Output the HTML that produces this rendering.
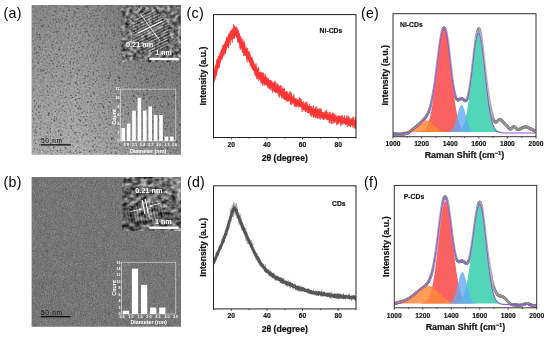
<!DOCTYPE html>
<html lang="en"><head><meta charset="utf-8"><title>Figure: TEM, XRD and Raman of Ni-CDs and CDs</title>
<style>
html,body{margin:0;padding:0;background:#fff;}
body{width:550px;height:338px;overflow:hidden;}
svg{display:block;font-family:"Liberation Sans", Arial, sans-serif;}
.pl{font-size:14.2px;fill:#000;letter-spacing:0.25px;}
.ax{font-size:8.7px;font-weight:bold;fill:#111;text-anchor:middle;stroke:#111;stroke-width:0.2px;}
.tk{font-size:6.7px;font-weight:bold;fill:#111;text-anchor:middle;stroke:#111;stroke-width:0.15px;}
.lb{font-size:6.8px;font-weight:bold;fill:#111;stroke:#111;stroke-width:0.15px;}
.w{fill:#fff;font-weight:bold;}
</style></head><body>
<svg width="550" height="338" viewBox="0 0 550 338">
<defs>
<filter id="na" x="0" y="0" width="100%" height="100%" color-interpolation-filters="sRGB"><feTurbulence type="fractalNoise" baseFrequency="0.6" numOctaves="2" seed="3" result="t"/><feColorMatrix in="t" type="matrix" values="0.3 0 0 0 0.525  0.3 0 0 0 0.525  0.3 0 0 0 0.525  0 0 0 0 1"/></filter>
<filter id="nb" x="0" y="0" width="100%" height="100%" color-interpolation-filters="sRGB"><feTurbulence type="fractalNoise" baseFrequency="1.9" numOctaves="1" seed="11" result="t"/><feColorMatrix in="t" type="matrix" values="0.3 0 0 0 0.31  0.3 0 0 0 0.31  0.3 0 0 0 0.31  0 0 0 0 1"/></filter>
<filter id="ha" x="0" y="0" width="100%" height="100%" color-interpolation-filters="sRGB"><feTurbulence type="fractalNoise" baseFrequency="0.27" numOctaves="2" seed="5" result="t"/><feColorMatrix in="t" type="matrix" values="1.05 0 0 0 -0.08  1.05 0 0 0 -0.08  1.05 0 0 0 -0.08  0 0 0 0 1"/><feGaussianBlur stdDeviation="0.6"/></filter>
<filter id="hb" x="0" y="0" width="100%" height="100%" color-interpolation-filters="sRGB"><feTurbulence type="fractalNoise" baseFrequency="0.17 0.24" numOctaves="2" seed="4" result="t"/><feColorMatrix in="t" type="matrix" values="1.35 0 0 0 -0.24  1.35 0 0 0 -0.24  1.35 0 0 0 -0.24  0 0 0 0 1"/><feGaussianBlur stdDeviation="0.6"/></filter>
<filter id="soft" x="-10%" y="-10%" width="120%" height="120%"><feGaussianBlur stdDeviation="0.4"/></filter>
<filter id="soft2" x="-10%" y="-10%" width="120%" height="120%"><feGaussianBlur stdDeviation="1.2"/></filter>
<linearGradient id="ga" x1="0" y1="1" x2="0" y2="0"><stop offset="0" stop-color="#000" stop-opacity="0"/><stop offset="1" stop-color="#000" stop-opacity="0.2"/></linearGradient>
<linearGradient id="ga2" x1="0" y1="0" x2="1" y2="0"><stop offset="0" stop-color="#000" stop-opacity="0.03"/><stop offset="0.3" stop-color="#000" stop-opacity="0"/><stop offset="0.75" stop-color="#000" stop-opacity="0.15"/><stop offset="1" stop-color="#000" stop-opacity="0.21"/></linearGradient>
<clipPath id="ca"><rect x="31.6" y="5.1" width="149.4" height="149.6"/></clipPath>
<clipPath id="cb"><rect x="31.6" y="177" width="149.4" height="149.8"/></clipPath>
<clipPath id="cc"><rect x="213.5" y="14.6" width="142.5" height="122.9"/></clipPath>
<clipPath id="cd"><rect x="213.5" y="185.8" width="142.5" height="123.1"/></clipPath>
<clipPath id="ce"><rect x="393" y="13.7" width="143" height="123"/></clipPath>
<clipPath id="cf"><rect x="394.3" y="185.4" width="142.4" height="122.4"/></clipPath>
</defs>
<rect width="550" height="338" fill="#fff"/>
<text class="pl" x="3.6" y="17.6">(a)</text>
<text class="pl" x="3.6" y="186.6">(b)</text>
<text class="pl" x="186.6" y="17.6">(c)</text>
<text class="pl" x="187" y="186.6">(d)</text>
<text class="pl" x="361" y="17.6">(e)</text>
<text class="pl" x="364" y="186.6">(f)</text>
<g clip-path="url(#ca)">
<rect x="31" y="5" width="150" height="150" filter="url(#na)"/>
<rect x="31" y="5" width="150" height="150" fill="url(#ga)"/>
<rect x="31" y="5" width="150" height="150" fill="url(#ga2)"/>
<g fill="#2c2c2c" filter="url(#soft)">
<circle cx="32.51" cy="7.22" r="0.5" opacity="0.55"/>
<circle cx="41.85" cy="5.73" r="0.5" opacity="0.45"/>
<circle cx="42.97" cy="6.88" r="0.5" opacity="0.55"/>
<circle cx="46.3" cy="7.14" r="0.5" opacity="0.55"/>
<circle cx="49.1" cy="5.75" r="0.7" opacity="0.3"/>
<circle cx="52.81" cy="5.4" r="0.6" opacity="0.55"/>
<circle cx="56.32" cy="6.98" r="0.75" opacity="0.3"/>
<circle cx="60.95" cy="5.21" r="0.5" opacity="0.55"/>
<circle cx="64.78" cy="6.46" r="0.6" opacity="0.45"/>
<circle cx="67.4" cy="6.02" r="0.85" opacity="0.3"/>
<circle cx="70.08" cy="6.96" r="0.7" opacity="0.45"/>
<circle cx="75.11" cy="5.98" r="0.5" opacity="0.25"/>
<circle cx="76.58" cy="6.17" r="0.65" opacity="0.45"/>
<circle cx="85.38" cy="6.95" r="0.85" opacity="0.4"/>
<circle cx="87.37" cy="6.69" r="0.85" opacity="0.45"/>
<circle cx="98.7" cy="5.22" r="0.75" opacity="0.7"/>
<circle cx="101.68" cy="7.32" r="0.65" opacity="0.4"/>
<circle cx="106.12" cy="6.18" r="0.65" opacity="0.4"/>
<circle cx="106.9" cy="5.2" r="0.85" opacity="0.4"/>
<circle cx="110.72" cy="6.33" r="0.85" opacity="0.45"/>
<circle cx="118.52" cy="8.01" r="0.85" opacity="0.45"/>
<circle cx="120.99" cy="6.42" r="0.6" opacity="0.7"/>
<circle cx="126.68" cy="5.51" r="0.55" opacity="0.3"/>
<circle cx="127.61" cy="6.65" r="0.7" opacity="0.3"/>
<circle cx="130.22" cy="6.43" r="0.6" opacity="0.55"/>
<circle cx="136.82" cy="7.35" r="0.7" opacity="0.55"/>
<circle cx="139.48" cy="6.56" r="0.85" opacity="0.7"/>
<circle cx="141.69" cy="6.36" r="0.5" opacity="0.45"/>
<circle cx="143.96" cy="5.23" r="0.55" opacity="0.45"/>
<circle cx="148.29" cy="5.18" r="0.5" opacity="0.55"/>
<circle cx="150.87" cy="6.24" r="0.5" opacity="0.25"/>
<circle cx="155.99" cy="5.51" r="0.6" opacity="0.4"/>
<circle cx="158.9" cy="5.39" r="0.65" opacity="0.45"/>
<circle cx="161.74" cy="5.49" r="0.75" opacity="0.4"/>
<circle cx="165.69" cy="7.36" r="0.7" opacity="0.25"/>
<circle cx="170.68" cy="6.23" r="0.75" opacity="0.55"/>
<circle cx="173.41" cy="6.02" r="0.75" opacity="0.25"/>
<circle cx="175.11" cy="6.25" r="0.55" opacity="0.4"/>
<circle cx="179.42" cy="7.66" r="0.6" opacity="0.7"/>
<circle cx="34.75" cy="11.77" r="0.85" opacity="0.3"/>
<circle cx="38.16" cy="10.93" r="0.55" opacity="0.3"/>
<circle cx="39.98" cy="8.51" r="0.5" opacity="0.4"/>
<circle cx="42.81" cy="10.47" r="0.6" opacity="0.45"/>
<circle cx="47.99" cy="9.6" r="0.6" opacity="0.25"/>
<circle cx="49.7" cy="9.08" r="0.55" opacity="0.45"/>
<circle cx="55.37" cy="11.27" r="0.65" opacity="0.7"/>
<circle cx="57.88" cy="11.25" r="0.5" opacity="0.45"/>
<circle cx="61.63" cy="10.04" r="0.55" opacity="0.45"/>
<circle cx="63.6" cy="11.14" r="0.75" opacity="0.45"/>
<circle cx="68.38" cy="8.7" r="0.55" opacity="0.3"/>
<circle cx="69.34" cy="10.42" r="0.65" opacity="0.7"/>
<circle cx="75.44" cy="11.75" r="0.75" opacity="0.4"/>
<circle cx="77.88" cy="8.48" r="0.85" opacity="0.7"/>
<circle cx="81.19" cy="11.59" r="0.65" opacity="0.3"/>
<circle cx="83.51" cy="9.27" r="0.6" opacity="0.55"/>
<circle cx="88.17" cy="9.29" r="0.65" opacity="0.3"/>
<circle cx="95.99" cy="10.67" r="0.85" opacity="0.55"/>
<circle cx="99.45" cy="10.12" r="0.7" opacity="0.3"/>
<circle cx="99.79" cy="9.91" r="0.55" opacity="0.55"/>
<circle cx="107.08" cy="10.02" r="0.75" opacity="0.25"/>
<circle cx="110.99" cy="10.18" r="0.7" opacity="0.45"/>
<circle cx="113.63" cy="10.32" r="0.55" opacity="0.3"/>
<circle cx="119.27" cy="10.14" r="0.7" opacity="0.25"/>
<circle cx="123.14" cy="9.92" r="0.7" opacity="0.55"/>
<circle cx="124.11" cy="9.35" r="0.7" opacity="0.55"/>
<circle cx="128.54" cy="9.25" r="0.7" opacity="0.4"/>
<circle cx="133.23" cy="9.1" r="0.65" opacity="0.3"/>
<circle cx="134.92" cy="9.49" r="0.75" opacity="0.3"/>
<circle cx="137.7" cy="9.44" r="0.5" opacity="0.3"/>
<circle cx="142.54" cy="9.66" r="0.6" opacity="0.3"/>
<circle cx="144.49" cy="11.66" r="0.65" opacity="0.45"/>
<circle cx="149.4" cy="9.17" r="0.75" opacity="0.45"/>
<circle cx="151.89" cy="9.85" r="0.6" opacity="0.4"/>
<circle cx="158.44" cy="9.97" r="0.75" opacity="0.25"/>
<circle cx="162.43" cy="9.42" r="0.5" opacity="0.25"/>
<circle cx="166.74" cy="11.72" r="0.5" opacity="0.25"/>
<circle cx="167.59" cy="11.06" r="0.6" opacity="0.3"/>
<circle cx="173.72" cy="10.71" r="0.6" opacity="0.45"/>
<circle cx="177.34" cy="10.35" r="0.75" opacity="0.4"/>
<circle cx="36.83" cy="12.07" r="0.5" opacity="0.7"/>
<circle cx="44.22" cy="12.58" r="0.6" opacity="0.25"/>
<circle cx="46.69" cy="13.7" r="0.6" opacity="0.55"/>
<circle cx="50.72" cy="12.63" r="0.5" opacity="0.3"/>
<circle cx="52.93" cy="15" r="0.75" opacity="0.4"/>
<circle cx="56.4" cy="13.34" r="0.75" opacity="0.3"/>
<circle cx="61.81" cy="15.21" r="0.5" opacity="0.25"/>
<circle cx="69.18" cy="13.57" r="0.55" opacity="0.45"/>
<circle cx="74.1" cy="13.51" r="0.85" opacity="0.45"/>
<circle cx="77.06" cy="12.55" r="0.55" opacity="0.4"/>
<circle cx="82.4" cy="14.3" r="0.55" opacity="0.45"/>
<circle cx="86.12" cy="14.67" r="0.5" opacity="0.25"/>
<circle cx="89.16" cy="13.29" r="0.5" opacity="0.25"/>
<circle cx="90.86" cy="13.54" r="0.6" opacity="0.55"/>
<circle cx="93.95" cy="13.38" r="0.55" opacity="0.4"/>
<circle cx="97.23" cy="15.1" r="0.7" opacity="0.4"/>
<circle cx="103" cy="12.87" r="0.6" opacity="0.3"/>
<circle cx="108.11" cy="13.53" r="0.55" opacity="0.3"/>
<circle cx="109.9" cy="12.72" r="0.5" opacity="0.3"/>
<circle cx="113.41" cy="11.89" r="0.6" opacity="0.7"/>
<circle cx="118.64" cy="13.62" r="0.85" opacity="0.3"/>
<circle cx="122.47" cy="14.82" r="0.65" opacity="0.4"/>
<circle cx="125.11" cy="12.79" r="0.7" opacity="0.7"/>
<circle cx="129.61" cy="14.26" r="0.7" opacity="0.7"/>
<circle cx="132.58" cy="13.54" r="0.7" opacity="0.55"/>
<circle cx="136.34" cy="11.87" r="0.75" opacity="0.55"/>
<circle cx="139.39" cy="15.08" r="0.75" opacity="0.3"/>
<circle cx="150.39" cy="13.1" r="0.65" opacity="0.55"/>
<circle cx="158.12" cy="12.72" r="0.65" opacity="0.25"/>
<circle cx="162.39" cy="13.64" r="0.75" opacity="0.55"/>
<circle cx="168.31" cy="12.07" r="0.6" opacity="0.3"/>
<circle cx="171.54" cy="14.34" r="0.65" opacity="0.45"/>
<circle cx="174.49" cy="14.92" r="0.6" opacity="0.25"/>
<circle cx="179.79" cy="12.08" r="0.55" opacity="0.4"/>
<circle cx="34.52" cy="16.27" r="0.7" opacity="0.3"/>
<circle cx="44.43" cy="17.59" r="0.75" opacity="0.45"/>
<circle cx="47.29" cy="16.81" r="0.65" opacity="0.25"/>
<circle cx="50.79" cy="16.29" r="0.5" opacity="0.45"/>
<circle cx="58.48" cy="18.53" r="0.65" opacity="0.4"/>
<circle cx="62.19" cy="18.4" r="0.5" opacity="0.55"/>
<circle cx="66.75" cy="16.45" r="0.7" opacity="0.7"/>
<circle cx="72.25" cy="17.63" r="0.55" opacity="0.45"/>
<circle cx="74.28" cy="15.31" r="0.5" opacity="0.45"/>
<circle cx="77.4" cy="17.71" r="0.65" opacity="0.4"/>
<circle cx="79.82" cy="16.36" r="0.6" opacity="0.4"/>
<circle cx="83.2" cy="18.39" r="0.75" opacity="0.25"/>
<circle cx="87.16" cy="16.5" r="0.65" opacity="0.45"/>
<circle cx="91.56" cy="16.46" r="0.65" opacity="0.4"/>
<circle cx="93.9" cy="15.4" r="0.75" opacity="0.4"/>
<circle cx="96.85" cy="18.54" r="0.65" opacity="0.55"/>
<circle cx="102.35" cy="17.9" r="0.65" opacity="0.25"/>
<circle cx="105.25" cy="18.34" r="0.7" opacity="0.55"/>
<circle cx="106.77" cy="18.41" r="0.65" opacity="0.45"/>
<circle cx="110.36" cy="18.19" r="0.65" opacity="0.25"/>
<circle cx="115.14" cy="15.81" r="0.65" opacity="0.4"/>
<circle cx="117.53" cy="17.75" r="0.75" opacity="0.4"/>
<circle cx="120.85" cy="16.87" r="0.75" opacity="0.45"/>
<circle cx="127.07" cy="16.93" r="0.85" opacity="0.45"/>
<circle cx="131.74" cy="16.36" r="0.85" opacity="0.45"/>
<circle cx="135.45" cy="16.06" r="0.55" opacity="0.4"/>
<circle cx="138.06" cy="16.48" r="0.85" opacity="0.55"/>
<circle cx="140.43" cy="18.2" r="0.65" opacity="0.45"/>
<circle cx="144.46" cy="16.15" r="0.85" opacity="0.25"/>
<circle cx="149.08" cy="16.46" r="0.75" opacity="0.55"/>
<circle cx="153.2" cy="18.12" r="0.5" opacity="0.4"/>
<circle cx="155.21" cy="17.43" r="0.65" opacity="0.4"/>
<circle cx="160.25" cy="15.3" r="0.5" opacity="0.45"/>
<circle cx="163.71" cy="16.84" r="0.7" opacity="0.45"/>
<circle cx="170.59" cy="18.04" r="0.85" opacity="0.45"/>
<circle cx="171.68" cy="15.6" r="0.55" opacity="0.3"/>
<circle cx="176.54" cy="18.44" r="0.75" opacity="0.7"/>
<circle cx="180.2" cy="16.79" r="0.7" opacity="0.25"/>
<circle cx="37.31" cy="18.76" r="0.75" opacity="0.4"/>
<circle cx="40.89" cy="20.44" r="0.65" opacity="0.7"/>
<circle cx="42.5" cy="19.66" r="0.7" opacity="0.3"/>
<circle cx="46.3" cy="20.69" r="0.5" opacity="0.55"/>
<circle cx="50.49" cy="21.91" r="0.75" opacity="0.3"/>
<circle cx="53.11" cy="19.48" r="0.65" opacity="0.7"/>
<circle cx="55.89" cy="19.3" r="0.75" opacity="0.7"/>
<circle cx="59.96" cy="20.91" r="0.6" opacity="0.3"/>
<circle cx="64.83" cy="21.09" r="0.6" opacity="0.7"/>
<circle cx="65.89" cy="19.63" r="0.85" opacity="0.55"/>
<circle cx="73.32" cy="21.25" r="0.55" opacity="0.3"/>
<circle cx="76.92" cy="21.67" r="0.5" opacity="0.55"/>
<circle cx="80.04" cy="19.4" r="0.65" opacity="0.7"/>
<circle cx="89.3" cy="18.82" r="0.5" opacity="0.55"/>
<circle cx="89.74" cy="18.84" r="0.65" opacity="0.45"/>
<circle cx="95.95" cy="21.13" r="0.5" opacity="0.3"/>
<circle cx="96.97" cy="21.83" r="0.75" opacity="0.45"/>
<circle cx="104.4" cy="19.91" r="0.6" opacity="0.45"/>
<circle cx="106.51" cy="19.59" r="0.6" opacity="0.45"/>
<circle cx="110.31" cy="21.92" r="0.55" opacity="0.45"/>
<circle cx="116.05" cy="21.44" r="0.65" opacity="0.25"/>
<circle cx="121.31" cy="21.77" r="0.55" opacity="0.4"/>
<circle cx="126.47" cy="18.74" r="0.65" opacity="0.3"/>
<circle cx="129.41" cy="18.77" r="0.5" opacity="0.45"/>
<circle cx="134.46" cy="21.18" r="0.7" opacity="0.4"/>
<circle cx="138.11" cy="21.89" r="0.5" opacity="0.4"/>
<circle cx="142.7" cy="21.79" r="0.6" opacity="0.25"/>
<circle cx="145.77" cy="21.38" r="0.5" opacity="0.25"/>
<circle cx="147.5" cy="21.08" r="0.65" opacity="0.45"/>
<circle cx="153.62" cy="21.41" r="0.55" opacity="0.45"/>
<circle cx="156.63" cy="21.15" r="0.85" opacity="0.7"/>
<circle cx="159.35" cy="19.75" r="0.6" opacity="0.45"/>
<circle cx="163.33" cy="18.91" r="0.55" opacity="0.45"/>
<circle cx="164.91" cy="18.86" r="0.5" opacity="0.45"/>
<circle cx="168.56" cy="21.98" r="0.5" opacity="0.25"/>
<circle cx="171.13" cy="18.97" r="0.65" opacity="0.7"/>
<circle cx="174.81" cy="19.09" r="0.65" opacity="0.55"/>
<circle cx="178.41" cy="20.47" r="0.85" opacity="0.7"/>
<circle cx="34.64" cy="23.05" r="0.6" opacity="0.55"/>
<circle cx="36.25" cy="22.93" r="0.65" opacity="0.3"/>
<circle cx="39.57" cy="23" r="0.7" opacity="0.3"/>
<circle cx="43.5" cy="25.43" r="0.7" opacity="0.55"/>
<circle cx="48.28" cy="24.27" r="0.5" opacity="0.25"/>
<circle cx="53.1" cy="23.57" r="0.6" opacity="0.25"/>
<circle cx="56.49" cy="22.22" r="0.7" opacity="0.55"/>
<circle cx="59.35" cy="23.79" r="0.55" opacity="0.45"/>
<circle cx="65.1" cy="24.31" r="0.5" opacity="0.25"/>
<circle cx="68.27" cy="23.24" r="0.5" opacity="0.4"/>
<circle cx="69.4" cy="25.45" r="0.5" opacity="0.55"/>
<circle cx="75.73" cy="24.82" r="0.85" opacity="0.4"/>
<circle cx="77.28" cy="24.16" r="0.5" opacity="0.3"/>
<circle cx="84.43" cy="23.44" r="0.85" opacity="0.45"/>
<circle cx="86.71" cy="23.87" r="0.75" opacity="0.3"/>
<circle cx="90.49" cy="25.41" r="0.75" opacity="0.4"/>
<circle cx="93.13" cy="24.59" r="0.6" opacity="0.45"/>
<circle cx="99.27" cy="25.44" r="0.6" opacity="0.7"/>
<circle cx="102.19" cy="22.74" r="0.5" opacity="0.45"/>
<circle cx="104.55" cy="24.84" r="0.65" opacity="0.55"/>
<circle cx="108.06" cy="22.6" r="0.5" opacity="0.25"/>
<circle cx="112.06" cy="25.15" r="0.5" opacity="0.55"/>
<circle cx="114.53" cy="23.77" r="0.55" opacity="0.4"/>
<circle cx="118.42" cy="25.2" r="0.5" opacity="0.45"/>
<circle cx="122.77" cy="25.34" r="0.55" opacity="0.4"/>
<circle cx="126.63" cy="25.37" r="0.65" opacity="0.4"/>
<circle cx="131.52" cy="25.13" r="0.7" opacity="0.7"/>
<circle cx="134.13" cy="24.72" r="0.55" opacity="0.55"/>
<circle cx="139.84" cy="24.87" r="0.55" opacity="0.55"/>
<circle cx="141.72" cy="23.81" r="0.65" opacity="0.4"/>
<circle cx="144.59" cy="24.52" r="0.55" opacity="0.25"/>
<circle cx="149.99" cy="24.34" r="0.75" opacity="0.4"/>
<circle cx="155.77" cy="24.18" r="0.6" opacity="0.7"/>
<circle cx="159.27" cy="23.5" r="0.75" opacity="0.4"/>
<circle cx="162.17" cy="22.13" r="0.7" opacity="0.45"/>
<circle cx="165.58" cy="24.15" r="0.85" opacity="0.45"/>
<circle cx="170.2" cy="23.41" r="0.5" opacity="0.3"/>
<circle cx="172.08" cy="24.78" r="0.7" opacity="0.55"/>
<circle cx="174.36" cy="22.49" r="0.75" opacity="0.4"/>
<circle cx="179.35" cy="22.23" r="0.7" opacity="0.45"/>
<circle cx="34.66" cy="25.54" r="0.5" opacity="0.55"/>
<circle cx="38.15" cy="26.11" r="0.65" opacity="0.4"/>
<circle cx="41.87" cy="26.02" r="0.85" opacity="0.7"/>
<circle cx="42.38" cy="26.65" r="0.85" opacity="0.4"/>
<circle cx="48.58" cy="26.39" r="0.85" opacity="0.45"/>
<circle cx="50.63" cy="28.59" r="0.55" opacity="0.55"/>
<circle cx="54.03" cy="26.54" r="0.5" opacity="0.3"/>
<circle cx="56.25" cy="28.65" r="0.75" opacity="0.4"/>
<circle cx="59.66" cy="28.13" r="0.5" opacity="0.55"/>
<circle cx="69.14" cy="27" r="0.7" opacity="0.55"/>
<circle cx="72.28" cy="26.31" r="0.7" opacity="0.7"/>
<circle cx="75.14" cy="26.72" r="0.65" opacity="0.4"/>
<circle cx="77.24" cy="28.06" r="0.65" opacity="0.3"/>
<circle cx="81.93" cy="25.62" r="0.85" opacity="0.55"/>
<circle cx="84.96" cy="28.81" r="0.7" opacity="0.7"/>
<circle cx="88.66" cy="28" r="0.55" opacity="0.3"/>
<circle cx="91.69" cy="26.88" r="0.6" opacity="0.25"/>
<circle cx="93.72" cy="27.68" r="0.5" opacity="0.25"/>
<circle cx="100.09" cy="26.67" r="0.55" opacity="0.45"/>
<circle cx="105.11" cy="26.15" r="0.7" opacity="0.45"/>
<circle cx="106.55" cy="28.19" r="0.75" opacity="0.3"/>
<circle cx="110.1" cy="25.95" r="0.75" opacity="0.4"/>
<circle cx="114.17" cy="25.49" r="0.75" opacity="0.55"/>
<circle cx="118.67" cy="27.43" r="0.7" opacity="0.55"/>
<circle cx="120.89" cy="28.53" r="0.5" opacity="0.25"/>
<circle cx="124.81" cy="26.26" r="0.5" opacity="0.25"/>
<circle cx="133.39" cy="25.94" r="0.55" opacity="0.55"/>
<circle cx="135.31" cy="27.64" r="0.85" opacity="0.55"/>
<circle cx="138.02" cy="26.48" r="0.5" opacity="0.7"/>
<circle cx="142.79" cy="25.48" r="0.85" opacity="0.45"/>
<circle cx="145.33" cy="27.98" r="0.65" opacity="0.3"/>
<circle cx="147.49" cy="26.25" r="0.5" opacity="0.25"/>
<circle cx="153.06" cy="27.82" r="0.85" opacity="0.4"/>
<circle cx="154.81" cy="27.34" r="0.65" opacity="0.7"/>
<circle cx="159.07" cy="26.36" r="0.75" opacity="0.3"/>
<circle cx="164.64" cy="28.54" r="0.85" opacity="0.7"/>
<circle cx="167.99" cy="28.57" r="0.55" opacity="0.45"/>
<circle cx="171.65" cy="28.55" r="0.75" opacity="0.7"/>
<circle cx="177.08" cy="27.28" r="0.65" opacity="0.55"/>
<circle cx="180.52" cy="26.95" r="0.75" opacity="0.3"/>
<circle cx="33.04" cy="29.59" r="0.7" opacity="0.55"/>
<circle cx="39.26" cy="28.96" r="0.5" opacity="0.55"/>
<circle cx="43.33" cy="29.35" r="0.5" opacity="0.25"/>
<circle cx="51.08" cy="31.24" r="0.75" opacity="0.25"/>
<circle cx="56.94" cy="31.65" r="0.85" opacity="0.55"/>
<circle cx="59.31" cy="31.82" r="0.75" opacity="0.45"/>
<circle cx="66.24" cy="28.98" r="0.85" opacity="0.7"/>
<circle cx="74.78" cy="30.49" r="0.55" opacity="0.25"/>
<circle cx="78.21" cy="29.87" r="0.6" opacity="0.45"/>
<circle cx="80.6" cy="32.03" r="0.5" opacity="0.7"/>
<circle cx="85.88" cy="31.49" r="0.7" opacity="0.55"/>
<circle cx="87.16" cy="31.41" r="0.85" opacity="0.45"/>
<circle cx="93.29" cy="30.46" r="0.5" opacity="0.55"/>
<circle cx="98.76" cy="31.69" r="0.7" opacity="0.4"/>
<circle cx="99.73" cy="29.55" r="0.85" opacity="0.25"/>
<circle cx="108.16" cy="31.58" r="0.55" opacity="0.45"/>
<circle cx="113.13" cy="30.62" r="0.7" opacity="0.3"/>
<circle cx="114" cy="31.25" r="0.65" opacity="0.3"/>
<circle cx="120.32" cy="31.55" r="0.75" opacity="0.55"/>
<circle cx="125.56" cy="30.08" r="0.65" opacity="0.45"/>
<circle cx="129.34" cy="30.3" r="0.75" opacity="0.25"/>
<circle cx="131.23" cy="30.32" r="0.7" opacity="0.55"/>
<circle cx="136.92" cy="31.01" r="0.65" opacity="0.3"/>
<circle cx="139.53" cy="31.43" r="0.75" opacity="0.25"/>
<circle cx="141.47" cy="29.39" r="0.85" opacity="0.45"/>
<circle cx="146.26" cy="29.44" r="0.65" opacity="0.7"/>
<circle cx="149.1" cy="29.29" r="0.65" opacity="0.7"/>
<circle cx="151.33" cy="29.52" r="0.6" opacity="0.7"/>
<circle cx="156" cy="31.33" r="0.55" opacity="0.7"/>
<circle cx="159.06" cy="29.41" r="0.6" opacity="0.3"/>
<circle cx="163.92" cy="32.26" r="0.55" opacity="0.7"/>
<circle cx="170.79" cy="31.57" r="0.75" opacity="0.4"/>
<circle cx="171.51" cy="31.04" r="0.5" opacity="0.4"/>
<circle cx="175.54" cy="28.98" r="0.65" opacity="0.45"/>
<circle cx="179.31" cy="31.02" r="0.65" opacity="0.25"/>
<circle cx="34.04" cy="33.65" r="0.75" opacity="0.3"/>
<circle cx="36.84" cy="34.23" r="0.75" opacity="0.7"/>
<circle cx="39.55" cy="34.73" r="0.85" opacity="0.7"/>
<circle cx="45.05" cy="34.59" r="0.75" opacity="0.25"/>
<circle cx="46.61" cy="34.41" r="0.5" opacity="0.45"/>
<circle cx="50.29" cy="34.7" r="0.55" opacity="0.4"/>
<circle cx="53.95" cy="32.34" r="0.85" opacity="0.45"/>
<circle cx="57.94" cy="35.25" r="0.75" opacity="0.4"/>
<circle cx="60.41" cy="33.94" r="0.5" opacity="0.25"/>
<circle cx="63.22" cy="34.71" r="0.55" opacity="0.55"/>
<circle cx="68.73" cy="33.83" r="0.55" opacity="0.7"/>
<circle cx="69.3" cy="34.97" r="0.6" opacity="0.55"/>
<circle cx="75.15" cy="33.83" r="0.75" opacity="0.3"/>
<circle cx="78.61" cy="32.69" r="0.7" opacity="0.4"/>
<circle cx="80.26" cy="33.57" r="0.5" opacity="0.25"/>
<circle cx="88.31" cy="34.57" r="0.7" opacity="0.4"/>
<circle cx="94.31" cy="35.52" r="0.55" opacity="0.45"/>
<circle cx="96.9" cy="35.44" r="0.5" opacity="0.7"/>
<circle cx="101.9" cy="34.73" r="0.85" opacity="0.3"/>
<circle cx="105.28" cy="35.06" r="0.85" opacity="0.45"/>
<circle cx="107.5" cy="34.14" r="0.55" opacity="0.45"/>
<circle cx="112.77" cy="33.18" r="0.65" opacity="0.7"/>
<circle cx="114.72" cy="32.91" r="0.5" opacity="0.7"/>
<circle cx="117.87" cy="34.5" r="0.6" opacity="0.45"/>
<circle cx="122.16" cy="32.56" r="0.6" opacity="0.3"/>
<circle cx="126.33" cy="32.47" r="0.85" opacity="0.55"/>
<circle cx="129.47" cy="32.75" r="0.85" opacity="0.4"/>
<circle cx="130.26" cy="32.31" r="0.5" opacity="0.7"/>
<circle cx="135.65" cy="34.24" r="0.85" opacity="0.3"/>
<circle cx="138.51" cy="34.95" r="0.55" opacity="0.45"/>
<circle cx="140.93" cy="35.31" r="0.7" opacity="0.25"/>
<circle cx="146.78" cy="34.96" r="0.85" opacity="0.4"/>
<circle cx="149.48" cy="34.08" r="0.75" opacity="0.45"/>
<circle cx="150.92" cy="32.68" r="0.65" opacity="0.3"/>
<circle cx="155.51" cy="34.17" r="0.65" opacity="0.45"/>
<circle cx="159.67" cy="33.11" r="0.55" opacity="0.55"/>
<circle cx="163.17" cy="32.82" r="0.6" opacity="0.45"/>
<circle cx="165.75" cy="33.28" r="0.65" opacity="0.4"/>
<circle cx="170.84" cy="34.58" r="0.55" opacity="0.7"/>
<circle cx="173.03" cy="32.34" r="0.5" opacity="0.7"/>
<circle cx="177.61" cy="35.03" r="0.5" opacity="0.55"/>
<circle cx="180.18" cy="32.77" r="0.55" opacity="0.7"/>
<circle cx="32.43" cy="36" r="0.75" opacity="0.4"/>
<circle cx="38.02" cy="37.57" r="0.55" opacity="0.4"/>
<circle cx="40.2" cy="37.57" r="0.85" opacity="0.4"/>
<circle cx="44.96" cy="37.06" r="0.7" opacity="0.4"/>
<circle cx="46.71" cy="36.38" r="0.65" opacity="0.25"/>
<circle cx="50.01" cy="36.7" r="0.7" opacity="0.7"/>
<circle cx="57.06" cy="37.57" r="0.65" opacity="0.55"/>
<circle cx="60.44" cy="36.05" r="0.5" opacity="0.3"/>
<circle cx="64.09" cy="38.29" r="0.5" opacity="0.55"/>
<circle cx="67.94" cy="37.78" r="0.75" opacity="0.7"/>
<circle cx="71.27" cy="38" r="0.55" opacity="0.25"/>
<circle cx="74.19" cy="38.28" r="0.5" opacity="0.7"/>
<circle cx="76.15" cy="38.32" r="0.75" opacity="0.25"/>
<circle cx="82.19" cy="38.36" r="0.7" opacity="0.7"/>
<circle cx="83.82" cy="37.12" r="0.6" opacity="0.25"/>
<circle cx="88.36" cy="38.87" r="0.5" opacity="0.45"/>
<circle cx="89.7" cy="36.09" r="0.85" opacity="0.45"/>
<circle cx="96.07" cy="37.2" r="0.5" opacity="0.7"/>
<circle cx="98.35" cy="38.88" r="0.55" opacity="0.45"/>
<circle cx="101.59" cy="35.96" r="0.65" opacity="0.3"/>
<circle cx="105.24" cy="37.14" r="0.5" opacity="0.7"/>
<circle cx="109.84" cy="38.61" r="0.55" opacity="0.25"/>
<circle cx="109.95" cy="38.13" r="0.55" opacity="0.45"/>
<circle cx="113.91" cy="35.85" r="0.85" opacity="0.7"/>
<circle cx="119.56" cy="38.17" r="0.5" opacity="0.4"/>
<circle cx="122.45" cy="37.25" r="0.6" opacity="0.25"/>
<circle cx="123.47" cy="35.73" r="0.75" opacity="0.7"/>
<circle cx="127.09" cy="36.74" r="0.75" opacity="0.55"/>
<circle cx="133.12" cy="37.34" r="0.5" opacity="0.4"/>
<circle cx="135.54" cy="37.18" r="0.75" opacity="0.3"/>
<circle cx="139.68" cy="36.92" r="0.75" opacity="0.3"/>
<circle cx="141.78" cy="37" r="0.85" opacity="0.45"/>
<circle cx="146.41" cy="37.61" r="0.6" opacity="0.4"/>
<circle cx="152.9" cy="38.5" r="0.6" opacity="0.55"/>
<circle cx="153.96" cy="36.2" r="0.85" opacity="0.4"/>
<circle cx="160.6" cy="36.52" r="0.65" opacity="0.7"/>
<circle cx="163.29" cy="36.48" r="0.65" opacity="0.4"/>
<circle cx="165.16" cy="36.6" r="0.55" opacity="0.55"/>
<circle cx="170.04" cy="38.35" r="0.6" opacity="0.3"/>
<circle cx="173.78" cy="37.63" r="0.6" opacity="0.55"/>
<circle cx="177.32" cy="36.86" r="0.5" opacity="0.55"/>
<circle cx="180.31" cy="36.37" r="0.85" opacity="0.7"/>
<circle cx="32.79" cy="41.16" r="0.75" opacity="0.45"/>
<circle cx="36.09" cy="39.96" r="0.85" opacity="0.25"/>
<circle cx="40.33" cy="39.39" r="0.85" opacity="0.4"/>
<circle cx="42.95" cy="41.07" r="0.6" opacity="0.55"/>
<circle cx="47.26" cy="39.78" r="0.55" opacity="0.3"/>
<circle cx="53.3" cy="41.06" r="0.6" opacity="0.45"/>
<circle cx="58.61" cy="39.93" r="0.65" opacity="0.4"/>
<circle cx="60.35" cy="40.67" r="0.5" opacity="0.3"/>
<circle cx="62.58" cy="40.05" r="0.7" opacity="0.25"/>
<circle cx="72.2" cy="41.02" r="0.7" opacity="0.55"/>
<circle cx="75.77" cy="40.04" r="0.5" opacity="0.45"/>
<circle cx="78.8" cy="42.38" r="0.6" opacity="0.25"/>
<circle cx="82.78" cy="40.38" r="0.5" opacity="0.25"/>
<circle cx="88.57" cy="40.75" r="0.85" opacity="0.25"/>
<circle cx="91.73" cy="42.23" r="0.75" opacity="0.25"/>
<circle cx="94.87" cy="41.27" r="0.75" opacity="0.55"/>
<circle cx="97.86" cy="39.64" r="0.55" opacity="0.7"/>
<circle cx="99.86" cy="39.96" r="0.6" opacity="0.25"/>
<circle cx="106.18" cy="41.95" r="0.5" opacity="0.4"/>
<circle cx="108.9" cy="41.3" r="0.65" opacity="0.25"/>
<circle cx="113.29" cy="39.77" r="0.75" opacity="0.4"/>
<circle cx="118.15" cy="41.32" r="0.65" opacity="0.4"/>
<circle cx="121.37" cy="40.37" r="0.65" opacity="0.3"/>
<circle cx="126.17" cy="42.21" r="0.5" opacity="0.45"/>
<circle cx="127.48" cy="39.21" r="0.85" opacity="0.3"/>
<circle cx="134.85" cy="41.64" r="0.85" opacity="0.45"/>
<circle cx="140.11" cy="40.4" r="0.5" opacity="0.7"/>
<circle cx="144.84" cy="39.89" r="0.5" opacity="0.7"/>
<circle cx="148.26" cy="41.6" r="0.55" opacity="0.7"/>
<circle cx="153.53" cy="40.59" r="0.55" opacity="0.4"/>
<circle cx="154.74" cy="39.18" r="0.7" opacity="0.4"/>
<circle cx="157.86" cy="40.76" r="0.6" opacity="0.45"/>
<circle cx="161.07" cy="42.43" r="0.5" opacity="0.7"/>
<circle cx="166.33" cy="39.81" r="0.65" opacity="0.4"/>
<circle cx="174.13" cy="40.56" r="0.6" opacity="0.3"/>
<circle cx="174.56" cy="40.08" r="0.55" opacity="0.25"/>
<circle cx="180.93" cy="39.58" r="0.75" opacity="0.25"/>
<circle cx="33.72" cy="44.24" r="0.65" opacity="0.25"/>
<circle cx="38.58" cy="43.48" r="0.6" opacity="0.45"/>
<circle cx="43.1" cy="43.12" r="0.85" opacity="0.3"/>
<circle cx="46.33" cy="43.1" r="0.7" opacity="0.25"/>
<circle cx="51.94" cy="44.99" r="0.85" opacity="0.4"/>
<circle cx="52.78" cy="44.78" r="0.75" opacity="0.3"/>
<circle cx="56.39" cy="42.72" r="0.75" opacity="0.55"/>
<circle cx="61.53" cy="42.69" r="0.85" opacity="0.4"/>
<circle cx="65.33" cy="45.45" r="0.65" opacity="0.25"/>
<circle cx="70.86" cy="45.47" r="0.6" opacity="0.3"/>
<circle cx="75.45" cy="43.75" r="0.55" opacity="0.7"/>
<circle cx="78.04" cy="42.52" r="0.7" opacity="0.45"/>
<circle cx="79.65" cy="43.72" r="0.55" opacity="0.4"/>
<circle cx="85.74" cy="44.46" r="0.5" opacity="0.4"/>
<circle cx="89.41" cy="44.19" r="0.7" opacity="0.25"/>
<circle cx="91.39" cy="42.57" r="0.5" opacity="0.3"/>
<circle cx="93.52" cy="43.56" r="0.7" opacity="0.25"/>
<circle cx="102.23" cy="43.39" r="0.85" opacity="0.55"/>
<circle cx="104.68" cy="43.31" r="0.65" opacity="0.25"/>
<circle cx="106.82" cy="43.11" r="0.6" opacity="0.25"/>
<circle cx="111.87" cy="45.1" r="0.5" opacity="0.25"/>
<circle cx="116.27" cy="44.35" r="0.55" opacity="0.3"/>
<circle cx="118.6" cy="45.05" r="0.55" opacity="0.25"/>
<circle cx="121.36" cy="43.93" r="0.85" opacity="0.55"/>
<circle cx="124.77" cy="45.71" r="0.85" opacity="0.4"/>
<circle cx="127.63" cy="43.64" r="0.65" opacity="0.55"/>
<circle cx="133.3" cy="45.28" r="0.85" opacity="0.55"/>
<circle cx="140.22" cy="45.69" r="0.55" opacity="0.45"/>
<circle cx="140.4" cy="42.87" r="0.55" opacity="0.25"/>
<circle cx="144.43" cy="44.78" r="0.55" opacity="0.3"/>
<circle cx="148.48" cy="45.9" r="0.65" opacity="0.7"/>
<circle cx="157.21" cy="42.64" r="0.85" opacity="0.7"/>
<circle cx="160.4" cy="44.63" r="0.75" opacity="0.55"/>
<circle cx="160.8" cy="42.84" r="0.5" opacity="0.55"/>
<circle cx="167.59" cy="42.89" r="0.6" opacity="0.7"/>
<circle cx="171.05" cy="45.77" r="0.7" opacity="0.4"/>
<circle cx="180.77" cy="44" r="0.7" opacity="0.3"/>
<circle cx="35.1" cy="47.88" r="0.6" opacity="0.3"/>
<circle cx="37.89" cy="46.89" r="0.65" opacity="0.55"/>
<circle cx="39.52" cy="47.23" r="0.7" opacity="0.7"/>
<circle cx="45.18" cy="46.94" r="0.65" opacity="0.45"/>
<circle cx="45.65" cy="47.05" r="0.55" opacity="0.55"/>
<circle cx="52.22" cy="47.26" r="0.6" opacity="0.3"/>
<circle cx="53.13" cy="47.81" r="0.65" opacity="0.4"/>
<circle cx="59.05" cy="46.92" r="0.85" opacity="0.25"/>
<circle cx="59.32" cy="48.88" r="0.65" opacity="0.7"/>
<circle cx="67.35" cy="48.42" r="0.5" opacity="0.55"/>
<circle cx="72.5" cy="48.43" r="0.55" opacity="0.45"/>
<circle cx="73.83" cy="48.21" r="0.7" opacity="0.55"/>
<circle cx="78.8" cy="47.67" r="0.75" opacity="0.7"/>
<circle cx="82.78" cy="46.83" r="0.75" opacity="0.7"/>
<circle cx="85.18" cy="47.32" r="0.5" opacity="0.25"/>
<circle cx="88.04" cy="46.31" r="0.65" opacity="0.55"/>
<circle cx="92.45" cy="46.86" r="0.7" opacity="0.55"/>
<circle cx="98.69" cy="46.89" r="0.6" opacity="0.4"/>
<circle cx="101.51" cy="47.94" r="0.75" opacity="0.4"/>
<circle cx="109.85" cy="47.21" r="0.6" opacity="0.3"/>
<circle cx="112.61" cy="47.39" r="0.65" opacity="0.55"/>
<circle cx="116.06" cy="47.03" r="0.85" opacity="0.55"/>
<circle cx="119.91" cy="46.61" r="0.65" opacity="0.25"/>
<circle cx="126.47" cy="46.93" r="0.7" opacity="0.4"/>
<circle cx="130.2" cy="47.67" r="0.7" opacity="0.7"/>
<circle cx="131.52" cy="47.13" r="0.7" opacity="0.7"/>
<circle cx="136.8" cy="48.22" r="0.7" opacity="0.3"/>
<circle cx="141.72" cy="47.82" r="0.7" opacity="0.3"/>
<circle cx="147.02" cy="47.57" r="0.65" opacity="0.55"/>
<circle cx="149.13" cy="48.27" r="0.75" opacity="0.25"/>
<circle cx="151.6" cy="49.24" r="0.85" opacity="0.4"/>
<circle cx="154.28" cy="48.96" r="0.75" opacity="0.4"/>
<circle cx="160.65" cy="48.94" r="0.65" opacity="0.7"/>
<circle cx="161.66" cy="47.65" r="0.7" opacity="0.3"/>
<circle cx="164.27" cy="47.84" r="0.5" opacity="0.4"/>
<circle cx="169.59" cy="48.37" r="0.75" opacity="0.45"/>
<circle cx="179.49" cy="49.04" r="0.65" opacity="0.25"/>
<circle cx="34.26" cy="49.99" r="0.65" opacity="0.55"/>
<circle cx="38.34" cy="52.37" r="0.7" opacity="0.3"/>
<circle cx="40.16" cy="49.73" r="0.55" opacity="0.55"/>
<circle cx="42.52" cy="49.66" r="0.55" opacity="0.55"/>
<circle cx="47.13" cy="50.79" r="0.85" opacity="0.25"/>
<circle cx="51.25" cy="51.29" r="0.55" opacity="0.7"/>
<circle cx="53.25" cy="49.43" r="0.75" opacity="0.25"/>
<circle cx="58.91" cy="49.53" r="0.55" opacity="0.45"/>
<circle cx="59.16" cy="50.07" r="0.65" opacity="0.55"/>
<circle cx="62.63" cy="49.5" r="0.55" opacity="0.3"/>
<circle cx="66.4" cy="51.32" r="0.55" opacity="0.4"/>
<circle cx="74.18" cy="50.74" r="0.6" opacity="0.45"/>
<circle cx="76.25" cy="51.63" r="0.75" opacity="0.7"/>
<circle cx="80.81" cy="50.68" r="0.75" opacity="0.45"/>
<circle cx="86.48" cy="49.9" r="0.65" opacity="0.3"/>
<circle cx="94.3" cy="50.56" r="0.6" opacity="0.55"/>
<circle cx="97.48" cy="51.54" r="0.5" opacity="0.45"/>
<circle cx="100.92" cy="50.15" r="0.55" opacity="0.45"/>
<circle cx="103.92" cy="49.44" r="0.75" opacity="0.25"/>
<circle cx="107.03" cy="51.72" r="0.5" opacity="0.3"/>
<circle cx="112.71" cy="49.75" r="0.65" opacity="0.45"/>
<circle cx="116" cy="49.86" r="0.6" opacity="0.3"/>
<circle cx="117.94" cy="52.59" r="0.55" opacity="0.4"/>
<circle cx="121.75" cy="50.09" r="0.65" opacity="0.7"/>
<circle cx="125.82" cy="50.21" r="0.65" opacity="0.55"/>
<circle cx="128.63" cy="50.7" r="0.7" opacity="0.3"/>
<circle cx="132.75" cy="51.63" r="0.5" opacity="0.55"/>
<circle cx="136.08" cy="51.93" r="0.5" opacity="0.7"/>
<circle cx="137.47" cy="49.37" r="0.75" opacity="0.25"/>
<circle cx="142.99" cy="50.11" r="0.55" opacity="0.7"/>
<circle cx="143.98" cy="52.43" r="0.85" opacity="0.55"/>
<circle cx="147.79" cy="51.77" r="0.5" opacity="0.3"/>
<circle cx="153.29" cy="50.68" r="0.6" opacity="0.45"/>
<circle cx="155.48" cy="51.46" r="0.75" opacity="0.3"/>
<circle cx="157.89" cy="50.57" r="0.85" opacity="0.7"/>
<circle cx="163.72" cy="49.4" r="0.75" opacity="0.7"/>
<circle cx="167.45" cy="50.68" r="0.75" opacity="0.25"/>
<circle cx="167.84" cy="52.43" r="0.75" opacity="0.3"/>
<circle cx="170.98" cy="49.45" r="0.55" opacity="0.45"/>
<circle cx="175.25" cy="50.62" r="0.5" opacity="0.55"/>
<circle cx="179.78" cy="49.93" r="0.85" opacity="0.3"/>
<circle cx="34.43" cy="53.6" r="0.65" opacity="0.7"/>
<circle cx="36.57" cy="52.73" r="0.85" opacity="0.7"/>
<circle cx="38.92" cy="55.64" r="0.7" opacity="0.7"/>
<circle cx="45.92" cy="55.43" r="0.55" opacity="0.4"/>
<circle cx="49.22" cy="55.1" r="0.65" opacity="0.7"/>
<circle cx="53.07" cy="54.52" r="0.6" opacity="0.45"/>
<circle cx="56.86" cy="54.44" r="0.75" opacity="0.7"/>
<circle cx="60.81" cy="55.03" r="0.55" opacity="0.45"/>
<circle cx="65.34" cy="55.38" r="0.65" opacity="0.3"/>
<circle cx="71.98" cy="53.62" r="0.7" opacity="0.3"/>
<circle cx="74.8" cy="54.58" r="0.55" opacity="0.25"/>
<circle cx="77.2" cy="53.04" r="0.75" opacity="0.4"/>
<circle cx="81.73" cy="54.39" r="0.65" opacity="0.3"/>
<circle cx="82.82" cy="55.08" r="0.55" opacity="0.7"/>
<circle cx="87.2" cy="55.74" r="0.55" opacity="0.55"/>
<circle cx="90.7" cy="55.51" r="0.7" opacity="0.45"/>
<circle cx="93.53" cy="55" r="0.7" opacity="0.45"/>
<circle cx="97.72" cy="53.43" r="0.75" opacity="0.4"/>
<circle cx="103.26" cy="55.78" r="0.6" opacity="0.3"/>
<circle cx="113.15" cy="53.28" r="0.65" opacity="0.45"/>
<circle cx="114.25" cy="54.63" r="0.5" opacity="0.25"/>
<circle cx="119.98" cy="54.38" r="0.75" opacity="0.7"/>
<circle cx="122.55" cy="53.63" r="0.75" opacity="0.45"/>
<circle cx="125.09" cy="55.4" r="0.6" opacity="0.25"/>
<circle cx="127.13" cy="53.7" r="0.7" opacity="0.7"/>
<circle cx="131.06" cy="53.57" r="0.55" opacity="0.7"/>
<circle cx="139.82" cy="53.74" r="0.55" opacity="0.7"/>
<circle cx="143.4" cy="55.05" r="0.5" opacity="0.7"/>
<circle cx="146.26" cy="53.84" r="0.55" opacity="0.7"/>
<circle cx="148.22" cy="53.98" r="0.7" opacity="0.4"/>
<circle cx="151.38" cy="52.92" r="0.5" opacity="0.55"/>
<circle cx="157.03" cy="56.14" r="0.65" opacity="0.25"/>
<circle cx="158.97" cy="54.43" r="0.55" opacity="0.4"/>
<circle cx="162.8" cy="53.21" r="0.55" opacity="0.3"/>
<circle cx="166.22" cy="54.1" r="0.5" opacity="0.45"/>
<circle cx="168.19" cy="54" r="0.5" opacity="0.55"/>
<circle cx="173.51" cy="54.18" r="0.6" opacity="0.25"/>
<circle cx="175.97" cy="54.16" r="0.6" opacity="0.25"/>
<circle cx="179.87" cy="55.54" r="0.75" opacity="0.3"/>
<circle cx="32.01" cy="58.88" r="0.75" opacity="0.4"/>
<circle cx="36.97" cy="57.99" r="0.7" opacity="0.45"/>
<circle cx="40.58" cy="58.27" r="0.55" opacity="0.45"/>
<circle cx="44.26" cy="58.9" r="0.5" opacity="0.7"/>
<circle cx="47.61" cy="57.15" r="0.7" opacity="0.45"/>
<circle cx="50.56" cy="58.34" r="0.6" opacity="0.4"/>
<circle cx="54.46" cy="59.03" r="0.55" opacity="0.7"/>
<circle cx="58.05" cy="56.64" r="0.7" opacity="0.4"/>
<circle cx="62.28" cy="57.36" r="0.55" opacity="0.55"/>
<circle cx="63.36" cy="56.91" r="0.55" opacity="0.55"/>
<circle cx="66.61" cy="58.99" r="0.75" opacity="0.25"/>
<circle cx="71.52" cy="58.55" r="0.55" opacity="0.55"/>
<circle cx="74.47" cy="58.51" r="0.75" opacity="0.55"/>
<circle cx="77.94" cy="59.04" r="0.75" opacity="0.25"/>
<circle cx="79.86" cy="57.85" r="0.7" opacity="0.7"/>
<circle cx="86.01" cy="58.27" r="0.75" opacity="0.55"/>
<circle cx="90.9" cy="56.72" r="0.55" opacity="0.55"/>
<circle cx="93.27" cy="57.41" r="0.7" opacity="0.25"/>
<circle cx="96.5" cy="56.28" r="0.75" opacity="0.55"/>
<circle cx="101.28" cy="56.55" r="0.55" opacity="0.45"/>
<circle cx="103.41" cy="59.51" r="0.55" opacity="0.55"/>
<circle cx="111.09" cy="57.39" r="0.85" opacity="0.4"/>
<circle cx="115.77" cy="56.18" r="0.6" opacity="0.25"/>
<circle cx="118.4" cy="57.93" r="0.6" opacity="0.7"/>
<circle cx="122.81" cy="57.34" r="0.6" opacity="0.55"/>
<circle cx="125.47" cy="56.25" r="0.75" opacity="0.3"/>
<circle cx="127.47" cy="57.66" r="0.85" opacity="0.55"/>
<circle cx="132.88" cy="57.8" r="0.5" opacity="0.4"/>
<circle cx="135.47" cy="57.13" r="0.75" opacity="0.7"/>
<circle cx="137.47" cy="59.12" r="0.7" opacity="0.7"/>
<circle cx="141.27" cy="57.65" r="0.5" opacity="0.4"/>
<circle cx="145.4" cy="57.79" r="0.5" opacity="0.25"/>
<circle cx="152.71" cy="58.18" r="0.85" opacity="0.45"/>
<circle cx="156.26" cy="57.67" r="0.55" opacity="0.55"/>
<circle cx="158.52" cy="57.94" r="0.6" opacity="0.3"/>
<circle cx="160.83" cy="56.71" r="0.6" opacity="0.7"/>
<circle cx="166.02" cy="57.46" r="0.6" opacity="0.4"/>
<circle cx="171.97" cy="56.21" r="0.65" opacity="0.55"/>
<circle cx="179.89" cy="57.07" r="0.6" opacity="0.25"/>
<circle cx="32.89" cy="61.49" r="0.7" opacity="0.55"/>
<circle cx="38.75" cy="59.66" r="0.7" opacity="0.25"/>
<circle cx="41.39" cy="61.7" r="0.75" opacity="0.25"/>
<circle cx="43.11" cy="62.26" r="0.85" opacity="0.3"/>
<circle cx="46.57" cy="62.15" r="0.75" opacity="0.4"/>
<circle cx="51.08" cy="60.74" r="0.7" opacity="0.7"/>
<circle cx="52.52" cy="60.7" r="0.6" opacity="0.45"/>
<circle cx="58.73" cy="62.3" r="0.6" opacity="0.3"/>
<circle cx="59.12" cy="62.51" r="0.65" opacity="0.45"/>
<circle cx="64.4" cy="60.58" r="0.55" opacity="0.55"/>
<circle cx="70.29" cy="62.02" r="0.7" opacity="0.7"/>
<circle cx="73.79" cy="62.69" r="0.7" opacity="0.25"/>
<circle cx="77.05" cy="60.75" r="0.65" opacity="0.4"/>
<circle cx="81.75" cy="62" r="0.5" opacity="0.45"/>
<circle cx="83.39" cy="62.61" r="0.7" opacity="0.25"/>
<circle cx="88.3" cy="60.35" r="0.5" opacity="0.3"/>
<circle cx="95.98" cy="60.51" r="0.7" opacity="0.7"/>
<circle cx="99.92" cy="59.99" r="0.5" opacity="0.25"/>
<circle cx="108.45" cy="62" r="0.5" opacity="0.3"/>
<circle cx="112.06" cy="59.6" r="0.6" opacity="0.25"/>
<circle cx="114.38" cy="62.1" r="0.75" opacity="0.45"/>
<circle cx="118.96" cy="60.7" r="0.5" opacity="0.45"/>
<circle cx="120.34" cy="61.63" r="0.85" opacity="0.45"/>
<circle cx="124.78" cy="62.75" r="0.85" opacity="0.25"/>
<circle cx="132.42" cy="60.61" r="0.65" opacity="0.55"/>
<circle cx="136.42" cy="60.08" r="0.5" opacity="0.3"/>
<circle cx="138.77" cy="62.41" r="0.6" opacity="0.4"/>
<circle cx="142.19" cy="61.55" r="0.7" opacity="0.3"/>
<circle cx="145.79" cy="60.67" r="0.75" opacity="0.55"/>
<circle cx="149.55" cy="62.15" r="0.85" opacity="0.7"/>
<circle cx="153.14" cy="62.88" r="0.65" opacity="0.55"/>
<circle cx="155.68" cy="62.75" r="0.55" opacity="0.4"/>
<circle cx="162.9" cy="62.18" r="0.6" opacity="0.3"/>
<circle cx="164.84" cy="62.12" r="0.5" opacity="0.25"/>
<circle cx="167.87" cy="61.4" r="0.55" opacity="0.55"/>
<circle cx="171.72" cy="61.61" r="0.75" opacity="0.3"/>
<circle cx="177.18" cy="62.46" r="0.85" opacity="0.3"/>
<circle cx="178.8" cy="61.96" r="0.65" opacity="0.45"/>
<circle cx="35.09" cy="66.03" r="0.65" opacity="0.45"/>
<circle cx="38.06" cy="63.04" r="0.75" opacity="0.7"/>
<circle cx="45.25" cy="65.25" r="0.6" opacity="0.25"/>
<circle cx="46.82" cy="66.05" r="0.65" opacity="0.7"/>
<circle cx="49.69" cy="63.81" r="0.6" opacity="0.7"/>
<circle cx="53.1" cy="63.65" r="0.85" opacity="0.45"/>
<circle cx="56.72" cy="66.34" r="0.55" opacity="0.55"/>
<circle cx="60.71" cy="66.14" r="0.85" opacity="0.4"/>
<circle cx="62.94" cy="63.98" r="0.5" opacity="0.4"/>
<circle cx="70.1" cy="64.04" r="0.7" opacity="0.55"/>
<circle cx="73.35" cy="63.13" r="0.85" opacity="0.3"/>
<circle cx="78.51" cy="63.11" r="0.85" opacity="0.45"/>
<circle cx="82.33" cy="66.35" r="0.6" opacity="0.7"/>
<circle cx="89.6" cy="66.06" r="0.55" opacity="0.55"/>
<circle cx="93.28" cy="63.53" r="0.75" opacity="0.45"/>
<circle cx="102.84" cy="65.4" r="0.6" opacity="0.25"/>
<circle cx="103.8" cy="65.09" r="0.5" opacity="0.25"/>
<circle cx="108.52" cy="64.91" r="0.75" opacity="0.25"/>
<circle cx="110.05" cy="66" r="0.5" opacity="0.25"/>
<circle cx="114.92" cy="63.42" r="0.65" opacity="0.25"/>
<circle cx="118.98" cy="63.46" r="0.75" opacity="0.55"/>
<circle cx="120.43" cy="64.16" r="0.65" opacity="0.25"/>
<circle cx="124.16" cy="66.25" r="0.55" opacity="0.7"/>
<circle cx="130.26" cy="63.87" r="0.5" opacity="0.3"/>
<circle cx="134.97" cy="64.85" r="0.6" opacity="0.4"/>
<circle cx="142.58" cy="64.81" r="0.7" opacity="0.4"/>
<circle cx="147.08" cy="65.93" r="0.75" opacity="0.4"/>
<circle cx="148.21" cy="64.38" r="0.55" opacity="0.45"/>
<circle cx="153.51" cy="65.69" r="0.75" opacity="0.25"/>
<circle cx="155.61" cy="66.32" r="0.75" opacity="0.55"/>
<circle cx="160.65" cy="65.77" r="0.75" opacity="0.25"/>
<circle cx="164.18" cy="65.4" r="0.65" opacity="0.7"/>
<circle cx="169.77" cy="64.46" r="0.75" opacity="0.4"/>
<circle cx="172.8" cy="64.57" r="0.75" opacity="0.45"/>
<circle cx="176.23" cy="66.35" r="0.55" opacity="0.7"/>
<circle cx="180.56" cy="64.17" r="0.5" opacity="0.45"/>
<circle cx="32.9" cy="68.61" r="0.85" opacity="0.4"/>
<circle cx="41.02" cy="69.51" r="0.85" opacity="0.4"/>
<circle cx="45.01" cy="69.29" r="0.6" opacity="0.55"/>
<circle cx="47.48" cy="69.77" r="0.5" opacity="0.55"/>
<circle cx="49.63" cy="66.94" r="0.6" opacity="0.3"/>
<circle cx="52.83" cy="68.62" r="0.55" opacity="0.7"/>
<circle cx="58.6" cy="68.59" r="0.5" opacity="0.4"/>
<circle cx="61.91" cy="69.15" r="0.5" opacity="0.45"/>
<circle cx="63.33" cy="66.71" r="0.6" opacity="0.7"/>
<circle cx="67.63" cy="67.91" r="0.5" opacity="0.4"/>
<circle cx="72.63" cy="68.73" r="0.65" opacity="0.7"/>
<circle cx="75.34" cy="68.95" r="0.55" opacity="0.25"/>
<circle cx="77.27" cy="68.14" r="0.55" opacity="0.55"/>
<circle cx="80.56" cy="67.66" r="0.5" opacity="0.55"/>
<circle cx="84.73" cy="66.56" r="0.55" opacity="0.4"/>
<circle cx="87.11" cy="67.47" r="0.55" opacity="0.4"/>
<circle cx="89.88" cy="68.53" r="0.85" opacity="0.25"/>
<circle cx="94.39" cy="69.06" r="0.7" opacity="0.4"/>
<circle cx="98.77" cy="67.64" r="0.5" opacity="0.7"/>
<circle cx="103.01" cy="67.83" r="0.7" opacity="0.4"/>
<circle cx="104.42" cy="68.34" r="0.7" opacity="0.3"/>
<circle cx="109.38" cy="68.34" r="0.5" opacity="0.7"/>
<circle cx="112.8" cy="66.64" r="0.65" opacity="0.45"/>
<circle cx="114.68" cy="69.55" r="0.75" opacity="0.25"/>
<circle cx="123.21" cy="68.75" r="0.65" opacity="0.45"/>
<circle cx="124.03" cy="66.59" r="0.65" opacity="0.45"/>
<circle cx="129.37" cy="66.4" r="0.55" opacity="0.7"/>
<circle cx="132.04" cy="69.52" r="0.6" opacity="0.55"/>
<circle cx="134.9" cy="67.93" r="0.5" opacity="0.3"/>
<circle cx="138.91" cy="66.42" r="0.65" opacity="0.25"/>
<circle cx="141.09" cy="67.91" r="0.85" opacity="0.7"/>
<circle cx="144.89" cy="69.31" r="0.7" opacity="0.7"/>
<circle cx="149.99" cy="66.84" r="0.65" opacity="0.25"/>
<circle cx="151.02" cy="67.5" r="0.7" opacity="0.25"/>
<circle cx="155.73" cy="68.14" r="0.5" opacity="0.4"/>
<circle cx="159.54" cy="67.38" r="0.65" opacity="0.55"/>
<circle cx="162.99" cy="67.41" r="0.55" opacity="0.45"/>
<circle cx="166.97" cy="67.24" r="0.55" opacity="0.3"/>
<circle cx="172.11" cy="67.95" r="0.65" opacity="0.7"/>
<circle cx="175.47" cy="69.1" r="0.55" opacity="0.45"/>
<circle cx="179.5" cy="66.54" r="0.6" opacity="0.25"/>
<circle cx="33.38" cy="71.7" r="0.6" opacity="0.25"/>
<circle cx="38.08" cy="70.77" r="0.75" opacity="0.3"/>
<circle cx="40.78" cy="71.32" r="0.75" opacity="0.45"/>
<circle cx="42.85" cy="70.39" r="0.85" opacity="0.7"/>
<circle cx="46.01" cy="72.77" r="0.85" opacity="0.55"/>
<circle cx="48.98" cy="72.23" r="0.75" opacity="0.3"/>
<circle cx="54.6" cy="72.07" r="0.6" opacity="0.3"/>
<circle cx="56.24" cy="72.42" r="0.75" opacity="0.3"/>
<circle cx="60.67" cy="70.46" r="0.5" opacity="0.25"/>
<circle cx="64.71" cy="70.65" r="0.65" opacity="0.7"/>
<circle cx="68.8" cy="72.92" r="0.55" opacity="0.25"/>
<circle cx="70.76" cy="72.36" r="0.85" opacity="0.55"/>
<circle cx="75.03" cy="72.23" r="0.6" opacity="0.4"/>
<circle cx="78.87" cy="70.29" r="0.85" opacity="0.7"/>
<circle cx="80.73" cy="69.89" r="0.65" opacity="0.3"/>
<circle cx="83.55" cy="71.63" r="0.5" opacity="0.3"/>
<circle cx="88.65" cy="71.24" r="0.75" opacity="0.45"/>
<circle cx="93.37" cy="72.92" r="0.75" opacity="0.55"/>
<circle cx="97.33" cy="70.96" r="0.85" opacity="0.45"/>
<circle cx="102.82" cy="70.46" r="0.6" opacity="0.4"/>
<circle cx="104.94" cy="70.07" r="0.55" opacity="0.45"/>
<circle cx="109.52" cy="72.65" r="0.55" opacity="0.55"/>
<circle cx="110" cy="71.81" r="0.5" opacity="0.4"/>
<circle cx="113.79" cy="70.8" r="0.55" opacity="0.4"/>
<circle cx="118.29" cy="70.9" r="0.6" opacity="0.3"/>
<circle cx="126.17" cy="72.24" r="0.65" opacity="0.25"/>
<circle cx="127.2" cy="70.32" r="0.65" opacity="0.45"/>
<circle cx="138.38" cy="72.15" r="0.65" opacity="0.55"/>
<circle cx="140.62" cy="72.25" r="0.75" opacity="0.3"/>
<circle cx="145.99" cy="70.08" r="0.5" opacity="0.7"/>
<circle cx="148.76" cy="70.28" r="0.5" opacity="0.25"/>
<circle cx="150.92" cy="71.46" r="0.7" opacity="0.55"/>
<circle cx="157.85" cy="71.6" r="0.7" opacity="0.4"/>
<circle cx="161.35" cy="71.15" r="0.55" opacity="0.3"/>
<circle cx="166.53" cy="71.6" r="0.55" opacity="0.25"/>
<circle cx="172.49" cy="72.47" r="0.7" opacity="0.3"/>
<circle cx="175" cy="72.33" r="0.55" opacity="0.4"/>
<circle cx="179.05" cy="71.9" r="0.5" opacity="0.4"/>
<circle cx="32.41" cy="75.45" r="0.55" opacity="0.3"/>
<circle cx="38.01" cy="74.93" r="0.85" opacity="0.25"/>
<circle cx="39.02" cy="74.33" r="0.5" opacity="0.25"/>
<circle cx="44.78" cy="73.78" r="0.6" opacity="0.4"/>
<circle cx="50.94" cy="73.81" r="0.6" opacity="0.45"/>
<circle cx="52.43" cy="75.87" r="0.55" opacity="0.7"/>
<circle cx="56.27" cy="75.9" r="0.85" opacity="0.3"/>
<circle cx="62.22" cy="75.52" r="0.75" opacity="0.25"/>
<circle cx="65.16" cy="74.82" r="0.65" opacity="0.55"/>
<circle cx="68.94" cy="75.74" r="0.75" opacity="0.25"/>
<circle cx="71.37" cy="76.06" r="0.85" opacity="0.45"/>
<circle cx="77.21" cy="73.73" r="0.65" opacity="0.7"/>
<circle cx="81.09" cy="74.07" r="0.75" opacity="0.4"/>
<circle cx="85.32" cy="76.02" r="0.85" opacity="0.7"/>
<circle cx="87.66" cy="75.99" r="0.85" opacity="0.55"/>
<circle cx="92.82" cy="74.99" r="0.75" opacity="0.25"/>
<circle cx="99.06" cy="75.74" r="0.85" opacity="0.3"/>
<circle cx="101.72" cy="75.1" r="0.65" opacity="0.55"/>
<circle cx="105.43" cy="75.6" r="0.65" opacity="0.7"/>
<circle cx="109.19" cy="75.51" r="0.6" opacity="0.45"/>
<circle cx="110.18" cy="75.41" r="0.85" opacity="0.4"/>
<circle cx="116.33" cy="74.64" r="0.6" opacity="0.25"/>
<circle cx="118.7" cy="76.42" r="0.85" opacity="0.45"/>
<circle cx="122.09" cy="74.74" r="0.6" opacity="0.55"/>
<circle cx="124.63" cy="76.06" r="0.7" opacity="0.25"/>
<circle cx="127.12" cy="74.11" r="0.75" opacity="0.45"/>
<circle cx="132.03" cy="74.01" r="0.55" opacity="0.7"/>
<circle cx="134.86" cy="76.24" r="0.65" opacity="0.4"/>
<circle cx="137.49" cy="73.75" r="0.6" opacity="0.55"/>
<circle cx="143.62" cy="74.23" r="0.6" opacity="0.55"/>
<circle cx="145.8" cy="76.1" r="0.55" opacity="0.45"/>
<circle cx="147.14" cy="73.78" r="0.55" opacity="0.45"/>
<circle cx="152.75" cy="75.69" r="0.75" opacity="0.25"/>
<circle cx="156.4" cy="75.75" r="0.75" opacity="0.45"/>
<circle cx="159.85" cy="74.05" r="0.65" opacity="0.25"/>
<circle cx="161.8" cy="74.09" r="0.6" opacity="0.4"/>
<circle cx="166.47" cy="75.52" r="0.7" opacity="0.7"/>
<circle cx="172.51" cy="75.54" r="0.5" opacity="0.25"/>
<circle cx="177.23" cy="73.59" r="0.65" opacity="0.45"/>
<circle cx="179.35" cy="73.7" r="0.7" opacity="0.7"/>
<circle cx="35.21" cy="78.24" r="0.5" opacity="0.4"/>
<circle cx="37.38" cy="78.56" r="0.5" opacity="0.45"/>
<circle cx="40.77" cy="79.94" r="0.75" opacity="0.3"/>
<circle cx="44" cy="78.03" r="0.65" opacity="0.7"/>
<circle cx="51.1" cy="78.27" r="0.75" opacity="0.4"/>
<circle cx="53.26" cy="77.14" r="0.7" opacity="0.45"/>
<circle cx="58.39" cy="77.77" r="0.55" opacity="0.3"/>
<circle cx="62.06" cy="77.14" r="0.75" opacity="0.55"/>
<circle cx="63.53" cy="76.77" r="0.6" opacity="0.45"/>
<circle cx="67.08" cy="78.96" r="0.6" opacity="0.4"/>
<circle cx="70.86" cy="78.71" r="0.65" opacity="0.45"/>
<circle cx="77.36" cy="77.91" r="0.65" opacity="0.4"/>
<circle cx="84.9" cy="78.3" r="0.65" opacity="0.7"/>
<circle cx="89.2" cy="76.74" r="0.6" opacity="0.55"/>
<circle cx="91.46" cy="78.88" r="0.85" opacity="0.25"/>
<circle cx="94.18" cy="79.72" r="0.7" opacity="0.4"/>
<circle cx="96.75" cy="78.12" r="0.5" opacity="0.25"/>
<circle cx="102.09" cy="77.63" r="0.7" opacity="0.4"/>
<circle cx="103.94" cy="76.83" r="0.7" opacity="0.25"/>
<circle cx="108.8" cy="78" r="0.85" opacity="0.7"/>
<circle cx="115.46" cy="79.89" r="0.75" opacity="0.7"/>
<circle cx="119.28" cy="77.94" r="0.85" opacity="0.7"/>
<circle cx="121.4" cy="78.29" r="0.6" opacity="0.4"/>
<circle cx="125.84" cy="77.08" r="0.75" opacity="0.55"/>
<circle cx="129.96" cy="77.58" r="0.55" opacity="0.4"/>
<circle cx="133.34" cy="76.82" r="0.5" opacity="0.55"/>
<circle cx="135.55" cy="77.97" r="0.7" opacity="0.7"/>
<circle cx="139.84" cy="79.28" r="0.85" opacity="0.3"/>
<circle cx="142.64" cy="79.16" r="0.7" opacity="0.25"/>
<circle cx="146.79" cy="79.12" r="0.85" opacity="0.7"/>
<circle cx="148.11" cy="78.8" r="0.75" opacity="0.45"/>
<circle cx="151.45" cy="76.82" r="0.7" opacity="0.55"/>
<circle cx="154.83" cy="77.32" r="0.55" opacity="0.4"/>
<circle cx="163.98" cy="79.33" r="0.6" opacity="0.25"/>
<circle cx="164.31" cy="79.45" r="0.6" opacity="0.3"/>
<circle cx="171.31" cy="77.53" r="0.5" opacity="0.45"/>
<circle cx="176.24" cy="76.7" r="0.7" opacity="0.45"/>
<circle cx="34.13" cy="81.16" r="0.6" opacity="0.55"/>
<circle cx="36.12" cy="82.71" r="0.55" opacity="0.4"/>
<circle cx="41.51" cy="81.83" r="0.5" opacity="0.3"/>
<circle cx="42.26" cy="81.72" r="0.65" opacity="0.4"/>
<circle cx="51.39" cy="81.99" r="0.65" opacity="0.45"/>
<circle cx="54.31" cy="80.77" r="0.85" opacity="0.25"/>
<circle cx="58.96" cy="81.12" r="0.6" opacity="0.25"/>
<circle cx="61.04" cy="81.47" r="0.75" opacity="0.7"/>
<circle cx="63.12" cy="82.1" r="0.5" opacity="0.45"/>
<circle cx="68.44" cy="80.26" r="0.7" opacity="0.25"/>
<circle cx="69.92" cy="82.4" r="0.55" opacity="0.4"/>
<circle cx="75.19" cy="82.86" r="0.6" opacity="0.7"/>
<circle cx="76.1" cy="82.52" r="0.7" opacity="0.7"/>
<circle cx="84.21" cy="82.85" r="0.75" opacity="0.7"/>
<circle cx="88" cy="81.9" r="0.75" opacity="0.3"/>
<circle cx="90.64" cy="81.21" r="0.5" opacity="0.25"/>
<circle cx="95.3" cy="81.44" r="0.5" opacity="0.7"/>
<circle cx="96.69" cy="80.36" r="0.55" opacity="0.4"/>
<circle cx="101.32" cy="83.38" r="0.6" opacity="0.4"/>
<circle cx="105.9" cy="80.44" r="0.5" opacity="0.55"/>
<circle cx="108.22" cy="80.71" r="0.6" opacity="0.7"/>
<circle cx="115.68" cy="83.22" r="0.7" opacity="0.45"/>
<circle cx="119.12" cy="80.55" r="0.85" opacity="0.45"/>
<circle cx="120.09" cy="80.73" r="0.7" opacity="0.55"/>
<circle cx="123.46" cy="82.83" r="0.85" opacity="0.25"/>
<circle cx="126.96" cy="83.03" r="0.7" opacity="0.25"/>
<circle cx="131.35" cy="81.91" r="0.65" opacity="0.45"/>
<circle cx="136.65" cy="80.03" r="0.55" opacity="0.4"/>
<circle cx="137.33" cy="82.02" r="0.55" opacity="0.3"/>
<circle cx="142.3" cy="83.14" r="0.75" opacity="0.7"/>
<circle cx="146.33" cy="81.94" r="0.75" opacity="0.25"/>
<circle cx="147.71" cy="82.22" r="0.85" opacity="0.7"/>
<circle cx="152.95" cy="81.6" r="0.65" opacity="0.55"/>
<circle cx="156.99" cy="82.04" r="0.5" opacity="0.7"/>
<circle cx="160.64" cy="80.78" r="0.65" opacity="0.55"/>
<circle cx="163.47" cy="82.16" r="0.75" opacity="0.7"/>
<circle cx="173.56" cy="80.13" r="0.5" opacity="0.45"/>
<circle cx="177.38" cy="80.75" r="0.75" opacity="0.25"/>
<circle cx="179.78" cy="83.13" r="0.6" opacity="0.25"/>
<circle cx="32.06" cy="85.99" r="0.5" opacity="0.7"/>
<circle cx="40.56" cy="85.51" r="0.6" opacity="0.25"/>
<circle cx="45.4" cy="84.71" r="0.5" opacity="0.25"/>
<circle cx="47.43" cy="86.21" r="0.7" opacity="0.55"/>
<circle cx="50.95" cy="86.13" r="0.5" opacity="0.7"/>
<circle cx="56.69" cy="84.76" r="0.5" opacity="0.55"/>
<circle cx="59.17" cy="86.24" r="0.85" opacity="0.45"/>
<circle cx="64.88" cy="85.92" r="0.75" opacity="0.45"/>
<circle cx="67.94" cy="83.7" r="0.7" opacity="0.4"/>
<circle cx="69.55" cy="84.22" r="0.85" opacity="0.25"/>
<circle cx="77.07" cy="84.42" r="0.65" opacity="0.55"/>
<circle cx="80.54" cy="84.06" r="0.5" opacity="0.25"/>
<circle cx="88.78" cy="84.14" r="0.65" opacity="0.45"/>
<circle cx="92.7" cy="85.37" r="0.55" opacity="0.7"/>
<circle cx="93.22" cy="83.48" r="0.5" opacity="0.7"/>
<circle cx="98.61" cy="83.87" r="0.65" opacity="0.25"/>
<circle cx="102.92" cy="84.92" r="0.75" opacity="0.3"/>
<circle cx="104.13" cy="84.6" r="0.6" opacity="0.45"/>
<circle cx="113.21" cy="85.64" r="0.65" opacity="0.55"/>
<circle cx="116.64" cy="85.98" r="0.6" opacity="0.3"/>
<circle cx="121.2" cy="85.26" r="0.6" opacity="0.4"/>
<circle cx="127.63" cy="84.58" r="0.5" opacity="0.55"/>
<circle cx="130.32" cy="86.31" r="0.65" opacity="0.7"/>
<circle cx="133.81" cy="83.82" r="0.65" opacity="0.3"/>
<circle cx="137.16" cy="85.67" r="0.55" opacity="0.45"/>
<circle cx="142.12" cy="86.06" r="0.75" opacity="0.25"/>
<circle cx="144.49" cy="85.98" r="0.5" opacity="0.7"/>
<circle cx="149.56" cy="86.78" r="0.55" opacity="0.55"/>
<circle cx="152.85" cy="85.76" r="0.75" opacity="0.4"/>
<circle cx="154.75" cy="84.29" r="0.5" opacity="0.25"/>
<circle cx="158" cy="84.29" r="0.75" opacity="0.7"/>
<circle cx="161.16" cy="83.65" r="0.5" opacity="0.7"/>
<circle cx="164.33" cy="85.9" r="0.7" opacity="0.25"/>
<circle cx="176.67" cy="85.62" r="0.7" opacity="0.7"/>
<circle cx="180.73" cy="84.94" r="0.5" opacity="0.4"/>
<circle cx="33.38" cy="89.17" r="0.65" opacity="0.7"/>
<circle cx="38.3" cy="88.39" r="0.6" opacity="0.3"/>
<circle cx="42.93" cy="89.73" r="0.85" opacity="0.4"/>
<circle cx="46.49" cy="86.85" r="0.55" opacity="0.25"/>
<circle cx="49.47" cy="89.07" r="0.7" opacity="0.4"/>
<circle cx="52.93" cy="87.31" r="0.5" opacity="0.25"/>
<circle cx="57.91" cy="88.76" r="0.55" opacity="0.25"/>
<circle cx="66.3" cy="90.1" r="0.6" opacity="0.55"/>
<circle cx="69.72" cy="89.5" r="0.6" opacity="0.4"/>
<circle cx="74.41" cy="87.2" r="0.55" opacity="0.3"/>
<circle cx="77.31" cy="89.43" r="0.55" opacity="0.7"/>
<circle cx="80.15" cy="88.13" r="0.6" opacity="0.3"/>
<circle cx="84.39" cy="89.78" r="0.5" opacity="0.25"/>
<circle cx="89.01" cy="87.62" r="0.5" opacity="0.45"/>
<circle cx="89.96" cy="88.39" r="0.75" opacity="0.45"/>
<circle cx="100.32" cy="87.6" r="0.65" opacity="0.25"/>
<circle cx="111.48" cy="90.01" r="0.7" opacity="0.25"/>
<circle cx="119.18" cy="88.74" r="0.85" opacity="0.45"/>
<circle cx="125.21" cy="87.64" r="0.55" opacity="0.55"/>
<circle cx="127.54" cy="87.1" r="0.6" opacity="0.45"/>
<circle cx="131.77" cy="89.31" r="0.5" opacity="0.45"/>
<circle cx="133.92" cy="87.77" r="0.85" opacity="0.4"/>
<circle cx="141.97" cy="87.7" r="0.7" opacity="0.25"/>
<circle cx="146.5" cy="89.9" r="0.75" opacity="0.45"/>
<circle cx="147.25" cy="89.03" r="0.85" opacity="0.45"/>
<circle cx="150.99" cy="88.06" r="0.65" opacity="0.4"/>
<circle cx="156.81" cy="88.07" r="0.75" opacity="0.3"/>
<circle cx="157.35" cy="88.38" r="0.75" opacity="0.25"/>
<circle cx="163.56" cy="87.79" r="0.55" opacity="0.3"/>
<circle cx="165.13" cy="87.5" r="0.5" opacity="0.45"/>
<circle cx="172.06" cy="88.47" r="0.5" opacity="0.45"/>
<circle cx="177.12" cy="89.35" r="0.75" opacity="0.3"/>
<circle cx="178.35" cy="89.66" r="0.55" opacity="0.4"/>
<circle cx="33.55" cy="91" r="0.85" opacity="0.4"/>
<circle cx="40.17" cy="92.64" r="0.7" opacity="0.4"/>
<circle cx="42.97" cy="93.08" r="0.55" opacity="0.55"/>
<circle cx="47.6" cy="91.85" r="0.7" opacity="0.7"/>
<circle cx="49.82" cy="92.14" r="0.6" opacity="0.45"/>
<circle cx="52.78" cy="92.01" r="0.7" opacity="0.4"/>
<circle cx="55.9" cy="91.03" r="0.55" opacity="0.25"/>
<circle cx="60.62" cy="91.62" r="0.7" opacity="0.7"/>
<circle cx="62.99" cy="92.77" r="0.75" opacity="0.45"/>
<circle cx="72.03" cy="93.53" r="0.6" opacity="0.25"/>
<circle cx="75.91" cy="93.19" r="0.65" opacity="0.25"/>
<circle cx="78.9" cy="92.98" r="0.75" opacity="0.7"/>
<circle cx="79.8" cy="91.06" r="0.75" opacity="0.55"/>
<circle cx="85.51" cy="93.29" r="0.7" opacity="0.3"/>
<circle cx="88.19" cy="91.09" r="0.65" opacity="0.3"/>
<circle cx="92.81" cy="92.42" r="0.65" opacity="0.4"/>
<circle cx="93.83" cy="93.03" r="0.75" opacity="0.7"/>
<circle cx="100.45" cy="91.35" r="0.5" opacity="0.45"/>
<circle cx="105.41" cy="92.64" r="0.75" opacity="0.3"/>
<circle cx="107.6" cy="93.54" r="0.65" opacity="0.25"/>
<circle cx="110.59" cy="91.62" r="0.55" opacity="0.7"/>
<circle cx="115.76" cy="91.45" r="0.75" opacity="0.45"/>
<circle cx="117.09" cy="90.99" r="0.55" opacity="0.4"/>
<circle cx="126.43" cy="92.33" r="0.75" opacity="0.25"/>
<circle cx="128.36" cy="91.36" r="0.7" opacity="0.4"/>
<circle cx="132.77" cy="91.3" r="0.85" opacity="0.45"/>
<circle cx="135.88" cy="92.89" r="0.65" opacity="0.4"/>
<circle cx="141.35" cy="92.1" r="0.55" opacity="0.7"/>
<circle cx="145.76" cy="92.85" r="0.6" opacity="0.4"/>
<circle cx="147.69" cy="90.45" r="0.65" opacity="0.7"/>
<circle cx="152.52" cy="90.9" r="0.5" opacity="0.55"/>
<circle cx="156.37" cy="91.16" r="0.5" opacity="0.25"/>
<circle cx="157.59" cy="91.08" r="0.55" opacity="0.3"/>
<circle cx="163.73" cy="92.9" r="0.55" opacity="0.25"/>
<circle cx="175.82" cy="90.48" r="0.6" opacity="0.4"/>
<circle cx="180.15" cy="93.21" r="0.6" opacity="0.25"/>
<circle cx="32.89" cy="94.54" r="0.5" opacity="0.55"/>
<circle cx="39.22" cy="96.6" r="0.6" opacity="0.4"/>
<circle cx="42.64" cy="95.7" r="0.7" opacity="0.25"/>
<circle cx="48.39" cy="95.08" r="0.6" opacity="0.7"/>
<circle cx="52.56" cy="95.25" r="0.5" opacity="0.55"/>
<circle cx="58.39" cy="95.18" r="0.65" opacity="0.3"/>
<circle cx="61.88" cy="95.25" r="0.65" opacity="0.3"/>
<circle cx="66.59" cy="96.5" r="0.65" opacity="0.3"/>
<circle cx="70.95" cy="95.42" r="0.6" opacity="0.7"/>
<circle cx="76.1" cy="95.38" r="0.55" opacity="0.7"/>
<circle cx="80.95" cy="94.29" r="0.55" opacity="0.3"/>
<circle cx="86.17" cy="96.7" r="0.55" opacity="0.3"/>
<circle cx="90.72" cy="96.04" r="0.75" opacity="0.7"/>
<circle cx="94" cy="94.71" r="0.75" opacity="0.4"/>
<circle cx="100.03" cy="93.8" r="0.7" opacity="0.3"/>
<circle cx="106.27" cy="96.63" r="0.65" opacity="0.25"/>
<circle cx="106.9" cy="95.36" r="0.7" opacity="0.4"/>
<circle cx="111.5" cy="94.7" r="0.5" opacity="0.25"/>
<circle cx="115.38" cy="95.13" r="0.5" opacity="0.4"/>
<circle cx="118.4" cy="95.17" r="0.85" opacity="0.45"/>
<circle cx="121.46" cy="96.04" r="0.7" opacity="0.45"/>
<circle cx="125.89" cy="94.71" r="0.5" opacity="0.25"/>
<circle cx="127.12" cy="96.78" r="0.55" opacity="0.25"/>
<circle cx="133.4" cy="95.54" r="0.5" opacity="0.45"/>
<circle cx="133.71" cy="95.88" r="0.85" opacity="0.7"/>
<circle cx="138.46" cy="93.93" r="0.65" opacity="0.7"/>
<circle cx="143.92" cy="94.62" r="0.85" opacity="0.7"/>
<circle cx="147.5" cy="93.88" r="0.55" opacity="0.55"/>
<circle cx="151.9" cy="94.45" r="0.65" opacity="0.45"/>
<circle cx="155.14" cy="96.67" r="0.65" opacity="0.55"/>
<circle cx="163.19" cy="96.68" r="0.65" opacity="0.45"/>
<circle cx="164.69" cy="96.4" r="0.85" opacity="0.45"/>
<circle cx="168.14" cy="96.32" r="0.75" opacity="0.3"/>
<circle cx="172.5" cy="96.59" r="0.7" opacity="0.4"/>
<circle cx="174.32" cy="95.38" r="0.85" opacity="0.7"/>
<circle cx="180.51" cy="94.73" r="0.55" opacity="0.7"/>
<circle cx="33.16" cy="97.68" r="0.65" opacity="0.25"/>
<circle cx="38.31" cy="99.01" r="0.5" opacity="0.4"/>
<circle cx="41.82" cy="100.29" r="0.6" opacity="0.3"/>
<circle cx="44.93" cy="97.95" r="0.6" opacity="0.4"/>
<circle cx="46.74" cy="98.33" r="0.5" opacity="0.3"/>
<circle cx="54.88" cy="99.67" r="0.7" opacity="0.3"/>
<circle cx="57.89" cy="97.22" r="0.75" opacity="0.3"/>
<circle cx="61.84" cy="97.91" r="0.75" opacity="0.4"/>
<circle cx="65.32" cy="97.5" r="0.7" opacity="0.7"/>
<circle cx="68.64" cy="98.22" r="0.85" opacity="0.3"/>
<circle cx="72.23" cy="97.52" r="0.75" opacity="0.7"/>
<circle cx="75.72" cy="99.75" r="0.85" opacity="0.55"/>
<circle cx="79.23" cy="98.65" r="0.65" opacity="0.7"/>
<circle cx="80.13" cy="98.21" r="0.55" opacity="0.25"/>
<circle cx="86.27" cy="99.76" r="0.55" opacity="0.4"/>
<circle cx="97.01" cy="98.62" r="0.65" opacity="0.4"/>
<circle cx="102.96" cy="98.1" r="0.75" opacity="0.55"/>
<circle cx="106.16" cy="99.55" r="0.6" opacity="0.7"/>
<circle cx="108.44" cy="97.41" r="0.7" opacity="0.55"/>
<circle cx="113.31" cy="100.3" r="0.55" opacity="0.3"/>
<circle cx="118.5" cy="100.21" r="0.75" opacity="0.7"/>
<circle cx="122.26" cy="98.98" r="0.65" opacity="0.55"/>
<circle cx="123.51" cy="97.49" r="0.5" opacity="0.3"/>
<circle cx="129.6" cy="99.73" r="0.6" opacity="0.25"/>
<circle cx="132.73" cy="99.78" r="0.55" opacity="0.4"/>
<circle cx="136.95" cy="98.52" r="0.65" opacity="0.7"/>
<circle cx="140.13" cy="97.73" r="0.6" opacity="0.4"/>
<circle cx="143.66" cy="98.72" r="0.85" opacity="0.55"/>
<circle cx="149.18" cy="98.33" r="0.85" opacity="0.55"/>
<circle cx="151.08" cy="97.11" r="0.75" opacity="0.55"/>
<circle cx="154.29" cy="98.99" r="0.5" opacity="0.25"/>
<circle cx="157.37" cy="98.76" r="0.75" opacity="0.7"/>
<circle cx="162.41" cy="100.22" r="0.7" opacity="0.3"/>
<circle cx="166.21" cy="99.78" r="0.65" opacity="0.3"/>
<circle cx="168.33" cy="97.99" r="0.65" opacity="0.3"/>
<circle cx="172.43" cy="97.36" r="0.5" opacity="0.4"/>
<circle cx="174.79" cy="99.71" r="0.7" opacity="0.4"/>
<circle cx="180.4" cy="97.84" r="0.55" opacity="0.3"/>
<circle cx="34.44" cy="100.83" r="0.65" opacity="0.7"/>
<circle cx="36.12" cy="103.3" r="0.65" opacity="0.55"/>
<circle cx="43.66" cy="100.75" r="0.5" opacity="0.55"/>
<circle cx="46.03" cy="102.02" r="0.75" opacity="0.3"/>
<circle cx="50.07" cy="103.07" r="0.55" opacity="0.3"/>
<circle cx="55.26" cy="101.67" r="0.65" opacity="0.4"/>
<circle cx="57.85" cy="101.97" r="0.55" opacity="0.3"/>
<circle cx="59.51" cy="101.46" r="0.65" opacity="0.45"/>
<circle cx="65.08" cy="102.47" r="0.65" opacity="0.4"/>
<circle cx="66.53" cy="102.47" r="0.55" opacity="0.55"/>
<circle cx="69.5" cy="102.85" r="0.5" opacity="0.45"/>
<circle cx="77.16" cy="102.86" r="0.85" opacity="0.45"/>
<circle cx="80.98" cy="103.3" r="0.7" opacity="0.25"/>
<circle cx="87.8" cy="102.19" r="0.75" opacity="0.7"/>
<circle cx="91.03" cy="101.47" r="0.7" opacity="0.7"/>
<circle cx="95.44" cy="103.69" r="0.55" opacity="0.7"/>
<circle cx="99.22" cy="103.15" r="0.7" opacity="0.55"/>
<circle cx="100.88" cy="103.68" r="0.7" opacity="0.55"/>
<circle cx="103.73" cy="100.85" r="0.85" opacity="0.25"/>
<circle cx="109.23" cy="101.96" r="0.6" opacity="0.4"/>
<circle cx="109.95" cy="102.33" r="0.85" opacity="0.4"/>
<circle cx="114.89" cy="101.59" r="0.65" opacity="0.55"/>
<circle cx="119.32" cy="101.34" r="0.6" opacity="0.45"/>
<circle cx="125.56" cy="100.5" r="0.6" opacity="0.4"/>
<circle cx="127.36" cy="102.81" r="0.5" opacity="0.25"/>
<circle cx="130.41" cy="103.2" r="0.55" opacity="0.4"/>
<circle cx="133.79" cy="101.35" r="0.75" opacity="0.7"/>
<circle cx="137.34" cy="100.95" r="0.7" opacity="0.25"/>
<circle cx="140.87" cy="103.31" r="0.5" opacity="0.7"/>
<circle cx="146.22" cy="101.89" r="0.75" opacity="0.7"/>
<circle cx="149.16" cy="103.78" r="0.5" opacity="0.25"/>
<circle cx="153.98" cy="102.87" r="0.75" opacity="0.3"/>
<circle cx="161.29" cy="102.53" r="0.75" opacity="0.3"/>
<circle cx="167.38" cy="101.94" r="0.65" opacity="0.45"/>
<circle cx="168.24" cy="103.78" r="0.75" opacity="0.7"/>
<circle cx="171.4" cy="103.5" r="0.85" opacity="0.4"/>
<circle cx="176.45" cy="101.97" r="0.7" opacity="0.7"/>
<circle cx="180.27" cy="102.32" r="0.7" opacity="0.25"/>
<circle cx="34.98" cy="105.91" r="0.6" opacity="0.7"/>
<circle cx="38.58" cy="106.79" r="0.85" opacity="0.55"/>
<circle cx="40.45" cy="106.21" r="0.55" opacity="0.7"/>
<circle cx="43.85" cy="107.01" r="0.75" opacity="0.55"/>
<circle cx="48.41" cy="105.1" r="0.75" opacity="0.7"/>
<circle cx="50.22" cy="106.12" r="0.6" opacity="0.45"/>
<circle cx="55.46" cy="105.96" r="0.6" opacity="0.45"/>
<circle cx="59.07" cy="104.58" r="0.75" opacity="0.55"/>
<circle cx="62.45" cy="106.21" r="0.6" opacity="0.7"/>
<circle cx="63.37" cy="105.95" r="0.55" opacity="0.55"/>
<circle cx="67.52" cy="104.8" r="0.5" opacity="0.45"/>
<circle cx="71.81" cy="104.37" r="0.85" opacity="0.25"/>
<circle cx="75.71" cy="105.86" r="0.65" opacity="0.7"/>
<circle cx="76.32" cy="106.51" r="0.5" opacity="0.45"/>
<circle cx="79.79" cy="106.83" r="0.65" opacity="0.7"/>
<circle cx="83.07" cy="105.39" r="0.6" opacity="0.25"/>
<circle cx="90.58" cy="104.09" r="0.6" opacity="0.4"/>
<circle cx="93.65" cy="105.6" r="0.7" opacity="0.55"/>
<circle cx="98.28" cy="106.62" r="0.85" opacity="0.4"/>
<circle cx="102.65" cy="105.23" r="0.75" opacity="0.45"/>
<circle cx="103.27" cy="106.71" r="0.85" opacity="0.7"/>
<circle cx="108.54" cy="106.81" r="0.75" opacity="0.7"/>
<circle cx="111.08" cy="106.77" r="0.85" opacity="0.3"/>
<circle cx="114.99" cy="105.38" r="0.5" opacity="0.25"/>
<circle cx="123.04" cy="104.6" r="0.7" opacity="0.45"/>
<circle cx="123.7" cy="104.86" r="0.85" opacity="0.55"/>
<circle cx="127.28" cy="106.64" r="0.5" opacity="0.7"/>
<circle cx="131.9" cy="105.01" r="0.55" opacity="0.3"/>
<circle cx="136.25" cy="104.72" r="0.5" opacity="0.3"/>
<circle cx="140.35" cy="104.89" r="0.85" opacity="0.25"/>
<circle cx="142.17" cy="106.78" r="0.65" opacity="0.3"/>
<circle cx="149.86" cy="106.19" r="0.75" opacity="0.45"/>
<circle cx="152.09" cy="106.67" r="0.55" opacity="0.4"/>
<circle cx="156.22" cy="105.75" r="0.65" opacity="0.3"/>
<circle cx="160.34" cy="105.46" r="0.6" opacity="0.55"/>
<circle cx="162.56" cy="106.46" r="0.7" opacity="0.4"/>
<circle cx="167.07" cy="105.12" r="0.5" opacity="0.3"/>
<circle cx="168.41" cy="104.99" r="0.7" opacity="0.55"/>
<circle cx="173.45" cy="104.95" r="0.65" opacity="0.25"/>
<circle cx="175.77" cy="105.12" r="0.85" opacity="0.7"/>
<circle cx="179.24" cy="107.03" r="0.55" opacity="0.55"/>
<circle cx="34.25" cy="107.87" r="0.55" opacity="0.55"/>
<circle cx="36.38" cy="109.69" r="0.75" opacity="0.55"/>
<circle cx="46.24" cy="109" r="0.5" opacity="0.3"/>
<circle cx="51.25" cy="110.43" r="0.55" opacity="0.7"/>
<circle cx="54.58" cy="108.18" r="0.65" opacity="0.25"/>
<circle cx="56.76" cy="109.21" r="0.5" opacity="0.55"/>
<circle cx="62.15" cy="109.28" r="0.85" opacity="0.3"/>
<circle cx="66.47" cy="110.11" r="0.5" opacity="0.3"/>
<circle cx="70.16" cy="110.27" r="0.7" opacity="0.4"/>
<circle cx="73.94" cy="110.66" r="0.5" opacity="0.25"/>
<circle cx="78.39" cy="108.72" r="0.85" opacity="0.7"/>
<circle cx="81.15" cy="108.73" r="0.85" opacity="0.7"/>
<circle cx="94.75" cy="108.59" r="0.6" opacity="0.7"/>
<circle cx="96.79" cy="110.41" r="0.6" opacity="0.4"/>
<circle cx="100.28" cy="107.79" r="0.5" opacity="0.55"/>
<circle cx="103.54" cy="108.33" r="0.7" opacity="0.55"/>
<circle cx="111.46" cy="109.83" r="0.75" opacity="0.25"/>
<circle cx="113.75" cy="110.43" r="0.5" opacity="0.3"/>
<circle cx="117.87" cy="109.91" r="0.85" opacity="0.45"/>
<circle cx="121.5" cy="108.9" r="0.5" opacity="0.3"/>
<circle cx="126.79" cy="107.44" r="0.7" opacity="0.3"/>
<circle cx="128.86" cy="107.89" r="0.5" opacity="0.4"/>
<circle cx="133.89" cy="109.48" r="0.65" opacity="0.4"/>
<circle cx="141.88" cy="109.61" r="0.55" opacity="0.4"/>
<circle cx="146.9" cy="107.63" r="0.7" opacity="0.45"/>
<circle cx="149.12" cy="108.97" r="0.85" opacity="0.7"/>
<circle cx="151.05" cy="109.4" r="0.5" opacity="0.4"/>
<circle cx="155.04" cy="107.62" r="0.75" opacity="0.7"/>
<circle cx="159.02" cy="107.85" r="0.75" opacity="0.3"/>
<circle cx="162.92" cy="107.58" r="0.65" opacity="0.25"/>
<circle cx="166.31" cy="107.62" r="0.65" opacity="0.25"/>
<circle cx="168.43" cy="108.51" r="0.55" opacity="0.4"/>
<circle cx="171.96" cy="107.4" r="0.65" opacity="0.7"/>
<circle cx="174.46" cy="107.56" r="0.5" opacity="0.55"/>
<circle cx="178.5" cy="109.42" r="0.65" opacity="0.55"/>
<circle cx="32.86" cy="111.02" r="0.65" opacity="0.55"/>
<circle cx="36.37" cy="113.87" r="0.85" opacity="0.45"/>
<circle cx="39" cy="112.17" r="0.75" opacity="0.7"/>
<circle cx="48.88" cy="113.13" r="0.85" opacity="0.7"/>
<circle cx="49.19" cy="113.42" r="0.55" opacity="0.25"/>
<circle cx="55.53" cy="111.6" r="0.55" opacity="0.7"/>
<circle cx="57.08" cy="113.5" r="0.55" opacity="0.45"/>
<circle cx="59.1" cy="110.99" r="0.75" opacity="0.45"/>
<circle cx="64.63" cy="111.21" r="0.85" opacity="0.4"/>
<circle cx="66.25" cy="111.98" r="0.75" opacity="0.3"/>
<circle cx="78.98" cy="114.08" r="0.6" opacity="0.7"/>
<circle cx="82.34" cy="112.69" r="0.75" opacity="0.55"/>
<circle cx="83.85" cy="111.38" r="0.75" opacity="0.4"/>
<circle cx="87.38" cy="112.59" r="0.55" opacity="0.55"/>
<circle cx="91.27" cy="112.4" r="0.65" opacity="0.45"/>
<circle cx="93.58" cy="112.49" r="0.6" opacity="0.25"/>
<circle cx="98.72" cy="113.34" r="0.7" opacity="0.45"/>
<circle cx="102.86" cy="112.42" r="0.65" opacity="0.55"/>
<circle cx="104.48" cy="113.1" r="0.85" opacity="0.4"/>
<circle cx="108.98" cy="111.41" r="0.65" opacity="0.4"/>
<circle cx="111.43" cy="110.98" r="0.6" opacity="0.7"/>
<circle cx="116.07" cy="114.03" r="0.65" opacity="0.7"/>
<circle cx="117.53" cy="111.93" r="0.5" opacity="0.4"/>
<circle cx="121.2" cy="112.08" r="0.65" opacity="0.55"/>
<circle cx="125.7" cy="113.98" r="0.85" opacity="0.3"/>
<circle cx="128.42" cy="113.14" r="0.75" opacity="0.7"/>
<circle cx="130.55" cy="111.35" r="0.65" opacity="0.25"/>
<circle cx="136.62" cy="113.58" r="0.85" opacity="0.45"/>
<circle cx="137.5" cy="111.21" r="0.75" opacity="0.3"/>
<circle cx="141.56" cy="110.89" r="0.75" opacity="0.3"/>
<circle cx="146.63" cy="113.72" r="0.65" opacity="0.45"/>
<circle cx="149.75" cy="111.96" r="0.5" opacity="0.25"/>
<circle cx="152.01" cy="112.04" r="0.7" opacity="0.4"/>
<circle cx="155.24" cy="111.32" r="0.85" opacity="0.25"/>
<circle cx="157.68" cy="111.78" r="0.55" opacity="0.7"/>
<circle cx="164.77" cy="112.66" r="0.7" opacity="0.55"/>
<circle cx="167.79" cy="113.1" r="0.85" opacity="0.3"/>
<circle cx="172.83" cy="112.64" r="0.6" opacity="0.25"/>
<circle cx="179.8" cy="112.73" r="0.7" opacity="0.45"/>
<circle cx="32.72" cy="115.15" r="0.65" opacity="0.4"/>
<circle cx="39.9" cy="115.45" r="0.75" opacity="0.45"/>
<circle cx="44.15" cy="115.38" r="0.5" opacity="0.55"/>
<circle cx="48.29" cy="115.01" r="0.85" opacity="0.7"/>
<circle cx="52.27" cy="114.28" r="0.65" opacity="0.45"/>
<circle cx="54.43" cy="116.74" r="0.85" opacity="0.45"/>
<circle cx="57.02" cy="116.82" r="0.5" opacity="0.4"/>
<circle cx="61.62" cy="117.29" r="0.5" opacity="0.4"/>
<circle cx="63.2" cy="114.1" r="0.5" opacity="0.25"/>
<circle cx="65.88" cy="115.49" r="0.65" opacity="0.4"/>
<circle cx="70.43" cy="115.35" r="0.75" opacity="0.3"/>
<circle cx="76.41" cy="115.08" r="0.7" opacity="0.3"/>
<circle cx="80.72" cy="116.98" r="0.7" opacity="0.55"/>
<circle cx="83.72" cy="116.69" r="0.7" opacity="0.7"/>
<circle cx="86.57" cy="116.33" r="0.7" opacity="0.7"/>
<circle cx="90.68" cy="116.97" r="0.6" opacity="0.3"/>
<circle cx="96.19" cy="115.32" r="0.65" opacity="0.25"/>
<circle cx="98.58" cy="116.36" r="0.65" opacity="0.4"/>
<circle cx="100.52" cy="116.78" r="0.65" opacity="0.3"/>
<circle cx="104.38" cy="116.59" r="0.5" opacity="0.45"/>
<circle cx="109.75" cy="116.42" r="0.75" opacity="0.25"/>
<circle cx="111.49" cy="114.76" r="0.55" opacity="0.25"/>
<circle cx="115.62" cy="114.97" r="0.75" opacity="0.55"/>
<circle cx="118.74" cy="114.68" r="0.7" opacity="0.4"/>
<circle cx="121.85" cy="116.53" r="0.75" opacity="0.55"/>
<circle cx="127.84" cy="114.78" r="0.7" opacity="0.55"/>
<circle cx="132.48" cy="116.62" r="0.6" opacity="0.55"/>
<circle cx="136.48" cy="115.77" r="0.7" opacity="0.3"/>
<circle cx="139.19" cy="114.45" r="0.7" opacity="0.55"/>
<circle cx="147.04" cy="116.57" r="0.6" opacity="0.25"/>
<circle cx="149.94" cy="115.87" r="0.5" opacity="0.55"/>
<circle cx="152.01" cy="116.92" r="0.75" opacity="0.45"/>
<circle cx="156.83" cy="114.78" r="0.75" opacity="0.4"/>
<circle cx="157.74" cy="115.36" r="0.5" opacity="0.25"/>
<circle cx="161.09" cy="114.64" r="0.6" opacity="0.7"/>
<circle cx="167.18" cy="117.18" r="0.85" opacity="0.3"/>
<circle cx="168.95" cy="116.8" r="0.6" opacity="0.55"/>
<circle cx="173.59" cy="116.59" r="0.55" opacity="0.4"/>
<circle cx="179.48" cy="116.18" r="0.85" opacity="0.3"/>
<circle cx="33.84" cy="118.78" r="0.85" opacity="0.45"/>
<circle cx="38.57" cy="118.25" r="0.6" opacity="0.7"/>
<circle cx="40.5" cy="117.95" r="0.6" opacity="0.45"/>
<circle cx="51.61" cy="119.07" r="0.6" opacity="0.55"/>
<circle cx="54.43" cy="120.11" r="0.85" opacity="0.7"/>
<circle cx="56.41" cy="118.68" r="0.75" opacity="0.7"/>
<circle cx="59.62" cy="120.11" r="0.65" opacity="0.3"/>
<circle cx="64.19" cy="120.18" r="0.55" opacity="0.7"/>
<circle cx="67.06" cy="120.27" r="0.5" opacity="0.4"/>
<circle cx="71.4" cy="119.14" r="0.65" opacity="0.55"/>
<circle cx="73.37" cy="118.99" r="0.5" opacity="0.4"/>
<circle cx="78.84" cy="119.38" r="0.7" opacity="0.55"/>
<circle cx="79.83" cy="120.15" r="0.6" opacity="0.7"/>
<circle cx="85.46" cy="119.81" r="0.85" opacity="0.45"/>
<circle cx="88.46" cy="120.75" r="0.55" opacity="0.25"/>
<circle cx="90.15" cy="120.56" r="0.6" opacity="0.3"/>
<circle cx="94.42" cy="118.45" r="0.5" opacity="0.3"/>
<circle cx="99.19" cy="118.05" r="0.7" opacity="0.55"/>
<circle cx="101.91" cy="119.16" r="0.5" opacity="0.25"/>
<circle cx="106.06" cy="119.01" r="0.85" opacity="0.7"/>
<circle cx="108.32" cy="118.24" r="0.85" opacity="0.4"/>
<circle cx="111.9" cy="120.7" r="0.55" opacity="0.7"/>
<circle cx="113.63" cy="120.25" r="0.75" opacity="0.3"/>
<circle cx="117.18" cy="119.38" r="0.75" opacity="0.25"/>
<circle cx="126.47" cy="118.17" r="0.55" opacity="0.25"/>
<circle cx="129.64" cy="118.4" r="0.55" opacity="0.4"/>
<circle cx="134.35" cy="118.33" r="0.75" opacity="0.45"/>
<circle cx="140.39" cy="118.62" r="0.5" opacity="0.45"/>
<circle cx="146.39" cy="120.89" r="0.55" opacity="0.4"/>
<circle cx="151.92" cy="120.67" r="0.65" opacity="0.3"/>
<circle cx="154.16" cy="120.73" r="0.7" opacity="0.7"/>
<circle cx="158.78" cy="120.12" r="0.85" opacity="0.45"/>
<circle cx="163.49" cy="120.59" r="0.85" opacity="0.45"/>
<circle cx="164.23" cy="118.24" r="0.7" opacity="0.3"/>
<circle cx="169.18" cy="117.9" r="0.75" opacity="0.4"/>
<circle cx="172.3" cy="117.53" r="0.6" opacity="0.7"/>
<circle cx="174.76" cy="118.16" r="0.85" opacity="0.3"/>
<circle cx="179.08" cy="119.67" r="0.55" opacity="0.3"/>
<circle cx="34.22" cy="123.15" r="0.5" opacity="0.45"/>
<circle cx="36.49" cy="122.95" r="0.6" opacity="0.25"/>
<circle cx="41.04" cy="121.89" r="0.85" opacity="0.4"/>
<circle cx="44.01" cy="123.66" r="0.5" opacity="0.25"/>
<circle cx="45.78" cy="124.1" r="0.5" opacity="0.7"/>
<circle cx="51.32" cy="123.01" r="0.75" opacity="0.55"/>
<circle cx="55.35" cy="121.31" r="0.65" opacity="0.4"/>
<circle cx="57.21" cy="121.27" r="0.55" opacity="0.45"/>
<circle cx="60.18" cy="123.11" r="0.85" opacity="0.45"/>
<circle cx="65.04" cy="121.86" r="0.5" opacity="0.55"/>
<circle cx="72.21" cy="121.6" r="0.65" opacity="0.45"/>
<circle cx="73.57" cy="121.43" r="0.7" opacity="0.3"/>
<circle cx="79.2" cy="123.97" r="0.55" opacity="0.25"/>
<circle cx="80.82" cy="121.02" r="0.65" opacity="0.7"/>
<circle cx="83.82" cy="122.91" r="0.75" opacity="0.25"/>
<circle cx="90.94" cy="122.63" r="0.85" opacity="0.25"/>
<circle cx="94.19" cy="123.63" r="0.5" opacity="0.25"/>
<circle cx="101.89" cy="123.69" r="0.7" opacity="0.3"/>
<circle cx="103.35" cy="121.9" r="0.65" opacity="0.45"/>
<circle cx="107.32" cy="123.77" r="0.5" opacity="0.55"/>
<circle cx="110.22" cy="124.13" r="0.65" opacity="0.4"/>
<circle cx="116.2" cy="121.25" r="0.5" opacity="0.55"/>
<circle cx="118.65" cy="123.37" r="0.6" opacity="0.7"/>
<circle cx="120.68" cy="122.4" r="0.6" opacity="0.45"/>
<circle cx="124.44" cy="121.85" r="0.75" opacity="0.55"/>
<circle cx="131.88" cy="121.69" r="0.5" opacity="0.4"/>
<circle cx="135.3" cy="123.36" r="0.6" opacity="0.3"/>
<circle cx="140" cy="121.84" r="0.7" opacity="0.3"/>
<circle cx="143.56" cy="121.79" r="0.85" opacity="0.55"/>
<circle cx="144.21" cy="122.78" r="0.55" opacity="0.55"/>
<circle cx="152.91" cy="122.14" r="0.75" opacity="0.55"/>
<circle cx="155.26" cy="121.5" r="0.75" opacity="0.25"/>
<circle cx="160.01" cy="121.54" r="0.75" opacity="0.7"/>
<circle cx="162.1" cy="123.96" r="0.65" opacity="0.45"/>
<circle cx="164.73" cy="123.18" r="0.7" opacity="0.7"/>
<circle cx="168.42" cy="123.15" r="0.65" opacity="0.55"/>
<circle cx="172.16" cy="121.39" r="0.7" opacity="0.4"/>
<circle cx="175.8" cy="123.77" r="0.55" opacity="0.7"/>
<circle cx="180.03" cy="124.11" r="0.85" opacity="0.4"/>
<circle cx="32.91" cy="127" r="0.65" opacity="0.4"/>
<circle cx="36.63" cy="127.04" r="0.85" opacity="0.3"/>
<circle cx="41.04" cy="124.9" r="0.55" opacity="0.55"/>
<circle cx="43.78" cy="127.27" r="0.7" opacity="0.3"/>
<circle cx="47.41" cy="127.66" r="0.85" opacity="0.4"/>
<circle cx="49.91" cy="124.6" r="0.55" opacity="0.45"/>
<circle cx="55.53" cy="125.07" r="0.65" opacity="0.25"/>
<circle cx="57.84" cy="127" r="0.5" opacity="0.3"/>
<circle cx="59.91" cy="126.34" r="0.65" opacity="0.7"/>
<circle cx="64.74" cy="124.63" r="0.65" opacity="0.4"/>
<circle cx="66.06" cy="126.27" r="0.5" opacity="0.25"/>
<circle cx="71.25" cy="126.46" r="0.7" opacity="0.7"/>
<circle cx="73.13" cy="125.68" r="0.7" opacity="0.45"/>
<circle cx="77.37" cy="124.97" r="0.75" opacity="0.55"/>
<circle cx="81.66" cy="125.46" r="0.65" opacity="0.3"/>
<circle cx="84.71" cy="125.43" r="0.7" opacity="0.4"/>
<circle cx="86.31" cy="125.18" r="0.75" opacity="0.7"/>
<circle cx="90.5" cy="125.78" r="0.7" opacity="0.45"/>
<circle cx="94.54" cy="126.25" r="0.5" opacity="0.7"/>
<circle cx="99.08" cy="125.16" r="0.75" opacity="0.7"/>
<circle cx="100.16" cy="124.78" r="0.65" opacity="0.7"/>
<circle cx="106.33" cy="127.72" r="0.65" opacity="0.45"/>
<circle cx="108.64" cy="124.91" r="0.5" opacity="0.3"/>
<circle cx="110.11" cy="124.42" r="0.65" opacity="0.7"/>
<circle cx="116.5" cy="125.73" r="0.85" opacity="0.3"/>
<circle cx="118.64" cy="125.13" r="0.6" opacity="0.7"/>
<circle cx="121.38" cy="126.52" r="0.7" opacity="0.25"/>
<circle cx="125.49" cy="127.72" r="0.55" opacity="0.3"/>
<circle cx="126.86" cy="124.64" r="0.5" opacity="0.45"/>
<circle cx="131.86" cy="126" r="0.6" opacity="0.25"/>
<circle cx="135.56" cy="124.36" r="0.65" opacity="0.7"/>
<circle cx="139.08" cy="124.54" r="0.7" opacity="0.55"/>
<circle cx="142.03" cy="125.7" r="0.5" opacity="0.45"/>
<circle cx="146.46" cy="126.36" r="0.5" opacity="0.7"/>
<circle cx="150.09" cy="127.68" r="0.85" opacity="0.4"/>
<circle cx="156.16" cy="125.26" r="0.5" opacity="0.45"/>
<circle cx="158.13" cy="126.29" r="0.65" opacity="0.25"/>
<circle cx="163.26" cy="126.42" r="0.6" opacity="0.4"/>
<circle cx="167.21" cy="126.25" r="0.7" opacity="0.7"/>
<circle cx="172.71" cy="126.8" r="0.55" opacity="0.55"/>
<circle cx="175.26" cy="127.39" r="0.5" opacity="0.7"/>
<circle cx="179.87" cy="124.82" r="0.75" opacity="0.7"/>
<circle cx="35.49" cy="129.94" r="0.85" opacity="0.4"/>
<circle cx="40.06" cy="128.5" r="0.75" opacity="0.7"/>
<circle cx="44.21" cy="128.84" r="0.7" opacity="0.3"/>
<circle cx="48.18" cy="130.97" r="0.55" opacity="0.45"/>
<circle cx="50.24" cy="128.91" r="0.85" opacity="0.45"/>
<circle cx="54.21" cy="130.37" r="0.6" opacity="0.25"/>
<circle cx="58.4" cy="127.91" r="0.5" opacity="0.3"/>
<circle cx="59.09" cy="130.58" r="0.75" opacity="0.7"/>
<circle cx="66.39" cy="128.18" r="0.6" opacity="0.55"/>
<circle cx="71.22" cy="128.14" r="0.85" opacity="0.45"/>
<circle cx="73.12" cy="130.52" r="0.85" opacity="0.25"/>
<circle cx="79.2" cy="130.49" r="0.55" opacity="0.25"/>
<circle cx="83.67" cy="130.79" r="0.55" opacity="0.45"/>
<circle cx="89" cy="131.08" r="0.6" opacity="0.3"/>
<circle cx="90.63" cy="130.06" r="0.75" opacity="0.3"/>
<circle cx="94.87" cy="128.67" r="0.6" opacity="0.55"/>
<circle cx="96.8" cy="130.66" r="0.55" opacity="0.3"/>
<circle cx="99.8" cy="130.7" r="0.55" opacity="0.4"/>
<circle cx="104.15" cy="128.06" r="0.6" opacity="0.7"/>
<circle cx="109.26" cy="128.27" r="0.5" opacity="0.25"/>
<circle cx="112.87" cy="128.28" r="0.5" opacity="0.25"/>
<circle cx="116.94" cy="128.57" r="0.75" opacity="0.25"/>
<circle cx="121.43" cy="129.26" r="0.5" opacity="0.45"/>
<circle cx="124.25" cy="130.42" r="0.75" opacity="0.4"/>
<circle cx="128.62" cy="130.11" r="0.55" opacity="0.45"/>
<circle cx="134.58" cy="128.13" r="0.65" opacity="0.4"/>
<circle cx="137.61" cy="130.71" r="0.85" opacity="0.45"/>
<circle cx="142.47" cy="128.03" r="0.5" opacity="0.45"/>
<circle cx="148.58" cy="129.41" r="0.65" opacity="0.25"/>
<circle cx="152.9" cy="129.91" r="0.7" opacity="0.45"/>
<circle cx="153.93" cy="130.73" r="0.85" opacity="0.4"/>
<circle cx="157.71" cy="129.9" r="0.75" opacity="0.25"/>
<circle cx="162.92" cy="128.78" r="0.7" opacity="0.3"/>
<circle cx="165.58" cy="129.32" r="0.85" opacity="0.55"/>
<circle cx="170.72" cy="128.2" r="0.6" opacity="0.7"/>
<circle cx="170.89" cy="130.15" r="0.85" opacity="0.25"/>
<circle cx="176.04" cy="129.42" r="0.85" opacity="0.3"/>
<circle cx="177.68" cy="131.12" r="0.75" opacity="0.3"/>
<circle cx="34.31" cy="131.45" r="0.75" opacity="0.3"/>
<circle cx="36.07" cy="132.4" r="0.75" opacity="0.7"/>
<circle cx="40.92" cy="132.38" r="0.5" opacity="0.3"/>
<circle cx="47.52" cy="132.66" r="0.65" opacity="0.7"/>
<circle cx="50.35" cy="131.72" r="0.75" opacity="0.55"/>
<circle cx="55.67" cy="132.26" r="0.65" opacity="0.4"/>
<circle cx="58.18" cy="131.26" r="0.65" opacity="0.55"/>
<circle cx="61.33" cy="133.91" r="0.5" opacity="0.4"/>
<circle cx="62.74" cy="131.87" r="0.65" opacity="0.4"/>
<circle cx="67.68" cy="132.95" r="0.5" opacity="0.7"/>
<circle cx="74.97" cy="132.43" r="0.7" opacity="0.7"/>
<circle cx="76.25" cy="133.02" r="0.75" opacity="0.45"/>
<circle cx="79.56" cy="132.8" r="0.5" opacity="0.7"/>
<circle cx="85.26" cy="132.4" r="0.55" opacity="0.4"/>
<circle cx="86.8" cy="133.92" r="0.65" opacity="0.7"/>
<circle cx="92.14" cy="131.59" r="0.75" opacity="0.7"/>
<circle cx="95.54" cy="131.36" r="0.6" opacity="0.4"/>
<circle cx="98.14" cy="133.31" r="0.5" opacity="0.55"/>
<circle cx="100.51" cy="134.01" r="0.5" opacity="0.25"/>
<circle cx="106.05" cy="133.8" r="0.75" opacity="0.4"/>
<circle cx="107.29" cy="133.54" r="0.6" opacity="0.3"/>
<circle cx="111.07" cy="133.73" r="0.7" opacity="0.4"/>
<circle cx="116.61" cy="132.43" r="0.85" opacity="0.25"/>
<circle cx="119.21" cy="133.14" r="0.75" opacity="0.45"/>
<circle cx="122.24" cy="132.83" r="0.65" opacity="0.7"/>
<circle cx="125.99" cy="132.8" r="0.5" opacity="0.45"/>
<circle cx="127.56" cy="132.74" r="0.5" opacity="0.7"/>
<circle cx="132.46" cy="133.74" r="0.75" opacity="0.45"/>
<circle cx="135.7" cy="134.02" r="0.6" opacity="0.55"/>
<circle cx="137.6" cy="134.23" r="0.6" opacity="0.45"/>
<circle cx="140.69" cy="132.32" r="0.75" opacity="0.3"/>
<circle cx="144.34" cy="133.63" r="0.5" opacity="0.4"/>
<circle cx="147.64" cy="131.47" r="0.6" opacity="0.55"/>
<circle cx="152.7" cy="132.69" r="0.6" opacity="0.7"/>
<circle cx="157.03" cy="132.31" r="0.75" opacity="0.7"/>
<circle cx="161.77" cy="131.81" r="0.65" opacity="0.4"/>
<circle cx="164.15" cy="133.99" r="0.6" opacity="0.4"/>
<circle cx="171.76" cy="131.86" r="0.5" opacity="0.7"/>
<circle cx="174.63" cy="131.75" r="0.6" opacity="0.25"/>
<circle cx="179.12" cy="132.18" r="0.7" opacity="0.55"/>
<circle cx="34.45" cy="135.72" r="0.7" opacity="0.4"/>
<circle cx="37" cy="135.67" r="0.55" opacity="0.3"/>
<circle cx="40.83" cy="134.88" r="0.55" opacity="0.3"/>
<circle cx="46.35" cy="136.37" r="0.85" opacity="0.45"/>
<circle cx="50.62" cy="136.81" r="0.55" opacity="0.7"/>
<circle cx="53.76" cy="137.89" r="0.55" opacity="0.25"/>
<circle cx="55.84" cy="135.48" r="0.5" opacity="0.45"/>
<circle cx="60.88" cy="135.14" r="0.85" opacity="0.7"/>
<circle cx="68.78" cy="134.98" r="0.55" opacity="0.55"/>
<circle cx="70.84" cy="137.72" r="0.6" opacity="0.45"/>
<circle cx="75.26" cy="134.61" r="0.65" opacity="0.45"/>
<circle cx="77.87" cy="137.75" r="0.5" opacity="0.7"/>
<circle cx="82.03" cy="137.1" r="0.7" opacity="0.25"/>
<circle cx="83.3" cy="135.19" r="0.7" opacity="0.7"/>
<circle cx="87.41" cy="134.81" r="0.5" opacity="0.55"/>
<circle cx="94.26" cy="137.28" r="0.65" opacity="0.4"/>
<circle cx="97.36" cy="136.4" r="0.5" opacity="0.3"/>
<circle cx="100" cy="137.47" r="0.75" opacity="0.55"/>
<circle cx="106.41" cy="137.77" r="0.75" opacity="0.25"/>
<circle cx="109.36" cy="134.69" r="0.55" opacity="0.25"/>
<circle cx="111.54" cy="137.75" r="0.75" opacity="0.4"/>
<circle cx="113.37" cy="137.69" r="0.6" opacity="0.55"/>
<circle cx="123.41" cy="137.07" r="0.55" opacity="0.3"/>
<circle cx="126.47" cy="136.81" r="0.7" opacity="0.4"/>
<circle cx="128.22" cy="137.77" r="0.5" opacity="0.45"/>
<circle cx="130.4" cy="137.95" r="0.5" opacity="0.45"/>
<circle cx="136.44" cy="137.04" r="0.5" opacity="0.45"/>
<circle cx="138.65" cy="136.22" r="0.55" opacity="0.55"/>
<circle cx="143.33" cy="136.26" r="0.65" opacity="0.4"/>
<circle cx="144.56" cy="136.11" r="0.75" opacity="0.4"/>
<circle cx="150.15" cy="136.29" r="0.7" opacity="0.3"/>
<circle cx="151.25" cy="134.6" r="0.6" opacity="0.3"/>
<circle cx="154.33" cy="135.97" r="0.5" opacity="0.25"/>
<circle cx="158.94" cy="137.54" r="0.75" opacity="0.7"/>
<circle cx="162.06" cy="137.1" r="0.75" opacity="0.3"/>
<circle cx="166.38" cy="136.13" r="0.65" opacity="0.3"/>
<circle cx="171.55" cy="135.68" r="0.5" opacity="0.7"/>
<circle cx="174.59" cy="137.01" r="0.75" opacity="0.4"/>
<circle cx="180.25" cy="136.3" r="0.7" opacity="0.3"/>
<circle cx="34.2" cy="140.19" r="0.7" opacity="0.25"/>
<circle cx="37.95" cy="139.91" r="0.55" opacity="0.4"/>
<circle cx="40.2" cy="139.43" r="0.7" opacity="0.55"/>
<circle cx="43.48" cy="139.41" r="0.6" opacity="0.4"/>
<circle cx="45.85" cy="138.01" r="0.75" opacity="0.25"/>
<circle cx="50.45" cy="139.97" r="0.6" opacity="0.25"/>
<circle cx="52.37" cy="140.93" r="0.75" opacity="0.4"/>
<circle cx="57.99" cy="141.06" r="0.55" opacity="0.7"/>
<circle cx="59.95" cy="140.33" r="0.85" opacity="0.45"/>
<circle cx="62.87" cy="138.59" r="0.85" opacity="0.4"/>
<circle cx="72.59" cy="140.39" r="0.65" opacity="0.3"/>
<circle cx="74.07" cy="138.69" r="0.75" opacity="0.45"/>
<circle cx="77.63" cy="140.99" r="0.85" opacity="0.55"/>
<circle cx="81.77" cy="137.98" r="0.65" opacity="0.3"/>
<circle cx="85.23" cy="141.36" r="0.7" opacity="0.3"/>
<circle cx="86.92" cy="141" r="0.5" opacity="0.45"/>
<circle cx="92.43" cy="140.44" r="0.7" opacity="0.4"/>
<circle cx="95.42" cy="138.18" r="0.85" opacity="0.55"/>
<circle cx="102.9" cy="138.55" r="0.7" opacity="0.4"/>
<circle cx="104.63" cy="139.05" r="0.55" opacity="0.3"/>
<circle cx="108.31" cy="138.46" r="0.7" opacity="0.4"/>
<circle cx="111.87" cy="138.89" r="0.85" opacity="0.7"/>
<circle cx="114.16" cy="139.45" r="0.7" opacity="0.3"/>
<circle cx="118.16" cy="140.94" r="0.75" opacity="0.4"/>
<circle cx="122.82" cy="138.99" r="0.85" opacity="0.45"/>
<circle cx="123.96" cy="139.2" r="0.5" opacity="0.45"/>
<circle cx="129" cy="138.56" r="0.7" opacity="0.4"/>
<circle cx="131.5" cy="138.88" r="0.55" opacity="0.3"/>
<circle cx="134.81" cy="140.34" r="0.65" opacity="0.55"/>
<circle cx="137.68" cy="138.56" r="0.6" opacity="0.7"/>
<circle cx="141.26" cy="140.25" r="0.75" opacity="0.45"/>
<circle cx="147.01" cy="138.27" r="0.5" opacity="0.4"/>
<circle cx="148.24" cy="138.8" r="0.6" opacity="0.4"/>
<circle cx="152.82" cy="140.33" r="0.5" opacity="0.7"/>
<circle cx="155.83" cy="140.2" r="0.7" opacity="0.25"/>
<circle cx="163.61" cy="138.22" r="0.75" opacity="0.55"/>
<circle cx="164.72" cy="139.62" r="0.7" opacity="0.4"/>
<circle cx="170.33" cy="139" r="0.85" opacity="0.25"/>
<circle cx="173.48" cy="140.62" r="0.7" opacity="0.4"/>
<circle cx="176.76" cy="141.2" r="0.85" opacity="0.55"/>
<circle cx="179.92" cy="138.92" r="0.6" opacity="0.55"/>
<circle cx="35.53" cy="143.45" r="0.6" opacity="0.55"/>
<circle cx="40.25" cy="144.54" r="0.55" opacity="0.7"/>
<circle cx="44.29" cy="143.6" r="0.7" opacity="0.4"/>
<circle cx="48.51" cy="141.74" r="0.55" opacity="0.25"/>
<circle cx="50.67" cy="142.99" r="0.7" opacity="0.7"/>
<circle cx="54.28" cy="141.93" r="0.6" opacity="0.25"/>
<circle cx="59.58" cy="143.42" r="0.85" opacity="0.3"/>
<circle cx="63.47" cy="144.27" r="0.75" opacity="0.25"/>
<circle cx="66.4" cy="144.4" r="0.75" opacity="0.3"/>
<circle cx="70.25" cy="141.96" r="0.65" opacity="0.3"/>
<circle cx="73.25" cy="142.4" r="0.55" opacity="0.55"/>
<circle cx="76.84" cy="142.62" r="0.85" opacity="0.25"/>
<circle cx="81.46" cy="142.92" r="0.75" opacity="0.25"/>
<circle cx="84.61" cy="144.05" r="0.7" opacity="0.25"/>
<circle cx="88.25" cy="141.88" r="0.6" opacity="0.4"/>
<circle cx="89.63" cy="141.7" r="0.55" opacity="0.7"/>
<circle cx="94.38" cy="144.59" r="0.6" opacity="0.4"/>
<circle cx="100.65" cy="141.79" r="0.6" opacity="0.4"/>
<circle cx="106.24" cy="142.92" r="0.75" opacity="0.25"/>
<circle cx="107.59" cy="143.11" r="0.75" opacity="0.4"/>
<circle cx="111.08" cy="143.73" r="0.65" opacity="0.7"/>
<circle cx="115.85" cy="143.26" r="0.6" opacity="0.45"/>
<circle cx="119.66" cy="144.09" r="0.6" opacity="0.7"/>
<circle cx="126.7" cy="141.5" r="0.85" opacity="0.55"/>
<circle cx="129.92" cy="141.98" r="0.7" opacity="0.55"/>
<circle cx="133.94" cy="141.84" r="0.75" opacity="0.45"/>
<circle cx="139.71" cy="143.72" r="0.55" opacity="0.25"/>
<circle cx="142.81" cy="143.93" r="0.55" opacity="0.45"/>
<circle cx="146.36" cy="141.9" r="0.7" opacity="0.7"/>
<circle cx="150.42" cy="144.12" r="0.5" opacity="0.3"/>
<circle cx="151.55" cy="143.86" r="0.65" opacity="0.25"/>
<circle cx="156.89" cy="143.7" r="0.65" opacity="0.3"/>
<circle cx="160.02" cy="143.17" r="0.75" opacity="0.25"/>
<circle cx="163.97" cy="143.77" r="0.7" opacity="0.55"/>
<circle cx="165.21" cy="143.8" r="0.85" opacity="0.45"/>
<circle cx="170.82" cy="143.57" r="0.5" opacity="0.25"/>
<circle cx="171.14" cy="142.73" r="0.55" opacity="0.4"/>
<circle cx="176.42" cy="142.88" r="0.7" opacity="0.55"/>
<circle cx="179.58" cy="143.17" r="0.7" opacity="0.4"/>
<circle cx="34.87" cy="148.13" r="0.55" opacity="0.45"/>
<circle cx="39.94" cy="145.2" r="0.65" opacity="0.7"/>
<circle cx="45.41" cy="145.53" r="0.55" opacity="0.4"/>
<circle cx="49.12" cy="146.57" r="0.6" opacity="0.7"/>
<circle cx="53.64" cy="147.25" r="0.85" opacity="0.7"/>
<circle cx="57.84" cy="145.35" r="0.65" opacity="0.45"/>
<circle cx="60.45" cy="145.11" r="0.7" opacity="0.4"/>
<circle cx="65.39" cy="147.77" r="0.85" opacity="0.7"/>
<circle cx="67.52" cy="145.37" r="0.6" opacity="0.4"/>
<circle cx="72.58" cy="145.15" r="0.5" opacity="0.55"/>
<circle cx="73.82" cy="146.81" r="0.5" opacity="0.4"/>
<circle cx="78.45" cy="147.55" r="0.55" opacity="0.3"/>
<circle cx="79.49" cy="147.66" r="0.85" opacity="0.25"/>
<circle cx="86.12" cy="145.84" r="0.55" opacity="0.55"/>
<circle cx="92.95" cy="146.6" r="0.6" opacity="0.4"/>
<circle cx="93.21" cy="146.59" r="0.75" opacity="0.55"/>
<circle cx="96.59" cy="146.67" r="0.75" opacity="0.45"/>
<circle cx="100.6" cy="147.57" r="0.5" opacity="0.4"/>
<circle cx="106.31" cy="145.64" r="0.6" opacity="0.25"/>
<circle cx="107.3" cy="147.19" r="0.75" opacity="0.45"/>
<circle cx="113.51" cy="147.15" r="0.6" opacity="0.25"/>
<circle cx="116.92" cy="148.17" r="0.85" opacity="0.45"/>
<circle cx="120.85" cy="145.38" r="0.75" opacity="0.55"/>
<circle cx="126.6" cy="145.93" r="0.85" opacity="0.7"/>
<circle cx="129.46" cy="145.63" r="0.7" opacity="0.55"/>
<circle cx="132.98" cy="145.06" r="0.5" opacity="0.55"/>
<circle cx="135.54" cy="145.27" r="0.85" opacity="0.45"/>
<circle cx="138.36" cy="147.66" r="0.6" opacity="0.45"/>
<circle cx="142.67" cy="147.58" r="0.7" opacity="0.3"/>
<circle cx="145.25" cy="146.79" r="0.75" opacity="0.7"/>
<circle cx="147.15" cy="147.34" r="0.7" opacity="0.4"/>
<circle cx="150.73" cy="145.67" r="0.55" opacity="0.55"/>
<circle cx="160.45" cy="146.95" r="0.55" opacity="0.25"/>
<circle cx="161.02" cy="146.77" r="0.5" opacity="0.4"/>
<circle cx="167.44" cy="147.96" r="0.85" opacity="0.45"/>
<circle cx="167.99" cy="146.07" r="0.65" opacity="0.3"/>
<circle cx="173.14" cy="145.1" r="0.7" opacity="0.45"/>
<circle cx="179.88" cy="146.04" r="0.55" opacity="0.25"/>
<circle cx="34.57" cy="149.79" r="0.65" opacity="0.45"/>
<circle cx="37.45" cy="149.62" r="0.55" opacity="0.45"/>
<circle cx="39.1" cy="150.23" r="0.7" opacity="0.3"/>
<circle cx="42.91" cy="150.33" r="0.75" opacity="0.3"/>
<circle cx="47.88" cy="151.59" r="0.65" opacity="0.55"/>
<circle cx="50.41" cy="150.41" r="0.85" opacity="0.3"/>
<circle cx="53.49" cy="151.54" r="0.5" opacity="0.25"/>
<circle cx="57.32" cy="150.72" r="0.75" opacity="0.7"/>
<circle cx="60.46" cy="150.16" r="0.7" opacity="0.45"/>
<circle cx="65.81" cy="151.38" r="0.55" opacity="0.3"/>
<circle cx="67.03" cy="149.29" r="0.55" opacity="0.4"/>
<circle cx="69.9" cy="151.36" r="0.55" opacity="0.25"/>
<circle cx="75.87" cy="150.72" r="0.85" opacity="0.55"/>
<circle cx="79.46" cy="150.59" r="0.5" opacity="0.25"/>
<circle cx="84.12" cy="149.97" r="0.65" opacity="0.7"/>
<circle cx="89.54" cy="151.31" r="0.75" opacity="0.7"/>
<circle cx="91.1" cy="150.19" r="0.55" opacity="0.7"/>
<circle cx="94.53" cy="150.13" r="0.85" opacity="0.55"/>
<circle cx="97.31" cy="151.22" r="0.5" opacity="0.25"/>
<circle cx="99.97" cy="149.69" r="0.85" opacity="0.25"/>
<circle cx="106.02" cy="150.87" r="0.65" opacity="0.25"/>
<circle cx="106.91" cy="148.23" r="0.5" opacity="0.55"/>
<circle cx="111.63" cy="148.98" r="0.85" opacity="0.3"/>
<circle cx="114.37" cy="148.19" r="0.7" opacity="0.45"/>
<circle cx="119.93" cy="150.12" r="0.55" opacity="0.55"/>
<circle cx="123.18" cy="151.47" r="0.5" opacity="0.3"/>
<circle cx="124.2" cy="149.29" r="0.6" opacity="0.45"/>
<circle cx="127.02" cy="149.66" r="0.55" opacity="0.55"/>
<circle cx="131.88" cy="150.57" r="0.7" opacity="0.25"/>
<circle cx="134.73" cy="149.59" r="0.75" opacity="0.45"/>
<circle cx="139.98" cy="149.24" r="0.85" opacity="0.4"/>
<circle cx="142.3" cy="149.57" r="0.7" opacity="0.45"/>
<circle cx="150.94" cy="148.35" r="0.75" opacity="0.25"/>
<circle cx="155.99" cy="148.88" r="0.75" opacity="0.3"/>
<circle cx="159.39" cy="148.96" r="0.7" opacity="0.45"/>
<circle cx="161.59" cy="148.69" r="0.85" opacity="0.4"/>
<circle cx="167.23" cy="148.77" r="0.6" opacity="0.55"/>
<circle cx="170.35" cy="148.92" r="0.55" opacity="0.45"/>
<circle cx="173.9" cy="150.45" r="0.7" opacity="0.55"/>
<circle cx="176.1" cy="150.4" r="0.75" opacity="0.55"/>
<circle cx="178.04" cy="148.56" r="0.55" opacity="0.7"/>
<circle cx="32.44" cy="151.66" r="0.65" opacity="0.3"/>
<circle cx="40.07" cy="152.29" r="0.5" opacity="0.4"/>
<circle cx="45.06" cy="152.05" r="0.6" opacity="0.4"/>
<circle cx="46.04" cy="153.31" r="0.6" opacity="0.7"/>
<circle cx="51.18" cy="153.81" r="0.5" opacity="0.45"/>
<circle cx="53.01" cy="154.39" r="0.55" opacity="0.25"/>
<circle cx="57.24" cy="154.96" r="0.5" opacity="0.4"/>
<circle cx="60.92" cy="152.24" r="0.7" opacity="0.55"/>
<circle cx="64.27" cy="153.83" r="0.55" opacity="0.55"/>
<circle cx="68.93" cy="151.85" r="0.85" opacity="0.25"/>
<circle cx="70.42" cy="152.27" r="0.85" opacity="0.45"/>
<circle cx="73.3" cy="152.97" r="0.5" opacity="0.7"/>
<circle cx="76.88" cy="152.99" r="0.65" opacity="0.55"/>
<circle cx="79.87" cy="152.54" r="0.75" opacity="0.7"/>
<circle cx="84.57" cy="154.5" r="0.85" opacity="0.3"/>
<circle cx="89.41" cy="152.3" r="0.55" opacity="0.3"/>
<circle cx="91.16" cy="153.96" r="0.6" opacity="0.7"/>
<circle cx="96.26" cy="151.81" r="0.7" opacity="0.25"/>
<circle cx="105.15" cy="151.86" r="0.85" opacity="0.4"/>
<circle cx="108.5" cy="153.4" r="0.6" opacity="0.4"/>
<circle cx="111.23" cy="153.03" r="0.7" opacity="0.7"/>
<circle cx="115.88" cy="153.43" r="0.75" opacity="0.7"/>
<circle cx="116.81" cy="152.61" r="0.55" opacity="0.3"/>
<circle cx="121.39" cy="154.69" r="0.65" opacity="0.45"/>
<circle cx="125.84" cy="153.26" r="0.65" opacity="0.45"/>
<circle cx="129.27" cy="154.96" r="0.65" opacity="0.7"/>
<circle cx="132.47" cy="153.28" r="0.5" opacity="0.45"/>
<circle cx="135.29" cy="153.82" r="0.55" opacity="0.55"/>
<circle cx="137.99" cy="153.26" r="0.5" opacity="0.25"/>
<circle cx="141.85" cy="154.9" r="0.65" opacity="0.55"/>
<circle cx="144.9" cy="153.7" r="0.65" opacity="0.25"/>
<circle cx="147.43" cy="152.84" r="0.55" opacity="0.4"/>
<circle cx="151.61" cy="153" r="0.7" opacity="0.25"/>
<circle cx="157.18" cy="154.68" r="0.55" opacity="0.45"/>
<circle cx="157.74" cy="153.51" r="0.7" opacity="0.55"/>
<circle cx="160.82" cy="153.61" r="0.85" opacity="0.3"/>
<circle cx="164.19" cy="154.86" r="0.7" opacity="0.55"/>
<circle cx="170.5" cy="152.64" r="0.65" opacity="0.7"/>
<circle cx="172.11" cy="153.31" r="0.55" opacity="0.4"/>
<circle cx="175.01" cy="153.24" r="0.55" opacity="0.45"/>
<circle cx="179.47" cy="154.82" r="0.65" opacity="0.25"/>
</g>
</g>
<g clip-path="url(#cb)">
<rect x="31" y="177" width="150" height="150" filter="url(#nb)"/>
<g fill="#1a1a1a" filter="url(#soft)">
<circle cx="179.59" cy="252.83" r="0.6" opacity="0.7"/>
<circle cx="134.81" cy="215.36" r="0.6" opacity="0.7"/>
<circle cx="42.56" cy="291.91" r="0.6" opacity="0.7"/>
<circle cx="46.97" cy="250.83" r="0.6" opacity="0.7"/>
<circle cx="65.43" cy="188.77" r="0.6" opacity="0.7"/>
<circle cx="162.64" cy="232.27" r="0.6" opacity="0.7"/>
<circle cx="158.94" cy="313.83" r="0.6" opacity="0.7"/>
<circle cx="50.83" cy="301.55" r="0.6" opacity="0.7"/>
<circle cx="136.04" cy="207.22" r="0.6" opacity="0.7"/>
<circle cx="106.1" cy="267.32" r="0.6" opacity="0.7"/>
</g>
</g>
<g>
<rect x="121" y="6" width="60" height="56" filter="url(#ha)" opacity="0.95"/>
<g stroke-width="1.25" filter="url(#soft)">
<line x1="134.7" y1="17.45" x2="150.35" y2="9.83" stroke="#f0f0f0" opacity="0.34" stroke-dasharray="2.1 0.7"/>
<line x1="135.27" y1="18.62" x2="150.92" y2="10.99" stroke="#161616" opacity="0.42"/>
<line x1="133.95" y1="20.71" x2="153.39" y2="11.24" stroke="#f0f0f0" opacity="0.34" stroke-dasharray="2.1 0.7"/>
<line x1="134.52" y1="21.88" x2="153.96" y2="12.41" stroke="#161616" opacity="0.42"/>
<line x1="133.36" y1="23.89" x2="156.25" y2="12.74" stroke="#f0f0f0" opacity="0.34" stroke-dasharray="2.1 0.7"/>
<line x1="133.93" y1="25.06" x2="156.82" y2="13.9" stroke="#161616" opacity="0.42"/>
<line x1="132.95" y1="26.98" x2="158.94" y2="14.32" stroke="#f0f0f0" opacity="0.34" stroke-dasharray="2.1 0.7"/>
<line x1="133.52" y1="28.15" x2="159.51" y2="15.49" stroke="#161616" opacity="0.42"/>
<line x1="132.74" y1="29.98" x2="161.43" y2="16" stroke="#f0f0f0" opacity="0.34" stroke-dasharray="2.1 0.7"/>
<line x1="133.31" y1="31.15" x2="162" y2="17.17" stroke="#161616" opacity="0.42"/>
<line x1="132.74" y1="32.87" x2="163.71" y2="17.78" stroke="#f0f0f0" opacity="0.34" stroke-dasharray="2.1 0.7"/>
<line x1="133.31" y1="34.04" x2="164.28" y2="18.95" stroke="#161616" opacity="0.42"/>
<line x1="132.98" y1="35.64" x2="165.74" y2="19.68" stroke="#f0f0f0" opacity="0.34" stroke-dasharray="2.1 0.7"/>
<line x1="133.55" y1="36.81" x2="166.31" y2="20.85" stroke="#161616" opacity="0.42"/>
<line x1="133.54" y1="38.26" x2="167.46" y2="21.74" stroke="#f0f0f0" opacity="0.34" stroke-dasharray="2.1 0.7"/>
<line x1="134.11" y1="39.43" x2="168.03" y2="22.91" stroke="#161616" opacity="0.42"/>
<line x1="134.68" y1="40.6" x2="168.6" y2="24.07" stroke="#f0f0f0" opacity="0.34" stroke-dasharray="2.1 0.7"/>
<line x1="135.25" y1="41.77" x2="169.17" y2="25.24" stroke="#161616" opacity="0.42"/>
<line x1="136.4" y1="42.65" x2="169.15" y2="26.7" stroke="#f0f0f0" opacity="0.34" stroke-dasharray="2.1 0.7"/>
<line x1="136.97" y1="43.82" x2="169.72" y2="27.86" stroke="#161616" opacity="0.42"/>
<line x1="138.43" y1="44.56" x2="169.4" y2="29.47" stroke="#f0f0f0" opacity="0.34" stroke-dasharray="2.1 0.7"/>
<line x1="139" y1="45.73" x2="169.97" y2="30.64" stroke="#161616" opacity="0.42"/>
<line x1="140.71" y1="46.34" x2="169.4" y2="32.36" stroke="#f0f0f0" opacity="0.34" stroke-dasharray="2.1 0.7"/>
<line x1="141.28" y1="47.51" x2="169.97" y2="33.53" stroke="#161616" opacity="0.42"/>
<line x1="143.2" y1="48.02" x2="169.19" y2="35.36" stroke="#f0f0f0" opacity="0.34" stroke-dasharray="2.1 0.7"/>
<line x1="143.77" y1="49.19" x2="169.76" y2="36.53" stroke="#161616" opacity="0.42"/>
<line x1="145.89" y1="49.6" x2="168.78" y2="38.45" stroke="#f0f0f0" opacity="0.34" stroke-dasharray="2.1 0.7"/>
<line x1="146.46" y1="50.77" x2="169.35" y2="39.62" stroke="#161616" opacity="0.42"/>
<line x1="148.75" y1="51.1" x2="168.19" y2="41.63" stroke="#f0f0f0" opacity="0.34" stroke-dasharray="2.1 0.7"/>
<line x1="149.32" y1="52.27" x2="168.76" y2="42.79" stroke="#161616" opacity="0.42"/>
<line x1="151.78" y1="52.51" x2="167.44" y2="44.89" stroke="#f0f0f0" opacity="0.34" stroke-dasharray="2.1 0.7"/>
<line x1="152.35" y1="53.68" x2="168.01" y2="46.06" stroke="#161616" opacity="0.42"/>
</g>
<g stroke="#fff" stroke-width="0.8">
<line x1="140.8" y1="14.5" x2="159" y2="39.6"/>
<line x1="138" y1="33" x2="162.2" y2="21.2" stroke-width="1.1"/>
<line x1="141" y1="36.6" x2="163" y2="25.6" stroke-width="0.7" opacity="0.8"/>
</g>
<text class="w" x="126" y="47" font-size="7.3">0.21 nm</text>
<text class="w" x="155.3" y="55.2" font-size="7.1">1 nm</text>
<rect x="149.3" y="57.9" width="29.4" height="2.2" fill="#fff"/>
</g>
<linearGradient id="gb" x1="0" y1="1" x2="1" y2="0"><stop offset="0" stop-color="#000" stop-opacity="0.28"/><stop offset="0.5" stop-color="#000" stop-opacity="0.06"/><stop offset="1" stop-color="#fff" stop-opacity="0.14"/></linearGradient>
<g>
<rect x="122" y="177.5" width="59" height="53.5" filter="url(#hb)" opacity="0.96"/>
<rect x="122.6" y="178" width="58.4" height="52.4" fill="url(#gb)"/>
<g stroke-width="1.1" filter="url(#soft)">
<line x1="125.78" y1="210.65" x2="127.82" y2="221.35" stroke="#eee" opacity="0.17"/>
<line x1="127.13" y1="210.65" x2="129.17" y2="221.35" stroke="#111" opacity="0.2"/>
<line x1="128.22" y1="208.78" x2="130.78" y2="222.22" stroke="#eee" opacity="0.17"/>
<line x1="129.57" y1="208.78" x2="132.13" y2="222.22" stroke="#111" opacity="0.2"/>
<line x1="130.7" y1="207.12" x2="133.7" y2="222.88" stroke="#eee" opacity="0.17"/>
<line x1="132.05" y1="207.12" x2="135.05" y2="222.88" stroke="#111" opacity="0.2"/>
<line x1="133.22" y1="205.68" x2="136.58" y2="223.32" stroke="#eee" opacity="0.17"/>
<line x1="134.57" y1="205.68" x2="137.93" y2="223.32" stroke="#111" opacity="0.2"/>
<line x1="135.78" y1="204.44" x2="139.42" y2="223.56" stroke="#eee" opacity="0.17"/>
<line x1="137.13" y1="204.44" x2="140.77" y2="223.56" stroke="#111" opacity="0.2"/>
<line x1="138.38" y1="203.42" x2="142.22" y2="223.58" stroke="#eee" opacity="0.17"/>
<line x1="139.73" y1="203.42" x2="143.57" y2="223.58" stroke="#111" opacity="0.2"/>
<line x1="141.02" y1="202.6" x2="144.98" y2="223.4" stroke="#eee" opacity="0.17"/>
<line x1="142.37" y1="202.6" x2="146.33" y2="223.4" stroke="#111" opacity="0.2"/>
<line x1="143.7" y1="202" x2="147.69" y2="223" stroke="#eee" opacity="0.17"/>
<line x1="145.05" y1="202" x2="149.04" y2="223" stroke="#111" opacity="0.2"/>
<line x1="146.42" y1="201.6" x2="150.38" y2="222.4" stroke="#eee" opacity="0.17"/>
<line x1="147.77" y1="201.6" x2="151.73" y2="222.4" stroke="#111" opacity="0.2"/>
<line x1="149.18" y1="201.42" x2="153.02" y2="221.58" stroke="#eee" opacity="0.17"/>
<line x1="150.53" y1="201.42" x2="154.37" y2="221.58" stroke="#111" opacity="0.2"/>
<line x1="151.98" y1="201.44" x2="155.62" y2="220.56" stroke="#eee" opacity="0.17"/>
<line x1="153.33" y1="201.44" x2="156.97" y2="220.56" stroke="#111" opacity="0.2"/>
<line x1="154.82" y1="201.68" x2="158.18" y2="219.32" stroke="#eee" opacity="0.17"/>
<line x1="156.17" y1="201.68" x2="159.53" y2="219.32" stroke="#111" opacity="0.2"/>
<line x1="157.7" y1="202.12" x2="160.7" y2="217.88" stroke="#eee" opacity="0.17"/>
<line x1="159.05" y1="202.12" x2="162.05" y2="217.88" stroke="#111" opacity="0.2"/>
<line x1="160.62" y1="202.78" x2="163.18" y2="216.22" stroke="#eee" opacity="0.17"/>
<line x1="161.97" y1="202.78" x2="164.53" y2="216.22" stroke="#111" opacity="0.2"/>
</g>
<g stroke="#fff" stroke-width="1.15">
<line x1="142.2" y1="199.8" x2="144.8" y2="213.9"/>
<line x1="145.2" y1="199.2" x2="148.2" y2="213.3"/>
<line x1="130.1" y1="211.6" x2="140.4" y2="209.4" stroke-width="0.75"/>
<line x1="160.3" y1="203.2" x2="150.4" y2="205.9" stroke-width="0.75"/>
</g>
<path d="M142.4 208.9 L139.2 208.1 L139.8 210.8 Z M148.6 206.4 L151.7 207 L151 204.4 Z" fill="#fff"/>
<text class="w" x="135.3" y="192.9" font-size="7.3">0.21 nm</text>
<text class="w" x="155" y="224.2" font-size="7.1">1 nm</text>
<rect x="149.3" y="226.5" width="29.4" height="2.4" fill="#fff"/>
</g>
<g>
<rect x="120.4" y="89.1" width="55.4" height="51.8" fill="none" stroke="#e8e8e8" stroke-width="0.6"/>
<rect x="121.4" y="127.95" width="3.6" height="12.95" fill="#fff"/>
<rect x="126.8" y="123.63" width="3.6" height="17.27" fill="#fff"/>
<rect x="132.2" y="110.68" width="3.6" height="30.22" fill="#fff"/>
<rect x="137.6" y="97.73" width="3.6" height="43.17" fill="#fff"/>
<rect x="143" y="110.68" width="3.6" height="30.22" fill="#fff"/>
<rect x="148.4" y="106.37" width="3.6" height="34.53" fill="#fff"/>
<rect x="153.8" y="115" width="3.6" height="25.9" fill="#fff"/>
<rect x="159.2" y="115" width="3.6" height="25.9" fill="#fff"/>
<rect x="164.6" y="136.58" width="3.6" height="4.32" fill="#fff"/>
<rect x="170" y="136.58" width="3.6" height="4.32" fill="#fff"/>
<text class="w" x="119.5" y="142.2" font-size="3.6" text-anchor="end">0</text>
<text class="w" x="119.5" y="133.57" font-size="3.6" text-anchor="end">2</text>
<text class="w" x="119.5" y="124.93" font-size="3.6" text-anchor="end">4</text>
<text class="w" x="119.5" y="116.3" font-size="3.6" text-anchor="end">6</text>
<text class="w" x="119.5" y="107.67" font-size="3.6" text-anchor="end">8</text>
<text class="w" x="119.5" y="99.03" font-size="3.6" text-anchor="end">10</text>
<text class="w" x="119.5" y="90.4" font-size="3.6" text-anchor="end">12</text>
<text class="w" x="126.4" y="146" font-size="3.7" text-anchor="middle">1.8</text>
<text class="w" x="134.5" y="146" font-size="3.7" text-anchor="middle">2.1</text>
<text class="w" x="142.6" y="146" font-size="3.7" text-anchor="middle">2.4</text>
<text class="w" x="150.7" y="146" font-size="3.7" text-anchor="middle">2.7</text>
<text class="w" x="158.8" y="146" font-size="3.7" text-anchor="middle">3.0</text>
<text class="w" x="166.9" y="146" font-size="3.7" text-anchor="middle">3.3</text>
<text class="w" x="174.6" y="146" font-size="3.7" text-anchor="middle">3.6</text>
<text class="w" font-size="5.3" text-anchor="middle" transform="translate(115.6 117) rotate(-90)">Count</text>
<text class="w" font-size="5.4" text-anchor="middle" x="148.1" y="153">Diameter (nm)</text>
</g>
<g>
<rect x="121.4" y="262.2" width="54.4" height="51.8" fill="none" stroke="#e8e8e8" stroke-width="0.6"/>
<rect x="122.8" y="310.76" width="6.2" height="3.24" fill="#fff"/>
<rect x="131.9" y="268.68" width="6.2" height="45.33" fill="#fff"/>
<rect x="141" y="284.86" width="6.2" height="29.14" fill="#fff"/>
<rect x="150.1" y="307.52" width="6.2" height="6.48" fill="#fff"/>
<rect x="159.2" y="307.52" width="6.2" height="6.48" fill="#fff"/>
<text class="w" x="120.5" y="315.3" font-size="3.6" text-anchor="end">0</text>
<text class="w" x="120.5" y="308.82" font-size="3.6" text-anchor="end">2</text>
<text class="w" x="120.5" y="302.35" font-size="3.6" text-anchor="end">4</text>
<text class="w" x="120.5" y="295.88" font-size="3.6" text-anchor="end">6</text>
<text class="w" x="120.5" y="289.4" font-size="3.6" text-anchor="end">8</text>
<text class="w" x="120.5" y="282.93" font-size="3.6" text-anchor="end">10</text>
<text class="w" x="120.5" y="276.45" font-size="3.6" text-anchor="end">12</text>
<text class="w" x="120.5" y="269.98" font-size="3.6" text-anchor="end">14</text>
<text class="w" x="120.5" y="263.5" font-size="3.6" text-anchor="end">16</text>
<text class="w" x="122" y="318.3" font-size="3.7" text-anchor="middle">0.5</text>
<text class="w" x="130.9" y="318.3" font-size="3.7" text-anchor="middle">1.0</text>
<text class="w" x="139.9" y="318.3" font-size="3.7" text-anchor="middle">1.5</text>
<text class="w" x="148.9" y="318.3" font-size="3.7" text-anchor="middle">2.0</text>
<text class="w" x="157.9" y="318.3" font-size="3.7" text-anchor="middle">2.5</text>
<text class="w" x="166.9" y="318.3" font-size="3.7" text-anchor="middle">3.0</text>
<text class="w" x="175.5" y="318.3" font-size="3.7" text-anchor="middle">3.5</text>
<text class="w" font-size="5.3" text-anchor="middle" transform="translate(115.6 288) rotate(-90)">Count</text>
<text class="w" font-size="5.4" text-anchor="middle" x="148.6" y="324.2">Diameter (nm)</text>
</g>
<text x="41" y="142.5" font-size="6.6" fill="#111" textLength="21" lengthAdjust="spacing">50 nm</text>
<rect x="41" y="144.2" width="29.8" height="1.3" fill="#111"/>
<text x="41" y="314.6" font-size="6.6" fill="#111" textLength="21" lengthAdjust="spacing">50 nm</text>
<rect x="41" y="316" width="29.8" height="1.3" fill="#111"/>
<g>
<g clip-path="url(#cc)">
<path d="M213.5 78L213.62 77.6L213.76 77.13L213.92 76.6L214.1 76.01L214.29 75.36L214.49 74.67L214.71 73.95L214.94 73.18L215.17 72.39L215.42 71.58L215.67 70.74L215.93 69.9L216.19 69.06L216.45 68.21L216.71 67.37L216.98 66.55L217.24 65.74L217.5 64.96L217.75 64.21L218 63.5L218.25 62.81L218.5 62.12L218.75 61.43L219.01 60.74L219.27 60.05L219.53 59.37L219.79 58.69L220.06 58.01L220.32 57.34L220.59 56.67L220.86 56L221.13 55.34L221.41 54.69L221.68 54.04L221.95 53.4L222.22 52.77L222.49 52.14L222.76 51.52L223.03 50.9L223.3 50.3L223.57 49.7L223.84 49.1L224.12 48.5L224.4 47.9L224.68 47.31L224.96 46.72L225.25 46.13L225.53 45.55L225.81 44.98L226.09 44.42L226.37 43.87L226.65 43.32L226.92 42.79L227.19 42.27L227.46 41.77L227.72 41.28L227.98 40.81L228.22 40.35L228.47 39.92L228.7 39.5L228.93 39.1L229.15 38.72L229.37 38.35L229.58 38L229.79 37.67L229.99 37.34L230.19 37.04L230.38 36.74L230.57 36.46L230.76 36.19L230.95 35.93L231.13 35.68L231.31 35.44L231.48 35.21L231.66 34.99L231.83 34.78L232 34.57L232.17 34.38L232.33 34.19L232.5 34L232.66 33.82L232.82 33.64L232.98 33.48L233.13 33.31L233.27 33.16L233.42 33.01L233.56 32.87L233.7 32.74L233.83 32.63L233.97 32.52L234.1 32.42L234.24 32.34L234.37 32.27L234.5 32.21L234.63 32.17L234.76 32.14L234.89 32.13L235.03 32.14L235.16 32.16L235.3 32.2L235.44 32.26L235.57 32.33L235.7 32.41L235.83 32.51L235.95 32.62L236.08 32.75L236.2 32.89L236.32 33.04L236.45 33.21L236.58 33.39L236.7 33.59L236.83 33.8L236.96 34.03L237.1 34.26L237.24 34.52L237.38 34.79L237.53 35.07L237.68 35.36L237.84 35.67L238 36L238.17 36.34L238.33 36.7L238.49 37.07L238.65 37.46L238.81 37.87L238.98 38.29L239.14 38.72L239.31 39.17L239.49 39.64L239.67 40.11L239.86 40.6L240.05 41.1L240.25 41.62L240.47 42.14L240.69 42.68L240.92 43.22L241.17 43.78L241.43 44.34L241.71 44.92L242 45.5L242.31 46.1L242.65 46.74L243.01 47.39L243.39 48.08L243.78 48.78L244.19 49.5L244.61 50.23L245.04 50.97L245.48 51.72L245.92 52.47L246.36 53.22L246.8 53.97L247.24 54.72L247.67 55.45L248.1 56.18L248.51 56.88L248.91 57.57L249.29 58.24L249.66 58.88L250 59.5L250.33 60.09L250.65 60.68L250.95 61.25L251.25 61.82L251.55 62.38L251.83 62.92L252.11 63.46L252.38 63.98L252.64 64.5L252.9 65L253.15 65.49L253.4 65.98L253.65 66.45L253.89 66.92L254.13 67.38L254.37 67.82L254.6 68.26L254.83 68.68L255.07 69.09L255.3 69.5L255.53 69.89L255.75 70.27L255.97 70.64L256.19 71L256.4 71.34L256.61 71.68L256.81 72L257.01 72.32L257.21 72.62L257.4 72.92L257.59 73.21L257.78 73.49L257.97 73.76L258.16 74.02L258.35 74.28L258.54 74.54L258.73 74.78L258.92 75.03L259.11 75.27L259.3 75.5L259.49 75.72L259.67 75.94L259.85 76.13L260.03 76.32L260.2 76.49L260.37 76.66L260.54 76.82L260.71 76.97L260.87 77.12L261.04 77.26L261.22 77.4L261.39 77.54L261.57 77.69L261.75 77.83L261.94 77.97L262.14 78.13L262.34 78.28L262.55 78.45L262.77 78.62L263 78.8L263.24 78.99L263.49 79.18L263.75 79.38L264.02 79.59L264.29 79.79L264.58 80L264.86 80.21L265.16 80.42L265.45 80.64L265.75 80.86L266.05 81.07L266.35 81.29L266.65 81.51L266.96 81.73L267.26 81.94L267.55 82.16L267.85 82.37L268.14 82.58L268.42 82.79L268.7 83L268.97 83.2L269.23 83.4L269.49 83.6L269.74 83.79L269.99 83.98L270.23 84.17L270.48 84.36L270.72 84.54L270.96 84.73L271.21 84.92L271.45 85.11L271.7 85.3L271.96 85.5L272.22 85.7L272.49 85.9L272.77 86.11L273.06 86.32L273.36 86.54L273.67 86.77L274 87L274.34 87.24L274.7 87.49L275.06 87.75L275.44 88.01L275.83 88.28L276.23 88.56L276.64 88.83L277.05 89.12L277.47 89.4L277.89 89.69L278.32 89.98L278.74 90.26L279.17 90.55L279.59 90.84L280.01 91.12L280.42 91.41L280.83 91.69L281.23 91.96L281.62 92.23L282 92.5L282.37 92.76L282.74 93.02L283.09 93.28L283.45 93.53L283.8 93.79L284.14 94.04L284.48 94.29L284.82 94.54L285.16 94.78L285.5 95.03L285.84 95.28L286.18 95.52L286.52 95.77L286.86 96.02L287.2 96.26L287.55 96.51L287.91 96.75L288.26 97L288.63 97.25L289 97.5L289.37 97.75L289.72 97.98L290.07 98.22L290.41 98.44L290.75 98.67L291.08 98.89L291.42 99.11L291.76 99.33L292.1 99.56L292.46 99.78L292.82 100.01L293.2 100.25L293.59 100.49L294 100.74L294.44 101L294.89 101.28L295.37 101.56L295.88 101.86L296.43 102.17L297 102.5L297.61 102.85L298.26 103.22L298.94 103.61L299.65 104.02L300.39 104.44L301.16 104.88L301.94 105.32L302.74 105.78L303.56 106.24L304.39 106.7L305.23 107.16L306.08 107.63L306.93 108.09L307.78 108.54L308.62 108.98L309.46 109.42L310.29 109.84L311.11 110.24L311.91 110.63L312.7 111L313.47 111.35L314.25 111.7L315.01 112.03L315.78 112.36L316.55 112.68L317.31 113L318.08 113.3L318.84 113.6L319.6 113.89L320.36 114.18L321.12 114.46L321.88 114.74L322.65 115.01L323.41 115.28L324.17 115.54L324.93 115.8L325.7 116.05L326.46 116.31L327.23 116.55L328 116.8L328.77 117.04L329.56 117.28L330.34 117.51L331.14 117.74L331.93 117.97L332.73 118.19L333.53 118.4L334.33 118.62L335.13 118.82L335.93 119.03L336.72 119.22L337.51 119.42L338.29 119.6L339.06 119.79L339.83 119.97L340.59 120.14L341.34 120.31L342.07 120.48L342.79 120.64L343.5 120.8L344.21 120.95L344.93 121.1L345.66 121.25L346.39 121.39L347.13 121.53L347.86 121.66L348.59 121.79L349.32 121.92L350.03 122.04L350.72 122.15L351.39 122.26L352.04 122.36L352.67 122.46L353.26 122.56L353.82 122.65L354.35 122.73L354.83 122.81L355.27 122.88L355.66 122.94L356 123" fill="none" stroke="#fd3a3a" stroke-width="4.2" stroke-opacity="0.8" stroke-linejoin="round"/>
<path d="M213.5 78.36L213.56 80.07L213.61 80.55L213.67 77.55L213.73 76.45L213.79 72.45L213.84 77.42L213.9 82.31L213.96 76.19L214.01 77.65L214.07 74.63L214.13 81.44L214.18 75.72L214.24 79.69L214.3 78.92L214.36 72.93L214.41 70.1L214.47 70.42L214.53 76.07L214.58 73.92L214.64 76.2L214.7 74.11L214.75 74.42L214.81 70.97L214.87 71.91L214.93 79.88L214.98 75.48L215.04 73.66L215.1 70.56L215.15 72.94L215.21 72.22L215.27 73.81L215.32 73L215.38 65.76L215.44 73.2L215.5 72.79L215.55 73.18L215.61 70.6L215.67 71.99L215.72 69.25L215.78 69.35L215.84 72.63L215.89 68.63L215.95 71.13L216.01 73.89L216.07 75.57L216.12 65.03L216.18 72.03L216.24 67.8L216.29 68.83L216.35 76.05L216.41 73.28L216.47 70.81L216.52 72.17L216.58 69.55L216.64 68.97L216.69 65.48L216.75 71.2L216.81 68.18L216.86 59.32L216.92 65.36L216.98 66.36L217.04 64.55L217.09 60.87L217.15 68.58L217.21 68.41L217.26 60.69L217.32 66.32L217.38 66.02L217.43 63.99L217.49 64.37L217.55 65.96L217.61 62.4L217.66 66.1L217.72 64.68L217.78 68.24L217.83 63.09L217.89 63.49L217.95 62.23L218 65.98L218.06 59.44L218.12 59.22L218.18 66.44L218.23 55.95L218.29 62.84L218.35 66.1L218.4 63.43L218.46 66.84L218.52 63.72L218.58 61.95L218.63 62.29L218.69 56.89L218.75 62.64L218.8 60.96L218.86 62.96L218.92 64.59L218.97 62.57L219.03 67.38L219.09 62.86L219.15 61.94L219.2 60.83L219.26 67.85L219.32 60.86L219.37 58.04L219.43 60.72L219.49 62.55L219.54 58.47L219.6 59.14L219.66 60.61L219.72 60.05L219.77 63.63L219.83 60.17L219.89 57.22L219.94 63.24L220 55.87L220.06 60.2L220.11 57.07L220.17 57.84L220.23 58.59L220.29 56.8L220.34 56.26L220.4 57.48L220.46 55.48L220.51 53.7L220.57 53.59L220.63 59.5L220.68 55.53L220.74 56.79L220.8 58.42L220.86 52.5L220.91 57.68L220.97 55.89L221.03 57.28L221.08 53.66L221.14 51.69L221.2 54.41L221.26 59.69L221.31 49.68L221.37 56.09L221.43 55.5L221.48 55.03L221.54 54.94L221.6 56.34L221.65 51.77L221.71 54.88L221.77 51.65L221.83 52.87L221.88 55.08L221.94 51.91L222 57.86L222.05 51.26L222.11 55.01L222.17 49.07L222.22 50.45L222.28 59.17L222.34 53.58L222.4 50.99L222.45 56.45L222.51 51.87L222.57 54.66L222.62 50.16L222.68 53.31L222.74 54.6L222.79 53.34L222.85 51.67L222.91 49.62L222.97 44.72L223.02 50.28L223.08 49.29L223.14 55.07L223.19 46.83L223.25 50.67L223.31 49.27L223.36 46.93L223.42 53.02L223.48 50.24L223.54 50.83L223.59 49.86L223.65 52.58L223.71 48.33L223.76 45.69L223.82 56.56L223.88 49.57L223.94 49.23L223.99 45.85L224.05 47.76L224.11 48.53L224.16 50.33L224.22 45.84L224.28 50.15L224.33 46.93L224.39 48.95L224.45 47.09L224.51 47.01L224.56 44.62L224.62 50.09L224.68 49.14L224.73 47.4L224.79 44.31L224.85 51.04L224.9 51.63L224.96 49.72L225.02 48.82L225.08 52.35L225.13 53.61L225.19 46.22L225.25 54.33L225.3 43.95L225.36 44.92L225.42 53.99L225.47 41.48L225.53 48.13L225.59 47.22L225.65 49.27L225.7 44.16L225.76 46.37L225.82 50.83L225.87 42.35L225.93 45.33L225.99 41.12L226.05 48.72L226.1 42.75L226.16 41.7L226.22 49.05L226.27 50.12L226.33 40.29L226.39 42.12L226.44 36.9L226.5 44.97L226.56 41.63L226.62 44.37L226.67 44.5L226.73 44.16L226.79 38.79L226.84 40.68L226.9 45.01L226.96 45.64L227.01 42.4L227.07 47.38L227.13 39.15L227.19 45.01L227.24 37.53L227.3 44.66L227.36 45.22L227.41 41.76L227.47 44.56L227.53 42.4L227.58 45.77L227.64 43.92L227.7 39.93L227.76 39.3L227.81 40.63L227.87 40.09L227.93 43.94L227.98 36.69L228.04 44.6L228.1 39.43L228.15 40.64L228.21 43.75L228.27 36.91L228.33 41.35L228.38 40.99L228.44 46.94L228.5 48.25L228.55 34.22L228.61 48.05L228.67 42.94L228.73 38.36L228.78 40.08L228.84 37.08L228.9 38.02L228.95 38.4L229.01 34.08L229.07 39.76L229.12 38.32L229.18 40.27L229.24 41.22L229.3 32.65L229.35 36.65L229.41 38.67L229.47 42.86L229.52 36.51L229.58 36.51L229.64 34.94L229.69 37.65L229.75 41.75L229.81 40.55L229.87 38.96L229.92 34.94L229.98 37.53L230.04 35.73L230.09 37.81L230.15 42.41L230.21 45.19L230.26 35.31L230.32 34.5L230.38 39.21L230.44 30.72L230.49 37.94L230.55 34.5L230.61 39.66L230.66 36.56L230.72 30.82L230.78 34.21L230.83 33.67L230.89 34.84L230.95 32.19L231.01 37.45L231.06 34.7L231.12 36.04L231.18 37.34L231.23 36.38L231.29 40.17L231.35 37.31L231.41 38.63L231.46 30.07L231.52 35.84L231.58 35.37L231.63 31.27L231.69 31.23L231.75 32.4L231.8 38.74L231.86 35.2L231.92 36.16L231.98 33.53L232.03 38.66L232.09 37.22L232.15 37.05L232.2 34.73L232.26 42.76L232.32 38.4L232.37 28.71L232.43 33.21L232.49 29.45L232.55 34.12L232.6 39.07L232.66 32.98L232.72 31.54L232.77 36.64L232.83 33.38L232.89 29.45L232.94 37.92L233 30.6L233.06 36.62L233.12 34.78L233.17 39.12L233.23 28.01L233.29 31.21L233.34 29.6L233.4 31.07L233.46 35.04L233.52 38L233.57 24.26L233.63 32.78L233.69 37.25L233.74 33.1L233.8 33.45L233.86 35.52L233.91 28.42L233.97 32.16L234.03 37.18L234.09 37.49L234.14 27L234.2 38.12L234.26 34.45L234.31 34.72L234.37 33.74L234.43 35.82L234.48 38.52L234.54 25.67L234.6 33.29L234.66 27.9L234.71 33.03L234.77 31.18L234.83 26.49L234.88 32.8L234.94 33.35L235 35.89L235.05 31.04L235.11 31.88L235.17 26.74L235.23 33.46L235.28 30.31L235.34 31.2L235.4 35.52L235.45 32.11L235.51 34.45L235.57 33.33L235.62 35.67L235.68 29.59L235.74 34.28L235.8 28.52L235.85 29.54L235.91 28.25L235.97 34.97L236.02 32.69L236.08 31.33L236.14 32.55L236.2 32.03L236.25 33.52L236.31 26.77L236.37 37.18L236.42 36.52L236.48 29.06L236.54 37.63L236.59 32.81L236.65 35.99L236.71 30.39L236.77 36.66L236.82 36.2L236.88 33.17L236.94 31.02L236.99 36.21L237.05 27.82L237.11 38.09L237.16 35.93L237.22 32.78L237.28 28.89L237.34 36.69L237.39 33.77L237.45 33.11L237.51 37.61L237.56 36.15L237.62 33.34L237.68 42.43L237.73 32.58L237.79 36.51L237.85 39.82L237.91 41.08L237.96 40.89L238.02 31.21L238.08 36.4L238.13 35.11L238.19 38.51L238.25 33.78L238.3 35.05L238.36 29.93L238.42 30.8L238.48 34.54L238.53 38.51L238.59 34.19L238.65 37.81L238.7 32.24L238.76 33.14L238.82 37.94L238.88 35.56L238.93 41.47L238.99 33.24L239.05 40.37L239.1 35.37L239.16 37.06L239.22 33.61L239.27 39.12L239.33 37.81L239.39 42.88L239.45 41.26L239.5 43.5L239.56 35.57L239.62 34.68L239.67 38.63L239.73 42.49L239.79 37.33L239.84 42.1L239.9 40.04L239.96 43.88L240.02 42.53L240.07 47.84L240.13 44.07L240.19 37.52L240.24 49.93L240.3 42.42L240.36 41.84L240.41 42.81L240.47 41.23L240.53 44.12L240.59 40.8L240.64 36.42L240.7 48.87L240.76 40.91L240.81 43.52L240.87 37.14L240.93 45.9L240.98 44.5L241.04 46.49L241.1 43.02L241.16 46.29L241.21 43.17L241.27 45.65L241.33 39.83L241.38 41.85L241.44 42.14L241.5 44.57L241.56 43.92L241.61 48.14L241.67 39.94L241.73 42.18L241.78 47.3L241.84 40.95L241.9 46.54L241.95 45.74L242.01 46.48L242.07 43.98L242.13 45.88L242.18 44.74L242.24 50.22L242.3 52.42L242.35 46.43L242.41 41.53L242.47 43.59L242.52 49.25L242.58 46.96L242.64 47.68L242.7 47.19L242.75 48.67L242.81 38.86L242.87 46.5L242.92 44.27L242.98 46.53L243.04 44.59L243.09 47.29L243.15 52.7L243.21 47.14L243.27 52.72L243.32 49.12L243.38 45.01L243.44 47.15L243.49 46.59L243.55 41.93L243.61 55.87L243.67 50.71L243.72 49.35L243.78 44.06L243.84 49.44L243.89 41.51L243.95 53.61L244.01 50.77L244.06 47.59L244.12 48.94L244.18 55.53L244.24 41.95L244.29 46.46L244.35 49.66L244.41 51.01L244.46 47.98L244.52 51.61L244.58 49.84L244.63 47.06L244.69 49.08L244.75 51.94L244.81 53.53L244.86 52.27L244.92 44.45L244.98 53.08L245.03 50.7L245.09 52.32L245.15 50.71L245.2 55.36L245.26 55.31L245.32 48.37L245.38 49.69L245.43 55.06L245.49 52.67L245.55 48.99L245.6 54.27L245.66 54.97L245.72 53.81L245.77 49.01L245.83 50.68L245.89 55.38L245.95 53.35L246 48.36L246.06 52.7L246.12 50.59L246.17 52.1L246.23 51.85L246.29 53.14L246.35 54.53L246.4 54.5L246.46 52.84L246.52 53.38L246.57 49.15L246.63 54.08L246.69 47.4L246.74 50.16L246.8 53.09L246.86 57.34L246.92 56.51L246.97 50.5L247.03 56.19L247.09 62.4L247.14 54.8L247.2 58.97L247.26 53.12L247.31 54.53L247.37 59.06L247.43 56.01L247.49 57.7L247.54 56.91L247.6 55.86L247.66 48.22L247.71 55.7L247.77 54.92L247.83 52.43L247.88 59.78L247.94 58.43L248 58.11L248.06 56.89L248.11 58.06L248.17 55L248.23 51.07L248.28 52.35L248.34 58.15L248.4 59.71L248.45 58.81L248.51 53.88L248.57 60.09L248.63 51.89L248.68 56.29L248.74 55.8L248.8 53.39L248.85 55.19L248.91 60.26L248.97 58.2L249.03 59.45L249.08 55.78L249.14 58.39L249.2 51.37L249.25 52.58L249.31 58.44L249.37 61.61L249.42 60.22L249.48 55.35L249.54 61.82L249.6 59.05L249.65 61.27L249.71 56.65L249.77 53.02L249.82 60.32L249.88 59.26L249.94 54.03L249.99 60.14L250.05 62.41L250.11 60.29L250.17 57.3L250.22 63.52L250.28 66.21L250.34 62.56L250.39 61.81L250.45 61.53L250.51 59.82L250.56 63.38L250.62 64.24L250.68 63.13L250.74 59.49L250.79 59.93L250.85 59.34L250.91 65.13L250.96 61.23L251.02 62.15L251.08 60.2L251.14 61.36L251.19 61.33L251.25 57.27L251.31 58.67L251.36 58.35L251.42 63.45L251.48 63.76L251.53 61.12L251.59 63.11L251.65 58.85L251.71 61.58L251.76 63.47L251.82 62.83L251.88 61.25L251.93 62.28L251.99 63.07L252.05 68.52L252.1 62.76L252.16 57.04L252.22 63.22L252.28 67.51L252.33 64.39L252.39 69.06L252.45 66.43L252.5 64.12L252.56 65.54L252.62 63.99L252.67 62.86L252.73 59.24L252.79 65.55L252.85 69.82L252.9 65.35L252.96 64.37L253.02 60.97L253.07 68.68L253.13 63.42L253.19 66.11L253.24 64.17L253.3 69.99L253.36 67.99L253.42 67.87L253.47 66.81L253.53 65.82L253.59 71.01L253.64 67.06L253.7 69.12L253.76 65.07L253.82 66.72L253.87 65.5L253.93 67.5L253.99 67.78L254.04 63.65L254.1 70.49L254.16 68.98L254.21 69.56L254.27 68.52L254.33 66.86L254.39 66.33L254.44 68.28L254.5 69.58L254.56 67.68L254.61 65.61L254.67 69.5L254.73 68.66L254.78 63.79L254.84 73.87L254.9 66.95L254.96 71.06L255.01 68.36L255.07 71.83L255.13 75.98L255.18 68.67L255.24 73.14L255.3 68.04L255.35 71.84L255.41 69.05L255.47 70.65L255.53 75.32L255.58 70.8L255.64 68.59L255.7 71.11L255.75 68.11L255.81 70.67L255.87 70.63L255.92 66.76L255.98 70.31L256.04 72.2L256.1 63.39L256.15 74.61L256.21 76.46L256.27 70.06L256.32 67.95L256.38 73.08L256.44 74.24L256.5 67.88L256.55 68.24L256.61 79.12L256.67 71.96L256.72 71.35L256.78 76.9L256.84 76.77L256.89 71.26L256.95 74.65L257.01 68.38L257.07 75.65L257.12 71.68L257.18 72.84L257.24 69.15L257.29 69.74L257.35 71.74L257.41 74.6L257.46 76.06L257.52 74.68L257.58 74.88L257.64 75.55L257.69 75.27L257.75 78.72L257.81 74.23L257.86 73.57L257.92 74.43L257.98 71.88L258.03 73.36L258.09 68.33L258.15 78.37L258.21 80.62L258.26 70.44L258.32 73.44L258.38 75.91L258.43 67.04L258.49 73.21L258.55 71.93L258.61 72.23L258.66 67.66L258.72 73.04L258.78 73.12L258.83 74.97L258.89 73.73L258.95 77.06L259 78.83L259.06 77.16L259.12 76.77L259.18 78.56L259.23 77.54L259.29 74.27L259.35 73.05L259.4 76.67L259.46 77.91L259.52 76.66L259.57 74.22L259.63 76.36L259.69 74.78L259.75 79.77L259.8 74.78L259.86 76.95L259.92 73.1L259.97 75.97L260.03 72.08L260.09 75.57L260.14 79.11L260.2 76.2L260.26 77.8L260.32 76.69L260.37 76.19L260.43 73.75L260.49 81.44L260.54 79.32L260.6 73L260.66 75.41L260.71 78.1L260.77 72.29L260.83 75.75L260.89 71.78L260.94 81L261 74.53L261.06 78.46L261.11 77.64L261.17 77.57L261.23 83.13L261.29 78.26L261.34 83.25L261.4 78.61L261.46 74.66L261.51 78.2L261.57 78.83L261.63 78.75L261.68 77.18L261.74 76.47L261.8 77.36L261.86 76.77L261.91 75.97L261.97 77.99L262.03 75.38L262.08 77.8L262.14 72.45L262.2 78.22L262.25 74.43L262.31 81.66L262.37 79.46L262.43 74.43L262.48 78.1L262.54 75.53L262.6 85.71L262.65 75.4L262.71 73.85L262.77 84.6L262.82 77.6L262.88 78.79L262.94 77.29L263 76.25L263.05 72.77L263.11 72.65L263.17 75.03L263.22 80.43L263.28 77.14L263.34 75.91L263.39 82.51L263.45 76.09L263.51 83.08L263.57 83.91L263.62 82.95L263.68 72.82L263.74 76.19L263.79 78.71L263.85 80.82L263.91 81.16L263.97 75.5L264.02 77.38L264.08 80.43L264.14 82.97L264.19 77.29L264.25 79.1L264.31 79.63L264.36 80.11L264.42 84.37L264.48 85.5L264.54 80.55L264.59 77.55L264.65 79.49L264.71 79.3L264.76 83.42L264.82 81.3L264.88 78.55L264.93 84.14L264.99 80L265.05 82.34L265.11 77.27L265.16 80.85L265.22 75.15L265.28 74.03L265.33 80.2L265.39 83.48L265.45 84.01L265.5 84.83L265.56 76.37L265.62 77.57L265.68 78.62L265.73 78.74L265.79 80.98L265.85 79.87L265.9 80.08L265.96 78.38L266.02 82.93L266.08 83.07L266.13 83.01L266.19 84.82L266.25 84.94L266.3 80.15L266.36 77.67L266.42 76.83L266.47 83.71L266.53 81.43L266.59 79.07L266.65 78.63L266.7 81.82L266.76 84.34L266.82 81.02L266.87 85.81L266.93 81.46L266.99 82.48L267.04 80.19L267.1 79.79L267.16 85.27L267.22 83.83L267.27 81.63L267.33 78.13L267.39 79.37L267.44 79.96L267.5 81.41L267.56 83.23L267.61 87.24L267.67 79.51L267.73 83.03L267.79 79.61L267.84 77.86L267.9 84.45L267.96 85.28L268.01 81.22L268.07 78.25L268.13 88.29L268.18 84.94L268.24 85.69L268.3 81.86L268.36 83.12L268.41 82.8L268.47 85.72L268.53 83.68L268.58 82.81L268.64 80.04L268.7 82.55L268.76 84.96L268.81 86.15L268.87 82.35L268.93 83.25L268.98 85.66L269.04 80L269.1 82.57L269.15 81.36L269.21 87.82L269.27 82.02L269.33 88.62L269.38 82.16L269.44 83.37L269.5 86.13L269.55 80.1L269.61 79.91L269.67 84.36L269.72 81.29L269.78 84.83L269.84 84.06L269.9 80.99L269.95 81.36L270.01 86.11L270.07 80.18L270.12 88.74L270.18 84.74L270.24 84.91L270.29 81.67L270.35 89.98L270.41 82.63L270.47 81.51L270.52 83.44L270.58 80.41L270.64 84.86L270.69 86.96L270.75 86.83L270.81 84.71L270.86 85.6L270.92 83.02L270.98 83.75L271.04 80.17L271.09 86.55L271.15 83.62L271.21 84.79L271.26 85.05L271.32 85.44L271.38 84.68L271.44 85.24L271.49 86.29L271.55 87.83L271.61 82.25L271.66 84.94L271.72 81.43L271.78 82.39L271.83 81.6L271.89 86.12L271.95 90.38L272.01 87.17L272.06 85.42L272.12 85.62L272.18 86.76L272.23 88.33L272.29 82.09L272.35 87.08L272.4 91.16L272.46 92.88L272.52 87.96L272.58 87.34L272.63 86.85L272.69 89.83L272.75 87.78L272.8 89.47L272.86 88.19L272.92 84.48L272.97 91.38L273.03 88.6L273.09 86.36L273.15 89.94L273.2 83.43L273.26 89.9L273.32 87.34L273.37 89.75L273.43 89.84L273.49 89.3L273.55 86.16L273.6 84.83L273.66 82.09L273.72 86.4L273.77 85.52L273.83 90.27L273.89 90.34L273.94 83.17L274 84.55L274.06 88.92L274.12 89.99L274.17 87.67L274.23 86.89L274.29 87.13L274.34 90.4L274.4 85.31L274.46 89.66L274.51 89.93L274.57 91.67L274.63 82.19L274.69 85.2L274.74 89.51L274.8 89.66L274.86 92.16L274.91 87.08L274.97 80.73L275.03 90.01L275.08 89.51L275.14 87.4L275.2 85.95L275.26 87.93L275.31 88.16L275.37 87.33L275.43 91.12L275.48 84.18L275.54 88.98L275.6 92.2L275.65 88.69L275.71 91.49L275.77 89.9L275.83 89.27L275.88 93.16L275.94 91.81L276 82.48L276.05 90.25L276.11 87.56L276.17 85.39L276.23 93.01L276.28 91.52L276.34 90.36L276.4 89L276.45 90.04L276.51 86.8L276.57 90.92L276.62 91.61L276.68 85.62L276.74 87.06L276.8 89.52L276.85 87.55L276.91 87.69L276.97 88.41L277.02 91.07L277.08 88.24L277.14 89.99L277.19 84.54L277.25 84.03L277.31 85.55L277.37 91.68L277.42 89.36L277.48 83.62L277.54 93.61L277.59 89.2L277.65 90.41L277.71 91.89L277.76 88.98L277.82 91.48L277.88 88.4L277.94 89.52L277.99 88.62L278.05 92.23L278.11 84.47L278.16 84.84L278.22 86.63L278.28 86.91L278.33 86.51L278.39 86.79L278.45 89.13L278.51 90.69L278.56 88.53L278.62 91.25L278.68 89.13L278.73 85.78L278.79 96.41L278.85 91.46L278.91 92.82L278.96 89.98L279.02 85.66L279.08 91.35L279.13 90.99L279.19 95.34L279.25 94.85L279.3 93.93L279.36 97.55L279.42 88.56L279.48 89.67L279.53 91.02L279.59 94.16L279.65 91.52L279.7 92.6L279.76 94.45L279.82 91.91L279.87 89.93L279.93 86.3L279.99 92.13L280.05 87.57L280.1 94.41L280.16 92.96L280.22 90.66L280.27 91.1L280.33 89.76L280.39 92.65L280.44 85.09L280.5 90.84L280.56 91.5L280.62 92.15L280.67 87.38L280.73 92.47L280.79 90.6L280.84 95L280.9 94.31L280.96 92.72L281.02 92.48L281.07 90.57L281.13 95.87L281.19 95.04L281.24 90.01L281.3 91L281.36 91.72L281.41 92.34L281.47 96.25L281.53 93.76L281.59 92.29L281.64 94.22L281.7 85.93L281.76 89.48L281.81 90.09L281.87 98.25L281.93 96.55L281.98 96.28L282.04 93.76L282.1 92.38L282.16 88.64L282.21 98.07L282.27 93.69L282.33 92.55L282.38 88.65L282.44 89.61L282.5 94.58L282.55 93.21L282.61 91.52L282.67 91.01L282.73 92.85L282.78 93.4L282.84 95.82L282.9 93.34L282.95 90.38L283.01 92.79L283.07 95.76L283.12 93.04L283.18 93.71L283.24 95.09L283.3 91.14L283.35 97.39L283.41 98.84L283.47 89.71L283.52 97.18L283.58 92.45L283.64 94.02L283.7 97.21L283.75 94.98L283.81 87.73L283.87 90.45L283.92 94.35L283.98 89.68L284.04 94.39L284.09 96.86L284.15 88.82L284.21 96.18L284.27 91.78L284.32 99.9L284.38 94.39L284.44 95.72L284.49 99.41L284.55 88.93L284.61 98.24L284.66 94.09L284.72 98.85L284.78 97.78L284.84 98.93L284.89 91.81L284.95 94.15L285.01 93.18L285.06 94.44L285.12 96.11L285.18 92.65L285.23 99.32L285.29 93.46L285.35 92.63L285.41 98.86L285.46 92.91L285.52 96.32L285.58 96.9L285.63 95.55L285.69 91.78L285.75 93.12L285.8 100.43L285.86 98.62L285.92 99.19L285.98 93.57L286.03 96.96L286.09 93.43L286.15 96.39L286.2 93.67L286.26 93.93L286.32 94.56L286.38 93.51L286.43 99.96L286.49 91.13L286.55 94.44L286.6 99.41L286.66 98.64L286.72 93.85L286.77 99.56L286.83 93.41L286.89 97.75L286.95 98.02L287 101.27L287.06 95.55L287.12 94.62L287.17 96.54L287.23 98.61L287.29 91.59L287.34 101.96L287.4 98.6L287.46 94.73L287.52 98.23L287.57 92.88L287.63 99.4L287.69 99.14L287.74 93.02L287.8 94.12L287.86 95.75L287.91 96.4L287.97 95.98L288.03 94.47L288.09 94.02L288.14 94.59L288.2 99.57L288.26 95.85L288.31 96.67L288.37 99.6L288.43 99.22L288.48 101.38L288.54 97.64L288.6 94.95L288.66 95.33L288.71 95.92L288.77 98.48L288.83 97.27L288.88 96.4L288.94 95.33L289 98.66L289.06 100.8L289.11 97.8L289.17 95.62L289.23 99.09L289.28 93.43L289.34 96.25L289.4 98.56L289.45 95.2L289.51 98.8L289.57 99.91L289.63 95.04L289.68 99.14L289.74 98.79L289.8 96.88L289.85 91.57L289.91 98.32L289.97 97.59L290.02 99.86L290.08 100.59L290.14 95.82L290.2 91.67L290.25 97.36L290.31 101.18L290.37 103.29L290.42 96.71L290.48 98.76L290.54 99.34L290.59 104.48L290.65 96.11L290.71 104.14L290.77 98.84L290.82 101.6L290.88 101.03L290.94 99.05L290.99 99.36L291.05 100.74L291.11 99.65L291.17 101.03L291.22 104.8L291.28 92.41L291.34 99.44L291.39 101.24L291.45 97.99L291.51 98.8L291.56 101.59L291.62 95.21L291.68 98.31L291.74 103.17L291.79 100.89L291.85 97.45L291.91 99.28L291.96 101.77L292.02 100.42L292.08 101.51L292.13 102.35L292.19 98.88L292.25 102.52L292.31 100.97L292.36 99.8L292.42 97.47L292.48 100.53L292.53 97.36L292.59 102.94L292.65 99.99L292.7 96.61L292.76 99.86L292.82 104.15L292.88 100.35L292.93 102.45L292.99 102.53L293.05 101.14L293.1 100.62L293.16 96.34L293.22 100.75L293.27 101.85L293.33 100.09L293.39 101.87L293.45 99.49L293.5 100.67L293.56 99.48L293.62 96.84L293.67 99.39L293.73 94.14L293.79 99.23L293.85 100.74L293.9 104.46L293.96 100.2L294.02 99.92L294.07 99.53L294.13 99.61L294.19 100.7L294.24 101.08L294.3 97.58L294.36 101.95L294.42 100.4L294.47 103.19L294.53 99.19L294.59 105.08L294.64 106L294.7 101.16L294.76 103.28L294.81 104.57L294.87 107.28L294.93 98.31L294.99 101.82L295.04 97.8L295.1 101.71L295.16 102.04L295.21 98.89L295.27 99.28L295.33 100.75L295.38 102.12L295.44 106.25L295.5 101.97L295.56 100.25L295.61 102.37L295.67 99.03L295.73 102.51L295.78 102.88L295.84 101.53L295.9 104.55L295.95 105.92L296.01 101.56L296.07 101.82L296.13 101.13L296.18 102.68L296.24 105.7L296.3 100.28L296.35 105.92L296.41 107.22L296.47 103.26L296.53 98.56L296.58 100.48L296.64 101.39L296.7 104.33L296.75 102.19L296.81 101.97L296.87 104.35L296.92 105.63L296.98 99.2L297.04 105.55L297.1 102.59L297.15 99.98L297.21 100.44L297.27 100.68L297.32 101.65L297.38 104.29L297.44 103.99L297.49 103.61L297.55 104.72L297.61 102.1L297.67 99.75L297.72 99.28L297.78 102.5L297.84 104.68L297.89 104.65L297.95 101.47L298.01 106.67L298.06 104.78L298.12 104.52L298.18 102.65L298.24 103.4L298.29 104.63L298.35 105.27L298.41 102.18L298.46 102.74L298.52 104.67L298.58 102.76L298.64 107.24L298.69 99.94L298.75 105.51L298.81 101.36L298.86 103.04L298.92 100.8L298.98 106.08L299.03 106.65L299.09 104.09L299.15 101.44L299.21 101.77L299.26 105.56L299.32 106.79L299.38 102.44L299.43 97.43L299.49 106.14L299.55 105.8L299.6 104.52L299.66 106.28L299.72 103.36L299.78 106.57L299.83 101.99L299.89 102.14L299.95 104.9L300 104.56L300.06 102.97L300.12 103.48L300.17 102.37L300.23 105.86L300.29 102.18L300.35 106.53L300.4 106.28L300.46 101.59L300.52 98.07L300.57 103.06L300.63 104.36L300.69 104.16L300.74 101.92L300.8 105.84L300.86 105.88L300.92 106.2L300.97 100.84L301.03 105.73L301.09 104.43L301.14 103.97L301.2 103.01L301.26 99.19L301.32 103.52L301.37 105.26L301.43 107.11L301.49 105.34L301.54 106.37L301.6 104.39L301.66 105.91L301.71 105.19L301.77 107.98L301.83 102.06L301.89 104.95L301.94 106.5L302 103.19L302.06 111.81L302.11 104.55L302.17 107.4L302.23 108.8L302.28 107.73L302.34 104.59L302.4 108.86L302.46 106.42L302.51 110.24L302.57 102.13L302.63 108.54L302.68 107.02L302.74 109.64L302.8 103.39L302.85 104.26L302.91 106.39L302.97 104.53L303.03 106.9L303.08 104.44L303.14 107.65L303.2 107.16L303.25 105.14L303.31 101.3L303.37 104.55L303.42 108.07L303.48 106.87L303.54 104.99L303.6 110.28L303.65 105.36L303.71 107.88L303.77 105.94L303.82 105.17L303.88 108.26L303.94 106.7L304 105.01L304.05 109.26L304.11 107.2L304.17 105.58L304.22 110.48L304.28 106.72L304.34 106.34L304.39 107.34L304.45 104.5L304.51 107.24L304.57 105.39L304.62 103.28L304.68 105.25L304.74 106.93L304.79 105.41L304.85 104.99L304.91 108L304.96 103.53L305.02 105.42L305.08 109.37L305.14 105.32L305.19 105.63L305.25 106.29L305.31 105.2L305.36 102.92L305.42 111.19L305.48 107.44L305.53 107.28L305.59 106.15L305.65 112.19L305.71 105.9L305.76 110.04L305.82 105.43L305.88 107.59L305.93 105.47L305.99 101.81L306.05 106.96L306.11 108.13L306.16 105.98L306.22 106.03L306.28 109.71L306.33 110.43L306.39 108.55L306.45 106.6L306.5 106.72L306.56 106.47L306.62 107.51L306.68 110.25L306.73 105.38L306.79 101.67L306.85 109.65L306.9 109.15L306.96 103.65L307.02 105.49L307.07 109.43L307.13 108.51L307.19 112.25L307.25 109.51L307.3 106.9L307.36 111.7L307.42 109.25L307.47 108.7L307.53 104.75L307.59 106.85L307.64 111.5L307.7 110.13L307.76 113.07L307.82 110.46L307.87 105.82L307.93 108.57L307.99 107.46L308.04 108.95L308.1 110.87L308.16 109.73L308.21 108.9L308.27 109.52L308.33 113.08L308.39 107.36L308.44 106.38L308.5 106.8L308.56 110.7L308.61 110.74L308.67 108.31L308.73 109.76L308.79 107.11L308.84 110.38L308.9 108.44L308.96 110.21L309.01 112.77L309.07 109.64L309.13 110.18L309.18 110.07L309.24 106.41L309.3 103.71L309.36 107.31L309.41 112.43L309.47 112.86L309.53 113.09L309.58 106.95L309.64 109.62L309.7 108.24L309.75 106.65L309.81 109.03L309.87 109.21L309.93 106L309.98 113.88L310.04 109.12L310.1 109.15L310.15 107.81L310.21 110.58L310.27 110.07L310.32 109.23L310.38 106.53L310.44 115.9L310.5 109.45L310.55 111.29L310.61 113.35L310.67 111.13L310.72 113.2L310.78 113.52L310.84 111.9L310.89 106.44L310.95 112.36L311.01 108.99L311.07 107.87L311.12 107.67L311.18 109.83L311.24 108.21L311.29 109.29L311.35 110.57L311.41 112.95L311.47 112.53L311.52 114.62L311.58 114.89L311.64 116.76L311.69 111.68L311.75 105.86L311.81 108.85L311.86 110.82L311.92 111.04L311.98 111.78L312.04 111.28L312.09 108.67L312.15 108.69L312.21 115.35L312.26 109.74L312.32 108.29L312.38 111.76L312.43 111.26L312.49 109.11L312.55 114.95L312.61 108.93L312.66 110.53L312.72 108.4L312.78 112.38L312.83 114.88L312.89 114.05L312.95 110.15L313 113.18L313.06 110.94L313.12 112.63L313.18 113.28L313.23 112.71L313.29 109.94L313.35 105.66L313.4 114.82L313.46 107.62L313.52 117.09L313.58 112.66L313.63 114.12L313.69 110.95L313.75 110.29L313.8 114.21L313.86 117.76L313.92 108.59L313.97 115.56L314.03 109.69L314.09 114.12L314.15 109.64L314.2 109.44L314.26 111.2L314.32 109.13L314.37 116.07L314.43 112.62L314.49 111.2L314.54 115.28L314.6 109.82L314.66 110.84L314.72 110.49L314.77 114.52L314.83 114.08L314.89 112.12L314.94 115.48L315 110.88L315.06 110.61L315.11 108.88L315.17 108.53L315.23 108.95L315.29 112.48L315.34 117.8L315.4 109.53L315.46 115.62L315.51 107.34L315.57 111.21L315.63 117.95L315.68 111.6L315.74 108.4L315.8 110.33L315.86 110.35L315.91 113L315.97 109.45L316.03 112.82L316.08 108.68L316.14 109.28L316.2 112.04L316.26 113.88L316.31 115.85L316.37 107.1L316.43 116.73L316.48 107.41L316.54 112.72L316.6 110.67L316.65 112.78L316.71 112.18L316.77 106.57L316.83 114.58L316.88 112.24L316.94 116.62L317 108.86L317.05 117.71L317.11 111.29L317.17 115.93L317.22 114.44L317.28 118.98L317.34 111.55L317.4 113.06L317.45 110.32L317.51 114.21L317.57 112.97L317.62 111.83L317.68 112.07L317.74 113.84L317.79 112.37L317.85 117.16L317.91 109.12L317.97 116.16L318.02 115.44L318.08 112.54L318.14 113.59L318.19 111.03L318.25 109.13L318.31 113.59L318.36 115L318.42 113.86L318.48 112.47L318.54 115.86L318.59 115.87L318.65 114.81L318.71 114.69L318.76 112.87L318.82 110.36L318.88 118.54L318.94 116.19L318.99 112.72L319.05 111.45L319.11 113.75L319.16 112.59L319.22 117.93L319.28 108.47L319.33 112.89L319.39 115.88L319.45 108.95L319.51 113.66L319.56 113.96L319.62 111.55L319.68 114.03L319.73 113.73L319.79 117.43L319.85 109L319.9 118.48L319.96 114L320.02 116.27L320.08 116.04L320.13 117.53L320.19 113.97L320.25 119.58L320.3 111.37L320.36 117.16L320.42 117.82L320.47 111.46L320.53 108.64L320.59 117.58L320.65 113.94L320.7 113.15L320.76 113.92L320.82 112L320.87 118.6L320.93 117.18L320.99 115L321.05 114.97L321.1 115.04L321.16 116.01L321.22 115.6L321.27 108.73L321.33 114.04L321.39 115.38L321.44 116.05L321.5 113.63L321.56 113.14L321.62 117.2L321.67 116.16L321.73 114.6L321.79 112.7L321.84 114.79L321.9 113.38L321.96 117.33L322.01 113.41L322.07 111.96L322.13 112.86L322.19 113.78L322.24 118.45L322.3 115.43L322.36 115.51L322.41 112.17L322.47 118.12L322.53 116.56L322.58 116.45L322.64 114.77L322.7 116.17L322.76 118.07L322.81 114.27L322.87 117.08L322.93 116.9L322.98 119.13L323.04 112.61L323.1 113.95L323.15 116.1L323.21 116.01L323.27 112.89L323.33 113.63L323.38 119.67L323.44 114.34L323.5 117.51L323.55 116.33L323.61 119.44L323.67 115.69L323.73 115.01L323.78 120.18L323.84 112.56L323.9 113.33L323.95 114.68L324.01 114.89L324.07 115.05L324.12 117.56L324.18 115.17L324.24 119.01L324.3 116.44L324.35 116.94L324.41 115.15L324.47 117.39L324.52 114.75L324.58 111.94L324.64 115.02L324.69 116.46L324.75 113.75L324.81 116.45L324.87 114.96L324.92 118.54L324.98 113.81L325.04 113.08L325.09 117.65L325.15 115.09L325.21 116.11L325.26 117.37L325.32 111.27L325.38 110.64L325.44 116.7L325.49 115.49L325.55 117.57L325.61 111.35L325.66 114.69L325.72 116.61L325.78 115.79L325.83 114.85L325.89 116.74L325.95 117.55L326.01 115.89L326.06 118.63L326.12 116.39L326.18 116.69L326.23 115.38L326.29 115.04L326.35 116.22L326.41 113.55L326.46 110.21L326.52 118.7L326.58 114.29L326.63 116.64L326.69 112.42L326.75 115.93L326.8 114.16L326.86 116.51L326.92 113.76L326.98 117.49L327.03 117.35L327.09 119.99L327.15 115.59L327.2 115.64L327.26 111.95L327.32 115.73L327.37 120.2L327.43 114.12L327.49 116.06L327.55 114.99L327.6 114.31L327.66 115.61L327.72 117.4L327.77 119.88L327.83 118.4L327.89 119.7L327.94 115.88L328 114.69L328.06 116.22L328.12 119.36L328.17 117.49L328.23 116.69L328.29 115.53L328.34 115.33L328.4 116.65L328.46 117.17L328.52 114.03L328.57 113.8L328.63 119.6L328.69 115.23L328.74 115.37L328.8 119.53L328.86 114.37L328.91 117.97L328.97 114.86L329.03 119.2L329.09 114.65L329.14 111.99L329.2 116.35L329.26 122.78L329.31 116.82L329.37 114.14L329.43 114.36L329.48 116.7L329.54 114.88L329.6 114.75L329.66 117.42L329.71 119.22L329.77 115.8L329.83 115.49L329.88 121.23L329.94 118.57L330 118.87L330.05 111.73L330.11 123.51L330.17 115.89L330.23 117.24L330.28 115.81L330.34 121L330.4 118.4L330.45 114.43L330.51 116.72L330.57 114.91L330.62 114.44L330.68 120.17L330.74 114.47L330.8 115.05L330.85 117.41L330.91 119.22L330.97 115.64L331.02 117.61L331.08 118.67L331.14 117.82L331.2 115.85L331.25 118.86L331.31 117.26L331.37 118.74L331.42 121.58L331.48 115.74L331.54 117.8L331.59 119.23L331.65 123.22L331.71 116.92L331.77 117.3L331.82 115.71L331.88 116.9L331.94 117.33L331.99 124.03L332.05 114.69L332.11 119.79L332.16 116.2L332.22 115.25L332.28 119.58L332.34 113.37L332.39 119.16L332.45 118.54L332.51 112.85L332.56 117.55L332.62 116.87L332.68 117.55L332.73 117.72L332.79 118.06L332.85 116.85L332.91 121.13L332.96 115.58L333.02 118.69L333.08 114.69L333.13 118.94L333.19 117.52L333.25 118.03L333.3 114.9L333.36 117.42L333.42 116.76L333.48 117.49L333.53 120.05L333.59 119.51L333.65 117.76L333.7 119.49L333.76 120.77L333.82 123.48L333.88 112.47L333.93 118.69L333.99 118.88L334.05 120.06L334.1 114.22L334.16 115.13L334.22 118.89L334.27 116.86L334.33 115.4L334.39 120.48L334.45 116.64L334.5 122.53L334.56 117.17L334.62 116.55L334.67 117.95L334.73 119.78L334.79 119.59L334.84 117.2L334.9 121.06L334.96 119.56L335.02 118.18L335.07 117.34L335.13 118.18L335.19 117.17L335.24 121.08L335.3 115.87L335.36 121.75L335.41 121.82L335.47 118.28L335.53 118.25L335.59 120.65L335.64 118.01L335.7 118.31L335.76 122.58L335.81 119.22L335.87 114.43L335.93 114.89L335.98 118.01L336.04 119.43L336.1 120.54L336.16 116.3L336.21 121.17L336.27 118.45L336.33 118.69L336.38 120.41L336.44 120.06L336.5 119.55L336.56 119.9L336.61 117.62L336.67 120.67L336.73 125.23L336.78 121.08L336.84 121.8L336.9 120.42L336.95 124.3L337.01 119.7L337.07 116.64L337.13 120.82L337.18 122.17L337.24 120.81L337.3 122.52L337.35 115.88L337.41 120.84L337.47 119.53L337.52 117.55L337.58 119.03L337.64 117.98L337.7 121.8L337.75 124.25L337.81 123.95L337.87 120.88L337.92 118.88L337.98 119.66L338.04 122.29L338.09 122.11L338.15 120.62L338.21 121.15L338.27 120.03L338.32 123.94L338.38 121.14L338.44 119.21L338.49 120.27L338.55 118.18L338.61 119.57L338.67 115.36L338.72 119.33L338.78 120.58L338.84 123.24L338.89 119.62L338.95 118.2L339.01 121.95L339.06 116.25L339.12 118.27L339.18 119.97L339.24 121.86L339.29 116.96L339.35 121.97L339.41 119.37L339.46 116.42L339.52 117.27L339.58 119.79L339.63 121.71L339.69 116.47L339.75 119.04L339.81 120.11L339.86 117.48L339.92 120.11L339.98 117.61L340.03 119.64L340.09 117.52L340.15 120.36L340.2 119.13L340.26 118.08L340.32 121.68L340.38 123.28L340.43 117.71L340.49 121.1L340.55 123.72L340.6 115.73L340.66 122.57L340.72 120.54L340.77 117.02L340.83 126.18L340.89 122.13L340.95 118.14L341 118.34L341.06 119.5L341.12 117.92L341.17 119.22L341.23 121.63L341.29 120.65L341.35 124.28L341.4 123.37L341.46 116.41L341.52 119.91L341.57 121.84L341.63 118.27L341.69 116.2L341.74 122.03L341.8 120.45L341.86 120.05L341.92 115.43L341.97 123.09L342.03 120.68L342.09 120.5L342.14 120.26L342.2 115.39L342.26 119.9L342.31 121.46L342.37 124.22L342.43 122.99L342.49 119.71L342.54 120.36L342.6 117.84L342.66 123.35L342.71 122.15L342.77 121.74L342.83 121.08L342.88 122.29L342.94 119.86L343 124.59L343.06 120.57L343.11 119.61L343.17 121.31L343.23 119.64L343.28 120.41L343.34 119.16L343.4 119.74L343.45 118.95L343.51 122.92L343.57 121.38L343.63 119.76L343.68 118.64L343.74 119.68L343.8 122.15L343.85 117.37L343.91 117.6L343.97 119.54L344.03 121.42L344.08 118.03L344.14 120.88L344.2 120.51L344.25 117.43L344.31 119.59L344.37 118.88L344.42 115.05L344.48 123.58L344.54 121.38L344.6 118.22L344.65 122.23L344.71 123.05L344.77 121.38L344.82 122.05L344.88 121.82L344.94 119.58L344.99 121.52L345.05 123.48L345.11 121.83L345.17 121.92L345.22 119.07L345.28 118.45L345.34 123.62L345.39 121.91L345.45 121.6L345.51 124.93L345.56 119.31L345.62 123.31L345.68 122.27L345.74 120.61L345.79 121.39L345.85 120.54L345.91 121.1L345.96 121.68L346.02 118.35L346.08 123.32L346.14 119.71L346.19 120.19L346.25 120.27L346.31 122.56L346.36 119.47L346.42 124.16L346.48 120.28L346.53 122L346.59 115.49L346.65 122.52L346.71 118.45L346.76 122.81L346.82 120.44L346.88 124.89L346.93 121.36L346.99 121.59L347.05 123.3L347.1 123.38L347.16 118.23L347.22 122.03L347.28 120.13L347.33 126.82L347.39 121.01L347.45 118.93L347.5 121.73L347.56 118.85L347.62 121.38L347.67 120.83L347.73 117.74L347.79 121.25L347.85 121.14L347.9 123.34L347.96 115.75L348.02 125.08L348.07 121.6L348.13 119.17L348.19 122.2L348.24 126.19L348.3 120.87L348.36 120.03L348.42 124.43L348.47 121.72L348.53 123.75L348.59 125.25L348.64 121.41L348.7 121.13L348.76 116.38L348.82 123.09L348.87 120.72L348.93 121.73L348.99 122.67L349.04 122.33L349.1 119.99L349.16 125.51L349.21 117.69L349.27 118.95L349.33 124.22L349.39 123.26L349.44 123.39L349.5 122.22L349.56 119.71L349.61 123.35L349.67 123.33L349.73 119.72L349.78 123.03L349.84 119.72L349.9 124.75L349.96 125.74L350.01 124.08L350.07 126.48L350.13 123.94L350.18 122.58L350.24 120.16L350.3 120.03L350.35 124.16L350.41 122.57L350.47 126.73L350.53 121.32L350.58 120.75L350.64 121.75L350.7 123.56L350.75 123.11L350.81 124.1L350.87 118.43L350.92 123.02L350.98 122.95L351.04 123.84L351.1 118.74L351.15 119.79L351.21 125.1L351.27 122.57L351.32 124.08L351.38 122.76L351.44 119.78L351.5 122.69L351.55 123.35L351.61 121.17L351.67 118.84L351.72 122.38L351.78 121.44L351.84 122.55L351.89 123.53L351.95 121.47L352.01 121.41L352.07 122.1L352.12 124.87L352.18 124.56L352.24 123.25L352.29 127.41L352.35 120.39L352.41 122.54L352.46 125.48L352.52 118.64L352.58 123.6L352.64 122.49L352.69 118.88L352.75 124.15L352.81 123.87L352.86 123.2L352.92 122.37L352.98 123.91L353.03 116.62L353.09 122.13L353.15 120.58L353.21 119.82L353.26 121.76L353.32 121.69L353.38 121.41L353.43 124.17L353.49 117.2L353.55 122.02L353.61 125.06L353.66 123.9L353.72 121.65L353.78 119.74L353.83 124.24L353.89 120.71L353.95 127.73L354 120.45L354.06 122.58L354.12 124.74L354.18 122.33L354.23 121.86L354.29 120.61L354.35 122.05L354.4 125.18L354.46 121.33L354.52 120.26L354.57 126.78L354.63 121.23L354.69 121.04L354.75 122.49L354.8 125.19L354.86 121.1L354.92 123.19L354.97 128.2L355.03 120.98L355.09 123.99L355.14 128.75L355.2 119.46L355.26 117.06L355.32 124.06L355.37 126.1L355.43 122.63L355.49 122.77L355.54 124.28L355.6 120.09L355.66 122.85L355.71 123.03L355.77 121.71L355.83 128.86L355.89 121.49L355.94 125.23L356 124.78" fill="none" stroke="#fd3a3a" stroke-width="0.7" stroke-linejoin="round"/>
</g>
<rect x="213.5" y="14.6" width="142.5" height="122.9" fill="none" stroke="#222" stroke-width="1"/>
<line x1="213.5" y1="137.5" x2="213.5" y2="138.7" stroke="#222" stroke-width="0.8"/>
<line x1="231.31" y1="137.5" x2="231.31" y2="139.5" stroke="#222" stroke-width="0.8"/>
<text class="tk" x="231.31" y="146.7">20</text>
<line x1="249.12" y1="137.5" x2="249.12" y2="138.7" stroke="#222" stroke-width="0.8"/>
<line x1="266.94" y1="137.5" x2="266.94" y2="139.5" stroke="#222" stroke-width="0.8"/>
<text class="tk" x="266.94" y="146.7">40</text>
<line x1="284.75" y1="137.5" x2="284.75" y2="138.7" stroke="#222" stroke-width="0.8"/>
<line x1="302.56" y1="137.5" x2="302.56" y2="139.5" stroke="#222" stroke-width="0.8"/>
<text class="tk" x="302.56" y="146.7">60</text>
<line x1="320.38" y1="137.5" x2="320.38" y2="138.7" stroke="#222" stroke-width="0.8"/>
<line x1="338.19" y1="137.5" x2="338.19" y2="139.5" stroke="#222" stroke-width="0.8"/>
<text class="tk" x="338.19" y="146.7">80</text>
<line x1="356" y1="137.5" x2="356" y2="138.7" stroke="#222" stroke-width="0.8"/>
<text class="ax" x="284.75" y="161">2θ (degree)</text>
<text class="ax" transform="translate(206.4 76.05) rotate(-90)">Intensity (a.u.)</text>
<text class="lb" x="319.6" y="33.2">Ni-CDs</text>
</g>
<g>
<g clip-path="url(#cd)">
<path d="M213.5 266.04L213.57 263.5L213.64 263.85L213.71 263.82L213.79 260.82L213.86 264.78L213.93 259.72L214 263.95L214.07 258.28L214.14 259.72L214.21 261.92L214.28 262.73L214.36 258.16L214.43 261.82L214.5 258.59L214.57 261.05L214.64 261.58L214.71 259.83L214.78 262.45L214.85 260.15L214.93 257.46L215 258.51L215.07 259.09L215.14 257.04L215.21 257.45L215.28 259.58L215.35 259.45L215.42 260.41L215.5 256.48L215.57 257.81L215.64 258.58L215.71 260.58L215.78 257.23L215.85 257.45L215.92 256.1L215.99 258.6L216.07 252.24L216.14 255.69L216.21 256.93L216.28 258.72L216.35 259.98L216.42 255.02L216.49 254.62L216.57 253.76L216.64 255.2L216.71 252.45L216.78 257.91L216.85 252.82L216.92 255.31L216.99 257.85L217.06 255.85L217.14 253.31L217.21 250.9L217.28 253.53L217.35 255.56L217.42 254.06L217.49 252.21L217.56 252.45L217.63 253.94L217.71 251.98L217.78 250.84L217.85 252.76L217.92 254.52L217.99 256.17L218.06 251.82L218.13 252.94L218.2 251.03L218.28 255.31L218.35 251.19L218.42 250.27L218.49 249.98L218.56 251.92L218.63 249.9L218.7 254.44L218.78 250.77L218.85 250.95L218.92 249.22L218.99 249.85L219.06 247.6L219.13 249.93L219.2 249.98L219.27 251.15L219.35 250.16L219.42 248.54L219.49 251.11L219.56 246.96L219.63 246.98L219.7 245.71L219.77 249.02L219.84 246.47L219.92 249.51L219.99 249.09L220.06 245.33L220.13 247.39L220.2 246.21L220.27 247.17L220.34 245.55L220.41 247.81L220.49 250.46L220.56 247.45L220.63 245.23L220.7 247.17L220.77 248.68L220.84 245.99L220.91 243.89L220.98 247.42L221.06 246.38L221.13 246.39L221.2 243.63L221.27 248.77L221.34 247.47L221.41 244.35L221.48 243.4L221.56 245.55L221.63 248.23L221.7 246.07L221.77 243.41L221.84 242.14L221.91 238.94L221.98 246.35L222.05 244.01L222.13 244.83L222.2 239.88L222.27 245.22L222.34 241.04L222.41 242.22L222.48 245.32L222.55 242.71L222.62 241.25L222.7 242.1L222.77 240.71L222.84 240.36L222.91 240.49L222.98 239.88L223.05 235.64L223.12 239.23L223.19 243.66L223.27 241.58L223.34 239.04L223.41 242.48L223.48 240.54L223.55 239.77L223.62 240.97L223.69 237.18L223.77 240.95L223.84 240.64L223.91 238.28L223.98 237.97L224.05 239.46L224.12 236.07L224.19 238L224.26 242.58L224.34 236.18L224.41 237.55L224.48 238.66L224.55 240.61L224.62 234.04L224.69 235.64L224.76 236.14L224.83 233.73L224.91 237.65L224.98 238.89L225.05 235.89L225.12 237.29L225.19 238.49L225.26 236.19L225.33 232.29L225.4 229.66L225.48 236.12L225.55 238.02L225.62 233.43L225.69 236.68L225.76 229.06L225.83 232.74L225.9 235.14L225.97 234.41L226.05 233.13L226.12 230.33L226.19 234.94L226.26 232.91L226.33 229.23L226.4 235.58L226.47 226.97L226.55 231.29L226.62 230.38L226.69 229.5L226.76 228.97L226.83 227.73L226.9 226.03L226.97 230.67L227.04 228.52L227.12 229.83L227.19 225.89L227.26 226.21L227.33 235.36L227.4 226.58L227.47 232.3L227.54 229L227.61 231.46L227.69 230.02L227.76 230.05L227.83 226.8L227.9 229.49L227.97 222.89L228.04 220.06L228.11 226.32L228.18 225.27L228.26 228.19L228.33 226.34L228.4 222.39L228.47 227.88L228.54 227.4L228.61 222.24L228.68 222.57L228.76 223.93L228.83 226.41L228.9 224.44L228.97 219.46L229.04 228.46L229.11 227.31L229.18 219.24L229.25 224.4L229.33 224.98L229.4 221.51L229.47 220.32L229.54 217.82L229.61 218.9L229.68 218.85L229.75 222.05L229.82 217.08L229.9 216.34L229.97 221.72L230.04 218.88L230.11 217.62L230.18 217.89L230.25 221.3L230.32 208.34L230.39 215.74L230.47 220.5L230.54 215.63L230.61 215.47L230.68 218.44L230.75 217.07L230.82 213.61L230.89 218.88L230.96 221.3L231.04 215.32L231.11 212.74L231.18 216.46L231.25 210.57L231.32 208.31L231.39 210.43L231.46 211.65L231.54 217.46L231.61 211.2L231.68 211.96L231.75 216.67L231.82 211.17L231.89 212.1L231.96 212.84L232.03 205.61L232.11 214.86L232.18 216.8L232.25 212.3L232.32 215.09L232.39 213.73L232.46 211.15L232.53 209.98L232.6 210.84L232.68 209.13L232.75 209.24L232.82 212.87L232.89 205.02L232.96 210.11L233.03 207.59L233.1 207.15L233.17 216.04L233.25 212.65L233.32 202.44L233.39 211.08L233.46 217.09L233.53 209.74L233.6 207.7L233.67 205.92L233.75 205.93L233.82 208.63L233.89 209.11L233.96 213.7L234.03 210.4L234.1 210.22L234.17 202.65L234.24 203.26L234.32 212.75L234.39 208.67L234.46 209.71L234.53 205.83L234.6 212.06L234.67 208.78L234.74 208.51L234.81 212.26L234.89 206.66L234.96 207.48L235.03 212.06L235.1 215.02L235.17 212.46L235.24 210.83L235.31 207.45L235.38 213.23L235.46 206.37L235.53 207.33L235.6 209.44L235.67 210.37L235.74 203.66L235.81 206.47L235.88 204.94L235.95 209.48L236.03 208.78L236.1 215.94L236.17 209.02L236.24 215.84L236.31 210.09L236.38 212.43L236.45 208.92L236.53 203.44L236.6 205.3L236.67 216.35L236.74 217.62L236.81 208.75L236.88 206.57L236.95 210.97L237.02 207.5L237.1 208.39L237.17 214.53L237.24 216.45L237.31 214.52L237.38 216.4L237.45 217.55L237.52 214.37L237.59 210.58L237.67 214.58L237.74 215.07L237.81 215.57L237.88 218.61L237.95 214.89L238.02 217.3L238.09 216.63L238.16 215.74L238.24 214.52L238.31 214.9L238.38 213.67L238.45 218.28L238.52 215.65L238.59 218.69L238.66 214.82L238.74 222.72L238.81 216.3L238.88 215.84L238.95 212.55L239.02 219.63L239.09 225.2L239.16 217.86L239.23 222.32L239.31 217.39L239.38 220.06L239.45 222.07L239.52 218.14L239.59 220.26L239.66 217L239.73 217.69L239.8 222.46L239.88 220.56L239.95 221.41L240.02 217.89L240.09 222.07L240.16 219.69L240.23 220.93L240.3 223.87L240.37 222.09L240.45 221.41L240.52 222.87L240.59 216.86L240.66 221.1L240.73 213.87L240.8 222.56L240.87 222.27L240.94 222.7L241.02 218.69L241.09 223.75L241.16 221.06L241.23 220.29L241.3 227.55L241.37 226.54L241.44 224.88L241.52 225.13L241.59 228.1L241.66 225.42L241.73 230.51L241.8 228.44L241.87 225.37L241.94 228.8L242.01 225.38L242.09 226.3L242.16 228.23L242.23 225.28L242.3 221.89L242.37 222.25L242.44 226.81L242.51 225.18L242.58 222.19L242.66 231.07L242.73 224.45L242.8 230.57L242.87 223.05L242.94 229.26L243.01 226.48L243.08 225.64L243.15 229.64L243.23 226.44L243.3 226.76L243.37 232.66L243.44 228.88L243.51 232.25L243.58 229.2L243.65 227.36L243.73 227.92L243.8 232.69L243.87 228.72L243.94 228.91L244.01 231.28L244.08 232.07L244.15 227.68L244.22 234.74L244.3 227.78L244.37 232.75L244.44 233.32L244.51 235.02L244.58 232.8L244.65 228.21L244.72 233.01L244.79 228.48L244.87 230.31L244.94 230.78L245.01 235.89L245.08 233.05L245.15 230.13L245.22 236.64L245.29 231.09L245.36 233.28L245.44 234.98L245.51 234.52L245.58 231.37L245.65 231.18L245.72 236.63L245.79 235.34L245.86 228.37L245.93 241.09L246.01 237.33L246.08 230.92L246.15 235.35L246.22 240.39L246.29 232.73L246.36 238.22L246.43 236.27L246.51 233.9L246.58 237.79L246.65 235.15L246.72 232.43L246.79 231.53L246.86 237L246.93 237.71L247 237.51L247.08 233.64L247.15 244.11L247.22 241.52L247.29 238.32L247.36 233.21L247.43 237.67L247.5 236.87L247.57 238.23L247.65 238.66L247.72 237.67L247.79 238.34L247.86 243.95L247.93 241.27L248 241.74L248.07 242.4L248.14 236.96L248.22 238.32L248.29 235.92L248.36 237.89L248.43 238.1L248.5 242.42L248.57 238.79L248.64 237.05L248.72 239.18L248.79 242.36L248.86 241.02L248.93 243.28L249 242.71L249.07 241.11L249.14 241.08L249.21 242.82L249.29 243.62L249.36 242.79L249.43 240.09L249.5 241.6L249.57 238.46L249.64 244.79L249.71 244.11L249.78 241.15L249.86 244.08L249.93 243.23L250 241.92L250.07 244.22L250.14 243.88L250.21 246.84L250.28 245.88L250.35 240.43L250.43 241.14L250.5 243.41L250.57 243.44L250.64 243.08L250.71 244.85L250.78 248.28L250.85 243.19L250.92 243.46L251 246.23L251.07 247.01L251.14 244.32L251.21 244.14L251.28 243.53L251.35 240.19L251.42 247.17L251.5 246.22L251.57 245.57L251.64 242.56L251.71 248.1L251.78 248.03L251.85 247.84L251.92 245.85L251.99 242.98L252.07 250.9L252.14 243.05L252.21 249.48L252.28 244.9L252.35 247.75L252.42 245.43L252.49 248.12L252.56 248.67L252.64 247.41L252.71 247.94L252.78 253.04L252.85 243.83L252.92 248.77L252.99 250.81L253.06 249.37L253.13 249.69L253.21 248.87L253.28 248.75L253.35 248.51L253.42 248.21L253.49 250.12L253.56 251.9L253.63 253.3L253.71 252.12L253.78 248.74L253.85 248.94L253.92 250.98L253.99 252.41L254.06 251.19L254.13 252.91L254.2 250.42L254.28 253.02L254.35 253.94L254.42 251.43L254.49 251.88L254.56 253.53L254.63 254.91L254.7 253.57L254.77 256.97L254.85 253.59L254.92 253.64L254.99 256.66L255.06 252.85L255.13 255.55L255.2 252.17L255.27 251.44L255.34 255.69L255.42 252.55L255.49 253.83L255.56 256.26L255.63 258.76L255.7 254.84L255.77 255.44L255.84 253.49L255.91 256.01L255.99 254.24L256.06 255.33L256.13 253.81L256.2 256.01L256.27 256.45L256.34 260.21L256.41 257.26L256.49 259.84L256.56 258.86L256.63 255.53L256.7 255.49L256.77 253.05L256.84 259.8L256.91 255.28L256.98 256.54L257.06 258.7L257.13 254.53L257.2 259.01L257.27 257.02L257.34 256.23L257.41 254.84L257.48 259.84L257.55 259.03L257.63 256.12L257.7 259.83L257.77 259.83L257.84 258.42L257.91 261.1L257.98 257L258.05 258.96L258.12 263.24L258.2 259.15L258.27 261.71L258.34 262.17L258.41 259.02L258.48 259.88L258.55 259.54L258.62 262.53L258.7 257.6L258.77 262.45L258.84 260.77L258.91 259.3L258.98 262.36L259.05 260.93L259.12 258.24L259.19 258.16L259.27 262.73L259.34 260.49L259.41 262.58L259.48 261.76L259.55 257.34L259.62 261.02L259.69 262.78L259.76 262.14L259.84 260.68L259.91 265.79L259.98 261.58L260.05 263.27L260.12 265.2L260.19 265.53L260.26 259.67L260.33 262.02L260.41 261.77L260.48 263.38L260.55 263.85L260.62 263.87L260.69 264.84L260.76 264.88L260.83 266.49L260.9 265.87L260.98 266.18L261.05 262.6L261.12 266.68L261.19 264.15L261.26 266.47L261.33 262.15L261.4 261.28L261.48 266.38L261.55 263.27L261.62 262.79L261.69 263.4L261.76 265.3L261.83 265.64L261.9 266.35L261.97 263.09L262.05 263.65L262.12 265.42L262.19 267.38L262.26 263.55L262.33 264.11L262.4 264.32L262.47 266.58L262.54 266.95L262.62 265.24L262.69 265.29L262.76 264.53L262.83 266.81L262.9 268.59L262.97 267.45L263.04 266.62L263.11 264.76L263.19 266.19L263.26 266.9L263.33 267.79L263.4 265.94L263.47 266.17L263.54 265.84L263.61 266.13L263.69 268.93L263.76 266.85L263.83 266.04L263.9 266.02L263.97 266.24L264.04 268.95L264.11 265.7L264.18 269.28L264.26 265.66L264.33 267.56L264.4 270.22L264.47 267.9L264.54 267.15L264.61 267.45L264.68 268.42L264.75 268.85L264.83 267.05L264.9 270.29L264.97 271.27L265.04 270.31L265.11 263.81L265.18 268.76L265.25 266.95L265.32 269.74L265.4 270.35L265.47 265.1L265.54 270.04L265.61 272.42L265.68 271.86L265.75 269.37L265.82 268.7L265.89 271.48L265.97 270.1L266.04 270.78L266.11 269.96L266.18 270.71L266.25 268.89L266.32 271.51L266.39 272.62L266.47 270.7L266.54 269.68L266.61 269.74L266.68 270.08L266.75 272.35L266.82 272.34L266.89 270.34L266.96 270.73L267.04 271.77L267.11 271.91L267.18 269.24L267.25 270.22L267.32 272.27L267.39 270.69L267.46 271.49L267.53 271.21L267.61 272.74L267.68 271.61L267.75 268.83L267.82 271.1L267.89 271.36L267.96 272.49L268.03 272.53L268.1 269.28L268.18 271.78L268.25 271.16L268.32 273.41L268.39 273.62L268.46 271.8L268.53 271.8L268.6 274.77L268.68 276.18L268.75 273.69L268.82 269.5L268.89 270.07L268.96 270.52L269.03 272.56L269.1 270.78L269.17 273.76L269.25 274.55L269.32 275.27L269.39 275.49L269.46 273.29L269.53 274.77L269.6 275.25L269.67 273.58L269.74 272.88L269.82 274.87L269.89 274.12L269.96 272.45L270.03 275.5L270.1 274.33L270.17 273.07L270.24 277.3L270.31 277.32L270.39 271.34L270.46 269.73L270.53 272.39L270.6 274.7L270.67 276.12L270.74 274.81L270.81 275.82L270.88 273.9L270.96 274.07L271.03 273.18L271.1 275.24L271.17 274.19L271.24 273.9L271.31 276.67L271.38 273.66L271.46 273.14L271.53 274.03L271.6 276.63L271.67 273.1L271.74 272.12L271.81 274.66L271.88 273.28L271.95 276.86L272.03 274.81L272.1 274.39L272.17 274L272.24 275.75L272.31 276.27L272.38 276.61L272.45 273.72L272.52 275.18L272.6 276.72L272.67 276.03L272.74 274.2L272.81 275.99L272.88 277.21L272.95 278.63L273.02 273.46L273.09 276.77L273.17 272.74L273.24 274.89L273.31 276.68L273.38 275.75L273.45 275.94L273.52 277.02L273.59 275.51L273.67 277.56L273.74 277.58L273.81 278.3L273.88 278.28L273.95 274.54L274.02 277.1L274.09 277.58L274.16 275.31L274.24 278.22L274.31 275.78L274.38 275.91L274.45 277.11L274.52 274.27L274.59 277.48L274.66 280.51L274.73 278.82L274.81 276.92L274.88 279.12L274.95 277.28L275.02 276.39L275.09 277.25L275.16 280.22L275.23 277.53L275.3 276.87L275.38 275.07L275.45 275.77L275.52 275.69L275.59 279.66L275.66 276.02L275.73 276.32L275.8 278.98L275.87 280.39L275.95 278.83L276.02 277.36L276.09 276.97L276.16 275.6L276.23 277.42L276.3 276.74L276.37 278.02L276.45 280.46L276.52 278.42L276.59 278.07L276.66 278.48L276.73 277.55L276.8 276.62L276.87 279.89L276.94 280.38L277.02 280.41L277.09 277.34L277.16 275.84L277.23 277.95L277.3 279.96L277.37 278.97L277.44 278.09L277.51 276.74L277.59 279.51L277.66 277.5L277.73 276.5L277.8 278.05L277.87 277.78L277.94 276.16L278.01 277.43L278.08 278.7L278.16 278.22L278.23 278.44L278.3 277.11L278.37 279.02L278.44 280.04L278.51 278.56L278.58 279.5L278.66 279.93L278.73 280.16L278.8 279.92L278.87 280.23L278.94 278.42L279.01 278.12L279.08 280.36L279.15 280.46L279.23 279.34L279.3 280.45L279.37 280.41L279.44 278.98L279.51 277.56L279.58 280.45L279.65 278.77L279.72 278.86L279.8 280.3L279.87 280.97L279.94 280.11L280.01 281.56L280.08 279.65L280.15 278.72L280.22 278.81L280.29 279.18L280.37 280.89L280.44 282.2L280.51 280.09L280.58 279.29L280.65 283.02L280.72 280.91L280.79 278.45L280.86 279.19L280.94 279.38L281.01 279.84L281.08 281.76L281.15 280.45L281.22 281.96L281.29 278.95L281.36 281.05L281.44 280.34L281.51 281.27L281.58 277.53L281.65 283.85L281.72 280.24L281.79 279.3L281.86 277.18L281.93 280.27L282.01 282.6L282.08 283.98L282.15 280.26L282.22 279.64L282.29 281.06L282.36 280L282.43 281.18L282.5 278.24L282.58 281.72L282.65 282.93L282.72 282.86L282.79 279.18L282.86 281.78L282.93 282.19L283 279.7L283.07 281.71L283.15 280.36L283.22 281.09L283.29 281.05L283.36 281.88L283.43 279.85L283.5 280.74L283.57 282.25L283.65 282.75L283.72 281.79L283.79 277.89L283.86 283.4L283.93 283.52L284 280.31L284.07 281.79L284.14 284.37L284.22 283.97L284.29 281.93L284.36 280.95L284.43 283.22L284.5 281.49L284.57 280.5L284.64 281.62L284.71 283.05L284.79 280.49L284.86 282.67L284.93 281.66L285 281.61L285.07 281.08L285.14 282.61L285.21 281.38L285.28 284.06L285.36 282.46L285.43 282.59L285.5 281.48L285.57 283.54L285.64 281.83L285.71 280.75L285.78 282.01L285.85 282.67L285.93 283.79L286 282.11L286.07 281.59L286.14 283.51L286.21 280.46L286.28 280.18L286.35 283.24L286.43 283.87L286.5 284.61L286.57 285.73L286.64 283.02L286.71 283.57L286.78 284.13L286.85 283.93L286.92 283.12L287 282.54L287.07 281.61L287.14 280.61L287.21 282.21L287.28 285.47L287.35 281.25L287.42 283.07L287.49 283.63L287.57 282.83L287.64 286.73L287.71 284.77L287.78 282.86L287.85 287.06L287.92 282.93L287.99 284.14L288.06 284.08L288.14 282.85L288.21 285.01L288.28 284.84L288.35 283.67L288.42 282.86L288.49 282.11L288.56 280.71L288.64 279.82L288.71 283.75L288.78 283.07L288.85 280.83L288.92 285.82L288.99 284.09L289.06 282.46L289.13 283.73L289.21 284.36L289.28 281.77L289.35 284.99L289.42 284.2L289.49 285.35L289.56 286.07L289.63 284.66L289.7 284.48L289.78 283.14L289.85 287.7L289.92 284.88L289.99 284.43L290.06 284.79L290.13 283.97L290.2 285.19L290.27 284.36L290.35 281.57L290.42 283.72L290.49 288.33L290.56 285.76L290.63 285.02L290.7 286.26L290.77 284.87L290.84 285.55L290.92 284.04L290.99 283.82L291.06 282.38L291.13 285.95L291.2 286.09L291.27 286.08L291.34 283.9L291.42 284.44L291.49 283.63L291.56 286.27L291.63 284.66L291.7 285.11L291.77 282.54L291.84 286.33L291.91 283.43L291.99 284.41L292.06 285.48L292.13 285.77L292.2 285.92L292.27 284.67L292.34 284.84L292.41 285.58L292.48 285.62L292.56 282.99L292.63 288.67L292.7 286.05L292.77 284.01L292.84 284.52L292.91 286.68L292.98 288.6L293.05 286.78L293.13 288.22L293.2 284.36L293.27 286.22L293.34 284.31L293.41 288.81L293.48 286.87L293.55 287.34L293.63 285.45L293.7 286.01L293.77 287.11L293.84 288.1L293.91 286.01L293.98 286.93L294.05 289.3L294.12 287.55L294.2 287.8L294.27 284.4L294.34 286.58L294.41 285.27L294.48 286.47L294.55 287.88L294.62 286.28L294.69 287L294.77 285.98L294.84 283.82L294.91 285.32L294.98 286.93L295.05 286.02L295.12 284.57L295.19 285.64L295.26 288.84L295.34 287.65L295.41 286.25L295.48 286.03L295.55 287.4L295.62 289.72L295.69 285.24L295.76 288.64L295.83 286.32L295.91 287.25L295.98 286.13L296.05 286.12L296.12 286.74L296.19 288.61L296.26 285.75L296.33 285.77L296.41 287.14L296.48 287.2L296.55 287.03L296.62 287.48L296.69 287.32L296.76 288.58L296.83 290.12L296.9 285.08L296.98 288.88L297.05 286.77L297.12 291.03L297.19 288.74L297.26 288.91L297.33 288.16L297.4 288.54L297.47 286.45L297.55 289.31L297.62 288.55L297.69 289.12L297.76 285.99L297.83 289.84L297.9 286.06L297.97 287.47L298.04 287L298.12 287.28L298.19 288.22L298.26 290.17L298.33 289.67L298.4 288.42L298.47 291.48L298.54 285.99L298.62 287.7L298.69 285.92L298.76 287.27L298.83 289.42L298.9 286.98L298.97 288.89L299.04 287.66L299.11 286.87L299.19 287.62L299.26 288.3L299.33 288.62L299.4 288.02L299.47 289.98L299.54 287.82L299.61 286.47L299.68 291.8L299.76 288.77L299.83 288.25L299.9 288.18L299.97 287.14L300.04 285.44L300.11 288.67L300.18 288.18L300.25 288.01L300.33 289.65L300.4 287.28L300.47 288.79L300.54 288.25L300.61 290.45L300.68 288.63L300.75 290.94L300.82 292.19L300.9 288.03L300.97 288.93L301.04 289.26L301.11 288.55L301.18 288.91L301.25 288.08L301.32 289.68L301.4 289.07L301.47 289.38L301.54 287.21L301.61 291.2L301.68 290.73L301.75 288.27L301.82 286.25L301.89 287.52L301.97 288.32L302.04 286.86L302.11 287.86L302.18 291.7L302.25 290.86L302.32 289.18L302.39 287.11L302.46 286.58L302.54 288.13L302.61 288.8L302.68 288.3L302.75 288.34L302.82 289.86L302.89 291.32L302.96 289.52L303.03 287.37L303.11 288.34L303.18 289.69L303.25 288.84L303.32 290.09L303.39 290.07L303.46 289.65L303.53 289.13L303.61 290.77L303.68 289.6L303.75 287.52L303.82 288.29L303.89 290.88L303.96 289.35L304.03 288.43L304.1 288.79L304.18 288.23L304.25 289.22L304.32 291.32L304.39 289.83L304.46 289.07L304.53 292.28L304.6 289.26L304.67 289.19L304.75 290.18L304.82 289.93L304.89 289.01L304.96 290.3L305.03 290.87L305.1 288.34L305.17 288.38L305.24 290.21L305.32 288.79L305.39 291.97L305.46 289.91L305.53 289.91L305.6 291.17L305.67 290.52L305.74 290.36L305.81 289.8L305.89 290.5L305.96 290.95L306.03 291.53L306.1 290.71L306.17 291.45L306.24 290.4L306.31 291.28L306.39 290.23L306.46 289.65L306.53 289.75L306.6 291.71L306.67 290.95L306.74 288.75L306.81 291.23L306.88 290.37L306.96 289.89L307.03 292.37L307.1 290.52L307.17 287.93L307.24 290.16L307.31 290.73L307.38 290.4L307.45 290.49L307.53 292.39L307.6 290.79L307.67 293.75L307.74 289.28L307.81 290.77L307.88 290.22L307.95 292.61L308.02 291.52L308.1 290.23L308.17 289.55L308.24 291.02L308.31 288.13L308.38 292.22L308.45 290.69L308.52 289.11L308.6 290.27L308.67 291.88L308.74 288.77L308.81 293.41L308.88 292.13L308.95 292.98L309.02 292.41L309.09 292.41L309.17 293.43L309.24 294.18L309.31 291.4L309.38 291.04L309.45 292.14L309.52 289.84L309.59 289L309.66 291.02L309.74 291.3L309.81 291.91L309.88 292.3L309.95 291.17L310.02 290.74L310.09 291.01L310.16 291.5L310.23 290.91L310.31 292.38L310.38 291.4L310.45 291.67L310.52 291.68L310.59 292.14L310.66 290.83L310.73 292.89L310.8 291.84L310.88 293.42L310.95 290.53L311.02 293.22L311.09 291.65L311.16 293.38L311.23 294.06L311.3 291.79L311.38 292.66L311.45 293.11L311.52 290.16L311.59 291.92L311.66 292.94L311.73 293.12L311.8 292.15L311.87 291.02L311.95 291.11L312.02 292.22L312.09 292.18L312.16 292.45L312.23 291.49L312.3 292.62L312.37 293.26L312.44 291.89L312.52 293.02L312.59 294.07L312.66 291.34L312.73 292.04L312.8 293.38L312.87 292.2L312.94 294.04L313.01 292.13L313.09 294.91L313.16 291.49L313.23 292.48L313.3 294.86L313.37 290.76L313.44 294.73L313.51 291.04L313.59 289.37L313.66 291.49L313.73 294.9L313.8 292.92L313.87 291.53L313.94 291.08L314.01 293.02L314.08 292.94L314.16 295.45L314.23 292.46L314.3 291.84L314.37 292.91L314.44 293.92L314.51 291.59L314.58 292.53L314.65 292.67L314.73 292.62L314.8 292.55L314.87 294.14L314.94 292.77L315.01 294.87L315.08 293.15L315.15 292.3L315.22 293.12L315.3 292.84L315.37 292.72L315.44 290.88L315.51 290.75L315.58 290.81L315.65 292.44L315.72 294.26L315.79 294.45L315.87 290.16L315.94 291.5L316.01 294.03L316.08 293.62L316.15 293.01L316.22 294.87L316.29 295.49L316.37 293.57L316.44 291.86L316.51 293.2L316.58 293.56L316.65 292.97L316.72 293.08L316.79 295.26L316.86 293.46L316.94 292.48L317.01 293.1L317.08 294.11L317.15 291.72L317.22 293.99L317.29 294.37L317.36 290.26L317.43 293.68L317.51 292.17L317.58 294.24L317.65 294.17L317.72 292.63L317.79 291.99L317.86 296L317.93 292.06L318 291.55L318.08 293.52L318.15 295.27L318.22 293.21L318.29 291.83L318.36 295.07L318.43 293.07L318.5 294.76L318.58 292.97L318.65 292.5L318.72 293.77L318.79 291.69L318.86 294.41L318.93 295.05L319 294.92L319.07 294.01L319.15 291.24L319.22 293.66L319.29 294.82L319.36 291.63L319.43 294.31L319.5 292.87L319.57 291.42L319.64 294.2L319.72 294.19L319.79 293.96L319.86 291.96L319.93 293.31L320 295.76L320.07 295.1L320.14 294.92L320.21 291L320.29 294.8L320.36 293.54L320.43 293.52L320.5 293.45L320.57 292.65L320.64 295.37L320.71 293.91L320.78 293.13L320.86 295L320.93 292.78L321 294.02L321.07 292.96L321.14 292.84L321.21 294.56L321.28 294L321.36 292.88L321.43 294.53L321.5 293.28L321.57 295.8L321.64 293.44L321.71 289.56L321.78 293.06L321.85 295.47L321.93 293.5L322 293.3L322.07 293.23L322.14 294.24L322.21 293.77L322.28 293.28L322.35 294.26L322.42 292.64L322.5 294.19L322.57 294.26L322.64 295.2L322.71 293.4L322.78 295.37L322.85 294.3L322.92 295.04L322.99 293.77L323.07 294.89L323.14 294.21L323.21 292L323.28 294.6L323.35 292.6L323.42 292.84L323.49 293.3L323.57 293.7L323.64 294.85L323.71 292.87L323.78 294.01L323.85 291.06L323.92 296.84L323.99 294.51L324.06 294.73L324.14 292.12L324.21 294.52L324.28 293.53L324.35 292.75L324.42 294.13L324.49 295.42L324.56 294.22L324.63 295.07L324.71 293.02L324.78 295.88L324.85 294.3L324.92 295.21L324.99 293.58L325.06 293.82L325.13 294.43L325.2 294.78L325.28 293.67L325.35 294.71L325.42 295.51L325.49 296.42L325.56 296.69L325.63 294.95L325.7 295.41L325.77 294.07L325.85 295.63L325.92 295.21L325.99 296.21L326.06 293.74L326.13 294.16L326.2 296.47L326.27 293.9L326.35 295.14L326.42 292.86L326.49 294.18L326.56 296.06L326.63 296.36L326.7 294.01L326.77 293.47L326.84 295.14L326.92 292.99L326.99 294.72L327.06 296.77L327.13 297.03L327.2 294.2L327.27 293.93L327.34 295.01L327.41 293.12L327.49 294.89L327.56 294.81L327.63 292.64L327.7 293.99L327.77 294.55L327.84 292.77L327.91 295.31L327.98 294.67L328.06 293.92L328.13 295.01L328.2 296.01L328.27 294.08L328.34 295.62L328.41 294.61L328.48 293.64L328.56 293.37L328.63 295L328.7 293.46L328.77 293.51L328.84 294.22L328.91 295.6L328.98 294.33L329.05 292.65L329.13 296.57L329.2 293.86L329.27 294.03L329.34 295.79L329.41 295.28L329.48 295.99L329.55 294.06L329.62 294.76L329.7 295.31L329.77 292.71L329.84 294.88L329.91 297.86L329.98 295.31L330.05 296.3L330.12 294.68L330.19 295.38L330.27 292.6L330.34 296.04L330.41 294.46L330.48 297.08L330.55 294.6L330.62 293.99L330.69 292.37L330.76 294.08L330.84 294.11L330.91 298.84L330.98 296.6L331.05 295.28L331.12 293.25L331.19 294.39L331.26 295.05L331.34 295.93L331.41 298.35L331.48 295.55L331.55 296.6L331.62 294.65L331.69 291.68L331.76 293.62L331.83 296.91L331.91 292.79L331.98 297.5L332.05 295.84L332.12 297.22L332.19 295.21L332.26 294.23L332.33 293.19L332.4 296.62L332.48 295.39L332.55 295.95L332.62 295.2L332.69 294.92L332.76 296.26L332.83 294.72L332.9 297.94L332.97 295.79L333.05 297.4L333.12 295.43L333.19 295.19L333.26 297.04L333.33 294.82L333.4 295.78L333.47 294.52L333.55 296.54L333.62 294.75L333.69 294.52L333.76 293.71L333.83 294.1L333.9 294.92L333.97 293.48L334.04 295.15L334.12 296.39L334.19 297.17L334.26 295.93L334.33 294.72L334.4 297.97L334.47 297.77L334.54 294.78L334.61 295.4L334.69 295.55L334.76 295.91L334.83 295.63L334.9 294.88L334.97 297.09L335.04 296.7L335.11 296.61L335.18 298.41L335.26 294.64L335.33 295.57L335.4 295.83L335.47 294.59L335.54 298.37L335.61 294.74L335.68 297.09L335.75 294.75L335.83 295.14L335.9 295.36L335.97 295.67L336.04 296.34L336.11 298.32L336.18 296.3L336.25 294.53L336.33 294.87L336.4 296.6L336.47 295.51L336.54 296.6L336.61 295.62L336.68 297.04L336.75 293.15L336.82 294.99L336.9 295.57L336.97 293.56L337.04 295.18L337.11 294.82L337.18 299.22L337.25 296.19L337.32 296.74L337.39 296.35L337.47 295.37L337.54 294.38L337.61 296.19L337.68 294.84L337.75 295.11L337.82 295.63L337.89 294.53L337.96 295.61L338.04 296.67L338.11 295.25L338.18 296.75L338.25 295.12L338.32 295.53L338.39 297.05L338.46 295.08L338.54 297.36L338.61 297.49L338.68 293.31L338.75 297.03L338.82 297.36L338.89 294.29L338.96 294.11L339.03 295.41L339.11 294.22L339.18 299.56L339.25 296.1L339.32 295.59L339.39 296.07L339.46 295.84L339.53 295.18L339.6 297.55L339.68 295.6L339.75 296.12L339.82 296.82L339.89 295.3L339.96 298.03L340.03 296.39L340.1 295.49L340.17 295.85L340.25 296.04L340.32 296.8L340.39 297.54L340.46 293.52L340.53 295.84L340.6 297L340.67 298.8L340.74 293.81L340.82 297L340.89 295.87L340.96 293.85L341.03 296.32L341.1 296.04L341.17 293.96L341.24 295.78L341.32 296.34L341.39 296.59L341.46 295.81L341.53 296.45L341.6 297.5L341.67 295.59L341.74 296.53L341.81 296.67L341.89 295.77L341.96 296.4L342.03 298.93L342.1 296.81L342.17 295.58L342.24 294.91L342.31 297.82L342.38 296.01L342.46 298.34L342.53 296.56L342.6 296.54L342.67 296.42L342.74 294.55L342.81 294.12L342.88 295.66L342.95 295.99L343.03 295.45L343.1 297.06L343.17 297.75L343.24 296.88L343.31 296.39L343.38 293.15L343.45 294.78L343.53 294.6L343.6 297.98L343.67 295.43L343.74 297.85L343.81 297.94L343.88 295.97L343.95 295.21L344.02 296.06L344.1 295.03L344.17 294.84L344.24 296.86L344.31 297.41L344.38 296.77L344.45 294.87L344.52 298.97L344.59 297.3L344.67 298.88L344.74 298.13L344.81 297.19L344.88 297.22L344.95 297.09L345.02 297.7L345.09 298.8L345.16 297.87L345.24 295L345.31 298.73L345.38 294.91L345.45 298.15L345.52 297.03L345.59 299.91L345.66 295.8L345.73 295.88L345.81 296.78L345.88 299.13L345.95 297.67L346.02 294.74L346.09 297.3L346.16 298.71L346.23 297.96L346.31 295.71L346.38 297.18L346.45 296.64L346.52 296.54L346.59 296.51L346.66 295.75L346.73 296.23L346.8 294.82L346.88 295.41L346.95 298.61L347.02 295.53L347.09 296.67L347.16 298.41L347.23 298.7L347.3 298.67L347.37 296.69L347.45 295.8L347.52 298.1L347.59 295.5L347.66 294.95L347.73 296.81L347.8 296.37L347.87 296.47L347.94 296.67L348.02 297.14L348.09 298.16L348.16 297L348.23 295.15L348.3 295.94L348.37 297.13L348.44 298.28L348.52 295.83L348.59 296.39L348.66 298.79L348.73 295.69L348.8 296.15L348.87 297.76L348.94 294.95L349.01 297.3L349.09 295.37L349.16 294.78L349.23 298.43L349.3 293.34L349.37 295.51L349.44 297.1L349.51 297.23L349.58 300.17L349.66 297.04L349.73 296.05L349.8 297.06L349.87 297.43L349.94 297.97L350.01 296.16L350.08 299.01L350.15 299.03L350.23 297.37L350.3 296.31L350.37 297.2L350.44 297.34L350.51 296.03L350.58 297.29L350.65 297.08L350.72 297.8L350.8 297.63L350.87 299.21L350.94 298.42L351.01 297.07L351.08 299.78L351.15 298.66L351.22 296.31L351.3 295.38L351.37 297.35L351.44 298.49L351.51 295.22L351.58 301.07L351.65 296.3L351.72 298.25L351.79 299.15L351.87 296.8L351.94 297.13L352.01 298.81L352.08 297.48L352.15 296.2L352.22 297.9L352.29 294.88L352.36 299.1L352.44 297.84L352.51 296.26L352.58 296.82L352.65 297.82L352.72 295.76L352.79 297.63L352.86 298.38L352.93 298.53L353.01 296.18L353.08 298.03L353.15 296.55L353.22 295.05L353.29 296.76L353.36 297.72L353.43 295.63L353.51 297.71L353.58 296.62L353.65 297.67L353.72 297.51L353.79 298.3L353.86 297.33L353.93 298.04L354 297.02L354.08 296.33L354.15 297.52L354.22 297.43L354.29 299.72L354.36 297.92L354.43 298.05L354.5 297.44L354.57 296.04L354.65 298.28L354.72 297.73L354.79 298.14L354.86 297.19L354.93 297.59L355 296.88L355.07 298.28L355.14 299.21L355.22 301.16L355.29 295.7L355.36 297.53L355.43 297.18L355.5 298.04L355.57 300.96L355.64 299.36L355.71 297.52L355.79 295.99L355.86 296.52L355.93 296.19L356 295.62" fill="none" stroke="#9a9a9a" stroke-width="0.5" stroke-linejoin="round"/>
<path d="M213.5 263L213.62 262.71L213.76 262.38L213.92 262.01L214.1 261.6L214.29 261.15L214.49 260.68L214.71 260.17L214.94 259.64L215.17 259.08L215.42 258.51L215.67 257.93L215.93 257.33L216.19 256.72L216.45 256.11L216.71 255.49L216.98 254.88L217.24 254.27L217.5 253.67L217.75 253.08L218 252.5L218.25 251.93L218.5 251.37L218.75 250.8L219.01 250.23L219.27 249.66L219.53 249.08L219.79 248.51L220.06 247.92L220.32 247.34L220.59 246.74L220.86 246.14L221.13 245.54L221.41 244.92L221.68 244.29L221.95 243.66L222.22 243.01L222.49 242.35L222.76 241.68L223.03 241L223.3 240.3L223.57 239.58L223.85 238.83L224.13 238.06L224.41 237.26L224.7 236.45L224.99 235.62L225.27 234.79L225.56 233.94L225.85 233.09L226.14 232.23L226.42 231.38L226.7 230.53L226.98 229.69L227.25 228.86L227.51 228.04L227.77 227.25L228.01 226.47L228.25 225.72L228.48 224.99L228.7 224.3L228.91 223.63L229.11 222.96L229.31 222.29L229.49 221.64L229.68 221L229.85 220.36L230.02 219.74L230.19 219.13L230.35 218.54L230.5 217.96L230.65 217.39L230.79 216.84L230.93 216.31L231.07 215.8L231.2 215.31L231.33 214.84L231.45 214.4L231.57 213.97L231.69 213.57L231.8 213.2L231.91 212.86L232.01 212.54L232.1 212.26L232.19 212L232.27 211.77L232.35 211.56L232.42 211.38L232.49 211.21L232.55 211.06L232.61 210.92L232.67 210.79L232.73 210.68L232.79 210.57L232.84 210.48L232.9 210.38L232.95 210.29L233.01 210.2L233.07 210.1L233.13 210L233.2 209.9L233.27 209.8L233.33 209.7L233.4 209.61L233.47 209.52L233.53 209.44L233.6 209.37L233.66 209.3L233.73 209.24L233.79 209.18L233.86 209.13L233.92 209.09L233.98 209.05L234.05 209.01L234.11 208.98L234.18 208.96L234.24 208.94L234.31 208.92L234.37 208.91L234.44 208.9L234.5 208.9L234.56 208.9L234.63 208.91L234.69 208.92L234.76 208.94L234.82 208.96L234.89 208.98L234.95 209.01L235.02 209.05L235.08 209.09L235.14 209.13L235.21 209.18L235.27 209.24L235.34 209.3L235.4 209.37L235.47 209.44L235.53 209.52L235.6 209.61L235.67 209.7L235.73 209.8L235.8 209.9L235.86 210L235.92 210.1L235.97 210.18L236.02 210.27L236.06 210.35L236.11 210.44L236.15 210.53L236.19 210.62L236.23 210.73L236.28 210.84L236.33 210.97L236.39 211.12L236.45 211.29L236.53 211.48L236.61 211.69L236.7 211.93L236.8 212.2L236.92 212.5L237.05 212.83L237.2 213.2L237.36 213.62L237.55 214.08L237.74 214.59L237.96 215.14L238.18 215.72L238.42 216.33L238.66 216.97L238.91 217.63L239.17 218.31L239.44 218.99L239.71 219.69L239.97 220.39L240.24 221.08L240.51 221.77L240.78 222.45L241.04 223.11L241.29 223.75L241.54 224.36L241.77 224.95L242 225.5L242.22 226.03L242.43 226.54L242.64 227.03L242.85 227.52L243.06 227.99L243.26 228.46L243.46 228.91L243.66 229.36L243.85 229.8L244.05 230.24L244.24 230.67L244.44 231.09L244.63 231.52L244.83 231.94L245.02 232.36L245.21 232.78L245.41 233.21L245.6 233.64L245.8 234.07L246 234.5L246.2 234.94L246.4 235.37L246.6 235.8L246.8 236.24L247 236.66L247.2 237.09L247.4 237.52L247.6 237.95L247.8 238.37L248 238.79L248.2 239.22L248.4 239.64L248.6 240.06L248.8 240.48L249 240.9L249.2 241.32L249.4 241.74L249.6 242.16L249.8 242.58L250 243L250.2 243.42L250.4 243.84L250.6 244.25L250.79 244.67L250.99 245.08L251.18 245.49L251.38 245.9L251.58 246.32L251.77 246.73L251.97 247.14L252.17 247.55L252.36 247.96L252.56 248.37L252.76 248.79L252.96 249.2L253.17 249.62L253.37 250.04L253.58 250.45L253.79 250.88L254 251.3L254.21 251.73L254.43 252.16L254.65 252.6L254.86 253.04L255.08 253.49L255.3 253.93L255.53 254.38L255.75 254.83L255.97 255.28L256.2 255.73L256.43 256.18L256.65 256.62L256.88 257.06L257.11 257.5L257.34 257.94L257.57 258.36L257.8 258.78L258.04 259.2L258.27 259.6L258.5 260L258.73 260.39L258.97 260.78L259.2 261.16L259.44 261.54L259.68 261.92L259.92 262.29L260.16 262.66L260.4 263.02L260.65 263.38L260.89 263.73L261.13 264.08L261.37 264.43L261.62 264.77L261.86 265.1L262.1 265.43L262.34 265.76L262.58 266.07L262.82 266.39L263.06 266.7L263.3 267L263.54 267.3L263.77 267.58L264 267.87L264.23 268.14L264.45 268.41L264.68 268.67L264.9 268.93L265.12 269.18L265.35 269.43L265.58 269.67L265.8 269.91L266.03 270.15L266.26 270.38L266.5 270.61L266.74 270.85L266.98 271.08L267.23 271.31L267.48 271.54L267.74 271.77L268 272L268.27 272.23L268.54 272.46L268.81 272.68L269.08 272.9L269.36 273.12L269.64 273.34L269.92 273.55L270.21 273.76L270.5 273.97L270.79 274.18L271.09 274.39L271.39 274.6L271.7 274.81L272.01 275.02L272.33 275.23L272.65 275.44L272.98 275.65L273.31 275.87L273.65 276.08L274 276.3L274.36 276.52L274.73 276.75L275.12 276.98L275.52 277.22L275.92 277.46L276.34 277.7L276.76 277.94L277.19 278.18L277.61 278.42L278.04 278.66L278.47 278.9L278.9 279.13L279.32 279.36L279.74 279.59L280.14 279.81L280.54 280.02L280.93 280.23L281.3 280.43L281.66 280.62L282 280.8L282.32 280.97L282.62 281.12L282.9 281.27L283.16 281.4L283.41 281.53L283.65 281.64L283.88 281.76L284.1 281.86L284.32 281.97L284.54 282.07L284.77 282.17L284.99 282.27L285.23 282.38L285.47 282.49L285.73 282.6L286 282.72L286.29 282.85L286.6 282.99L286.94 283.14L287.3 283.3L287.68 283.47L288.06 283.65L288.46 283.83L288.86 284.02L289.27 284.22L289.7 284.42L290.13 284.62L290.58 284.83L291.03 285.05L291.5 285.26L291.98 285.48L292.48 285.7L292.99 285.93L293.51 286.15L294.05 286.38L294.61 286.6L295.18 286.83L295.77 287.05L296.37 287.28L297 287.5L297.65 287.73L298.33 287.96L299.03 288.2L299.76 288.44L300.51 288.69L301.28 288.94L302.07 289.19L302.87 289.44L303.68 289.7L304.5 289.95L305.33 290.2L306.16 290.45L307 290.69L307.83 290.93L308.66 291.16L309.49 291.39L310.31 291.6L311.12 291.81L311.92 292.01L312.7 292.2L313.47 292.38L314.25 292.55L315.01 292.71L315.78 292.87L316.55 293.02L317.31 293.16L318.08 293.3L318.84 293.43L319.6 293.56L320.36 293.68L321.12 293.8L321.88 293.92L322.65 294.03L323.41 294.14L324.17 294.26L324.93 294.36L325.7 294.47L326.46 294.58L327.23 294.69L328 294.8L328.77 294.91L329.56 295.02L330.34 295.12L331.14 295.22L331.93 295.32L332.73 295.42L333.53 295.51L334.33 295.61L335.13 295.7L335.93 295.79L336.72 295.88L337.51 295.96L338.29 296.05L339.06 296.13L339.83 296.21L340.59 296.29L341.34 296.37L342.07 296.45L342.79 296.52L343.5 296.6L344.21 296.67L344.93 296.75L345.66 296.82L346.39 296.9L347.13 296.97L347.86 297.04L348.59 297.11L349.32 297.18L350.03 297.25L350.72 297.31L351.39 297.38L352.04 297.44L352.67 297.49L353.26 297.55L353.82 297.6L354.35 297.65L354.83 297.69L355.27 297.73L355.66 297.77L356 297.8" fill="none" stroke="#565656" stroke-width="2.9" stroke-opacity="0.8" stroke-linejoin="round"/>
<path d="M213.5 261.98L213.57 263.19L213.64 261.34L213.71 263.13L213.79 263.15L213.86 263.7L213.93 260.99L214 262.56L214.07 260.26L214.14 261.3L214.21 261.23L214.28 263.91L214.36 262.68L214.43 261.48L214.5 261.08L214.57 262.04L214.64 260.27L214.71 261.64L214.78 260.36L214.85 260.14L214.93 258.53L215 259.89L215.07 258.75L215.14 258.76L215.21 258.23L215.28 259.79L215.35 259.73L215.42 259.5L215.5 257.31L215.57 260.5L215.64 257.63L215.71 258.01L215.78 258.59L215.85 257.09L215.92 257.17L215.99 257.28L216.07 256.33L216.14 257.05L216.21 257.05L216.28 258.52L216.35 255.21L216.42 254.79L216.49 256.84L216.57 255.53L216.64 254.22L216.71 253.49L216.78 254.86L216.85 252.06L216.92 253.62L216.99 255.54L217.06 255.31L217.14 253.33L217.21 255.36L217.28 253.89L217.35 253.45L217.42 252.78L217.49 253.22L217.56 255.14L217.63 253.76L217.71 253.06L217.78 254.23L217.85 253.8L217.92 253.39L217.99 253.27L218.06 254.18L218.13 253.99L218.2 254.49L218.28 253.02L218.35 251.62L218.42 250.57L218.49 252.83L218.56 250.63L218.63 252.47L218.7 251.26L218.78 251.46L218.85 251.22L218.92 251.64L218.99 249.05L219.06 250.26L219.13 251.3L219.2 248.53L219.27 250.88L219.35 246.4L219.42 249.17L219.49 249.45L219.56 247.82L219.63 248.66L219.7 247.29L219.77 247.5L219.84 247.59L219.92 249.2L219.99 247.95L220.06 247.21L220.13 248.03L220.2 247.75L220.27 246.34L220.34 249.09L220.41 247.39L220.49 246.45L220.56 246.82L220.63 247.33L220.7 246.64L220.77 249.15L220.84 246.17L220.91 246.8L220.98 248.34L221.06 243.99L221.13 247.83L221.2 245.2L221.27 245L221.34 246.37L221.41 245.02L221.48 242.31L221.56 241.88L221.63 243.01L221.7 244.5L221.77 244.85L221.84 243.95L221.91 242.9L221.98 241.27L222.05 243.01L222.13 243.19L222.2 244.04L222.27 240.75L222.34 240.24L222.41 239.47L222.48 241.46L222.55 242.72L222.62 241.99L222.7 240.9L222.77 242.22L222.84 239.73L222.91 241.3L222.98 239.25L223.05 240.63L223.12 239.77L223.19 238.51L223.27 240.03L223.34 242.79L223.41 240.26L223.48 240.4L223.55 239.92L223.62 238.71L223.69 239.19L223.77 238.65L223.84 237.2L223.91 236.46L223.98 237.92L224.05 241.61L224.12 235.86L224.19 237.67L224.26 237.64L224.34 237.77L224.41 233.92L224.48 235.5L224.55 237.76L224.62 238.67L224.69 237.78L224.76 237.45L224.83 235.29L224.91 233.65L224.98 234.94L225.05 238.24L225.12 235.57L225.19 235.21L225.26 233.95L225.33 234.67L225.4 236.2L225.48 233.6L225.55 233.07L225.62 233.22L225.69 235.31L225.76 233.35L225.83 234.75L225.9 233.42L225.97 235.53L226.05 232.41L226.12 231.07L226.19 232.11L226.26 231.07L226.33 232.64L226.4 230.89L226.47 231.95L226.55 229.76L226.62 231.5L226.69 229.24L226.76 230.89L226.83 228.79L226.9 232.34L226.97 230.97L227.04 227.37L227.12 230.43L227.19 230.59L227.26 230.29L227.33 229.6L227.4 230.47L227.47 227.27L227.54 224.85L227.61 230.45L227.69 226.73L227.76 227.58L227.83 227.38L227.9 224.3L227.97 224.91L228.04 225.74L228.11 229.6L228.18 226.52L228.26 228.57L228.33 226.45L228.4 226.19L228.47 223.47L228.54 226.38L228.61 222.46L228.68 224.1L228.76 223.07L228.83 222.21L228.9 224.38L228.97 224.04L229.04 224.18L229.11 222.83L229.18 222.85L229.25 222.12L229.33 220.56L229.4 221.8L229.47 221.72L229.54 221.68L229.61 220.13L229.68 221.02L229.75 217.61L229.82 220.29L229.9 220.23L229.97 218.47L230.04 219.13L230.11 220.3L230.18 220.49L230.25 217.9L230.32 219.56L230.39 219.74L230.47 218.86L230.54 216.68L230.61 217.44L230.68 215.73L230.75 218.19L230.82 218.88L230.89 217.04L230.96 217.82L231.04 217.11L231.11 215.75L231.18 213.83L231.25 216.82L231.32 215.32L231.39 215.66L231.46 214.34L231.54 212.46L231.61 214.27L231.68 211.27L231.75 210.56L231.82 212.36L231.89 213.23L231.96 216.36L232.03 213.82L232.11 213.75L232.18 211.89L232.25 209.54L232.32 212.36L232.39 212.53L232.46 210.17L232.53 209.15L232.6 211.38L232.68 210.85L232.75 211.77L232.82 208.46L232.89 210.58L232.96 212.85L233.03 210.55L233.1 208.79L233.17 209.08L233.25 208.37L233.32 212.26L233.39 210.56L233.46 210.17L233.53 211.45L233.6 211.19L233.67 212.32L233.75 207.06L233.82 208.25L233.89 205.39L233.96 207.36L234.03 208.49L234.1 207.24L234.17 210.2L234.24 210.07L234.32 210.71L234.39 210.53L234.46 207.18L234.53 209.36L234.6 210.05L234.67 207.76L234.74 207.77L234.81 207.69L234.89 207.12L234.96 209.99L235.03 207.97L235.1 208.42L235.17 210.64L235.24 207.54L235.31 210.27L235.38 209.44L235.46 209.36L235.53 210.19L235.6 211.55L235.67 209.41L235.74 211.86L235.81 209.06L235.88 211.31L235.95 209.9L236.03 210.64L236.1 211.21L236.17 210.11L236.24 210.88L236.31 211.74L236.38 211.05L236.45 210.7L236.53 210.54L236.6 210.47L236.67 209.41L236.74 211.41L236.81 211.05L236.88 213.82L236.95 208.9L237.02 211.53L237.1 212.49L237.17 213.73L237.24 213.1L237.31 212.75L237.38 212.87L237.45 214.58L237.52 213.61L237.59 211.75L237.67 217.3L237.74 213.63L237.81 216.3L237.88 216.31L237.95 213.95L238.02 218.44L238.09 217.07L238.16 216.77L238.24 215.61L238.31 216.8L238.38 213.99L238.45 219.02L238.52 214.81L238.59 215.6L238.66 217.68L238.74 217.39L238.81 215.33L238.88 219.11L238.95 218.69L239.02 218.23L239.09 216.73L239.16 216.6L239.23 218.35L239.31 220.49L239.38 220.47L239.45 216.53L239.52 220.45L239.59 217.1L239.66 218.63L239.73 218.87L239.8 219.07L239.88 219.46L239.95 221.93L240.02 220.84L240.09 220.54L240.16 223.5L240.23 221.88L240.3 223.61L240.37 221.37L240.45 222.12L240.52 224.08L240.59 221.59L240.66 219.53L240.73 223.15L240.8 222.53L240.87 223.06L240.94 225.01L241.02 222.89L241.09 223.59L241.16 225.8L241.23 227.13L241.3 226.8L241.37 225.11L241.44 224.97L241.52 223.6L241.59 223.67L241.66 221.88L241.73 224.98L241.8 223.38L241.87 224.41L241.94 226.64L242.01 228.89L242.09 226.07L242.16 224.96L242.23 224.67L242.3 228.26L242.37 225.44L242.44 227.15L242.51 227.59L242.58 228.75L242.66 227.7L242.73 226.09L242.8 226.8L242.87 226.4L242.94 227.35L243.01 226.72L243.08 230.48L243.15 229.08L243.23 228.32L243.3 229.7L243.37 225.37L243.44 227.49L243.51 226.46L243.58 230.07L243.65 231.99L243.73 228.82L243.8 230.64L243.87 227.74L243.94 231.28L244.01 228.27L244.08 231.17L244.15 227.28L244.22 230.54L244.3 231.32L244.37 229.57L244.44 231.36L244.51 230.88L244.58 232.71L244.65 231.05L244.72 228.41L244.79 231.75L244.87 232.2L244.94 232.53L245.01 232.98L245.08 232.84L245.15 230.95L245.22 233.71L245.29 231.86L245.36 231.17L245.44 232.54L245.51 233.18L245.58 232.87L245.65 233.83L245.72 234.11L245.79 232.64L245.86 233.99L245.93 234.41L246.01 233.22L246.08 234.7L246.15 235.81L246.22 232.72L246.29 234.95L246.36 232.59L246.43 232.97L246.51 235.64L246.58 235.58L246.65 237.4L246.72 237.35L246.79 236.67L246.86 236.08L246.93 234.41L247 235.82L247.08 238.13L247.15 236.38L247.22 238.13L247.29 237.59L247.36 238.03L247.43 238.04L247.5 237.31L247.57 238.58L247.65 240.83L247.72 237.64L247.79 238.2L247.86 237.73L247.93 239.6L248 238.52L248.07 237.74L248.14 238.38L248.22 239.96L248.29 240.71L248.36 238.76L248.43 240.71L248.5 241.91L248.57 239.42L248.64 239.68L248.72 238.63L248.79 240.32L248.86 240.33L248.93 239.54L249 238.82L249.07 242.29L249.14 242.83L249.21 244.24L249.29 240.27L249.36 243.99L249.43 243.58L249.5 240.28L249.57 243L249.64 241.29L249.71 243.95L249.78 242.25L249.86 244.78L249.93 243.05L250 242.48L250.07 243.69L250.14 240.86L250.21 243.6L250.28 243.78L250.35 244.46L250.43 243.02L250.5 244.94L250.57 244.93L250.64 243.67L250.71 243.98L250.78 246.17L250.85 244.17L250.92 245.1L251 246.71L251.07 244.89L251.14 244L251.21 245.13L251.28 246.4L251.35 244.52L251.42 245.83L251.5 247.44L251.57 247.19L251.64 246.17L251.71 245.22L251.78 246.71L251.85 249.32L251.92 247.34L251.99 247.76L252.07 247.1L252.14 247.02L252.21 248.38L252.28 245.71L252.35 247.23L252.42 246.16L252.49 245.71L252.56 248.17L252.64 247.75L252.71 249.32L252.78 249.72L252.85 247.79L252.92 249.34L252.99 249.2L253.06 249.92L253.13 247.95L253.21 248.78L253.28 249.85L253.35 250.38L253.42 250.61L253.49 249.61L253.56 249.29L253.63 253.74L253.71 250.62L253.78 252.86L253.85 250.89L253.92 251.96L253.99 249.88L254.06 252.42L254.13 250.71L254.2 251.2L254.28 251.01L254.35 253.18L254.42 253.77L254.49 252.62L254.56 250.98L254.63 251.21L254.7 253.77L254.77 253.1L254.85 252.99L254.92 253.41L254.99 252.59L255.06 252.64L255.13 254.2L255.2 253.53L255.27 252.03L255.34 251.92L255.42 253.14L255.49 254.61L255.56 253.25L255.63 254.81L255.7 256.27L255.77 254.2L255.84 254.2L255.91 254.92L255.99 253.5L256.06 255.63L256.13 256.12L256.2 256.01L256.27 255.32L256.34 256.21L256.41 258.32L256.49 256.13L256.56 254.95L256.63 257.29L256.7 258.71L256.77 257.31L256.84 257.78L256.91 257.55L256.98 255.7L257.06 256.04L257.13 256.66L257.2 258.68L257.27 257.31L257.34 257.14L257.41 257.06L257.48 257.18L257.55 260.04L257.63 259.45L257.7 258.83L257.77 257.25L257.84 259.7L257.91 257.24L257.98 256.04L258.05 256.9L258.12 259.45L258.2 258.4L258.27 259.43L258.34 260.1L258.41 260.11L258.48 262.42L258.55 258.08L258.62 259.58L258.7 258.7L258.77 261.67L258.84 259.73L258.91 261.86L258.98 259.48L259.05 262.37L259.12 263.02L259.19 261.57L259.27 261.62L259.34 263.23L259.41 262.45L259.48 264.1L259.55 261.78L259.62 264.23L259.69 263.33L259.76 262.53L259.84 260.66L259.91 259.25L259.98 262.3L260.05 261.91L260.12 261.56L260.19 261.36L260.26 261.5L260.33 262.01L260.41 262.98L260.48 263.06L260.55 262.75L260.62 263.34L260.69 263.63L260.76 263.2L260.83 264.37L260.9 263.55L260.98 263.59L261.05 263.75L261.12 262.83L261.19 265.6L261.26 266.18L261.33 265.06L261.4 264.14L261.48 263.11L261.55 265.33L261.62 264.75L261.69 266.88L261.76 265.22L261.83 264.24L261.9 263.25L261.97 265.19L262.05 264.09L262.12 266.64L262.19 265.36L262.26 266.46L262.33 265.16L262.4 266.46L262.47 265.06L262.54 265.87L262.62 264.27L262.69 267.76L262.76 266.52L262.83 265.68L262.9 266.52L262.97 266.17L263.04 265.43L263.11 263.8L263.19 267.4L263.26 266.46L263.33 265.31L263.4 267.8L263.47 267.48L263.54 268.18L263.61 267.8L263.69 268.56L263.76 266L263.83 267.99L263.9 268L263.97 268L264.04 266.52L264.11 268.54L264.18 269.37L264.26 268.67L264.33 269.71L264.4 270.59L264.47 267.11L264.54 268.61L264.61 270.15L264.68 268.19L264.75 269.01L264.83 267.01L264.9 270.17L264.97 271.68L265.04 268.43L265.11 269.37L265.18 269.08L265.25 268.61L265.32 267.13L265.4 268.23L265.47 268.93L265.54 268.13L265.61 271.27L265.68 270.35L265.75 272.46L265.82 270.34L265.89 271.31L265.97 269.26L266.04 269.19L266.11 270.89L266.18 269.96L266.25 268.26L266.32 268.56L266.39 272.15L266.47 270.35L266.54 270.43L266.61 271.22L266.68 270.01L266.75 271L266.82 271.96L266.89 269.27L266.96 272.71L267.04 271.59L267.11 270.16L267.18 270.65L267.25 270.72L267.32 270.62L267.39 271.79L267.46 273.1L267.53 271.22L267.61 270.67L267.68 272.06L267.75 271.55L267.82 272.82L267.89 273.51L267.96 271.41L268.03 273.02L268.1 270.91L268.18 272.68L268.25 272.89L268.32 271.72L268.39 270.51L268.46 272.64L268.53 272.39L268.6 273.22L268.68 272.83L268.75 271.98L268.82 272.28L268.89 270.43L268.96 274.03L269.03 272.18L269.1 272.04L269.17 273.62L269.25 273.12L269.32 272.48L269.39 273.26L269.46 274.48L269.53 273.99L269.6 272.29L269.67 273.27L269.74 275.14L269.82 274.14L269.89 273.14L269.96 275.56L270.03 274.53L270.1 272.6L270.17 273.18L270.24 273.54L270.31 274.12L270.39 276.07L270.46 274.23L270.53 271.58L270.6 275.2L270.67 275.32L270.74 274.53L270.81 274.03L270.88 275.65L270.96 271.59L271.03 272.46L271.1 273.19L271.17 274.34L271.24 274.7L271.31 273.73L271.38 274.28L271.46 273.8L271.53 272.68L271.6 274.87L271.67 274.01L271.74 274.98L271.81 274.67L271.88 275.65L271.95 275.74L272.03 275.52L272.1 273.41L272.17 275.19L272.24 274.48L272.31 277.88L272.38 275.83L272.45 276.18L272.52 274.51L272.6 277.68L272.67 275.75L272.74 275.37L272.81 273.28L272.88 273.94L272.95 276.38L273.02 275.18L273.09 275.39L273.17 273.98L273.24 276.99L273.31 274.82L273.38 273.45L273.45 275.69L273.52 276.05L273.59 275.79L273.67 276.04L273.74 277.7L273.81 277.71L273.88 273.7L273.95 277.35L274.02 276.37L274.09 277.19L274.16 278.44L274.24 276.82L274.31 277.68L274.38 276.89L274.45 276.02L274.52 277.65L274.59 277.44L274.66 277.38L274.73 277.92L274.81 278.44L274.88 278.86L274.95 275L275.02 275.89L275.09 276.51L275.16 276.68L275.23 276.79L275.3 277.24L275.38 277.8L275.45 277.19L275.52 277.68L275.59 280.09L275.66 276.59L275.73 277.29L275.8 277.48L275.87 276.93L275.95 277.36L276.02 277.75L276.09 278.21L276.16 276.9L276.23 279.85L276.3 277.5L276.37 278.31L276.45 277.33L276.52 276.48L276.59 279.35L276.66 277.51L276.73 277.02L276.8 277.32L276.87 278.47L276.94 277.78L277.02 277.26L277.09 277.64L277.16 275.83L277.23 279.79L277.3 279.19L277.37 277.1L277.44 276.16L277.51 276.8L277.59 279.24L277.66 278.17L277.73 277.08L277.8 278.45L277.87 279.17L277.94 280.11L278.01 278.44L278.08 280.51L278.16 278.25L278.23 280.63L278.3 279.11L278.37 278.89L278.44 276.87L278.51 278.13L278.58 277.94L278.66 276.8L278.73 280.76L278.8 279.34L278.87 278.87L278.94 279.31L279.01 279.09L279.08 279.92L279.15 279.53L279.23 278.44L279.3 279.04L279.37 278.25L279.44 280.57L279.51 278.68L279.58 278.68L279.65 280.5L279.72 278.57L279.8 280.3L279.87 281.51L279.94 277.24L280.01 280.68L280.08 279.14L280.15 279.52L280.22 280.96L280.29 280.29L280.37 278.14L280.44 282.76L280.51 278.66L280.58 280.76L280.65 280.98L280.72 279.33L280.79 277.85L280.86 280.44L280.94 278.04L281.01 279.79L281.08 278.91L281.15 280.7L281.22 280.73L281.29 282.16L281.36 281.98L281.44 279.59L281.51 280.25L281.58 280.91L281.65 280.77L281.72 279.25L281.79 281.39L281.86 280.39L281.93 281.04L282.01 280.19L282.08 282.21L282.15 279.96L282.22 281.63L282.29 279.7L282.36 281.11L282.43 282.12L282.5 281.35L282.58 283.87L282.65 279.52L282.72 282.44L282.79 280.79L282.86 282.12L282.93 282.43L283 280.17L283.07 279.16L283.15 279.2L283.22 282.43L283.29 280.7L283.36 281L283.43 282.05L283.5 278.8L283.57 283.07L283.65 283.43L283.72 282.6L283.79 282.73L283.86 281.29L283.93 282.12L284 281.69L284.07 281.2L284.14 282.08L284.22 283.65L284.29 281.19L284.36 283L284.43 281.64L284.5 281.91L284.57 281.93L284.64 281.3L284.71 280.91L284.79 281.92L284.86 281.19L284.93 281.64L285 282.33L285.07 282.83L285.14 282.81L285.21 281.63L285.28 281.42L285.36 283.08L285.43 281.82L285.5 281.28L285.57 285.23L285.64 281.33L285.71 281.05L285.78 280.93L285.85 283.04L285.93 283.44L286 283.01L286.07 281.39L286.14 283.76L286.21 281.23L286.28 281.35L286.35 282.48L286.43 282.83L286.5 283.86L286.57 284.54L286.64 283.51L286.71 283.86L286.78 285.57L286.85 284.08L286.92 283.04L287 281.69L287.07 283.47L287.14 283.2L287.21 282.6L287.28 283.76L287.35 284.39L287.42 283.76L287.49 282.66L287.57 282.32L287.64 284.7L287.71 282.33L287.78 283.99L287.85 283.44L287.92 283.39L287.99 283.41L288.06 283.04L288.14 284.89L288.21 283.76L288.28 283.94L288.35 285.22L288.42 285.13L288.49 282.62L288.56 283.98L288.64 284.19L288.71 283.33L288.78 283.17L288.85 284.54L288.92 284.02L288.99 283.61L289.06 282.42L289.13 282.66L289.21 284.32L289.28 282.35L289.35 285.71L289.42 284L289.49 283.78L289.56 283.91L289.63 285.84L289.7 285.68L289.78 283.14L289.85 283.5L289.92 284.04L289.99 283.07L290.06 285.2L290.13 283.44L290.2 282.94L290.27 284.69L290.35 283.49L290.42 282.04L290.49 285.33L290.56 284.99L290.63 283.45L290.7 285.27L290.77 284L290.84 284.75L290.92 284.9L290.99 284.56L291.06 286.47L291.13 283.18L291.2 284.46L291.27 285.35L291.34 285.11L291.42 283.89L291.49 286.43L291.56 284.82L291.63 285.68L291.7 285.62L291.77 286.08L291.84 284.44L291.91 284.68L291.99 285.86L292.06 284.95L292.13 287.05L292.2 284.39L292.27 284.75L292.34 285.49L292.41 286.61L292.48 282.99L292.56 286.51L292.63 285.69L292.7 285.97L292.77 284.11L292.84 285.46L292.91 286.49L292.98 287.46L293.05 286.15L293.13 287.67L293.2 286.64L293.27 284.97L293.34 286.47L293.41 286.8L293.48 285.97L293.55 286.52L293.63 286.95L293.7 286.81L293.77 284.91L293.84 287.95L293.91 285.31L293.98 285.62L294.05 284.91L294.12 286.56L294.2 286.36L294.27 286.03L294.34 284.92L294.41 286.17L294.48 287.86L294.55 285.86L294.62 286.88L294.69 286.16L294.77 287.28L294.84 286.23L294.91 285.82L294.98 284.05L295.05 285.97L295.12 287.06L295.19 287.72L295.26 286.56L295.34 285.84L295.41 287.27L295.48 287.49L295.55 287.19L295.62 286.3L295.69 288.84L295.76 288.94L295.83 289.77L295.91 287.97L295.98 288.48L296.05 286.99L296.12 286.81L296.19 286.54L296.26 286.12L296.33 286.64L296.41 288.22L296.48 287.61L296.55 286.73L296.62 287.97L296.69 287.12L296.76 286.98L296.83 287.89L296.9 286.03L296.98 286.72L297.05 288.23L297.12 287.09L297.19 287.68L297.26 289.38L297.33 289.94L297.4 287.14L297.47 288.73L297.55 286.11L297.62 287.34L297.69 286.67L297.76 288.01L297.83 286.65L297.9 285.59L297.97 288.73L298.04 290.43L298.12 287.33L298.19 287.21L298.26 287.2L298.33 288.55L298.4 289.3L298.47 288.27L298.54 287.68L298.62 289.19L298.69 286.67L298.76 287.71L298.83 288.42L298.9 288.71L298.97 289.46L299.04 287.18L299.11 287.51L299.19 285.89L299.26 290.95L299.33 288.47L299.4 288.14L299.47 289.09L299.54 289.35L299.61 288.22L299.68 289.68L299.76 287.68L299.83 288.83L299.9 288.11L299.97 288.91L300.04 289.42L300.11 288.79L300.18 288.51L300.25 288.52L300.33 289.53L300.4 288.84L300.47 288.74L300.54 288.61L300.61 288.26L300.68 288.84L300.75 287.76L300.82 287.88L300.9 288.19L300.97 288.27L301.04 288.72L301.11 291.1L301.18 290.04L301.25 286.85L301.32 287.77L301.4 287.92L301.47 287.69L301.54 290.15L301.61 288.83L301.68 288.94L301.75 287.14L301.82 290.69L301.89 290.03L301.97 288.69L302.04 289.89L302.11 290.2L302.18 288.96L302.25 289.19L302.32 288.17L302.39 288.75L302.46 290.28L302.54 291L302.61 288.88L302.68 289.92L302.75 289.19L302.82 290.26L302.89 289.5L302.96 287.59L303.03 291.17L303.11 290.08L303.18 290.66L303.25 289.6L303.32 290.04L303.39 288.76L303.46 289.33L303.53 288.73L303.61 287.21L303.68 290.25L303.75 289.23L303.82 288.72L303.89 287.84L303.96 291.26L304.03 288.38L304.1 289.82L304.18 289.87L304.25 289.72L304.32 290.51L304.39 290.18L304.46 288.35L304.53 291.7L304.6 290.66L304.67 291.44L304.75 291.1L304.82 290.52L304.89 289.52L304.96 291.54L305.03 289.1L305.1 289.06L305.17 290.41L305.24 289.19L305.32 290.4L305.39 289.67L305.46 289.21L305.53 290.21L305.6 290.8L305.67 290.06L305.74 289.73L305.81 291.52L305.89 291.45L305.96 291.27L306.03 290.93L306.1 290.62L306.17 289.84L306.24 290.36L306.31 290.39L306.39 290.82L306.46 291.29L306.53 290.94L306.6 292.08L306.67 290.16L306.74 290.84L306.81 292.21L306.88 291.97L306.96 289.89L307.03 289.57L307.1 292.28L307.17 290.95L307.24 289.86L307.31 291.51L307.38 291.03L307.45 289.55L307.53 291.84L307.6 290.9L307.67 290.18L307.74 290.37L307.81 291.74L307.88 289.86L307.95 290.22L308.02 292.6L308.1 291.93L308.17 290.45L308.24 290.08L308.31 290.31L308.38 292.28L308.45 289.27L308.52 291.2L308.6 289.16L308.67 290.79L308.74 289.6L308.81 290.7L308.88 290.48L308.95 291.99L309.02 291.59L309.09 292.07L309.17 290.51L309.24 290.92L309.31 291.9L309.38 292.09L309.45 292.75L309.52 290.81L309.59 291.34L309.66 294.06L309.74 291.18L309.81 291.76L309.88 292.3L309.95 292.36L310.02 291.1L310.09 292.05L310.16 292.03L310.23 292.82L310.31 291.83L310.38 294.08L310.45 290.48L310.52 290.25L310.59 291.32L310.66 291.86L310.73 292.3L310.8 290.4L310.88 291.88L310.95 290.19L311.02 291.91L311.09 290.66L311.16 291.69L311.23 291.43L311.3 292.45L311.38 289.95L311.45 292.26L311.52 291.84L311.59 294.18L311.66 292.09L311.73 290.63L311.8 292.01L311.87 292.07L311.95 294.41L312.02 293.07L312.09 292.24L312.16 292.36L312.23 291.24L312.3 291.37L312.37 291.36L312.44 292.66L312.52 292.58L312.59 293.53L312.66 293.86L312.73 292.54L312.8 292.31L312.87 291.94L312.94 293.22L313.01 292.54L313.09 292.02L313.16 291.95L313.23 292.98L313.3 291.23L313.37 293.26L313.44 291.88L313.51 291.59L313.59 291.18L313.66 292.96L313.73 292.54L313.8 293.24L313.87 294.16L313.94 293.67L314.01 291.65L314.08 292.19L314.16 293.02L314.23 291.54L314.3 291.25L314.37 293.7L314.44 292.42L314.51 292.72L314.58 292.3L314.65 293.96L314.73 292.19L314.8 291.84L314.87 292.6L314.94 291.9L315.01 292.38L315.08 292.9L315.15 292.61L315.22 291.72L315.3 293.62L315.37 292.1L315.44 291.75L315.51 292.45L315.58 295.04L315.65 294.28L315.72 293.89L315.79 293.61L315.87 292.85L315.94 292.55L316.01 292.99L316.08 295.38L316.15 295.09L316.22 294.13L316.29 294.55L316.37 293.31L316.44 292.32L316.51 292.11L316.58 291.94L316.65 292.13L316.72 292.47L316.79 292.63L316.86 292.35L316.94 293.62L317.01 291.9L317.08 293.78L317.15 293.37L317.22 294.01L317.29 293.42L317.36 293.98L317.43 293.18L317.51 292.55L317.58 295.17L317.65 294.08L317.72 292.73L317.79 294.18L317.86 292.11L317.93 294.43L318 293.26L318.08 293.75L318.15 294.46L318.22 293.56L318.29 294.42L318.36 293.11L318.43 293.25L318.5 295.98L318.58 291.47L318.65 293.8L318.72 295.19L318.79 294.35L318.86 293.85L318.93 292.12L319 290.85L319.07 292.85L319.15 293.31L319.22 293.77L319.29 293.44L319.36 293.66L319.43 294.12L319.5 294.42L319.57 294.8L319.64 293.35L319.72 291.67L319.79 294.92L319.86 293.43L319.93 293.48L320 294.43L320.07 294.08L320.14 293.06L320.21 294.52L320.29 293.61L320.36 293.07L320.43 293.47L320.5 293.17L320.57 293.38L320.64 294.09L320.71 293.11L320.78 296.35L320.86 296.36L320.93 292.45L321 293.13L321.07 294.39L321.14 294.77L321.21 293.7L321.28 291.22L321.36 292.74L321.43 293.7L321.5 292.97L321.57 292.63L321.64 293.68L321.71 294.46L321.78 295.6L321.85 294.33L321.93 294.32L322 293.88L322.07 294.22L322.14 294.06L322.21 294.67L322.28 291.95L322.35 294.06L322.42 296.06L322.5 293.21L322.57 292.45L322.64 292.53L322.71 293.96L322.78 296.47L322.85 295.6L322.92 294.58L322.99 294.8L323.07 295.87L323.14 294.62L323.21 293.86L323.28 294.54L323.35 293.8L323.42 294.8L323.49 294.73L323.57 295.7L323.64 293.03L323.71 292.81L323.78 295.06L323.85 293.15L323.92 295.07L323.99 295.47L324.06 292.36L324.14 295.02L324.21 295.68L324.28 292.94L324.35 295.53L324.42 295.03L324.49 295.19L324.56 293.95L324.63 292.03L324.71 295.53L324.78 293.89L324.85 293.94L324.92 292.78L324.99 294.07L325.06 293.95L325.13 294.83L325.2 293.99L325.28 294.01L325.35 293.8L325.42 295.38L325.49 294.99L325.56 296L325.63 293.11L325.7 294.25L325.77 295.58L325.85 295.36L325.92 295.46L325.99 293.27L326.06 295.83L326.13 293.49L326.2 295.33L326.27 294.65L326.35 293.86L326.42 292.82L326.49 293.87L326.56 293.47L326.63 294.77L326.7 294.23L326.77 294.81L326.84 294.44L326.92 293.47L326.99 296.82L327.06 294.51L327.13 295.05L327.2 295.56L327.27 296.23L327.34 296.7L327.41 294.22L327.49 296L327.56 294.82L327.63 295.02L327.7 295.98L327.77 293.23L327.84 294.22L327.91 294.37L327.98 296.41L328.06 292.8L328.13 292.93L328.2 293.73L328.27 295.83L328.34 295.24L328.41 296.72L328.48 294.05L328.56 294.18L328.63 295.28L328.7 293.94L328.77 295.21L328.84 294.67L328.91 293.45L328.98 296.47L329.05 296.36L329.13 294.83L329.2 293.69L329.27 296.56L329.34 292.88L329.41 295.82L329.48 295.14L329.55 294.14L329.62 294.11L329.7 296.08L329.77 294.17L329.84 296.92L329.91 295.49L329.98 296.52L330.05 295.78L330.12 295.56L330.19 297.57L330.27 295.51L330.34 297.71L330.41 295.42L330.48 295.28L330.55 294.14L330.62 294.86L330.69 295.71L330.76 293.53L330.84 294.73L330.91 294.12L330.98 295.19L331.05 294.08L331.12 296.26L331.19 295.31L331.26 294.38L331.34 294.83L331.41 294.85L331.48 295.59L331.55 295.77L331.62 295.5L331.69 295.84L331.76 294.5L331.83 296.4L331.91 294.46L331.98 295.56L332.05 296.34L332.12 295.07L332.19 294.55L332.26 294.96L332.33 295.24L332.4 294.27L332.48 296.15L332.55 297L332.62 294.02L332.69 296.47L332.76 296.51L332.83 295.27L332.9 295.11L332.97 295.02L333.05 295.94L333.12 296.51L333.19 295.27L333.26 297.88L333.33 295.66L333.4 294.55L333.47 294.9L333.55 296.1L333.62 294.53L333.69 294.64L333.76 294.31L333.83 296.23L333.9 294.93L333.97 295.91L334.04 297.48L334.12 295.37L334.19 295.18L334.26 298.18L334.33 294.18L334.4 294.91L334.47 295.64L334.54 295.22L334.61 297.42L334.69 295.5L334.76 295.31L334.83 293.31L334.9 295.36L334.97 296.01L335.04 295.27L335.11 295.9L335.18 296.02L335.26 295.35L335.33 296.62L335.4 295.74L335.47 297.97L335.54 294.5L335.61 294.84L335.68 294.7L335.75 295.62L335.83 294.4L335.9 295L335.97 294.38L336.04 295.23L336.11 296.17L336.18 298.39L336.25 295.06L336.33 295.17L336.4 295.62L336.47 295.21L336.54 296.32L336.61 296.65L336.68 295.85L336.75 295.75L336.82 296.07L336.9 297.57L336.97 298.48L337.04 297.14L337.11 295.66L337.18 297.62L337.25 295.92L337.32 295.98L337.39 297.1L337.47 297.04L337.54 297.34L337.61 295.95L337.68 295.57L337.75 295.51L337.82 295.94L337.89 295.85L337.96 297.5L338.04 294.85L338.11 293.46L338.18 295.96L338.25 294.86L338.32 295.56L338.39 298.63L338.46 296.7L338.54 294.75L338.61 295.14L338.68 298.59L338.75 297.92L338.82 296.96L338.89 296.75L338.96 297.02L339.03 298.7L339.11 295.02L339.18 296.42L339.25 296.28L339.32 295.4L339.39 295.76L339.46 296.76L339.53 295.43L339.6 295.34L339.68 294.06L339.75 297.22L339.82 297.67L339.89 295.81L339.96 295.9L340.03 295.92L340.1 294.4L340.17 295.3L340.25 296.36L340.32 296.68L340.39 295.67L340.46 295.49L340.53 296.94L340.6 297.28L340.67 294.38L340.74 295.86L340.82 296.73L340.89 296.92L340.96 294.92L341.03 297.2L341.1 295.87L341.17 297.23L341.24 296.55L341.32 296.42L341.39 295.59L341.46 297.95L341.53 296.03L341.6 296.4L341.67 295.75L341.74 298.91L341.81 296.3L341.89 295.55L341.96 295.54L342.03 295.67L342.1 296.74L342.17 294.86L342.24 295.98L342.31 297.5L342.38 297.56L342.46 296.44L342.53 295.61L342.6 295.34L342.67 296.7L342.74 296.94L342.81 295.57L342.88 295.68L342.95 296.09L343.03 296.46L343.1 297.57L343.17 298.83L343.24 297.2L343.31 297.94L343.38 299.15L343.45 294.25L343.53 297.59L343.6 297.55L343.67 295.18L343.74 296.34L343.81 296.45L343.88 297.16L343.95 296.97L344.02 295.04L344.1 296.38L344.17 295.39L344.24 298.59L344.31 296.12L344.38 296.34L344.45 298.81L344.52 295.83L344.59 297.19L344.67 296.17L344.74 296.18L344.81 298.51L344.88 298.04L344.95 296.49L345.02 297.14L345.09 295.06L345.16 297.99L345.24 296.85L345.31 297.72L345.38 296.85L345.45 296.99L345.52 296.68L345.59 297.63L345.66 295.99L345.73 296.96L345.81 296.87L345.88 296.06L345.95 297.29L346.02 295.95L346.09 296.03L346.16 297.16L346.23 297.55L346.31 296.58L346.38 298.02L346.45 294.78L346.52 297.31L346.59 296.84L346.66 297.36L346.73 296.49L346.8 296.93L346.88 297.72L346.95 296.41L347.02 295.89L347.09 297.64L347.16 296.88L347.23 297.19L347.3 295.87L347.37 298.38L347.45 297.06L347.52 297.96L347.59 297.15L347.66 296.92L347.73 297.71L347.8 298.39L347.87 298.44L347.94 297.36L348.02 296.41L348.09 298.21L348.16 298.28L348.23 298.19L348.3 297.45L348.37 297.91L348.44 296.6L348.52 296.45L348.59 298.02L348.66 297.31L348.73 294.56L348.8 298.42L348.87 296.65L348.94 298.12L349.01 297.11L349.09 298.26L349.16 296L349.23 295.77L349.3 297.03L349.37 296.34L349.44 298.6L349.51 296.98L349.58 295.69L349.66 295.68L349.73 296.93L349.8 295.78L349.87 298.47L349.94 297.57L350.01 297.46L350.08 298.17L350.15 296.76L350.23 298.01L350.3 297.31L350.37 298.05L350.44 297.23L350.51 298.56L350.58 297.13L350.65 297.01L350.72 298.25L350.8 296.41L350.87 297.58L350.94 299.07L351.01 296.39L351.08 297.34L351.15 296.62L351.22 296.73L351.3 298.06L351.37 296.61L351.44 298.67L351.51 297.28L351.58 297.68L351.65 298.45L351.72 298.07L351.79 299.7L351.87 297.05L351.94 299.1L352.01 296.92L352.08 299.16L352.15 297.84L352.22 296.55L352.29 298.37L352.36 298.15L352.44 297.8L352.51 298.52L352.58 298.85L352.65 298.22L352.72 297.2L352.79 295.86L352.86 296.47L352.93 296.73L353.01 298.27L353.08 296.77L353.15 297.94L353.22 296.27L353.29 299.01L353.36 298.58L353.43 298.59L353.51 296.88L353.58 295.95L353.65 299.09L353.72 295.03L353.79 298.74L353.86 298.34L353.93 297.53L354 298.67L354.08 296.17L354.15 297.91L354.22 296.48L354.29 299.32L354.36 298.55L354.43 296.19L354.5 298.03L354.57 296.06L354.65 299.08L354.72 298.61L354.79 298.32L354.86 295.51L354.93 298.49L355 297.97L355.07 297.24L355.14 296.87L355.22 296.92L355.29 297.68L355.36 296.91L355.43 298.27L355.5 299.21L355.57 298.84L355.64 296.72L355.71 298.14L355.79 297.13L355.86 299.8L355.93 298.26L356 297.63" fill="none" stroke="#565656" stroke-width="0.7" stroke-linejoin="round"/>
</g>
<rect x="213.5" y="185.8" width="142.5" height="123.1" fill="none" stroke="#222" stroke-width="1"/>
<line x1="213.5" y1="308.9" x2="213.5" y2="310.1" stroke="#222" stroke-width="0.8"/>
<line x1="231.31" y1="308.9" x2="231.31" y2="310.9" stroke="#222" stroke-width="0.8"/>
<text class="tk" x="231.31" y="318.1">20</text>
<line x1="249.12" y1="308.9" x2="249.12" y2="310.1" stroke="#222" stroke-width="0.8"/>
<line x1="266.94" y1="308.9" x2="266.94" y2="310.9" stroke="#222" stroke-width="0.8"/>
<text class="tk" x="266.94" y="318.1">40</text>
<line x1="284.75" y1="308.9" x2="284.75" y2="310.1" stroke="#222" stroke-width="0.8"/>
<line x1="302.56" y1="308.9" x2="302.56" y2="310.9" stroke="#222" stroke-width="0.8"/>
<text class="tk" x="302.56" y="318.1">60</text>
<line x1="320.38" y1="308.9" x2="320.38" y2="310.1" stroke="#222" stroke-width="0.8"/>
<line x1="338.19" y1="308.9" x2="338.19" y2="310.9" stroke="#222" stroke-width="0.8"/>
<text class="tk" x="338.19" y="318.1">80</text>
<line x1="356" y1="308.9" x2="356" y2="310.1" stroke="#222" stroke-width="0.8"/>
<text class="ax" x="284.75" y="331.7">2θ (degree)</text>
<text class="ax" transform="translate(206.4 247.35) rotate(-90)">Intensity (a.u.)</text>
<text class="lb" x="332" y="205.9">CDs</text>
</g>
<g>
<g clip-path="url(#ce)">
<g fill="#fff" stroke="#666" stroke-width="0.5">
<circle cx="393" cy="133.8" r="1.05"/>
<circle cx="393.21" cy="133.82" r="1.05"/>
<circle cx="393.42" cy="133.85" r="1.05"/>
<circle cx="393.63" cy="133.88" r="1.05"/>
<circle cx="393.84" cy="133.91" r="1.05"/>
<circle cx="394.05" cy="133.94" r="1.05"/>
<circle cx="394.26" cy="133.97" r="1.05"/>
<circle cx="394.47" cy="134" r="1.05"/>
<circle cx="394.68" cy="134.03" r="1.05"/>
<circle cx="394.89" cy="134.06" r="1.05"/>
<circle cx="395.1" cy="134.09" r="1.05"/>
<circle cx="395.31" cy="134.12" r="1.05"/>
<circle cx="395.52" cy="134.14" r="1.05"/>
<circle cx="395.73" cy="134.17" r="1.05"/>
<circle cx="395.94" cy="134.2" r="1.05"/>
<circle cx="396.15" cy="134.23" r="1.05"/>
<circle cx="396.36" cy="134.25" r="1.05"/>
<circle cx="396.57" cy="134.28" r="1.05"/>
<circle cx="396.79" cy="134.3" r="1.05"/>
<circle cx="397" cy="134.32" r="1.05"/>
<circle cx="397.21" cy="134.34" r="1.05"/>
<circle cx="397.42" cy="134.36" r="1.05"/>
<circle cx="397.63" cy="134.38" r="1.05"/>
<circle cx="397.84" cy="134.4" r="1.05"/>
<circle cx="398.05" cy="134.42" r="1.05"/>
<circle cx="398.26" cy="134.43" r="1.05"/>
<circle cx="398.47" cy="134.44" r="1.05"/>
<circle cx="398.68" cy="134.45" r="1.05"/>
<circle cx="398.89" cy="134.46" r="1.05"/>
<circle cx="399.1" cy="134.47" r="1.05"/>
<circle cx="399.31" cy="134.47" r="1.05"/>
<circle cx="399.52" cy="134.47" r="1.05"/>
<circle cx="399.73" cy="134.47" r="1.05"/>
<circle cx="399.94" cy="134.46" r="1.05"/>
<circle cx="400.15" cy="134.46" r="1.05"/>
<circle cx="400.36" cy="134.45" r="1.05"/>
<circle cx="400.57" cy="134.43" r="1.05"/>
<circle cx="400.78" cy="134.42" r="1.05"/>
<circle cx="400.99" cy="134.4" r="1.05"/>
<circle cx="401.2" cy="134.38" r="1.05"/>
<circle cx="401.41" cy="134.36" r="1.05"/>
<circle cx="401.62" cy="134.34" r="1.05"/>
<circle cx="401.83" cy="134.32" r="1.05"/>
<circle cx="402.04" cy="134.29" r="1.05"/>
<circle cx="402.25" cy="134.26" r="1.05"/>
<circle cx="402.46" cy="134.23" r="1.05"/>
<circle cx="402.67" cy="134.2" r="1.05"/>
<circle cx="402.88" cy="134.17" r="1.05"/>
<circle cx="403.09" cy="134.13" r="1.05"/>
<circle cx="403.3" cy="134.1" r="1.05"/>
<circle cx="403.51" cy="134.06" r="1.05"/>
<circle cx="403.73" cy="134.02" r="1.05"/>
<circle cx="403.94" cy="133.98" r="1.05"/>
<circle cx="404.15" cy="133.93" r="1.05"/>
<circle cx="404.36" cy="133.89" r="1.05"/>
<circle cx="404.57" cy="133.84" r="1.05"/>
<circle cx="404.78" cy="133.79" r="1.05"/>
<circle cx="404.99" cy="133.74" r="1.05"/>
<circle cx="405.2" cy="133.69" r="1.05"/>
<circle cx="405.41" cy="133.63" r="1.05"/>
<circle cx="405.62" cy="133.57" r="1.05"/>
<circle cx="405.83" cy="133.51" r="1.05"/>
<circle cx="406.04" cy="133.45" r="1.05"/>
<circle cx="406.25" cy="133.39" r="1.05"/>
<circle cx="406.46" cy="133.32" r="1.05"/>
<circle cx="406.67" cy="133.25" r="1.05"/>
<circle cx="406.88" cy="133.18" r="1.05"/>
<circle cx="407.09" cy="133.1" r="1.05"/>
<circle cx="407.3" cy="133.02" r="1.05"/>
<circle cx="407.51" cy="132.94" r="1.05"/>
<circle cx="407.72" cy="132.86" r="1.05"/>
<circle cx="407.93" cy="132.77" r="1.05"/>
<circle cx="408.14" cy="132.68" r="1.05"/>
<circle cx="408.35" cy="132.58" r="1.05"/>
<circle cx="408.56" cy="132.47" r="1.05"/>
<circle cx="408.77" cy="132.36" r="1.05"/>
<circle cx="408.98" cy="132.25" r="1.05"/>
<circle cx="409.19" cy="132.12" r="1.05"/>
<circle cx="409.4" cy="131.99" r="1.05"/>
<circle cx="409.61" cy="131.85" r="1.05"/>
<circle cx="409.82" cy="131.71" r="1.05"/>
<circle cx="410.03" cy="131.56" r="1.05"/>
<circle cx="410.24" cy="131.41" r="1.05"/>
<circle cx="410.45" cy="131.25" r="1.05"/>
<circle cx="410.66" cy="131.08" r="1.05"/>
<circle cx="410.88" cy="130.92" r="1.05"/>
<circle cx="411.09" cy="130.74" r="1.05"/>
<circle cx="411.3" cy="130.57" r="1.05"/>
<circle cx="411.51" cy="130.39" r="1.05"/>
<circle cx="411.72" cy="130.21" r="1.05"/>
<circle cx="411.93" cy="130.03" r="1.05"/>
<circle cx="412.14" cy="129.85" r="1.05"/>
<circle cx="412.35" cy="129.66" r="1.05"/>
<circle cx="412.56" cy="129.48" r="1.05"/>
<circle cx="412.77" cy="129.29" r="1.05"/>
<circle cx="412.98" cy="129.11" r="1.05"/>
<circle cx="413.19" cy="128.93" r="1.05"/>
<circle cx="413.4" cy="128.75" r="1.05"/>
<circle cx="413.61" cy="128.57" r="1.05"/>
<circle cx="413.82" cy="128.4" r="1.05"/>
<circle cx="414.03" cy="128.23" r="1.05"/>
<circle cx="414.24" cy="128.06" r="1.05"/>
<circle cx="414.45" cy="127.89" r="1.05"/>
<circle cx="414.66" cy="127.72" r="1.05"/>
<circle cx="414.87" cy="127.56" r="1.05"/>
<circle cx="415.08" cy="127.39" r="1.05"/>
<circle cx="415.29" cy="127.23" r="1.05"/>
<circle cx="415.5" cy="127.07" r="1.05"/>
<circle cx="415.71" cy="126.91" r="1.05"/>
<circle cx="415.92" cy="126.76" r="1.05"/>
<circle cx="416.13" cy="126.6" r="1.05"/>
<circle cx="416.34" cy="126.44" r="1.05"/>
<circle cx="416.55" cy="126.28" r="1.05"/>
<circle cx="416.76" cy="126.12" r="1.05"/>
<circle cx="416.97" cy="125.96" r="1.05"/>
<circle cx="417.18" cy="125.8" r="1.05"/>
<circle cx="417.39" cy="125.63" r="1.05"/>
<circle cx="417.6" cy="125.46" r="1.05"/>
<circle cx="417.81" cy="125.29" r="1.05"/>
<circle cx="418.02" cy="125.12" r="1.05"/>
<circle cx="418.24" cy="124.94" r="1.05"/>
<circle cx="418.45" cy="124.76" r="1.05"/>
<circle cx="418.66" cy="124.57" r="1.05"/>
<circle cx="418.87" cy="124.38" r="1.05"/>
<circle cx="419.08" cy="124.19" r="1.05"/>
<circle cx="419.29" cy="124" r="1.05"/>
<circle cx="419.5" cy="123.8" r="1.05"/>
<circle cx="419.71" cy="123.6" r="1.05"/>
<circle cx="419.92" cy="123.39" r="1.05"/>
<circle cx="420.13" cy="123.19" r="1.05"/>
<circle cx="420.34" cy="122.98" r="1.05"/>
<circle cx="420.55" cy="122.77" r="1.05"/>
<circle cx="420.76" cy="122.57" r="1.05"/>
<circle cx="420.97" cy="122.36" r="1.05"/>
<circle cx="421.18" cy="122.15" r="1.05"/>
<circle cx="421.39" cy="121.94" r="1.05"/>
<circle cx="421.6" cy="121.73" r="1.05"/>
<circle cx="421.81" cy="121.52" r="1.05"/>
<circle cx="422.02" cy="121.31" r="1.05"/>
<circle cx="422.23" cy="121.09" r="1.05"/>
<circle cx="422.44" cy="120.88" r="1.05"/>
<circle cx="422.65" cy="120.67" r="1.05"/>
<circle cx="422.86" cy="120.45" r="1.05"/>
<circle cx="423.07" cy="120.23" r="1.05"/>
<circle cx="423.28" cy="120.02" r="1.05"/>
<circle cx="423.49" cy="119.79" r="1.05"/>
<circle cx="423.7" cy="119.57" r="1.05"/>
<circle cx="423.91" cy="119.34" r="1.05"/>
<circle cx="424.12" cy="119.11" r="1.05"/>
<circle cx="424.33" cy="118.88" r="1.05"/>
<circle cx="424.54" cy="118.64" r="1.05"/>
<circle cx="424.75" cy="118.39" r="1.05"/>
<circle cx="424.96" cy="118.14" r="1.05"/>
<circle cx="425.18" cy="117.89" r="1.05"/>
<circle cx="425.39" cy="117.62" r="1.05"/>
<circle cx="425.6" cy="117.35" r="1.05"/>
<circle cx="425.81" cy="117.07" r="1.05"/>
<circle cx="426.02" cy="116.77" r="1.05"/>
<circle cx="426.23" cy="116.47" r="1.05"/>
<circle cx="426.44" cy="116.16" r="1.05"/>
<circle cx="426.65" cy="115.83" r="1.05"/>
<circle cx="426.86" cy="115.49" r="1.05"/>
<circle cx="427.07" cy="115.13" r="1.05"/>
<circle cx="427.28" cy="114.76" r="1.05"/>
<circle cx="427.49" cy="114.37" r="1.05"/>
<circle cx="427.7" cy="113.96" r="1.05"/>
<circle cx="427.91" cy="113.54" r="1.05"/>
<circle cx="428.12" cy="113.09" r="1.05"/>
<circle cx="428.33" cy="112.62" r="1.05"/>
<circle cx="428.54" cy="112.13" r="1.05"/>
<circle cx="428.75" cy="111.62" r="1.05"/>
<circle cx="428.96" cy="111.08" r="1.05"/>
<circle cx="429.17" cy="110.51" r="1.05"/>
<circle cx="429.38" cy="109.92" r="1.05"/>
<circle cx="429.59" cy="109.29" r="1.05"/>
<circle cx="429.8" cy="108.64" r="1.05"/>
<circle cx="430.01" cy="107.96" r="1.05"/>
<circle cx="430.22" cy="107.24" r="1.05"/>
<circle cx="430.43" cy="106.5" r="1.05"/>
<circle cx="430.64" cy="105.72" r="1.05"/>
<circle cx="430.85" cy="104.9" r="1.05"/>
<circle cx="431.06" cy="104.05" r="1.05"/>
<circle cx="431.27" cy="103.17" r="1.05"/>
<circle cx="431.48" cy="102.25" r="1.05"/>
<circle cx="431.69" cy="101.29" r="1.05"/>
<circle cx="431.9" cy="100.29" r="1.05"/>
<circle cx="432.11" cy="99.26" r="1.05"/>
<circle cx="432.32" cy="98.19" r="1.05"/>
<circle cx="432.54" cy="97.08" r="1.05"/>
<circle cx="432.75" cy="95.94" r="1.05"/>
<circle cx="432.96" cy="94.76" r="1.05"/>
<circle cx="433.17" cy="93.54" r="1.05"/>
<circle cx="433.38" cy="92.28" r="1.05"/>
<circle cx="433.59" cy="90.99" r="1.05"/>
<circle cx="433.8" cy="89.66" r="1.05"/>
<circle cx="434.01" cy="88.29" r="1.05"/>
<circle cx="434.22" cy="86.9" r="1.05"/>
<circle cx="434.43" cy="85.47" r="1.05"/>
<circle cx="434.64" cy="84.01" r="1.05"/>
<circle cx="434.85" cy="82.52" r="1.05"/>
<circle cx="435.06" cy="81" r="1.05"/>
<circle cx="435.27" cy="79.45" r="1.05"/>
<circle cx="435.48" cy="77.88" r="1.05"/>
<circle cx="435.69" cy="76.29" r="1.05"/>
<circle cx="435.9" cy="74.68" r="1.05"/>
<circle cx="436.11" cy="73.04" r="1.05"/>
<circle cx="436.32" cy="71.4" r="1.05"/>
<circle cx="436.53" cy="69.74" r="1.05"/>
<circle cx="436.74" cy="68.07" r="1.05"/>
<circle cx="436.95" cy="66.39" r="1.05"/>
<circle cx="437.16" cy="64.71" r="1.05"/>
<circle cx="437.37" cy="63.02" r="1.05"/>
<circle cx="437.58" cy="61.34" r="1.05"/>
<circle cx="437.79" cy="59.66" r="1.05"/>
<circle cx="438" cy="57.99" r="1.05"/>
<circle cx="438.21" cy="56.34" r="1.05"/>
<circle cx="438.42" cy="54.69" r="1.05"/>
<circle cx="438.63" cy="53.07" r="1.05"/>
<circle cx="438.84" cy="51.47" r="1.05"/>
<circle cx="439.05" cy="49.89" r="1.05"/>
<circle cx="439.26" cy="48.34" r="1.05"/>
<circle cx="439.48" cy="46.83" r="1.05"/>
<circle cx="439.69" cy="45.35" r="1.05"/>
<circle cx="439.9" cy="43.91" r="1.05"/>
<circle cx="440.11" cy="42.51" r="1.05"/>
<circle cx="440.32" cy="41.16" r="1.05"/>
<circle cx="440.53" cy="39.85" r="1.05"/>
<circle cx="440.74" cy="38.6" r="1.05"/>
<circle cx="440.95" cy="37.4" r="1.05"/>
<circle cx="441.16" cy="36.25" r="1.05"/>
<circle cx="441.37" cy="35.16" r="1.05"/>
<circle cx="441.58" cy="34.13" r="1.05"/>
<circle cx="441.79" cy="33.16" r="1.05"/>
<circle cx="442" cy="32.26" r="1.05"/>
<circle cx="442.21" cy="31.43" r="1.05"/>
<circle cx="442.42" cy="30.67" r="1.05"/>
<circle cx="442.63" cy="29.99" r="1.05"/>
<circle cx="442.84" cy="29.39" r="1.05"/>
<circle cx="443.05" cy="28.89" r="1.05"/>
<circle cx="443.26" cy="28.48" r="1.05"/>
<circle cx="443.47" cy="28.16" r="1.05"/>
<circle cx="443.68" cy="27.93" r="1.05"/>
<circle cx="443.89" cy="27.8" r="1.05"/>
<circle cx="444.1" cy="27.75" r="1.05"/>
<circle cx="444.31" cy="27.81" r="1.05"/>
<circle cx="444.52" cy="27.96" r="1.05"/>
<circle cx="444.73" cy="28.21" r="1.05"/>
<circle cx="444.94" cy="28.58" r="1.05"/>
<circle cx="445.15" cy="29.04" r="1.05"/>
<circle cx="445.36" cy="29.6" r="1.05"/>
<circle cx="445.57" cy="30.25" r="1.05"/>
<circle cx="445.78" cy="31" r="1.05"/>
<circle cx="445.99" cy="31.84" r="1.05"/>
<circle cx="446.2" cy="32.75" r="1.05"/>
<circle cx="446.41" cy="33.75" r="1.05"/>
<circle cx="446.62" cy="34.83" r="1.05"/>
<circle cx="446.84" cy="35.98" r="1.05"/>
<circle cx="447.05" cy="37.21" r="1.05"/>
<circle cx="447.26" cy="38.51" r="1.05"/>
<circle cx="447.47" cy="39.87" r="1.05"/>
<circle cx="447.68" cy="41.29" r="1.05"/>
<circle cx="447.89" cy="42.77" r="1.05"/>
<circle cx="448.1" cy="44.31" r="1.05"/>
<circle cx="448.31" cy="45.89" r="1.05"/>
<circle cx="448.52" cy="47.52" r="1.05"/>
<circle cx="448.73" cy="49.2" r="1.05"/>
<circle cx="448.94" cy="50.91" r="1.05"/>
<circle cx="449.15" cy="52.65" r="1.05"/>
<circle cx="449.36" cy="54.41" r="1.05"/>
<circle cx="449.57" cy="56.2" r="1.05"/>
<circle cx="449.78" cy="58.01" r="1.05"/>
<circle cx="449.99" cy="59.83" r="1.05"/>
<circle cx="450.2" cy="61.65" r="1.05"/>
<circle cx="450.41" cy="63.48" r="1.05"/>
<circle cx="450.62" cy="65.31" r="1.05"/>
<circle cx="450.83" cy="67.12" r="1.05"/>
<circle cx="451.04" cy="68.93" r="1.05"/>
<circle cx="451.25" cy="70.72" r="1.05"/>
<circle cx="451.46" cy="72.48" r="1.05"/>
<circle cx="451.67" cy="74.22" r="1.05"/>
<circle cx="451.88" cy="75.93" r="1.05"/>
<circle cx="452.09" cy="77.6" r="1.05"/>
<circle cx="452.3" cy="79.23" r="1.05"/>
<circle cx="452.51" cy="80.82" r="1.05"/>
<circle cx="452.72" cy="82.35" r="1.05"/>
<circle cx="452.93" cy="83.84" r="1.05"/>
<circle cx="453.14" cy="85.27" r="1.05"/>
<circle cx="453.35" cy="86.64" r="1.05"/>
<circle cx="453.56" cy="87.95" r="1.05"/>
<circle cx="453.77" cy="89.2" r="1.05"/>
<circle cx="453.99" cy="90.38" r="1.05"/>
<circle cx="454.2" cy="91.49" r="1.05"/>
<circle cx="454.41" cy="92.53" r="1.05"/>
<circle cx="454.62" cy="93.51" r="1.05"/>
<circle cx="454.83" cy="94.41" r="1.05"/>
<circle cx="455.04" cy="95.23" r="1.05"/>
<circle cx="455.25" cy="95.99" r="1.05"/>
<circle cx="455.46" cy="96.68" r="1.05"/>
<circle cx="455.67" cy="97.29" r="1.05"/>
<circle cx="455.88" cy="97.84" r="1.05"/>
<circle cx="456.09" cy="98.31" r="1.05"/>
<circle cx="456.3" cy="98.72" r="1.05"/>
<circle cx="456.51" cy="99.07" r="1.05"/>
<circle cx="456.72" cy="99.36" r="1.05"/>
<circle cx="456.93" cy="99.59" r="1.05"/>
<circle cx="457.14" cy="99.76" r="1.05"/>
<circle cx="457.35" cy="99.89" r="1.05"/>
<circle cx="457.56" cy="99.97" r="1.05"/>
<circle cx="457.77" cy="100" r="1.05"/>
<circle cx="457.98" cy="100" r="1.05"/>
<circle cx="458.19" cy="99.97" r="1.05"/>
<circle cx="458.4" cy="99.91" r="1.05"/>
<circle cx="458.61" cy="99.82" r="1.05"/>
<circle cx="458.82" cy="99.72" r="1.05"/>
<circle cx="459.03" cy="99.6" r="1.05"/>
<circle cx="459.24" cy="99.48" r="1.05"/>
<circle cx="459.45" cy="99.35" r="1.05"/>
<circle cx="459.66" cy="99.22" r="1.05"/>
<circle cx="459.87" cy="99.09" r="1.05"/>
<circle cx="460.08" cy="98.97" r="1.05"/>
<circle cx="460.29" cy="98.86" r="1.05"/>
<circle cx="460.5" cy="98.77" r="1.05"/>
<circle cx="460.71" cy="98.69" r="1.05"/>
<circle cx="460.93" cy="98.64" r="1.05"/>
<circle cx="461.14" cy="98.6" r="1.05"/>
<circle cx="461.35" cy="98.59" r="1.05"/>
<circle cx="461.56" cy="98.6" r="1.05"/>
<circle cx="461.77" cy="98.63" r="1.05"/>
<circle cx="461.98" cy="98.68" r="1.05"/>
<circle cx="462.19" cy="98.76" r="1.05"/>
<circle cx="462.4" cy="98.86" r="1.05"/>
<circle cx="462.61" cy="98.98" r="1.05"/>
<circle cx="462.82" cy="99.12" r="1.05"/>
<circle cx="463.03" cy="99.27" r="1.05"/>
<circle cx="463.24" cy="99.44" r="1.05"/>
<circle cx="463.45" cy="99.61" r="1.05"/>
<circle cx="463.66" cy="99.78" r="1.05"/>
<circle cx="463.87" cy="99.96" r="1.05"/>
<circle cx="464.08" cy="100.13" r="1.05"/>
<circle cx="464.29" cy="100.29" r="1.05"/>
<circle cx="464.5" cy="100.44" r="1.05"/>
<circle cx="464.71" cy="100.57" r="1.05"/>
<circle cx="464.92" cy="100.68" r="1.05"/>
<circle cx="465.13" cy="100.76" r="1.05"/>
<circle cx="465.34" cy="100.81" r="1.05"/>
<circle cx="465.55" cy="100.82" r="1.05"/>
<circle cx="465.76" cy="100.78" r="1.05"/>
<circle cx="465.97" cy="100.7" r="1.05"/>
<circle cx="466.18" cy="100.57" r="1.05"/>
<circle cx="466.39" cy="100.38" r="1.05"/>
<circle cx="466.6" cy="100.13" r="1.05"/>
<circle cx="466.81" cy="99.82" r="1.05"/>
<circle cx="467.02" cy="99.45" r="1.05"/>
<circle cx="467.23" cy="99.01" r="1.05"/>
<circle cx="467.44" cy="98.5" r="1.05"/>
<circle cx="467.65" cy="97.91" r="1.05"/>
<circle cx="467.86" cy="97.26" r="1.05"/>
<circle cx="468.07" cy="96.52" r="1.05"/>
<circle cx="468.29" cy="95.72" r="1.05"/>
<circle cx="468.5" cy="94.84" r="1.05"/>
<circle cx="468.71" cy="93.88" r="1.05"/>
<circle cx="468.92" cy="92.86" r="1.05"/>
<circle cx="469.13" cy="91.75" r="1.05"/>
<circle cx="469.34" cy="90.58" r="1.05"/>
<circle cx="469.55" cy="89.34" r="1.05"/>
<circle cx="469.76" cy="88.03" r="1.05"/>
<circle cx="469.97" cy="86.66" r="1.05"/>
<circle cx="470.18" cy="85.23" r="1.05"/>
<circle cx="470.39" cy="83.74" r="1.05"/>
<circle cx="470.6" cy="82.19" r="1.05"/>
<circle cx="470.81" cy="80.6" r="1.05"/>
<circle cx="471.02" cy="78.95" r="1.05"/>
<circle cx="471.23" cy="77.27" r="1.05"/>
<circle cx="471.44" cy="75.55" r="1.05"/>
<circle cx="471.65" cy="73.8" r="1.05"/>
<circle cx="471.86" cy="72.02" r="1.05"/>
<circle cx="472.07" cy="70.22" r="1.05"/>
<circle cx="472.28" cy="68.4" r="1.05"/>
<circle cx="472.49" cy="66.56" r="1.05"/>
<circle cx="472.7" cy="64.72" r="1.05"/>
<circle cx="472.91" cy="62.88" r="1.05"/>
<circle cx="473.12" cy="61.04" r="1.05"/>
<circle cx="473.33" cy="59.21" r="1.05"/>
<circle cx="473.54" cy="57.39" r="1.05"/>
<circle cx="473.75" cy="55.59" r="1.05"/>
<circle cx="473.96" cy="53.81" r="1.05"/>
<circle cx="474.17" cy="52.06" r="1.05"/>
<circle cx="474.38" cy="50.33" r="1.05"/>
<circle cx="474.59" cy="48.64" r="1.05"/>
<circle cx="474.8" cy="46.99" r="1.05"/>
<circle cx="475.01" cy="45.39" r="1.05"/>
<circle cx="475.23" cy="43.84" r="1.05"/>
<circle cx="475.44" cy="42.35" r="1.05"/>
<circle cx="475.65" cy="40.93" r="1.05"/>
<circle cx="475.86" cy="39.59" r="1.05"/>
<circle cx="476.07" cy="38.32" r="1.05"/>
<circle cx="476.28" cy="37.12" r="1.05"/>
<circle cx="476.49" cy="35.98" r="1.05"/>
<circle cx="476.7" cy="34.9" r="1.05"/>
<circle cx="476.91" cy="33.89" r="1.05"/>
<circle cx="477.12" cy="32.94" r="1.05"/>
<circle cx="477.33" cy="32.06" r="1.05"/>
<circle cx="477.54" cy="31.26" r="1.05"/>
<circle cx="477.75" cy="30.55" r="1.05"/>
<circle cx="477.96" cy="29.93" r="1.05"/>
<circle cx="478.17" cy="29.43" r="1.05"/>
<circle cx="478.38" cy="29.06" r="1.05"/>
<circle cx="478.59" cy="28.83" r="1.05"/>
<circle cx="478.8" cy="28.74" r="1.05"/>
<circle cx="479.01" cy="28.81" r="1.05"/>
<circle cx="479.22" cy="29.03" r="1.05"/>
<circle cx="479.43" cy="29.4" r="1.05"/>
<circle cx="479.64" cy="29.91" r="1.05"/>
<circle cx="479.85" cy="30.55" r="1.05"/>
<circle cx="480.06" cy="31.33" r="1.05"/>
<circle cx="480.27" cy="32.23" r="1.05"/>
<circle cx="480.48" cy="33.23" r="1.05"/>
<circle cx="480.69" cy="34.35" r="1.05"/>
<circle cx="480.9" cy="35.56" r="1.05"/>
<circle cx="481.11" cy="36.86" r="1.05"/>
<circle cx="481.32" cy="38.25" r="1.05"/>
<circle cx="481.53" cy="39.72" r="1.05"/>
<circle cx="481.74" cy="41.26" r="1.05"/>
<circle cx="481.95" cy="42.87" r="1.05"/>
<circle cx="482.16" cy="44.52" r="1.05"/>
<circle cx="482.38" cy="46.23" r="1.05"/>
<circle cx="482.59" cy="47.97" r="1.05"/>
<circle cx="482.8" cy="49.73" r="1.05"/>
<circle cx="483.01" cy="51.52" r="1.05"/>
<circle cx="483.22" cy="53.31" r="1.05"/>
<circle cx="483.43" cy="55.14" r="1.05"/>
<circle cx="483.64" cy="56.98" r="1.05"/>
<circle cx="483.85" cy="58.83" r="1.05"/>
<circle cx="484.06" cy="60.69" r="1.05"/>
<circle cx="484.27" cy="62.55" r="1.05"/>
<circle cx="484.48" cy="64.42" r="1.05"/>
<circle cx="484.69" cy="66.28" r="1.05"/>
<circle cx="484.9" cy="68.14" r="1.05"/>
<circle cx="485.11" cy="69.98" r="1.05"/>
<circle cx="485.32" cy="71.83" r="1.05"/>
<circle cx="485.53" cy="73.66" r="1.05"/>
<circle cx="485.74" cy="75.48" r="1.05"/>
<circle cx="485.95" cy="77.28" r="1.05"/>
<circle cx="486.16" cy="79.07" r="1.05"/>
<circle cx="486.37" cy="80.81" r="1.05"/>
<circle cx="486.58" cy="82.51" r="1.05"/>
<circle cx="486.79" cy="84.18" r="1.05"/>
<circle cx="487" cy="85.81" r="1.05"/>
<circle cx="487.21" cy="87.4" r="1.05"/>
<circle cx="487.42" cy="88.95" r="1.05"/>
<circle cx="487.63" cy="90.46" r="1.05"/>
<circle cx="487.84" cy="91.94" r="1.05"/>
<circle cx="488.05" cy="93.39" r="1.05"/>
<circle cx="488.26" cy="94.79" r="1.05"/>
<circle cx="488.47" cy="96.17" r="1.05"/>
<circle cx="488.68" cy="97.5" r="1.05"/>
<circle cx="488.89" cy="98.81" r="1.05"/>
<circle cx="489.1" cy="100.08" r="1.05"/>
<circle cx="489.31" cy="101.32" r="1.05"/>
<circle cx="489.52" cy="102.52" r="1.05"/>
<circle cx="489.74" cy="103.7" r="1.05"/>
<circle cx="489.95" cy="104.84" r="1.05"/>
<circle cx="490.16" cy="105.97" r="1.05"/>
<circle cx="490.37" cy="107.06" r="1.05"/>
<circle cx="490.58" cy="108.14" r="1.05"/>
<circle cx="490.79" cy="109.18" r="1.05"/>
<circle cx="491" cy="110.19" r="1.05"/>
<circle cx="491.21" cy="111.17" r="1.05"/>
<circle cx="491.42" cy="112.12" r="1.05"/>
<circle cx="491.63" cy="113.03" r="1.05"/>
<circle cx="491.84" cy="113.9" r="1.05"/>
<circle cx="492.05" cy="114.73" r="1.05"/>
<circle cx="492.26" cy="115.53" r="1.05"/>
<circle cx="492.47" cy="116.28" r="1.05"/>
<circle cx="492.68" cy="117" r="1.05"/>
<circle cx="492.89" cy="117.67" r="1.05"/>
<circle cx="493.1" cy="118.31" r="1.05"/>
<circle cx="493.31" cy="118.9" r="1.05"/>
<circle cx="493.52" cy="119.44" r="1.05"/>
<circle cx="493.73" cy="119.95" r="1.05"/>
<circle cx="493.94" cy="120.41" r="1.05"/>
<circle cx="494.15" cy="120.82" r="1.05"/>
<circle cx="494.36" cy="121.19" r="1.05"/>
<circle cx="494.57" cy="121.51" r="1.05"/>
<circle cx="494.78" cy="121.79" r="1.05"/>
<circle cx="494.99" cy="122.01" r="1.05"/>
<circle cx="495.2" cy="122.18" r="1.05"/>
<circle cx="495.41" cy="122.28" r="1.05"/>
<circle cx="495.62" cy="122.33" r="1.05"/>
<circle cx="495.83" cy="122.33" r="1.05"/>
<circle cx="496.04" cy="122.28" r="1.05"/>
<circle cx="496.25" cy="122.19" r="1.05"/>
<circle cx="496.46" cy="122.07" r="1.05"/>
<circle cx="496.68" cy="121.91" r="1.05"/>
<circle cx="496.89" cy="121.73" r="1.05"/>
<circle cx="497.1" cy="121.53" r="1.05"/>
<circle cx="497.31" cy="121.32" r="1.05"/>
<circle cx="497.52" cy="121.09" r="1.05"/>
<circle cx="497.73" cy="120.86" r="1.05"/>
<circle cx="497.94" cy="120.64" r="1.05"/>
<circle cx="498.15" cy="120.42" r="1.05"/>
<circle cx="498.36" cy="120.21" r="1.05"/>
<circle cx="498.57" cy="120.01" r="1.05"/>
<circle cx="498.78" cy="119.84" r="1.05"/>
<circle cx="498.99" cy="119.7" r="1.05"/>
<circle cx="499.2" cy="119.58" r="1.05"/>
<circle cx="499.41" cy="119.5" r="1.05"/>
<circle cx="499.62" cy="119.45" r="1.05"/>
<circle cx="499.83" cy="119.44" r="1.05"/>
<circle cx="500.04" cy="119.46" r="1.05"/>
<circle cx="500.25" cy="119.52" r="1.05"/>
<circle cx="500.46" cy="119.6" r="1.05"/>
<circle cx="500.67" cy="119.7" r="1.05"/>
<circle cx="500.88" cy="119.82" r="1.05"/>
<circle cx="501.09" cy="119.96" r="1.05"/>
<circle cx="501.3" cy="120.12" r="1.05"/>
<circle cx="501.51" cy="120.3" r="1.05"/>
<circle cx="501.72" cy="120.48" r="1.05"/>
<circle cx="501.93" cy="120.69" r="1.05"/>
<circle cx="502.14" cy="120.9" r="1.05"/>
<circle cx="502.35" cy="121.12" r="1.05"/>
<circle cx="502.56" cy="121.34" r="1.05"/>
<circle cx="502.77" cy="121.58" r="1.05"/>
<circle cx="502.98" cy="121.81" r="1.05"/>
<circle cx="503.19" cy="122.05" r="1.05"/>
<circle cx="503.4" cy="122.29" r="1.05"/>
<circle cx="503.61" cy="122.53" r="1.05"/>
<circle cx="503.82" cy="122.77" r="1.05"/>
<circle cx="504.04" cy="123" r="1.05"/>
<circle cx="504.25" cy="123.23" r="1.05"/>
<circle cx="504.46" cy="123.45" r="1.05"/>
<circle cx="504.67" cy="123.66" r="1.05"/>
<circle cx="504.88" cy="123.86" r="1.05"/>
<circle cx="505.09" cy="124.06" r="1.05"/>
<circle cx="505.3" cy="124.25" r="1.05"/>
<circle cx="505.51" cy="124.46" r="1.05"/>
<circle cx="505.72" cy="124.67" r="1.05"/>
<circle cx="505.93" cy="124.89" r="1.05"/>
<circle cx="506.14" cy="125.12" r="1.05"/>
<circle cx="506.35" cy="125.35" r="1.05"/>
<circle cx="506.56" cy="125.58" r="1.05"/>
<circle cx="506.77" cy="125.82" r="1.05"/>
<circle cx="506.98" cy="126.06" r="1.05"/>
<circle cx="507.19" cy="126.29" r="1.05"/>
<circle cx="507.4" cy="126.53" r="1.05"/>
<circle cx="507.61" cy="126.77" r="1.05"/>
<circle cx="507.82" cy="127" r="1.05"/>
<circle cx="508.03" cy="127.23" r="1.05"/>
<circle cx="508.24" cy="127.46" r="1.05"/>
<circle cx="508.45" cy="127.68" r="1.05"/>
<circle cx="508.66" cy="127.9" r="1.05"/>
<circle cx="508.87" cy="128.11" r="1.05"/>
<circle cx="509.08" cy="128.31" r="1.05"/>
<circle cx="509.29" cy="128.5" r="1.05"/>
<circle cx="509.5" cy="128.67" r="1.05"/>
<circle cx="509.71" cy="128.83" r="1.05"/>
<circle cx="509.92" cy="128.97" r="1.05"/>
<circle cx="510.13" cy="129.09" r="1.05"/>
<circle cx="510.34" cy="129.18" r="1.05"/>
<circle cx="510.55" cy="129.23" r="1.05"/>
<circle cx="510.76" cy="129.23" r="1.05"/>
<circle cx="510.98" cy="129.16" r="1.05"/>
<circle cx="511.19" cy="129.02" r="1.05"/>
<circle cx="511.4" cy="128.82" r="1.05"/>
<circle cx="511.61" cy="128.54" r="1.05"/>
<circle cx="511.82" cy="128.21" r="1.05"/>
<circle cx="512.03" cy="127.84" r="1.05"/>
<circle cx="512.24" cy="127.48" r="1.05"/>
<circle cx="512.45" cy="127.15" r="1.05"/>
<circle cx="512.66" cy="126.88" r="1.05"/>
<circle cx="512.87" cy="126.68" r="1.05"/>
<circle cx="513.08" cy="126.56" r="1.05"/>
<circle cx="513.29" cy="126.51" r="1.05"/>
<circle cx="513.5" cy="126.51" r="1.05"/>
<circle cx="513.71" cy="126.56" r="1.05"/>
<circle cx="513.92" cy="126.64" r="1.05"/>
<circle cx="514.13" cy="126.74" r="1.05"/>
<circle cx="514.34" cy="126.87" r="1.05"/>
<circle cx="514.55" cy="127.01" r="1.05"/>
<circle cx="514.76" cy="127.16" r="1.05"/>
<circle cx="514.97" cy="127.32" r="1.05"/>
<circle cx="515.18" cy="127.49" r="1.05"/>
<circle cx="515.39" cy="127.67" r="1.05"/>
<circle cx="515.6" cy="127.85" r="1.05"/>
<circle cx="515.81" cy="128.03" r="1.05"/>
<circle cx="516.02" cy="128.2" r="1.05"/>
<circle cx="516.23" cy="128.38" r="1.05"/>
<circle cx="516.44" cy="128.55" r="1.05"/>
<circle cx="516.65" cy="128.72" r="1.05"/>
<circle cx="516.86" cy="128.88" r="1.05"/>
<circle cx="517.07" cy="129.02" r="1.05"/>
<circle cx="517.28" cy="129.16" r="1.05"/>
<circle cx="517.49" cy="129.28" r="1.05"/>
<circle cx="517.7" cy="129.38" r="1.05"/>
<circle cx="517.91" cy="129.45" r="1.05"/>
<circle cx="518.12" cy="129.5" r="1.05"/>
<circle cx="518.34" cy="129.53" r="1.05"/>
<circle cx="518.55" cy="129.53" r="1.05"/>
<circle cx="518.76" cy="129.51" r="1.05"/>
<circle cx="518.97" cy="129.48" r="1.05"/>
<circle cx="519.18" cy="129.42" r="1.05"/>
<circle cx="519.39" cy="129.35" r="1.05"/>
<circle cx="519.6" cy="129.27" r="1.05"/>
<circle cx="519.81" cy="129.17" r="1.05"/>
<circle cx="520.02" cy="129.06" r="1.05"/>
<circle cx="520.23" cy="128.94" r="1.05"/>
<circle cx="520.44" cy="128.82" r="1.05"/>
<circle cx="520.65" cy="128.7" r="1.05"/>
<circle cx="520.86" cy="128.57" r="1.05"/>
<circle cx="521.07" cy="128.45" r="1.05"/>
<circle cx="521.28" cy="128.33" r="1.05"/>
<circle cx="521.49" cy="128.22" r="1.05"/>
<circle cx="521.7" cy="128.12" r="1.05"/>
<circle cx="521.91" cy="128.03" r="1.05"/>
<circle cx="522.12" cy="127.96" r="1.05"/>
<circle cx="522.33" cy="127.88" r="1.05"/>
<circle cx="522.54" cy="127.79" r="1.05"/>
<circle cx="522.75" cy="127.7" r="1.05"/>
<circle cx="522.96" cy="127.6" r="1.05"/>
<circle cx="523.17" cy="127.51" r="1.05"/>
<circle cx="523.38" cy="127.42" r="1.05"/>
<circle cx="523.59" cy="127.32" r="1.05"/>
<circle cx="523.8" cy="127.23" r="1.05"/>
<circle cx="524.01" cy="127.15" r="1.05"/>
<circle cx="524.22" cy="127.07" r="1.05"/>
<circle cx="524.43" cy="127" r="1.05"/>
<circle cx="524.64" cy="126.93" r="1.05"/>
<circle cx="524.85" cy="126.88" r="1.05"/>
<circle cx="525.06" cy="126.84" r="1.05"/>
<circle cx="525.27" cy="126.81" r="1.05"/>
<circle cx="525.49" cy="126.8" r="1.05"/>
<circle cx="525.7" cy="126.8" r="1.05"/>
<circle cx="525.91" cy="126.81" r="1.05"/>
<circle cx="526.12" cy="126.84" r="1.05"/>
<circle cx="526.33" cy="126.87" r="1.05"/>
<circle cx="526.54" cy="126.92" r="1.05"/>
<circle cx="526.75" cy="126.98" r="1.05"/>
<circle cx="526.96" cy="127.05" r="1.05"/>
<circle cx="527.17" cy="127.13" r="1.05"/>
<circle cx="527.38" cy="127.22" r="1.05"/>
<circle cx="527.59" cy="127.31" r="1.05"/>
<circle cx="527.8" cy="127.41" r="1.05"/>
<circle cx="528.01" cy="127.51" r="1.05"/>
<circle cx="528.22" cy="127.61" r="1.05"/>
<circle cx="528.43" cy="127.72" r="1.05"/>
<circle cx="528.64" cy="127.83" r="1.05"/>
<circle cx="528.85" cy="127.94" r="1.05"/>
<circle cx="529.06" cy="128.04" r="1.05"/>
<circle cx="529.27" cy="128.15" r="1.05"/>
<circle cx="529.48" cy="128.25" r="1.05"/>
<circle cx="529.69" cy="128.36" r="1.05"/>
<circle cx="529.9" cy="128.45" r="1.05"/>
<circle cx="530.11" cy="128.55" r="1.05"/>
<circle cx="530.32" cy="128.65" r="1.05"/>
<circle cx="530.53" cy="128.75" r="1.05"/>
<circle cx="530.74" cy="128.85" r="1.05"/>
<circle cx="530.95" cy="128.95" r="1.05"/>
<circle cx="531.16" cy="129.06" r="1.05"/>
<circle cx="531.37" cy="129.16" r="1.05"/>
<circle cx="531.58" cy="129.26" r="1.05"/>
<circle cx="531.79" cy="129.37" r="1.05"/>
<circle cx="532" cy="129.47" r="1.05"/>
<circle cx="532.21" cy="129.58" r="1.05"/>
<circle cx="532.42" cy="129.69" r="1.05"/>
<circle cx="532.64" cy="129.79" r="1.05"/>
<circle cx="532.85" cy="129.9" r="1.05"/>
<circle cx="533.06" cy="130.01" r="1.05"/>
<circle cx="533.27" cy="130.11" r="1.05"/>
<circle cx="533.48" cy="130.22" r="1.05"/>
<circle cx="533.69" cy="130.33" r="1.05"/>
<circle cx="533.9" cy="130.43" r="1.05"/>
<circle cx="534.11" cy="130.54" r="1.05"/>
<circle cx="534.32" cy="130.64" r="1.05"/>
<circle cx="534.53" cy="130.74" r="1.05"/>
<circle cx="534.74" cy="130.85" r="1.05"/>
<circle cx="534.95" cy="130.95" r="1.05"/>
<circle cx="535.16" cy="131.05" r="1.05"/>
<circle cx="535.37" cy="131.14" r="1.05"/>
<circle cx="535.58" cy="131.23" r="1.05"/>
<circle cx="535.79" cy="131.32" r="1.05"/>
<circle cx="536" cy="131.39" r="1.05"/>
</g>
<path d="M415.88 132L415.88 131.95L416.17 131.95L416.45 131.94L416.74 131.93L417.02 131.92L417.31 131.9L417.6 131.89L417.88 131.87L418.17 131.85L418.45 131.83L418.74 131.8L419.03 131.77L419.31 131.74L419.6 131.7L419.88 131.65L420.17 131.6L420.46 131.55L420.74 131.48L421.03 131.41L421.31 131.33L421.6 131.25L421.89 131.15L422.17 131.04L422.46 130.91L422.74 130.77L423.03 130.62L423.32 130.45L423.6 130.26L423.89 130.06L424.17 129.83L424.46 129.57L424.75 129.3L425.03 128.99L425.32 128.66L425.6 128.3L425.89 127.9L426.18 127.47L426.46 127L426.75 126.49L427.03 125.94L427.32 125.34L427.61 124.7L427.89 124L428.18 123.26L428.46 122.45L428.75 121.6L429.04 120.68L429.32 119.7L429.61 118.66L429.89 117.55L430.18 116.38L430.47 115.14L430.75 113.82L431.04 112.44L431.32 110.98L431.61 109.45L431.9 107.85L432.18 106.18L432.47 104.43L432.75 102.61L433.04 100.71L433.33 98.75L433.61 96.73L433.9 94.63L434.18 92.48L434.47 90.27L434.76 88L435.04 85.68L435.33 83.32L435.61 80.92L435.9 78.49L436.19 76.02L436.47 73.54L436.76 71.04L437.04 68.54L437.33 66.03L437.62 63.54L437.9 61.06L438.19 58.61L438.47 56.2L438.76 53.82L439.05 51.51L439.33 49.25L439.62 47.06L439.9 44.96L440.19 42.94L440.48 41.02L440.76 39.21L441.05 37.5L441.33 35.92L441.62 34.47L441.91 33.15L442.19 31.97L442.48 30.93L442.76 30.05L443.05 29.32L443.34 28.75L443.62 28.33L443.91 28.09L444.19 28L444.48 28.09L444.77 28.36L445.05 28.81L445.34 29.45L445.62 30.26L445.91 31.24L446.2 32.39L446.48 33.69L446.77 35.16L447.05 36.77L447.34 38.52L447.63 40.4L447.91 42.4L448.2 44.51L448.48 46.72L448.77 49.02L449.06 51.41L449.34 53.86L449.63 56.37L449.91 58.94L450.2 61.53L450.49 64.16L450.77 66.81L451.06 69.46L451.34 72.11L451.63 74.75L451.92 77.37L452.2 79.96L452.49 82.52L452.77 85.03L453.06 87.5L453.35 89.91L453.63 92.26L453.92 94.54L454.2 96.76L454.49 98.9L454.78 100.97L455.06 102.96L455.35 104.87L455.63 106.7L455.92 108.45L456.21 110.12L456.49 111.7L456.78 113.2L457.06 114.63L457.35 115.97L457.64 117.23L457.92 118.42L458.21 119.54L458.49 120.58L458.78 121.56L459.07 122.47L459.35 123.31L459.64 124.1L459.92 124.82L460.21 125.49L460.5 126.11L460.78 126.68L461.07 127.2L461.35 127.68L461.64 128.12L461.93 128.52L462.21 128.88L462.5 129.22L462.78 129.52L463.07 129.79L463.36 130.03L463.64 130.25L463.93 130.45L464.21 130.63L464.5 130.79L464.79 130.94L465.07 131.06L465.36 131.18L465.64 131.28L465.93 131.37L466.22 131.45L466.5 131.52L466.79 131.58L467.07 131.64L467.36 131.69L467.65 131.73L467.93 131.76L468.22 131.8L468.5 131.82L468.79 131.85L469.08 131.87L469.36 131.89L469.65 131.91L469.93 131.92L470.22 131.93L470.51 131.94L470.79 131.95L471.08 131.96L471.08 132Z" fill="#fa6161" fill-opacity="1"/>
<path d="M453.06 132L453.06 131.95L453.35 131.94L453.63 131.93L453.92 131.92L454.2 131.91L454.49 131.89L454.78 131.87L455.06 131.85L455.35 131.82L455.63 131.79L455.92 131.76L456.21 131.72L456.49 131.68L456.78 131.62L457.06 131.57L457.35 131.5L457.64 131.42L457.92 131.34L458.21 131.24L458.49 131.12L458.78 131L459.07 130.86L459.35 130.7L459.64 130.52L459.92 130.32L460.21 130.1L460.5 129.85L460.78 129.57L461.07 129.26L461.35 128.92L461.64 128.55L461.93 128.13L462.21 127.68L462.5 127.18L462.78 126.63L463.07 126.04L463.36 125.39L463.64 124.68L463.93 123.91L464.21 123.08L464.5 122.19L464.79 121.22L465.07 120.19L465.36 119.07L465.64 117.89L465.93 116.62L466.22 115.27L466.5 113.83L466.79 112.32L467.07 110.71L467.36 109.02L467.65 107.25L467.93 105.38L468.22 103.44L468.5 101.41L468.79 99.3L469.08 97.11L469.36 94.85L469.65 92.52L469.93 90.12L470.22 87.66L470.51 85.15L470.79 82.59L471.08 80L471.36 77.37L471.65 74.72L471.94 72.06L472.22 69.4L472.51 66.75L472.79 64.11L473.08 61.51L473.37 58.94L473.65 56.43L473.94 53.99L474.22 51.62L474.51 49.34L474.8 47.16L475.08 45.09L475.37 43.14L475.65 41.32L475.94 39.65L476.23 38.12L476.51 36.76L476.8 35.56L477.08 34.54L477.37 33.7L477.66 33.04L477.94 32.57L478.23 32.29L478.51 32.2L478.8 32.31L479.09 32.6L479.37 33.09L479.66 33.77L479.94 34.63L480.23 35.67L480.52 36.89L480.8 38.27L481.09 39.81L481.37 41.49L481.66 43.32L481.95 45.28L482.23 47.37L482.52 49.56L482.8 51.85L483.09 54.22L483.38 56.68L483.66 59.19L483.95 61.76L484.23 64.37L484.52 67.01L484.81 69.66L485.09 72.32L485.38 74.98L485.66 77.63L485.95 80.25L486.24 82.85L486.52 85.4L486.81 87.91L487.09 90.36L487.38 92.75L487.67 95.07L487.95 97.33L488.24 99.51L488.52 101.61L488.81 103.63L489.1 105.57L489.38 107.42L489.67 109.19L489.95 110.87L490.24 112.47L490.53 113.98L490.81 115.4L491.1 116.74L491.38 118L491.67 119.19L491.96 120.29L492.24 121.32L492.53 122.28L492.81 123.17L493.1 123.99L493.39 124.75L493.67 125.45L493.96 126.1L494.24 126.69L494.53 127.23L494.82 127.73L495.1 128.18L495.39 128.59L495.67 128.96L495.96 129.29L496.25 129.6L496.53 129.87L496.82 130.12L497.1 130.34L497.39 130.54L497.68 130.71L497.96 130.87L498.25 131.01L498.53 131.14L498.82 131.25L499.11 131.34L499.39 131.43L499.68 131.51L499.96 131.57L500.25 131.63L500.54 131.68L500.82 131.73L501.11 131.76L501.39 131.8L501.68 131.83L501.97 131.85L502.25 131.87L502.54 131.89L502.82 131.91L503.11 131.92L503.4 131.93L503.68 131.95L503.97 131.95L503.97 132Z" fill="#53d6b7" fill-opacity="1"/>
<path d="M400.44 132L400.44 131.95L400.72 131.95L401.01 131.94L401.29 131.93L401.58 131.93L401.87 131.92L402.15 131.91L402.44 131.9L402.72 131.88L403.01 131.87L403.3 131.85L403.58 131.84L403.87 131.82L404.15 131.8L404.44 131.77L404.73 131.75L405.01 131.72L405.3 131.69L405.58 131.66L405.87 131.62L406.16 131.58L406.44 131.54L406.73 131.49L407.01 131.44L407.3 131.39L407.59 131.33L407.87 131.27L408.16 131.2L408.44 131.13L408.73 131.05L409.02 130.97L409.3 130.88L409.59 130.79L409.87 130.69L410.16 130.58L410.45 130.47L410.73 130.35L411.02 130.22L411.3 130.09L411.59 129.95L411.88 129.8L412.16 129.64L412.45 129.48L412.73 129.31L413.02 129.13L413.31 128.94L413.59 128.75L413.88 128.55L414.16 128.35L414.45 128.13L414.74 127.91L415.02 127.68L415.31 127.45L415.59 127.21L415.88 126.97L416.17 126.72L416.45 126.46L416.74 126.2L417.02 125.94L417.31 125.68L417.6 125.41L417.88 125.14L418.17 124.87L418.45 124.6L418.74 124.34L419.03 124.07L419.31 123.8L419.6 123.54L419.88 123.28L420.17 123.03L420.46 122.78L420.74 122.54L421.03 122.31L421.31 122.09L421.6 121.87L421.89 121.67L422.17 121.47L422.46 121.29L422.74 121.12L423.03 120.96L423.32 120.81L423.6 120.68L423.89 120.57L424.17 120.47L424.46 120.38L424.75 120.31L425.03 120.26L425.32 120.22L425.6 120.2L425.89 120.2L426.18 120.21L426.46 120.24L426.75 120.29L427.03 120.35L427.32 120.43L427.61 120.53L427.89 120.64L428.18 120.76L428.46 120.9L428.75 121.06L429.04 121.22L429.32 121.4L429.61 121.59L429.89 121.79L430.18 122.01L430.47 122.23L430.75 122.46L431.04 122.69L431.32 122.94L431.61 123.19L431.9 123.45L432.18 123.71L432.47 123.97L432.75 124.24L433.04 124.5L433.33 124.77L433.61 125.04L433.9 125.31L434.18 125.58L434.47 125.84L434.76 126.11L435.04 126.37L435.33 126.62L435.61 126.87L435.9 127.12L436.19 127.36L436.47 127.6L436.76 127.83L437.04 128.05L437.33 128.27L437.62 128.48L437.9 128.68L438.19 128.87L438.47 129.06L438.76 129.24L439.05 129.42L439.33 129.58L439.62 129.74L439.9 129.89L440.19 130.03L440.48 130.17L440.76 130.3L441.05 130.42L441.33 130.54L441.62 130.65L441.91 130.75L442.19 130.85L442.48 130.94L442.76 131.02L443.05 131.1L443.34 131.18L443.62 131.25L443.91 131.31L444.19 131.37L444.48 131.42L444.77 131.48L445.05 131.52L445.34 131.57L445.62 131.61L445.91 131.64L446.2 131.68L446.48 131.71L446.77 131.74L447.05 131.76L447.34 131.79L447.63 131.81L447.91 131.83L448.2 131.85L448.48 131.86L448.77 131.88L449.06 131.89L449.34 131.9L449.63 131.91L449.91 131.92L450.2 131.93L450.49 131.94L450.77 131.95L451.06 131.95L451.34 131.96L451.34 132Z" fill="#ff8a3a" fill-opacity="0.85"/>
<path d="M446.2 132L446.2 131.96L446.48 131.94L446.77 131.93L447.05 131.91L447.34 131.89L447.63 131.86L447.91 131.83L448.2 131.79L448.48 131.74L448.77 131.68L449.06 131.61L449.34 131.53L449.63 131.44L449.91 131.32L450.2 131.19L450.49 131.04L450.77 130.86L451.06 130.65L451.34 130.42L451.63 130.15L451.92 129.85L452.2 129.5L452.49 129.12L452.77 128.69L453.06 128.22L453.35 127.69L453.63 127.11L453.92 126.49L454.2 125.8L454.49 125.07L454.78 124.28L455.06 123.44L455.35 122.55L455.63 121.61L455.92 120.63L456.21 119.62L456.49 118.57L456.78 117.5L457.06 116.41L457.35 115.31L457.64 114.22L457.92 113.13L458.21 112.07L458.49 111.05L458.78 110.06L459.07 109.14L459.35 108.27L459.64 107.49L459.92 106.79L460.21 106.18L460.5 105.68L460.78 105.29L461.07 105.01L461.35 104.84L461.64 104.8L461.93 104.88L462.21 105.07L462.5 105.39L462.78 105.81L463.07 106.34L463.36 106.98L463.64 107.7L463.93 108.51L464.21 109.39L464.5 110.33L464.79 111.33L465.07 112.37L465.36 113.43L465.64 114.52L465.93 115.62L466.22 116.71L466.5 117.8L466.79 118.86L467.07 119.9L467.36 120.91L467.65 121.88L467.93 122.8L468.22 123.68L468.5 124.5L468.79 125.28L469.08 126L469.36 126.67L469.65 127.28L469.93 127.84L470.22 128.35L470.51 128.82L470.79 129.23L471.08 129.6L471.36 129.93L471.65 130.23L471.94 130.49L472.22 130.71L472.51 130.91L472.79 131.08L473.08 131.23L473.37 131.36L473.65 131.46L473.94 131.56L474.22 131.63L474.51 131.7L474.8 131.75L475.08 131.8L475.37 131.84L475.65 131.87L475.94 131.9L476.23 131.92L476.51 131.93L476.8 131.95L477.08 131.96L477.08 132Z" fill="#62abf6" fill-opacity="0.8"/>
<path d="M393 133L393.29 133L393.57 133L393.86 133L394.14 133L394.43 133L394.72 133L395 133L395.29 133L395.57 133L395.86 132.99L396.15 132.99L396.43 132.99L396.72 132.99L397 132.99L397.29 132.99L397.58 132.99L397.86 132.99L398.15 132.98L398.43 132.98L398.72 132.98L399.01 132.98L399.29 132.97L399.58 132.97L399.86 132.97L400.15 132.96L400.44 132.95L400.72 132.95L401.01 132.94L401.29 132.93L401.58 132.93L401.87 132.92L402.15 132.91L402.44 132.9L402.72 132.88L403.01 132.87L403.3 132.85L403.58 132.84L403.87 132.82L404.15 132.8L404.44 132.77L404.73 132.75L405.01 132.72L405.3 132.69L405.58 132.66L405.87 132.62L406.16 132.58L406.44 132.54L406.73 132.49L407.01 132.44L407.3 132.39L407.59 132.33L407.87 132.27L408.16 132.2L408.44 132.13L408.73 132.05L409.02 131.97L409.3 131.88L409.59 131.79L409.87 131.69L410.16 131.58L410.45 131.47L410.73 131.34L411.02 131.22L411.3 131.08L411.59 130.94L411.88 130.79L412.16 130.64L412.45 130.47L412.73 130.3L413.02 130.12L413.31 129.93L413.59 129.74L413.88 129.54L414.16 129.33L414.45 129.11L414.74 128.89L415.02 128.65L415.31 128.42L415.59 128.17L415.88 127.92L416.17 127.66L416.45 127.4L416.74 127.13L417.02 126.86L417.31 126.58L417.6 126.3L417.88 126.01L418.17 125.72L418.45 125.43L418.74 125.13L419.03 124.84L419.31 124.54L419.6 124.24L419.88 123.94L420.17 123.64L420.46 123.33L420.74 123.03L421.03 122.73L421.31 122.42L421.6 122.12L421.89 121.81L422.17 121.51L422.46 121.2L422.74 120.89L423.03 120.58L423.32 120.26L423.6 119.95L423.89 119.62L424.17 119.29L424.46 118.96L424.75 118.61L425.03 118.25L425.32 117.88L425.6 117.5L425.89 117.1L426.18 116.68L426.46 116.24L426.75 115.78L427.03 115.29L427.32 114.77L427.61 114.22L427.89 113.64L428.18 113.02L428.46 112.36L428.75 111.65L429.04 110.9L429.32 110.1L429.61 109.25L429.89 108.35L430.18 107.39L430.47 106.36L430.75 105.28L431.04 104.13L431.32 102.92L431.61 101.64L431.9 100.3L432.18 98.88L432.47 97.4L432.75 95.84L433.04 94.22L433.33 92.53L433.61 90.77L433.9 88.95L434.18 87.06L434.47 85.11L434.76 83.11L435.04 81.05L435.33 78.95L435.61 76.8L435.9 74.61L436.19 72.38L436.47 70.14L436.76 67.87L437.04 65.59L437.33 63.3L437.62 61.01L437.9 58.74L438.19 56.48L438.47 54.26L438.76 52.07L439.05 49.92L439.33 47.83L439.62 45.8L439.9 43.85L440.19 41.98L440.48 40.19L440.76 38.51L441.05 36.93L441.33 35.46L441.62 34.11L441.91 32.9L442.19 31.81L442.48 30.87L442.76 30.07L443.05 29.42L443.34 28.92L443.62 28.58L443.91 28.39L444.19 28.36L444.48 28.5L444.77 28.82L445.05 29.32L445.34 29.99L445.62 30.83L445.91 31.85L446.2 33.02L446.48 34.35L446.77 35.82L447.05 37.44L447.34 39.19L447.63 41.07L447.91 43.05L448.2 45.14L448.48 47.32L448.77 49.58L449.06 51.91L449.34 54.29L449.63 56.72L449.91 59.17L450.2 61.65L450.49 64.13L450.77 66.6L451.06 69.05L451.34 71.47L451.63 73.84L451.92 76.16L452.2 78.41L452.49 80.58L452.77 82.66L453.06 84.65L453.35 86.52L453.63 88.29L453.92 89.94L454.2 91.46L454.49 92.85L454.78 94.11L455.06 95.24L455.35 96.24L455.63 97.1L455.92 97.84L456.21 98.45L456.49 98.94L456.78 99.32L457.06 99.6L457.35 99.78L457.64 99.87L457.92 99.89L458.21 99.85L458.49 99.75L458.78 99.62L459.07 99.46L459.35 99.28L459.64 99.1L459.92 98.93L460.21 98.77L460.5 98.64L460.78 98.54L461.07 98.47L461.35 98.45L461.64 98.47L461.93 98.53L462.21 98.64L462.5 98.78L462.78 98.96L463.07 99.17L463.36 99.4L463.64 99.63L463.93 99.87L464.21 100.1L464.5 100.31L464.79 100.49L465.07 100.62L465.36 100.69L465.64 100.69L465.93 100.6L466.22 100.43L466.5 100.15L466.79 99.76L467.07 99.25L467.36 98.62L467.65 97.85L467.93 96.95L468.22 95.91L468.5 94.74L468.79 93.43L469.08 91.98L469.36 90.41L469.65 88.7L469.93 86.88L470.22 84.95L470.51 82.91L470.79 80.78L471.08 78.56L471.36 76.27L471.65 73.92L471.94 71.53L472.22 69.09L472.51 66.64L472.79 64.18L473.08 61.72L473.37 59.29L473.65 56.89L473.94 54.54L474.22 52.25L474.51 50.03L474.8 47.91L475.08 45.88L475.37 43.97L475.65 42.19L475.94 40.54L476.23 39.04L476.51 37.69L476.8 36.51L477.08 35.5L477.37 34.66L477.66 34.01L477.94 33.55L478.23 33.27L478.51 33.19L478.8 33.3L479.09 33.6L479.37 34.09L479.66 34.77L479.94 35.63L480.23 36.67L480.52 37.88L480.8 39.27L481.09 40.8L481.37 42.49L481.66 44.32L481.95 46.28L482.23 48.37L482.52 50.56L482.8 52.85L483.09 55.22L483.38 57.68L483.66 60.19L483.95 62.76L484.23 65.37L484.52 68.01L484.81 70.66L485.09 73.32L485.38 75.98L485.66 78.63L485.95 81.25L486.24 83.85L486.52 86.4L486.81 88.91L487.09 91.36L487.38 93.75L487.67 96.07L487.95 98.33L488.24 100.51L488.52 102.61L488.81 104.63L489.1 106.57L489.38 108.42L489.67 110.19L489.95 111.87L490.24 113.47L490.53 114.98L490.81 116.4L491.1 117.74L491.38 119L491.67 120.19L491.96 121.29L492.24 122.32L492.53 123.28L492.81 124.17L493.1 124.99L493.39 125.75L493.67 126.45L493.96 127.1L494.24 127.69L494.53 128.23L494.82 128.73L495.1 129.18L495.39 129.59L495.67 129.96L495.96 130.29L496.25 130.6L496.53 130.87L496.82 131.12L497.1 131.34L497.39 131.54L497.68 131.71L497.96 131.87L498.25 132.01L498.53 132.14L498.82 132.25L499.11 132.34L499.39 132.43L499.68 132.51L499.96 132.57L500.25 132.63L500.54 132.68L500.82 132.73L501.11 132.76L501.39 132.8L501.68 132.83L501.97 132.85L502.25 132.87L502.54 132.89L502.82 132.91L503.11 132.92L503.4 132.93L503.68 132.95L503.97 132.95L504.25 132.96L504.54 132.97L504.83 132.97L505.11 132.98L505.4 132.98L505.68 132.98L505.97 132.99L506.26 132.99L506.54 132.99L506.83 132.99L507.11 132.99L507.4 132.99L507.69 133L507.97 133L508.26 133L508.54 133L508.83 133L509.12 133L509.4 133L509.69 133L509.97 133L510.26 133L510.55 133L510.83 133L511.12 133L511.4 133L511.69 133L511.98 133L512.26 133L512.55 133L512.83 133L513.12 133L513.41 133L513.69 133L513.98 133L514.26 133L514.55 133L514.84 133L515.12 133L515.41 133L515.69 133L515.98 133L516.27 133L516.55 133L516.84 133L517.12 133L517.41 133L517.7 133L517.98 133L518.27 133L518.55 133L518.84 133L519.13 133L519.41 133L519.7 133L519.98 133L520.27 133L520.56 133L520.84 133L521.13 133L521.41 133L521.7 133L521.99 133L522.27 133L522.56 133L522.84 133L523.13 133L523.42 133L523.7 133L523.99 133L524.27 133L524.56 133L524.85 133L525.13 133L525.42 133L525.7 133L525.99 133L526.28 133L526.56 133L526.85 133L527.13 133L527.42 133L527.71 133L527.99 133L528.28 133L528.56 133L528.85 133L529.14 133L529.42 133L529.71 133L529.99 133L530.28 133L530.57 133L530.85 133L531.14 133L531.42 133L531.71 133L532 133L532.28 133L532.57 133L532.85 133L533.14 133L533.43 133L533.71 133L534 133L534.28 133L534.57 133L534.86 133L535.14 133L535.43 133L535.71 133L536 133" fill="none" stroke="#9057d8" stroke-width="1.05" stroke-linejoin="round"/>
</g>
<rect x="393" y="13.7" width="143" height="123" fill="none" stroke="#333" stroke-width="1"/>
<line x1="393" y1="136.7" x2="393" y2="138.7" stroke="#333" stroke-width="0.8"/>
<text class="tk" x="393" y="146">1000</text>
<line x1="407.3" y1="136.7" x2="407.3" y2="137.9" stroke="#333" stroke-width="0.8"/>
<line x1="421.6" y1="136.7" x2="421.6" y2="138.7" stroke="#333" stroke-width="0.8"/>
<text class="tk" x="421.6" y="146">1200</text>
<line x1="435.9" y1="136.7" x2="435.9" y2="137.9" stroke="#333" stroke-width="0.8"/>
<line x1="450.2" y1="136.7" x2="450.2" y2="138.7" stroke="#333" stroke-width="0.8"/>
<text class="tk" x="450.2" y="146">1400</text>
<line x1="464.5" y1="136.7" x2="464.5" y2="137.9" stroke="#333" stroke-width="0.8"/>
<line x1="478.8" y1="136.7" x2="478.8" y2="138.7" stroke="#333" stroke-width="0.8"/>
<text class="tk" x="478.8" y="146">1600</text>
<line x1="493.1" y1="136.7" x2="493.1" y2="137.9" stroke="#333" stroke-width="0.8"/>
<line x1="507.4" y1="136.7" x2="507.4" y2="138.7" stroke="#333" stroke-width="0.8"/>
<text class="tk" x="507.4" y="146">1800</text>
<line x1="521.7" y1="136.7" x2="521.7" y2="137.9" stroke="#333" stroke-width="0.8"/>
<line x1="536" y1="136.7" x2="536" y2="138.7" stroke="#333" stroke-width="0.8"/>
<text class="tk" x="536" y="146">2000</text>
<text class="ax" style="font-size:8.9px" x="464.5" y="158">Raman Shift (cm<tspan font-size="5.8" dy="-3">−1</tspan><tspan dy="3">)</tspan></text>
<text class="ax" style="font-size:8.95px" transform="translate(388.2 75.2) rotate(-90)">Intensity (a.u.)</text>
<text class="lb" x="400" y="26.7">Ni-CDs</text>
</g>
<g>
<g clip-path="url(#cf)">
<g fill="#fff" stroke="#666" stroke-width="0.5">
<circle cx="394.3" cy="303.71" r="1.05"/>
<circle cx="394.51" cy="303.66" r="1.05"/>
<circle cx="394.72" cy="303.6" r="1.05"/>
<circle cx="394.93" cy="303.55" r="1.05"/>
<circle cx="395.14" cy="303.49" r="1.05"/>
<circle cx="395.35" cy="303.43" r="1.05"/>
<circle cx="395.56" cy="303.37" r="1.05"/>
<circle cx="395.77" cy="303.31" r="1.05"/>
<circle cx="395.98" cy="303.25" r="1.05"/>
<circle cx="396.19" cy="303.19" r="1.05"/>
<circle cx="396.4" cy="303.13" r="1.05"/>
<circle cx="396.61" cy="303.06" r="1.05"/>
<circle cx="396.82" cy="303" r="1.05"/>
<circle cx="397.03" cy="302.94" r="1.05"/>
<circle cx="397.24" cy="302.88" r="1.05"/>
<circle cx="397.45" cy="302.82" r="1.05"/>
<circle cx="397.66" cy="302.76" r="1.05"/>
<circle cx="397.87" cy="302.7" r="1.05"/>
<circle cx="398.08" cy="302.64" r="1.05"/>
<circle cx="398.29" cy="302.58" r="1.05"/>
<circle cx="398.5" cy="302.52" r="1.05"/>
<circle cx="398.71" cy="302.47" r="1.05"/>
<circle cx="398.92" cy="302.41" r="1.05"/>
<circle cx="399.13" cy="302.35" r="1.05"/>
<circle cx="399.34" cy="302.29" r="1.05"/>
<circle cx="399.55" cy="302.23" r="1.05"/>
<circle cx="399.76" cy="302.18" r="1.05"/>
<circle cx="399.97" cy="302.12" r="1.05"/>
<circle cx="400.18" cy="302.06" r="1.05"/>
<circle cx="400.39" cy="302.01" r="1.05"/>
<circle cx="400.6" cy="301.95" r="1.05"/>
<circle cx="400.81" cy="301.89" r="1.05"/>
<circle cx="401.02" cy="301.83" r="1.05"/>
<circle cx="401.23" cy="301.77" r="1.05"/>
<circle cx="401.44" cy="301.71" r="1.05"/>
<circle cx="401.65" cy="301.65" r="1.05"/>
<circle cx="401.86" cy="301.59" r="1.05"/>
<circle cx="402.07" cy="301.53" r="1.05"/>
<circle cx="402.28" cy="301.46" r="1.05"/>
<circle cx="402.49" cy="301.4" r="1.05"/>
<circle cx="402.7" cy="301.33" r="1.05"/>
<circle cx="402.91" cy="301.26" r="1.05"/>
<circle cx="403.12" cy="301.19" r="1.05"/>
<circle cx="403.33" cy="301.12" r="1.05"/>
<circle cx="403.54" cy="301.05" r="1.05"/>
<circle cx="403.75" cy="300.97" r="1.05"/>
<circle cx="403.96" cy="300.9" r="1.05"/>
<circle cx="404.17" cy="300.82" r="1.05"/>
<circle cx="404.38" cy="300.74" r="1.05"/>
<circle cx="404.59" cy="300.66" r="1.05"/>
<circle cx="404.8" cy="300.57" r="1.05"/>
<circle cx="405.01" cy="300.48" r="1.05"/>
<circle cx="405.22" cy="300.4" r="1.05"/>
<circle cx="405.43" cy="300.3" r="1.05"/>
<circle cx="405.64" cy="300.21" r="1.05"/>
<circle cx="405.85" cy="300.12" r="1.05"/>
<circle cx="406.06" cy="300.02" r="1.05"/>
<circle cx="406.27" cy="299.92" r="1.05"/>
<circle cx="406.48" cy="299.82" r="1.05"/>
<circle cx="406.69" cy="299.71" r="1.05"/>
<circle cx="406.9" cy="299.61" r="1.05"/>
<circle cx="407.11" cy="299.5" r="1.05"/>
<circle cx="407.32" cy="299.39" r="1.05"/>
<circle cx="407.53" cy="299.28" r="1.05"/>
<circle cx="407.74" cy="299.16" r="1.05"/>
<circle cx="407.95" cy="299.04" r="1.05"/>
<circle cx="408.16" cy="298.92" r="1.05"/>
<circle cx="408.37" cy="298.8" r="1.05"/>
<circle cx="408.58" cy="298.67" r="1.05"/>
<circle cx="408.79" cy="298.55" r="1.05"/>
<circle cx="409" cy="298.42" r="1.05"/>
<circle cx="409.21" cy="298.29" r="1.05"/>
<circle cx="409.42" cy="298.15" r="1.05"/>
<circle cx="409.63" cy="298.01" r="1.05"/>
<circle cx="409.84" cy="297.87" r="1.05"/>
<circle cx="410.05" cy="297.73" r="1.05"/>
<circle cx="410.26" cy="297.59" r="1.05"/>
<circle cx="410.47" cy="297.44" r="1.05"/>
<circle cx="410.68" cy="297.29" r="1.05"/>
<circle cx="410.89" cy="297.14" r="1.05"/>
<circle cx="411.1" cy="296.99" r="1.05"/>
<circle cx="411.31" cy="296.84" r="1.05"/>
<circle cx="411.52" cy="296.68" r="1.05"/>
<circle cx="411.73" cy="296.53" r="1.05"/>
<circle cx="411.94" cy="296.37" r="1.05"/>
<circle cx="412.15" cy="296.21" r="1.05"/>
<circle cx="412.36" cy="296.05" r="1.05"/>
<circle cx="412.57" cy="295.89" r="1.05"/>
<circle cx="412.78" cy="295.72" r="1.05"/>
<circle cx="412.99" cy="295.56" r="1.05"/>
<circle cx="413.2" cy="295.39" r="1.05"/>
<circle cx="413.41" cy="295.22" r="1.05"/>
<circle cx="413.62" cy="295.05" r="1.05"/>
<circle cx="413.83" cy="294.88" r="1.05"/>
<circle cx="414.04" cy="294.71" r="1.05"/>
<circle cx="414.25" cy="294.54" r="1.05"/>
<circle cx="414.46" cy="294.37" r="1.05"/>
<circle cx="414.67" cy="294.2" r="1.05"/>
<circle cx="414.88" cy="294.02" r="1.05"/>
<circle cx="415.09" cy="293.85" r="1.05"/>
<circle cx="415.3" cy="293.67" r="1.05"/>
<circle cx="415.51" cy="293.5" r="1.05"/>
<circle cx="415.72" cy="293.32" r="1.05"/>
<circle cx="415.93" cy="293.15" r="1.05"/>
<circle cx="416.14" cy="292.97" r="1.05"/>
<circle cx="416.35" cy="292.79" r="1.05"/>
<circle cx="416.56" cy="292.62" r="1.05"/>
<circle cx="416.77" cy="292.44" r="1.05"/>
<circle cx="416.98" cy="292.27" r="1.05"/>
<circle cx="417.19" cy="292.09" r="1.05"/>
<circle cx="417.4" cy="291.92" r="1.05"/>
<circle cx="417.61" cy="291.74" r="1.05"/>
<circle cx="417.82" cy="291.57" r="1.05"/>
<circle cx="418.03" cy="291.4" r="1.05"/>
<circle cx="418.24" cy="291.22" r="1.05"/>
<circle cx="418.45" cy="291.05" r="1.05"/>
<circle cx="418.66" cy="290.88" r="1.05"/>
<circle cx="418.87" cy="290.71" r="1.05"/>
<circle cx="419.08" cy="290.54" r="1.05"/>
<circle cx="419.29" cy="290.37" r="1.05"/>
<circle cx="419.5" cy="290.2" r="1.05"/>
<circle cx="419.71" cy="290.04" r="1.05"/>
<circle cx="419.92" cy="289.87" r="1.05"/>
<circle cx="420.13" cy="289.7" r="1.05"/>
<circle cx="420.34" cy="289.54" r="1.05"/>
<circle cx="420.55" cy="289.38" r="1.05"/>
<circle cx="420.76" cy="289.21" r="1.05"/>
<circle cx="420.97" cy="289.05" r="1.05"/>
<circle cx="421.18" cy="288.89" r="1.05"/>
<circle cx="421.39" cy="288.73" r="1.05"/>
<circle cx="421.6" cy="288.57" r="1.05"/>
<circle cx="421.81" cy="288.41" r="1.05"/>
<circle cx="422.02" cy="288.25" r="1.05"/>
<circle cx="422.23" cy="288.1" r="1.05"/>
<circle cx="422.44" cy="287.94" r="1.05"/>
<circle cx="422.65" cy="287.78" r="1.05"/>
<circle cx="422.86" cy="287.62" r="1.05"/>
<circle cx="423.07" cy="287.46" r="1.05"/>
<circle cx="423.28" cy="287.3" r="1.05"/>
<circle cx="423.49" cy="287.13" r="1.05"/>
<circle cx="423.7" cy="286.97" r="1.05"/>
<circle cx="423.91" cy="286.8" r="1.05"/>
<circle cx="424.12" cy="286.64" r="1.05"/>
<circle cx="424.33" cy="286.47" r="1.05"/>
<circle cx="424.54" cy="286.29" r="1.05"/>
<circle cx="424.75" cy="286.11" r="1.05"/>
<circle cx="424.96" cy="285.93" r="1.05"/>
<circle cx="425.17" cy="285.74" r="1.05"/>
<circle cx="425.38" cy="285.55" r="1.05"/>
<circle cx="425.59" cy="285.36" r="1.05"/>
<circle cx="425.8" cy="285.15" r="1.05"/>
<circle cx="426.01" cy="284.94" r="1.05"/>
<circle cx="426.22" cy="284.72" r="1.05"/>
<circle cx="426.43" cy="284.49" r="1.05"/>
<circle cx="426.64" cy="284.25" r="1.05"/>
<circle cx="426.85" cy="284.01" r="1.05"/>
<circle cx="427.06" cy="283.75" r="1.05"/>
<circle cx="427.27" cy="283.48" r="1.05"/>
<circle cx="427.48" cy="283.19" r="1.05"/>
<circle cx="427.69" cy="282.9" r="1.05"/>
<circle cx="427.9" cy="282.59" r="1.05"/>
<circle cx="428.11" cy="282.26" r="1.05"/>
<circle cx="428.32" cy="281.91" r="1.05"/>
<circle cx="428.53" cy="281.55" r="1.05"/>
<circle cx="428.74" cy="281.18" r="1.05"/>
<circle cx="428.95" cy="280.78" r="1.05"/>
<circle cx="429.16" cy="280.37" r="1.05"/>
<circle cx="429.37" cy="279.94" r="1.05"/>
<circle cx="429.58" cy="279.48" r="1.05"/>
<circle cx="429.79" cy="279.01" r="1.05"/>
<circle cx="430.01" cy="278.5" r="1.05"/>
<circle cx="430.22" cy="277.98" r="1.05"/>
<circle cx="430.43" cy="277.43" r="1.05"/>
<circle cx="430.64" cy="276.85" r="1.05"/>
<circle cx="430.85" cy="276.25" r="1.05"/>
<circle cx="431.06" cy="275.61" r="1.05"/>
<circle cx="431.27" cy="274.95" r="1.05"/>
<circle cx="431.48" cy="274.25" r="1.05"/>
<circle cx="431.69" cy="273.52" r="1.05"/>
<circle cx="431.9" cy="272.76" r="1.05"/>
<circle cx="432.11" cy="271.97" r="1.05"/>
<circle cx="432.32" cy="271.14" r="1.05"/>
<circle cx="432.53" cy="270.28" r="1.05"/>
<circle cx="432.74" cy="269.38" r="1.05"/>
<circle cx="432.95" cy="268.44" r="1.05"/>
<circle cx="433.16" cy="267.47" r="1.05"/>
<circle cx="433.37" cy="266.45" r="1.05"/>
<circle cx="433.58" cy="265.41" r="1.05"/>
<circle cx="433.79" cy="264.32" r="1.05"/>
<circle cx="434" cy="263.19" r="1.05"/>
<circle cx="434.21" cy="262.03" r="1.05"/>
<circle cx="434.42" cy="260.83" r="1.05"/>
<circle cx="434.63" cy="259.59" r="1.05"/>
<circle cx="434.84" cy="258.32" r="1.05"/>
<circle cx="435.05" cy="257.01" r="1.05"/>
<circle cx="435.26" cy="255.66" r="1.05"/>
<circle cx="435.47" cy="254.28" r="1.05"/>
<circle cx="435.68" cy="252.86" r="1.05"/>
<circle cx="435.89" cy="251.42" r="1.05"/>
<circle cx="436.1" cy="249.94" r="1.05"/>
<circle cx="436.31" cy="248.43" r="1.05"/>
<circle cx="436.52" cy="246.9" r="1.05"/>
<circle cx="436.73" cy="245.33" r="1.05"/>
<circle cx="436.94" cy="243.75" r="1.05"/>
<circle cx="437.15" cy="242.14" r="1.05"/>
<circle cx="437.36" cy="240.52" r="1.05"/>
<circle cx="437.57" cy="238.87" r="1.05"/>
<circle cx="437.78" cy="237.21" r="1.05"/>
<circle cx="437.99" cy="235.54" r="1.05"/>
<circle cx="438.2" cy="233.87" r="1.05"/>
<circle cx="438.41" cy="232.18" r="1.05"/>
<circle cx="438.62" cy="230.5" r="1.05"/>
<circle cx="438.83" cy="228.81" r="1.05"/>
<circle cx="439.04" cy="227.13" r="1.05"/>
<circle cx="439.25" cy="225.45" r="1.05"/>
<circle cx="439.46" cy="223.79" r="1.05"/>
<circle cx="439.67" cy="222.14" r="1.05"/>
<circle cx="439.88" cy="220.51" r="1.05"/>
<circle cx="440.09" cy="218.91" r="1.05"/>
<circle cx="440.3" cy="217.33" r="1.05"/>
<circle cx="440.51" cy="215.79" r="1.05"/>
<circle cx="440.72" cy="214.28" r="1.05"/>
<circle cx="440.93" cy="212.81" r="1.05"/>
<circle cx="441.14" cy="211.38" r="1.05"/>
<circle cx="441.35" cy="209.99" r="1.05"/>
<circle cx="441.56" cy="208.66" r="1.05"/>
<circle cx="441.77" cy="207.37" r="1.05"/>
<circle cx="441.98" cy="206.14" r="1.05"/>
<circle cx="442.19" cy="204.97" r="1.05"/>
<circle cx="442.4" cy="203.86" r="1.05"/>
<circle cx="442.61" cy="202.81" r="1.05"/>
<circle cx="442.82" cy="201.84" r="1.05"/>
<circle cx="443.03" cy="200.94" r="1.05"/>
<circle cx="443.24" cy="200.11" r="1.05"/>
<circle cx="443.45" cy="199.36" r="1.05"/>
<circle cx="443.66" cy="198.69" r="1.05"/>
<circle cx="443.87" cy="198.11" r="1.05"/>
<circle cx="444.08" cy="197.62" r="1.05"/>
<circle cx="444.29" cy="197.21" r="1.05"/>
<circle cx="444.5" cy="196.9" r="1.05"/>
<circle cx="444.71" cy="196.68" r="1.05"/>
<circle cx="444.92" cy="196.56" r="1.05"/>
<circle cx="445.13" cy="196.54" r="1.05"/>
<circle cx="445.34" cy="196.61" r="1.05"/>
<circle cx="445.55" cy="196.78" r="1.05"/>
<circle cx="445.76" cy="197.04" r="1.05"/>
<circle cx="445.97" cy="197.39" r="1.05"/>
<circle cx="446.18" cy="197.83" r="1.05"/>
<circle cx="446.39" cy="198.35" r="1.05"/>
<circle cx="446.6" cy="198.97" r="1.05"/>
<circle cx="446.81" cy="199.66" r="1.05"/>
<circle cx="447.02" cy="200.44" r="1.05"/>
<circle cx="447.23" cy="201.29" r="1.05"/>
<circle cx="447.44" cy="202.22" r="1.05"/>
<circle cx="447.65" cy="203.21" r="1.05"/>
<circle cx="447.86" cy="204.27" r="1.05"/>
<circle cx="448.07" cy="205.4" r="1.05"/>
<circle cx="448.28" cy="206.58" r="1.05"/>
<circle cx="448.49" cy="207.81" r="1.05"/>
<circle cx="448.7" cy="209.1" r="1.05"/>
<circle cx="448.91" cy="210.44" r="1.05"/>
<circle cx="449.12" cy="211.83" r="1.05"/>
<circle cx="449.33" cy="213.26" r="1.05"/>
<circle cx="449.54" cy="214.73" r="1.05"/>
<circle cx="449.75" cy="216.24" r="1.05"/>
<circle cx="449.96" cy="217.78" r="1.05"/>
<circle cx="450.17" cy="219.36" r="1.05"/>
<circle cx="450.38" cy="220.95" r="1.05"/>
<circle cx="450.59" cy="222.57" r="1.05"/>
<circle cx="450.8" cy="224.2" r="1.05"/>
<circle cx="451.01" cy="225.85" r="1.05"/>
<circle cx="451.22" cy="227.49" r="1.05"/>
<circle cx="451.43" cy="229.15" r="1.05"/>
<circle cx="451.64" cy="230.79" r="1.05"/>
<circle cx="451.85" cy="232.43" r="1.05"/>
<circle cx="452.06" cy="234.06" r="1.05"/>
<circle cx="452.27" cy="235.67" r="1.05"/>
<circle cx="452.48" cy="237.26" r="1.05"/>
<circle cx="452.69" cy="238.83" r="1.05"/>
<circle cx="452.9" cy="240.36" r="1.05"/>
<circle cx="453.11" cy="241.87" r="1.05"/>
<circle cx="453.32" cy="243.33" r="1.05"/>
<circle cx="453.53" cy="244.76" r="1.05"/>
<circle cx="453.74" cy="246.13" r="1.05"/>
<circle cx="453.95" cy="247.47" r="1.05"/>
<circle cx="454.16" cy="248.75" r="1.05"/>
<circle cx="454.37" cy="249.97" r="1.05"/>
<circle cx="454.58" cy="251.14" r="1.05"/>
<circle cx="454.79" cy="252.25" r="1.05"/>
<circle cx="455" cy="253.3" r="1.05"/>
<circle cx="455.21" cy="254.29" r="1.05"/>
<circle cx="455.42" cy="255.21" r="1.05"/>
<circle cx="455.63" cy="256.07" r="1.05"/>
<circle cx="455.84" cy="256.86" r="1.05"/>
<circle cx="456.05" cy="257.59" r="1.05"/>
<circle cx="456.26" cy="258.26" r="1.05"/>
<circle cx="456.47" cy="258.86" r="1.05"/>
<circle cx="456.68" cy="259.39" r="1.05"/>
<circle cx="456.89" cy="259.87" r="1.05"/>
<circle cx="457.1" cy="260.28" r="1.05"/>
<circle cx="457.31" cy="260.64" r="1.05"/>
<circle cx="457.52" cy="260.94" r="1.05"/>
<circle cx="457.73" cy="261.18" r="1.05"/>
<circle cx="457.94" cy="261.38" r="1.05"/>
<circle cx="458.15" cy="261.53" r="1.05"/>
<circle cx="458.36" cy="261.64" r="1.05"/>
<circle cx="458.57" cy="261.71" r="1.05"/>
<circle cx="458.78" cy="261.75" r="1.05"/>
<circle cx="458.99" cy="261.75" r="1.05"/>
<circle cx="459.2" cy="261.73" r="1.05"/>
<circle cx="459.41" cy="261.69" r="1.05"/>
<circle cx="459.62" cy="261.63" r="1.05"/>
<circle cx="459.83" cy="261.55" r="1.05"/>
<circle cx="460.04" cy="261.47" r="1.05"/>
<circle cx="460.25" cy="261.38" r="1.05"/>
<circle cx="460.46" cy="261.29" r="1.05"/>
<circle cx="460.67" cy="261.21" r="1.05"/>
<circle cx="460.88" cy="261.13" r="1.05"/>
<circle cx="461.09" cy="261.06" r="1.05"/>
<circle cx="461.3" cy="261" r="1.05"/>
<circle cx="461.51" cy="260.95" r="1.05"/>
<circle cx="461.72" cy="260.93" r="1.05"/>
<circle cx="461.93" cy="260.92" r="1.05"/>
<circle cx="462.14" cy="260.93" r="1.05"/>
<circle cx="462.35" cy="260.96" r="1.05"/>
<circle cx="462.56" cy="261.02" r="1.05"/>
<circle cx="462.77" cy="261.09" r="1.05"/>
<circle cx="462.98" cy="261.19" r="1.05"/>
<circle cx="463.19" cy="261.3" r="1.05"/>
<circle cx="463.4" cy="261.44" r="1.05"/>
<circle cx="463.61" cy="261.59" r="1.05"/>
<circle cx="463.82" cy="261.75" r="1.05"/>
<circle cx="464.03" cy="261.92" r="1.05"/>
<circle cx="464.24" cy="262.11" r="1.05"/>
<circle cx="464.45" cy="262.3" r="1.05"/>
<circle cx="464.66" cy="262.49" r="1.05"/>
<circle cx="464.87" cy="262.67" r="1.05"/>
<circle cx="465.08" cy="262.86" r="1.05"/>
<circle cx="465.29" cy="263.03" r="1.05"/>
<circle cx="465.5" cy="263.18" r="1.05"/>
<circle cx="465.71" cy="263.32" r="1.05"/>
<circle cx="465.92" cy="263.43" r="1.05"/>
<circle cx="466.13" cy="263.52" r="1.05"/>
<circle cx="466.34" cy="263.58" r="1.05"/>
<circle cx="466.55" cy="263.6" r="1.05"/>
<circle cx="466.76" cy="263.57" r="1.05"/>
<circle cx="466.97" cy="263.51" r="1.05"/>
<circle cx="467.18" cy="263.4" r="1.05"/>
<circle cx="467.39" cy="263.23" r="1.05"/>
<circle cx="467.6" cy="263.02" r="1.05"/>
<circle cx="467.81" cy="262.75" r="1.05"/>
<circle cx="468.02" cy="262.41" r="1.05"/>
<circle cx="468.23" cy="262.02" r="1.05"/>
<circle cx="468.44" cy="261.57" r="1.05"/>
<circle cx="468.65" cy="261.05" r="1.05"/>
<circle cx="468.86" cy="260.47" r="1.05"/>
<circle cx="469.07" cy="259.82" r="1.05"/>
<circle cx="469.28" cy="259.1" r="1.05"/>
<circle cx="469.49" cy="258.33" r="1.05"/>
<circle cx="469.7" cy="257.48" r="1.05"/>
<circle cx="469.91" cy="256.58" r="1.05"/>
<circle cx="470.12" cy="255.61" r="1.05"/>
<circle cx="470.33" cy="254.58" r="1.05"/>
<circle cx="470.54" cy="253.49" r="1.05"/>
<circle cx="470.75" cy="252.34" r="1.05"/>
<circle cx="470.96" cy="251.14" r="1.05"/>
<circle cx="471.17" cy="249.89" r="1.05"/>
<circle cx="471.38" cy="248.59" r="1.05"/>
<circle cx="471.59" cy="247.25" r="1.05"/>
<circle cx="471.8" cy="245.87" r="1.05"/>
<circle cx="472.01" cy="244.45" r="1.05"/>
<circle cx="472.22" cy="242.99" r="1.05"/>
<circle cx="472.43" cy="241.51" r="1.05"/>
<circle cx="472.64" cy="240" r="1.05"/>
<circle cx="472.85" cy="238.47" r="1.05"/>
<circle cx="473.06" cy="236.92" r="1.05"/>
<circle cx="473.27" cy="235.36" r="1.05"/>
<circle cx="473.48" cy="233.79" r="1.05"/>
<circle cx="473.69" cy="232.22" r="1.05"/>
<circle cx="473.9" cy="230.64" r="1.05"/>
<circle cx="474.11" cy="229.07" r="1.05"/>
<circle cx="474.32" cy="227.51" r="1.05"/>
<circle cx="474.53" cy="225.96" r="1.05"/>
<circle cx="474.74" cy="224.43" r="1.05"/>
<circle cx="474.95" cy="222.92" r="1.05"/>
<circle cx="475.16" cy="221.44" r="1.05"/>
<circle cx="475.37" cy="219.98" r="1.05"/>
<circle cx="475.58" cy="218.56" r="1.05"/>
<circle cx="475.79" cy="217.18" r="1.05"/>
<circle cx="476" cy="215.84" r="1.05"/>
<circle cx="476.21" cy="214.55" r="1.05"/>
<circle cx="476.42" cy="213.29" r="1.05"/>
<circle cx="476.63" cy="212.09" r="1.05"/>
<circle cx="476.84" cy="210.93" r="1.05"/>
<circle cx="477.05" cy="209.82" r="1.05"/>
<circle cx="477.26" cy="208.77" r="1.05"/>
<circle cx="477.47" cy="207.78" r="1.05"/>
<circle cx="477.68" cy="206.85" r="1.05"/>
<circle cx="477.89" cy="205.99" r="1.05"/>
<circle cx="478.1" cy="205.21" r="1.05"/>
<circle cx="478.31" cy="204.5" r="1.05"/>
<circle cx="478.52" cy="203.88" r="1.05"/>
<circle cx="478.73" cy="203.34" r="1.05"/>
<circle cx="478.94" cy="202.9" r="1.05"/>
<circle cx="479.15" cy="202.55" r="1.05"/>
<circle cx="479.36" cy="202.3" r="1.05"/>
<circle cx="479.57" cy="202.15" r="1.05"/>
<circle cx="479.78" cy="202.11" r="1.05"/>
<circle cx="479.99" cy="202.19" r="1.05"/>
<circle cx="480.2" cy="202.39" r="1.05"/>
<circle cx="480.41" cy="202.72" r="1.05"/>
<circle cx="480.62" cy="203.16" r="1.05"/>
<circle cx="480.83" cy="203.73" r="1.05"/>
<circle cx="481.04" cy="204.41" r="1.05"/>
<circle cx="481.25" cy="205.19" r="1.05"/>
<circle cx="481.46" cy="206.09" r="1.05"/>
<circle cx="481.67" cy="207.08" r="1.05"/>
<circle cx="481.88" cy="208.17" r="1.05"/>
<circle cx="482.09" cy="209.34" r="1.05"/>
<circle cx="482.3" cy="210.61" r="1.05"/>
<circle cx="482.51" cy="211.95" r="1.05"/>
<circle cx="482.72" cy="213.37" r="1.05"/>
<circle cx="482.93" cy="214.85" r="1.05"/>
<circle cx="483.14" cy="216.4" r="1.05"/>
<circle cx="483.35" cy="218" r="1.05"/>
<circle cx="483.56" cy="219.65" r="1.05"/>
<circle cx="483.77" cy="221.33" r="1.05"/>
<circle cx="483.98" cy="223.05" r="1.05"/>
<circle cx="484.19" cy="224.79" r="1.05"/>
<circle cx="484.4" cy="226.57" r="1.05"/>
<circle cx="484.61" cy="228.38" r="1.05"/>
<circle cx="484.82" cy="230.22" r="1.05"/>
<circle cx="485.03" cy="232.07" r="1.05"/>
<circle cx="485.24" cy="233.94" r="1.05"/>
<circle cx="485.45" cy="235.8" r="1.05"/>
<circle cx="485.66" cy="237.67" r="1.05"/>
<circle cx="485.87" cy="239.52" r="1.05"/>
<circle cx="486.08" cy="241.37" r="1.05"/>
<circle cx="486.29" cy="243.19" r="1.05"/>
<circle cx="486.5" cy="245" r="1.05"/>
<circle cx="486.71" cy="246.78" r="1.05"/>
<circle cx="486.92" cy="248.53" r="1.05"/>
<circle cx="487.13" cy="250.25" r="1.05"/>
<circle cx="487.34" cy="251.89" r="1.05"/>
<circle cx="487.55" cy="253.47" r="1.05"/>
<circle cx="487.76" cy="254.99" r="1.05"/>
<circle cx="487.97" cy="256.44" r="1.05"/>
<circle cx="488.18" cy="257.85" r="1.05"/>
<circle cx="488.39" cy="259.23" r="1.05"/>
<circle cx="488.6" cy="260.57" r="1.05"/>
<circle cx="488.81" cy="261.9" r="1.05"/>
<circle cx="489.02" cy="263.21" r="1.05"/>
<circle cx="489.23" cy="264.51" r="1.05"/>
<circle cx="489.44" cy="265.81" r="1.05"/>
<circle cx="489.65" cy="267.09" r="1.05"/>
<circle cx="489.86" cy="268.37" r="1.05"/>
<circle cx="490.07" cy="269.64" r="1.05"/>
<circle cx="490.28" cy="270.89" r="1.05"/>
<circle cx="490.49" cy="272.14" r="1.05"/>
<circle cx="490.7" cy="273.36" r="1.05"/>
<circle cx="490.91" cy="274.54" r="1.05"/>
<circle cx="491.12" cy="275.7" r="1.05"/>
<circle cx="491.33" cy="276.81" r="1.05"/>
<circle cx="491.54" cy="277.89" r="1.05"/>
<circle cx="491.75" cy="278.94" r="1.05"/>
<circle cx="491.96" cy="279.94" r="1.05"/>
<circle cx="492.17" cy="280.9" r="1.05"/>
<circle cx="492.38" cy="281.83" r="1.05"/>
<circle cx="492.59" cy="282.72" r="1.05"/>
<circle cx="492.8" cy="283.56" r="1.05"/>
<circle cx="493.01" cy="284.37" r="1.05"/>
<circle cx="493.22" cy="285.14" r="1.05"/>
<circle cx="493.43" cy="285.88" r="1.05"/>
<circle cx="493.64" cy="286.57" r="1.05"/>
<circle cx="493.85" cy="287.24" r="1.05"/>
<circle cx="494.06" cy="287.86" r="1.05"/>
<circle cx="494.27" cy="288.46" r="1.05"/>
<circle cx="494.48" cy="289.02" r="1.05"/>
<circle cx="494.69" cy="289.55" r="1.05"/>
<circle cx="494.9" cy="290.04" r="1.05"/>
<circle cx="495.11" cy="290.51" r="1.05"/>
<circle cx="495.32" cy="290.95" r="1.05"/>
<circle cx="495.53" cy="291.36" r="1.05"/>
<circle cx="495.74" cy="291.73" r="1.05"/>
<circle cx="495.95" cy="292.09" r="1.05"/>
<circle cx="496.16" cy="292.44" r="1.05"/>
<circle cx="496.37" cy="292.77" r="1.05"/>
<circle cx="496.58" cy="293.1" r="1.05"/>
<circle cx="496.79" cy="293.43" r="1.05"/>
<circle cx="497" cy="293.76" r="1.05"/>
<circle cx="497.21" cy="294.07" r="1.05"/>
<circle cx="497.42" cy="294.37" r="1.05"/>
<circle cx="497.63" cy="294.63" r="1.05"/>
<circle cx="497.84" cy="294.85" r="1.05"/>
<circle cx="498.05" cy="295.04" r="1.05"/>
<circle cx="498.26" cy="295.2" r="1.05"/>
<circle cx="498.47" cy="295.34" r="1.05"/>
<circle cx="498.68" cy="295.46" r="1.05"/>
<circle cx="498.89" cy="295.57" r="1.05"/>
<circle cx="499.1" cy="295.66" r="1.05"/>
<circle cx="499.31" cy="295.74" r="1.05"/>
<circle cx="499.52" cy="295.81" r="1.05"/>
<circle cx="499.73" cy="295.87" r="1.05"/>
<circle cx="499.94" cy="295.93" r="1.05"/>
<circle cx="500.15" cy="295.99" r="1.05"/>
<circle cx="500.36" cy="296.05" r="1.05"/>
<circle cx="500.57" cy="296.1" r="1.05"/>
<circle cx="500.78" cy="296.17" r="1.05"/>
<circle cx="500.99" cy="296.23" r="1.05"/>
<circle cx="501.21" cy="296.3" r="1.05"/>
<circle cx="501.42" cy="296.36" r="1.05"/>
<circle cx="501.63" cy="296.42" r="1.05"/>
<circle cx="501.84" cy="296.47" r="1.05"/>
<circle cx="502.05" cy="296.53" r="1.05"/>
<circle cx="502.26" cy="296.59" r="1.05"/>
<circle cx="502.47" cy="296.65" r="1.05"/>
<circle cx="502.68" cy="296.72" r="1.05"/>
<circle cx="502.89" cy="296.8" r="1.05"/>
<circle cx="503.1" cy="296.89" r="1.05"/>
<circle cx="503.31" cy="296.99" r="1.05"/>
<circle cx="503.52" cy="297.1" r="1.05"/>
<circle cx="503.73" cy="297.22" r="1.05"/>
<circle cx="503.94" cy="297.36" r="1.05"/>
<circle cx="504.15" cy="297.52" r="1.05"/>
<circle cx="504.36" cy="297.69" r="1.05"/>
<circle cx="504.57" cy="297.87" r="1.05"/>
<circle cx="504.78" cy="298.07" r="1.05"/>
<circle cx="504.99" cy="298.28" r="1.05"/>
<circle cx="505.2" cy="298.5" r="1.05"/>
<circle cx="505.41" cy="298.72" r="1.05"/>
<circle cx="505.62" cy="298.95" r="1.05"/>
<circle cx="505.83" cy="299.18" r="1.05"/>
<circle cx="506.04" cy="299.41" r="1.05"/>
<circle cx="506.25" cy="299.65" r="1.05"/>
<circle cx="506.46" cy="299.88" r="1.05"/>
<circle cx="506.67" cy="300.11" r="1.05"/>
<circle cx="506.88" cy="300.34" r="1.05"/>
<circle cx="507.09" cy="300.57" r="1.05"/>
<circle cx="507.3" cy="300.78" r="1.05"/>
<circle cx="507.51" cy="301" r="1.05"/>
<circle cx="507.72" cy="301.21" r="1.05"/>
<circle cx="507.93" cy="301.43" r="1.05"/>
<circle cx="508.14" cy="301.66" r="1.05"/>
<circle cx="508.35" cy="301.9" r="1.05"/>
<circle cx="508.56" cy="302.14" r="1.05"/>
<circle cx="508.77" cy="302.38" r="1.05"/>
<circle cx="508.98" cy="302.62" r="1.05"/>
<circle cx="509.19" cy="302.85" r="1.05"/>
<circle cx="509.4" cy="303.08" r="1.05"/>
<circle cx="509.61" cy="303.29" r="1.05"/>
<circle cx="509.82" cy="303.48" r="1.05"/>
<circle cx="510.03" cy="303.67" r="1.05"/>
<circle cx="510.24" cy="303.83" r="1.05"/>
<circle cx="510.45" cy="303.98" r="1.05"/>
<circle cx="510.66" cy="304.11" r="1.05"/>
<circle cx="510.87" cy="304.23" r="1.05"/>
<circle cx="511.08" cy="304.33" r="1.05"/>
<circle cx="511.29" cy="304.42" r="1.05"/>
<circle cx="511.5" cy="304.49" r="1.05"/>
<circle cx="511.71" cy="304.56" r="1.05"/>
<circle cx="511.92" cy="304.61" r="1.05"/>
<circle cx="512.13" cy="304.66" r="1.05"/>
<circle cx="512.34" cy="304.7" r="1.05"/>
<circle cx="512.55" cy="304.74" r="1.05"/>
<circle cx="512.76" cy="304.77" r="1.05"/>
<circle cx="512.97" cy="304.79" r="1.05"/>
<circle cx="513.18" cy="304.81" r="1.05"/>
<circle cx="513.39" cy="304.83" r="1.05"/>
<circle cx="513.6" cy="304.85" r="1.05"/>
<circle cx="513.81" cy="304.86" r="1.05"/>
<circle cx="514.02" cy="304.88" r="1.05"/>
<circle cx="514.23" cy="304.89" r="1.05"/>
<circle cx="514.44" cy="304.9" r="1.05"/>
<circle cx="514.65" cy="304.91" r="1.05"/>
<circle cx="514.86" cy="304.92" r="1.05"/>
<circle cx="515.07" cy="304.93" r="1.05"/>
<circle cx="515.28" cy="304.94" r="1.05"/>
<circle cx="515.49" cy="304.96" r="1.05"/>
<circle cx="515.7" cy="304.97" r="1.05"/>
<circle cx="515.91" cy="304.99" r="1.05"/>
<circle cx="516.12" cy="305.01" r="1.05"/>
<circle cx="516.33" cy="305.04" r="1.05"/>
<circle cx="516.54" cy="305.06" r="1.05"/>
<circle cx="516.75" cy="305.08" r="1.05"/>
<circle cx="516.96" cy="305.11" r="1.05"/>
<circle cx="517.17" cy="305.13" r="1.05"/>
<circle cx="517.38" cy="305.16" r="1.05"/>
<circle cx="517.59" cy="305.18" r="1.05"/>
<circle cx="517.8" cy="305.2" r="1.05"/>
<circle cx="518.01" cy="305.22" r="1.05"/>
<circle cx="518.22" cy="305.24" r="1.05"/>
<circle cx="518.43" cy="305.26" r="1.05"/>
<circle cx="518.64" cy="305.28" r="1.05"/>
<circle cx="518.85" cy="305.3" r="1.05"/>
<circle cx="519.06" cy="305.31" r="1.05"/>
<circle cx="519.27" cy="305.32" r="1.05"/>
<circle cx="519.48" cy="305.33" r="1.05"/>
<circle cx="519.69" cy="305.33" r="1.05"/>
<circle cx="519.9" cy="305.33" r="1.05"/>
<circle cx="520.11" cy="305.32" r="1.05"/>
<circle cx="520.32" cy="305.31" r="1.05"/>
<circle cx="520.53" cy="305.3" r="1.05"/>
<circle cx="520.74" cy="305.27" r="1.05"/>
<circle cx="520.95" cy="305.24" r="1.05"/>
<circle cx="521.16" cy="305.2" r="1.05"/>
<circle cx="521.37" cy="305.16" r="1.05"/>
<circle cx="521.58" cy="305.11" r="1.05"/>
<circle cx="521.79" cy="305.05" r="1.05"/>
<circle cx="522" cy="304.98" r="1.05"/>
<circle cx="522.21" cy="304.91" r="1.05"/>
<circle cx="522.42" cy="304.84" r="1.05"/>
<circle cx="522.63" cy="304.77" r="1.05"/>
<circle cx="522.84" cy="304.69" r="1.05"/>
<circle cx="523.05" cy="304.62" r="1.05"/>
<circle cx="523.26" cy="304.54" r="1.05"/>
<circle cx="523.47" cy="304.47" r="1.05"/>
<circle cx="523.68" cy="304.4" r="1.05"/>
<circle cx="523.89" cy="304.33" r="1.05"/>
<circle cx="524.1" cy="304.27" r="1.05"/>
<circle cx="524.31" cy="304.2" r="1.05"/>
<circle cx="524.52" cy="304.13" r="1.05"/>
<circle cx="524.73" cy="304.05" r="1.05"/>
<circle cx="524.94" cy="303.96" r="1.05"/>
<circle cx="525.15" cy="303.87" r="1.05"/>
<circle cx="525.36" cy="303.79" r="1.05"/>
<circle cx="525.57" cy="303.71" r="1.05"/>
<circle cx="525.78" cy="303.64" r="1.05"/>
<circle cx="525.99" cy="303.58" r="1.05"/>
<circle cx="526.2" cy="303.53" r="1.05"/>
<circle cx="526.41" cy="303.5" r="1.05"/>
<circle cx="526.62" cy="303.49" r="1.05"/>
<circle cx="526.83" cy="303.49" r="1.05"/>
<circle cx="527.04" cy="303.51" r="1.05"/>
<circle cx="527.25" cy="303.54" r="1.05"/>
<circle cx="527.46" cy="303.58" r="1.05"/>
<circle cx="527.67" cy="303.63" r="1.05"/>
<circle cx="527.88" cy="303.7" r="1.05"/>
<circle cx="528.09" cy="303.77" r="1.05"/>
<circle cx="528.3" cy="303.85" r="1.05"/>
<circle cx="528.51" cy="303.93" r="1.05"/>
<circle cx="528.72" cy="304.02" r="1.05"/>
<circle cx="528.93" cy="304.11" r="1.05"/>
<circle cx="529.14" cy="304.21" r="1.05"/>
<circle cx="529.35" cy="304.3" r="1.05"/>
<circle cx="529.56" cy="304.4" r="1.05"/>
<circle cx="529.77" cy="304.49" r="1.05"/>
<circle cx="529.98" cy="304.59" r="1.05"/>
<circle cx="530.19" cy="304.68" r="1.05"/>
<circle cx="530.4" cy="304.77" r="1.05"/>
<circle cx="530.61" cy="304.85" r="1.05"/>
<circle cx="530.82" cy="304.93" r="1.05"/>
<circle cx="531.03" cy="305.01" r="1.05"/>
<circle cx="531.24" cy="305.09" r="1.05"/>
<circle cx="531.45" cy="305.16" r="1.05"/>
<circle cx="531.66" cy="305.24" r="1.05"/>
<circle cx="531.87" cy="305.31" r="1.05"/>
<circle cx="532.08" cy="305.39" r="1.05"/>
<circle cx="532.29" cy="305.46" r="1.05"/>
<circle cx="532.5" cy="305.53" r="1.05"/>
<circle cx="532.71" cy="305.61" r="1.05"/>
<circle cx="532.92" cy="305.68" r="1.05"/>
<circle cx="533.13" cy="305.76" r="1.05"/>
<circle cx="533.34" cy="305.83" r="1.05"/>
<circle cx="533.55" cy="305.9" r="1.05"/>
<circle cx="533.76" cy="305.98" r="1.05"/>
<circle cx="533.97" cy="306.05" r="1.05"/>
<circle cx="534.18" cy="306.12" r="1.05"/>
<circle cx="534.39" cy="306.19" r="1.05"/>
<circle cx="534.6" cy="306.27" r="1.05"/>
<circle cx="534.81" cy="306.34" r="1.05"/>
<circle cx="535.02" cy="306.41" r="1.05"/>
<circle cx="535.23" cy="306.48" r="1.05"/>
<circle cx="535.44" cy="306.55" r="1.05"/>
<circle cx="535.65" cy="306.62" r="1.05"/>
<circle cx="535.86" cy="306.69" r="1.05"/>
<circle cx="536.07" cy="306.75" r="1.05"/>
<circle cx="536.28" cy="306.81" r="1.05"/>
<circle cx="536.49" cy="306.86" r="1.05"/>
<circle cx="536.7" cy="306.9" r="1.05"/>
</g>
<path d="M418.22 303.5L418.22 303.46L418.51 303.45L418.79 303.44L419.08 303.43L419.36 303.42L419.65 303.4L419.93 303.39L420.22 303.37L420.5 303.35L420.79 303.32L421.07 303.3L421.36 303.26L421.64 303.23L421.93 303.19L422.21 303.14L422.5 303.09L422.78 303.03L423.06 302.96L423.35 302.88L423.63 302.79L423.92 302.7L424.2 302.59L424.49 302.46L424.77 302.33L425.06 302.17L425.34 302L425.63 301.81L425.91 301.6L426.2 301.37L426.48 301.11L426.77 300.83L427.05 300.52L427.34 300.18L427.62 299.8L427.91 299.39L428.19 298.94L428.48 298.45L428.76 297.91L429.05 297.33L429.33 296.71L429.62 296.03L429.9 295.29L430.18 294.5L430.47 293.66L430.75 292.75L431.04 291.77L431.32 290.73L431.61 289.62L431.89 288.44L432.18 287.19L432.46 285.86L432.75 284.45L433.03 282.97L433.32 281.42L433.6 279.78L433.89 278.07L434.17 276.28L434.46 274.41L434.74 272.47L435.03 270.46L435.31 268.37L435.6 266.22L435.88 264L436.17 261.72L436.45 259.39L436.74 257L437.02 254.57L437.3 252.1L437.59 249.59L437.87 247.06L438.16 244.51L438.44 241.96L438.73 239.4L439.01 236.84L439.3 234.31L439.58 231.79L439.87 229.32L440.15 226.89L440.44 224.51L440.72 222.2L441.01 219.97L441.29 217.81L441.58 215.76L441.86 213.8L442.15 211.96L442.43 210.24L442.72 208.65L443 207.2L443.29 205.89L443.57 204.73L443.86 203.73L444.14 202.89L444.42 202.22L444.71 201.71L444.99 201.38L445.28 201.22L445.56 201.23L445.85 201.4L446.13 201.73L446.42 202.22L446.7 202.86L446.99 203.66L447.27 204.6L447.56 205.69L447.84 206.92L448.13 208.28L448.41 209.77L448.7 211.38L448.98 213.11L449.27 214.94L449.55 216.87L449.84 218.88L450.12 220.99L450.41 223.16L450.69 225.4L450.98 227.7L451.26 230.04L451.54 232.43L451.83 234.84L452.11 237.27L452.4 239.72L452.68 242.18L452.97 244.63L453.25 247.07L453.54 249.49L453.82 251.9L454.11 254.27L454.39 256.61L454.68 258.9L454.96 261.15L455.25 263.35L455.53 265.49L455.82 267.58L456.1 269.6L456.39 271.56L456.67 273.46L456.96 275.28L457.24 277.04L457.53 278.73L457.81 280.34L458.1 281.88L458.38 283.36L458.66 284.76L458.95 286.09L459.23 287.35L459.52 288.54L459.8 289.67L460.09 290.73L460.37 291.73L460.66 292.67L460.94 293.55L461.23 294.37L461.51 295.14L461.8 295.85L462.08 296.52L462.37 297.13L462.65 297.7L462.94 298.23L463.22 298.72L463.51 299.17L463.79 299.58L464.08 299.96L464.36 300.31L464.65 300.63L464.93 300.92L465.22 301.18L465.5 301.42L465.78 301.64L466.07 301.84L466.35 302.02L466.64 302.18L466.92 302.33L467.21 302.46L467.49 302.58L467.78 302.68L468.06 302.78L468.35 302.86L468.63 302.94L468.92 303.01L469.2 303.07L469.49 303.12L469.77 303.17L470.06 303.21L470.34 303.25L470.63 303.28L470.91 303.31L471.2 303.33L471.48 303.36L471.77 303.37L472.05 303.39L472.34 303.41L472.62 303.42L472.9 303.43L473.19 303.44L473.47 303.45L473.76 303.46L473.76 303.5Z" fill="#fa6161" fill-opacity="1"/>
<path d="M451.26 303.5L451.26 303.46L451.54 303.45L451.83 303.44L452.11 303.43L452.4 303.42L452.68 303.41L452.97 303.4L453.25 303.38L453.54 303.36L453.82 303.34L454.11 303.32L454.39 303.29L454.68 303.26L454.96 303.23L455.25 303.19L455.53 303.14L455.82 303.09L456.1 303.03L456.39 302.97L456.67 302.9L456.96 302.82L457.24 302.73L457.53 302.63L457.81 302.51L458.1 302.39L458.38 302.25L458.66 302.1L458.95 301.93L459.23 301.74L459.52 301.53L459.8 301.3L460.09 301.05L460.37 300.77L460.66 300.47L460.94 300.13L461.23 299.77L461.51 299.38L461.8 298.95L462.08 298.48L462.37 297.97L462.65 297.43L462.94 296.84L463.22 296.2L463.51 295.51L463.79 294.78L464.08 293.99L464.36 293.14L464.65 292.24L464.93 291.28L465.22 290.26L465.5 289.17L465.78 288.02L466.07 286.8L466.35 285.52L466.64 284.17L466.92 282.74L467.21 281.25L467.49 279.69L467.78 278.06L468.06 276.36L468.35 274.59L468.63 272.75L468.92 270.85L469.2 268.89L469.49 266.86L469.77 264.77L470.06 262.64L470.34 260.45L470.63 258.21L470.91 255.93L471.2 253.62L471.48 251.27L471.77 248.9L472.05 246.52L472.34 244.12L472.62 241.71L472.9 239.31L473.19 236.92L473.47 234.55L473.76 232.21L474.04 229.9L474.33 227.64L474.61 225.43L474.9 223.28L475.18 221.2L475.47 219.2L475.75 217.28L476.04 215.46L476.32 213.74L476.61 212.13L476.89 210.64L477.18 209.27L477.46 208.03L477.75 206.92L478.03 205.96L478.32 205.13L478.6 204.46L478.89 203.94L479.17 203.57L479.46 203.36L479.74 203.3L480.02 203.43L480.31 203.74L480.59 204.24L480.88 204.94L481.16 205.81L481.45 206.86L481.73 208.09L482.02 209.48L482.3 211.02L482.59 212.72L482.87 214.55L483.16 216.52L483.44 218.6L483.73 220.8L484.01 223.09L484.3 225.47L484.58 227.92L484.87 230.44L485.15 233.01L485.44 235.62L485.72 238.25L486.01 240.91L486.29 243.57L486.58 246.23L486.86 248.88L487.14 251.5L487.43 254.09L487.71 256.65L488 259.15L488.28 261.61L488.57 264L488.85 266.33L489.14 268.58L489.42 270.77L489.71 272.87L489.99 274.9L490.28 276.84L490.56 278.7L490.85 280.47L491.13 282.16L491.42 283.76L491.7 285.28L491.99 286.71L492.27 288.06L492.56 289.33L492.84 290.52L493.13 291.63L493.41 292.67L493.7 293.63L493.98 294.53L494.26 295.36L494.55 296.13L494.83 296.84L495.12 297.49L495.4 298.09L495.69 298.64L495.97 299.14L496.26 299.59L496.54 300.01L496.83 300.39L497.11 300.73L497.4 301.04L497.68 301.32L497.97 301.57L498.25 301.79L498.54 302L498.82 302.18L499.11 302.34L499.39 302.48L499.68 302.61L499.96 302.72L500.25 302.82L500.53 302.91L500.82 302.99L501.1 303.06L501.38 303.12L501.67 303.17L501.95 303.21L502.24 303.25L502.52 303.29L502.81 303.32L503.09 303.35L503.38 303.37L503.66 303.39L503.95 303.4L504.23 303.42L504.52 303.43L504.8 303.44L505.09 303.45L505.37 303.46L505.37 303.5Z" fill="#53d6b7" fill-opacity="1"/>
<path d="M394.3 303.5L394.3 303.05L394.58 303.02L394.87 302.99L395.15 302.96L395.44 302.93L395.72 302.89L396.01 302.86L396.29 302.82L396.58 302.78L396.86 302.74L397.15 302.69L397.43 302.64L397.72 302.59L398 302.54L398.29 302.49L398.57 302.43L398.86 302.37L399.14 302.31L399.43 302.25L399.71 302.18L400 302.11L400.28 302.04L400.57 301.96L400.85 301.88L401.14 301.8L401.42 301.72L401.7 301.63L401.99 301.54L402.27 301.44L402.56 301.34L402.84 301.24L403.13 301.13L403.41 301.02L403.7 300.91L403.98 300.79L404.27 300.67L404.55 300.54L404.84 300.41L405.12 300.28L405.41 300.14L405.69 300L405.98 299.86L406.26 299.71L406.55 299.55L406.83 299.39L407.12 299.23L407.4 299.07L407.69 298.9L407.97 298.72L408.26 298.54L408.54 298.36L408.82 298.18L409.11 297.99L409.39 297.79L409.68 297.59L409.96 297.39L410.25 297.19L410.53 296.98L410.82 296.77L411.1 296.55L411.39 296.34L411.67 296.11L411.96 295.89L412.24 295.66L412.53 295.44L412.81 295.2L413.1 294.97L413.38 294.73L413.67 294.5L413.95 294.26L414.24 294.02L414.52 293.77L414.81 293.53L415.09 293.29L415.38 293.04L415.66 292.8L415.94 292.55L416.23 292.31L416.51 292.07L416.8 291.82L417.08 291.58L417.37 291.34L417.65 291.1L417.94 290.86L418.22 290.63L418.51 290.4L418.79 290.17L419.08 289.94L419.36 289.71L419.65 289.49L419.93 289.28L420.22 289.07L420.5 288.86L420.79 288.65L421.07 288.46L421.36 288.26L421.64 288.08L421.93 287.9L422.21 287.72L422.5 287.55L422.78 287.39L423.06 287.23L423.35 287.08L423.63 286.94L423.92 286.81L424.2 286.68L424.49 286.56L424.77 286.45L425.06 286.35L425.34 286.26L425.63 286.17L425.91 286.09L426.2 286.03L426.48 285.97L426.77 285.92L427.05 285.87L427.34 285.84L427.62 285.82L427.91 285.8L428.19 285.8L428.48 285.81L428.76 285.83L429.05 285.86L429.33 285.9L429.62 285.96L429.9 286.03L430.18 286.11L430.47 286.21L430.75 286.32L431.04 286.44L431.32 286.57L431.61 286.71L431.89 286.86L432.18 287.03L432.46 287.2L432.75 287.38L433.03 287.58L433.32 287.78L433.6 287.99L433.89 288.21L434.17 288.44L434.46 288.68L434.74 288.92L435.03 289.17L435.31 289.43L435.6 289.69L435.88 289.96L436.17 290.23L436.45 290.5L436.74 290.78L437.02 291.06L437.3 291.35L437.59 291.63L437.87 291.92L438.16 292.21L438.44 292.5L438.73 292.79L439.01 293.08L439.3 293.38L439.58 293.67L439.87 293.95L440.15 294.24L440.44 294.53L440.72 294.81L441.01 295.09L441.29 295.36L441.58 295.64L441.86 295.91L442.15 296.17L442.43 296.44L442.72 296.69L443 296.95L443.29 297.19L443.57 297.44L443.86 297.68L444.14 297.91L444.42 298.14L444.71 298.36L444.99 298.57L445.28 298.79L445.56 298.99L445.85 299.19L446.13 299.38L446.42 299.57L446.7 299.75L446.99 299.93L447.27 300.1L447.56 300.26L447.84 300.42L448.13 300.58L448.41 300.72L448.7 300.87L448.98 301L449.27 301.13L449.55 301.26L449.84 301.38L450.12 301.5L450.41 301.61L450.69 301.71L450.98 301.82L451.26 301.91L451.54 302.01L451.83 302.09L452.11 302.18L452.4 302.26L452.68 302.33L452.97 302.4L453.25 302.47L453.54 302.54L453.82 302.6L454.11 302.66L454.39 302.71L454.68 302.76L454.96 302.81L455.25 302.86L455.53 302.9L455.82 302.94L456.1 302.98L456.39 303.02L456.67 303.05L456.96 303.08L457.24 303.11L457.53 303.14L457.81 303.17L458.1 303.19L458.38 303.22L458.66 303.24L458.95 303.26L459.23 303.28L459.52 303.29L459.8 303.31L460.09 303.32L460.37 303.34L460.66 303.35L460.94 303.36L461.23 303.37L461.51 303.38L461.8 303.39L462.08 303.4L462.37 303.41L462.65 303.42L462.94 303.43L463.22 303.43L463.51 303.44L463.79 303.44L464.08 303.45L464.36 303.45L464.65 303.46L464.65 303.5Z" fill="#ff8a3a" fill-opacity="0.85"/>
<path d="M446.13 303.5L446.13 303.45L446.42 303.44L446.7 303.43L446.99 303.41L447.27 303.39L447.56 303.36L447.84 303.33L448.13 303.29L448.41 303.25L448.7 303.19L448.98 303.13L449.27 303.05L449.55 302.96L449.84 302.86L450.12 302.74L450.41 302.59L450.69 302.43L450.98 302.24L451.26 302.02L451.54 301.78L451.83 301.5L452.11 301.18L452.4 300.83L452.68 300.43L452.97 299.99L453.25 299.49L453.54 298.95L453.82 298.36L454.11 297.71L454.39 297.01L454.68 296.25L454.96 295.44L455.25 294.57L455.53 293.64L455.82 292.66L456.1 291.63L456.39 290.56L456.67 289.45L456.96 288.3L457.24 287.12L457.53 285.92L457.81 284.72L458.1 283.5L458.38 282.3L458.66 281.11L458.95 279.95L459.23 278.83L459.52 277.75L459.8 276.74L460.09 275.8L460.37 274.95L460.66 274.18L460.94 273.51L461.23 272.95L461.51 272.51L461.8 272.18L462.08 271.98L462.37 271.9L462.65 271.95L462.94 272.12L463.22 272.42L463.51 272.84L463.79 273.37L464.08 274.02L464.36 274.76L464.65 275.6L464.93 276.52L465.22 277.52L465.5 278.57L465.78 279.69L466.07 280.84L466.35 282.02L466.64 283.22L466.92 284.44L467.21 285.65L467.49 286.85L467.78 288.03L468.06 289.19L468.35 290.31L468.63 291.39L468.92 292.43L469.2 293.42L469.49 294.36L469.77 295.24L470.06 296.07L470.34 296.84L470.63 297.56L470.91 298.22L471.2 298.82L471.48 299.37L471.77 299.88L472.05 300.33L472.34 300.74L472.62 301.1L472.9 301.43L473.19 301.72L473.47 301.97L473.76 302.19L474.04 302.39L474.33 302.56L474.61 302.71L474.9 302.83L475.18 302.94L475.47 303.03L475.75 303.11L476.04 303.18L476.32 303.24L476.61 303.28L476.89 303.32L477.18 303.36L477.46 303.38L477.75 303.41L478.03 303.42L478.32 303.44L478.6 303.45L478.6 303.5Z" fill="#62abf6" fill-opacity="0.8"/>
<path d="M394.3 304.05L394.58 304.02L394.87 303.99L395.15 303.96L395.44 303.93L395.72 303.89L396.01 303.86L396.29 303.82L396.58 303.78L396.86 303.74L397.15 303.69L397.43 303.64L397.72 303.59L398 303.54L398.29 303.49L398.57 303.43L398.86 303.37L399.14 303.31L399.43 303.25L399.71 303.18L400 303.11L400.28 303.04L400.57 302.96L400.85 302.88L401.14 302.8L401.42 302.72L401.7 302.63L401.99 302.54L402.27 302.44L402.56 302.34L402.84 302.24L403.13 302.13L403.41 302.02L403.7 301.91L403.98 301.79L404.27 301.67L404.55 301.54L404.84 301.41L405.12 301.28L405.41 301.14L405.69 301L405.98 300.86L406.26 300.71L406.55 300.55L406.83 300.39L407.12 300.23L407.4 300.07L407.69 299.9L407.97 299.72L408.26 299.54L408.54 299.36L408.82 299.18L409.11 298.99L409.39 298.79L409.68 298.59L409.96 298.39L410.25 298.19L410.53 297.98L410.82 297.77L411.1 297.55L411.39 297.34L411.67 297.11L411.96 296.89L412.24 296.66L412.53 296.43L412.81 296.2L413.1 295.97L413.38 295.73L413.67 295.49L413.95 295.25L414.24 295.01L414.52 294.77L414.81 294.53L415.09 294.28L415.38 294.04L415.66 293.79L415.94 293.54L416.23 293.3L416.51 293.05L416.8 292.8L417.08 292.56L417.37 292.31L417.65 292.07L417.94 291.83L418.22 291.58L418.51 291.34L418.79 291.1L419.08 290.87L419.36 290.63L419.65 290.4L419.93 290.17L420.22 289.93L420.5 289.71L420.79 289.48L421.07 289.25L421.36 289.03L421.64 288.8L421.93 288.58L422.21 288.36L422.5 288.14L422.78 287.91L423.06 287.69L423.35 287.46L423.63 287.24L423.92 287L424.2 286.77L424.49 286.53L424.77 286.28L425.06 286.02L425.34 285.76L425.63 285.48L425.91 285.2L426.2 284.9L426.48 284.58L426.77 284.25L427.05 283.89L427.34 283.52L427.62 283.12L427.91 282.69L428.19 282.24L428.48 281.75L428.76 281.24L429.05 280.69L429.33 280.11L429.62 279.49L429.9 278.82L430.18 278.12L430.47 277.36L430.75 276.56L431.04 275.71L431.32 274.8L431.61 273.83L431.89 272.8L432.18 271.71L432.46 270.56L432.75 269.34L433.03 268.05L433.32 266.7L433.6 265.28L433.89 263.78L434.17 262.22L434.46 260.59L434.74 258.89L435.03 257.13L435.31 255.3L435.6 253.41L435.88 251.46L436.17 249.45L436.45 247.39L436.74 245.28L437.02 243.13L437.3 240.94L437.59 238.73L437.87 236.48L438.16 234.23L438.44 231.96L438.73 229.69L439.01 227.43L439.3 225.18L439.58 222.96L439.87 220.77L440.15 218.63L440.44 216.54L440.72 214.51L441.01 212.55L441.29 210.68L441.58 208.89L441.86 207.21L442.15 205.64L442.43 204.18L442.72 202.84L443 201.64L443.29 200.58L443.57 199.67L443.86 198.9L444.14 198.29L444.42 197.84L444.71 197.55L444.99 197.43L445.28 197.48L445.56 197.69L445.85 198.05L446.13 198.57L446.42 199.23L446.7 200.04L446.99 200.99L447.27 202.09L447.56 203.31L447.84 204.67L448.13 206.15L448.41 207.74L448.7 209.43L448.98 211.23L449.27 213.11L449.55 215.07L449.84 217.11L450.12 219.2L450.41 221.34L450.69 223.52L450.98 225.72L451.26 227.94L451.54 230.16L451.83 232.37L452.11 234.57L452.4 236.73L452.68 238.85L452.97 240.92L453.25 242.92L453.54 244.85L453.82 246.7L454.11 248.46L454.39 250.12L454.68 251.68L454.96 253.13L455.25 254.46L455.53 255.68L455.82 256.77L456.1 257.75L456.39 258.61L456.67 259.36L456.96 259.98L457.24 260.5L457.53 260.92L457.81 261.24L458.1 261.47L458.38 261.62L458.66 261.7L458.95 261.72L459.23 261.69L459.52 261.62L459.8 261.52L460.09 261.41L460.37 261.29L460.66 261.17L460.94 261.06L461.23 260.97L461.51 260.91L461.8 260.87L462.08 260.88L462.37 260.92L462.65 261L462.94 261.12L463.22 261.27L463.51 261.46L463.79 261.68L464.08 261.91L464.36 262.17L464.65 262.42L464.93 262.68L465.22 262.92L465.5 263.14L465.78 263.32L466.07 263.45L466.35 263.53L466.64 263.55L466.92 263.49L467.21 263.34L467.49 263.1L467.78 262.76L468.06 262.31L468.35 261.75L468.63 261.07L468.92 260.28L469.2 259.36L469.49 258.33L469.77 257.18L470.06 255.91L470.34 254.53L470.63 253.04L470.91 251.45L471.2 249.77L471.48 248L471.77 246.15L472.05 244.23L472.34 242.26L472.62 240.23L472.9 238.17L473.19 236.08L473.47 233.97L473.76 231.86L474.04 229.75L474.33 227.66L474.61 225.6L474.9 223.59L475.18 221.62L475.47 219.71L475.75 217.88L476.04 216.13L476.32 214.47L476.61 212.91L476.89 211.45L477.18 210.12L477.46 208.91L477.75 207.82L478.03 206.88L478.32 206.07L478.6 205.41L478.89 204.9L479.17 204.54L479.46 204.33L479.74 204.28L480.02 204.41L480.31 204.73L480.59 205.23L480.88 205.93L481.16 206.8L481.45 207.86L481.73 209.08L482.02 210.47L482.3 212.02L482.59 213.72L482.87 215.55L483.16 217.52L483.44 219.6L483.73 221.8L484.01 224.09L484.3 226.47L484.58 228.92L484.87 231.44L485.15 234.01L485.44 236.62L485.72 239.25L486.01 241.91L486.29 244.57L486.58 247.23L486.86 249.88L487.14 252.5L487.43 255.09L487.71 257.65L488 260.15L488.28 262.61L488.57 265L488.85 267.33L489.14 269.58L489.42 271.77L489.71 273.87L489.99 275.9L490.28 277.84L490.56 279.7L490.85 281.47L491.13 283.16L491.42 284.76L491.7 286.28L491.99 287.71L492.27 289.06L492.56 290.33L492.84 291.52L493.13 292.63L493.41 293.67L493.7 294.63L493.98 295.53L494.26 296.36L494.55 297.13L494.83 297.84L495.12 298.49L495.4 299.09L495.69 299.64L495.97 300.14L496.26 300.59L496.54 301.01L496.83 301.39L497.11 301.73L497.4 302.04L497.68 302.32L497.97 302.57L498.25 302.79L498.54 303L498.82 303.18L499.11 303.34L499.39 303.48L499.68 303.61L499.96 303.72L500.25 303.82L500.53 303.91L500.82 303.99L501.1 304.06L501.38 304.12L501.67 304.17L501.95 304.21L502.24 304.25L502.52 304.29L502.81 304.32L503.09 304.35L503.38 304.37L503.66 304.39L503.95 304.4L504.23 304.42L504.52 304.43L504.8 304.44L505.09 304.45L505.37 304.46L505.66 304.47L505.94 304.47L506.23 304.48L506.51 304.48L506.8 304.48L507.08 304.49L507.37 304.49L507.65 304.49L507.94 304.49L508.22 304.49L508.5 304.49L508.79 304.5L509.07 304.5L509.36 304.5L509.64 304.5L509.93 304.5L510.21 304.5L510.5 304.5L510.78 304.5L511.07 304.5L511.35 304.5L511.64 304.5L511.92 304.5L512.21 304.5L512.49 304.5L512.78 304.5L513.06 304.5L513.35 304.5L513.63 304.5L513.92 304.5L514.2 304.5L514.49 304.5L514.77 304.5L515.06 304.5L515.34 304.5L515.62 304.5L515.91 304.5L516.19 304.5L516.48 304.5L516.76 304.5L517.05 304.5L517.33 304.5L517.62 304.5L517.9 304.5L518.19 304.5L518.47 304.5L518.76 304.5L519.04 304.5L519.33 304.5L519.61 304.5L519.9 304.5L520.18 304.5L520.47 304.5L520.75 304.5L521.04 304.5L521.32 304.5L521.61 304.5L521.89 304.5L522.18 304.5L522.46 304.5L522.74 304.5L523.03 304.5L523.31 304.5L523.6 304.5L523.88 304.5L524.17 304.5L524.45 304.5L524.74 304.5L525.02 304.5L525.31 304.5L525.59 304.5L525.88 304.5L526.16 304.5L526.45 304.5L526.73 304.5L527.02 304.5L527.3 304.5L527.59 304.5L527.87 304.5L528.16 304.5L528.44 304.5L528.73 304.5L529.01 304.5L529.3 304.5L529.58 304.5L529.86 304.5L530.15 304.5L530.43 304.5L530.72 304.5L531 304.5L531.29 304.5L531.57 304.5L531.86 304.5L532.14 304.5L532.43 304.5L532.71 304.5L533 304.5L533.28 304.5L533.57 304.5L533.85 304.5L534.14 304.5L534.42 304.5L534.71 304.5L534.99 304.5L535.28 304.5L535.56 304.5L535.85 304.5L536.13 304.5L536.42 304.5L536.7 304.5" fill="none" stroke="#9057d8" stroke-width="1.05" stroke-linejoin="round"/>
</g>
<rect x="394.3" y="185.4" width="142.4" height="122.4" fill="none" stroke="#333" stroke-width="1"/>
<line x1="394.3" y1="307.8" x2="394.3" y2="309.8" stroke="#333" stroke-width="0.8"/>
<text class="tk" x="394.3" y="317.6">1000</text>
<line x1="408.54" y1="307.8" x2="408.54" y2="309" stroke="#333" stroke-width="0.8"/>
<line x1="422.78" y1="307.8" x2="422.78" y2="309.8" stroke="#333" stroke-width="0.8"/>
<text class="tk" x="422.78" y="317.6">1200</text>
<line x1="437.02" y1="307.8" x2="437.02" y2="309" stroke="#333" stroke-width="0.8"/>
<line x1="451.26" y1="307.8" x2="451.26" y2="309.8" stroke="#333" stroke-width="0.8"/>
<text class="tk" x="451.26" y="317.6">1400</text>
<line x1="465.5" y1="307.8" x2="465.5" y2="309" stroke="#333" stroke-width="0.8"/>
<line x1="479.74" y1="307.8" x2="479.74" y2="309.8" stroke="#333" stroke-width="0.8"/>
<text class="tk" x="479.74" y="317.6">1600</text>
<line x1="493.98" y1="307.8" x2="493.98" y2="309" stroke="#333" stroke-width="0.8"/>
<line x1="508.22" y1="307.8" x2="508.22" y2="309.8" stroke="#333" stroke-width="0.8"/>
<text class="tk" x="508.22" y="317.6">1800</text>
<line x1="522.46" y1="307.8" x2="522.46" y2="309" stroke="#333" stroke-width="0.8"/>
<line x1="536.7" y1="307.8" x2="536.7" y2="309.8" stroke="#333" stroke-width="0.8"/>
<text class="tk" x="536.7" y="317.6">2000</text>
<text class="ax" style="font-size:8.9px" x="465.5" y="329.6">Raman Shift (cm<tspan font-size="5.8" dy="-3">−1</tspan><tspan dy="3">)</tspan></text>
<text class="ax" style="font-size:8.95px" transform="translate(388.6 246.6) rotate(-90)">Intensity (a.u.)</text>
<text class="lb" x="403.8" y="198.8">P-CDs</text>
</g>
</svg>
</body></html>
